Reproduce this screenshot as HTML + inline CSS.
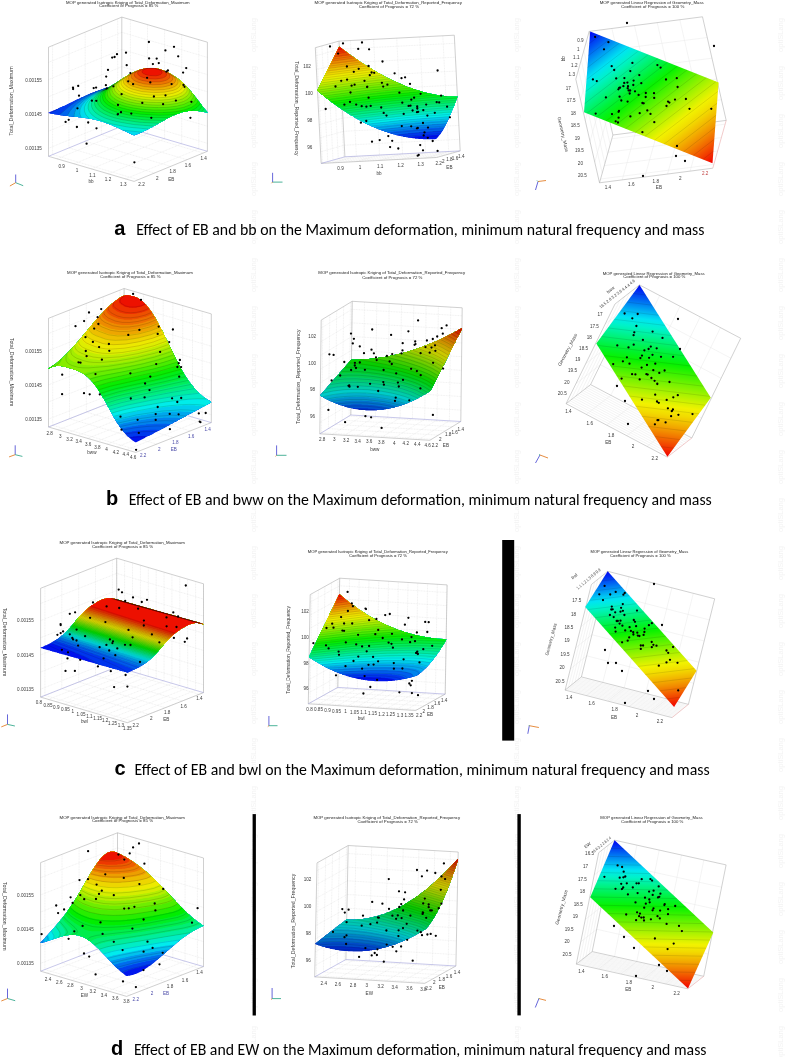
<!DOCTYPE html>
<html><head><meta charset="utf-8"><title>Effect of EB on maximum deformation, natural frequency and mass</title>
<style>html,body{margin:0;padding:0;background:#fff;}svg{display:block;}</style></head>
<body><svg width="785" height="1057" viewBox="0 0 785 1057" font-family='"Liberation Sans",Arial,sans-serif'>
<g fill="#f3f3f3" font-family='"Liberation Sans",sans-serif'><text x="256" y="35" transform="rotate(-90 256 35)" text-anchor="middle" font-size="8" textLength="34" lengthAdjust="spacingAndGlyphs">optiSLang</text><text x="256" y="83" transform="rotate(-90 256 83)" text-anchor="middle" font-size="8" textLength="34" lengthAdjust="spacingAndGlyphs">optiSLang</text><text x="256" y="131" transform="rotate(-90 256 131)" text-anchor="middle" font-size="8" textLength="34" lengthAdjust="spacingAndGlyphs">optiSLang</text><text x="256" y="179" transform="rotate(-90 256 179)" text-anchor="middle" font-size="8" textLength="34" lengthAdjust="spacingAndGlyphs">optiSLang</text><text x="256" y="227" transform="rotate(-90 256 227)" text-anchor="middle" font-size="8" textLength="34" lengthAdjust="spacingAndGlyphs">optiSLang</text><text x="256" y="275" transform="rotate(-90 256 275)" text-anchor="middle" font-size="8" textLength="34" lengthAdjust="spacingAndGlyphs">optiSLang</text><text x="256" y="323" transform="rotate(-90 256 323)" text-anchor="middle" font-size="8" textLength="34" lengthAdjust="spacingAndGlyphs">optiSLang</text><text x="256" y="371" transform="rotate(-90 256 371)" text-anchor="middle" font-size="8" textLength="34" lengthAdjust="spacingAndGlyphs">optiSLang</text><text x="256" y="419" transform="rotate(-90 256 419)" text-anchor="middle" font-size="8" textLength="34" lengthAdjust="spacingAndGlyphs">optiSLang</text><text x="256" y="467" transform="rotate(-90 256 467)" text-anchor="middle" font-size="8" textLength="34" lengthAdjust="spacingAndGlyphs">optiSLang</text><text x="256" y="515" transform="rotate(-90 256 515)" text-anchor="middle" font-size="8" textLength="34" lengthAdjust="spacingAndGlyphs">optiSLang</text><text x="256" y="563" transform="rotate(-90 256 563)" text-anchor="middle" font-size="8" textLength="34" lengthAdjust="spacingAndGlyphs">optiSLang</text><text x="256" y="611" transform="rotate(-90 256 611)" text-anchor="middle" font-size="8" textLength="34" lengthAdjust="spacingAndGlyphs">optiSLang</text><text x="256" y="659" transform="rotate(-90 256 659)" text-anchor="middle" font-size="8" textLength="34" lengthAdjust="spacingAndGlyphs">optiSLang</text><text x="256" y="707" transform="rotate(-90 256 707)" text-anchor="middle" font-size="8" textLength="34" lengthAdjust="spacingAndGlyphs">optiSLang</text><text x="256" y="755" transform="rotate(-90 256 755)" text-anchor="middle" font-size="8" textLength="34" lengthAdjust="spacingAndGlyphs">optiSLang</text><text x="256" y="803" transform="rotate(-90 256 803)" text-anchor="middle" font-size="8" textLength="34" lengthAdjust="spacingAndGlyphs">optiSLang</text><text x="256" y="851" transform="rotate(-90 256 851)" text-anchor="middle" font-size="8" textLength="34" lengthAdjust="spacingAndGlyphs">optiSLang</text><text x="256" y="899" transform="rotate(-90 256 899)" text-anchor="middle" font-size="8" textLength="34" lengthAdjust="spacingAndGlyphs">optiSLang</text><text x="256" y="947" transform="rotate(-90 256 947)" text-anchor="middle" font-size="8" textLength="34" lengthAdjust="spacingAndGlyphs">optiSLang</text><text x="256" y="995" transform="rotate(-90 256 995)" text-anchor="middle" font-size="8" textLength="34" lengthAdjust="spacingAndGlyphs">optiSLang</text><text x="256" y="1043" transform="rotate(-90 256 1043)" text-anchor="middle" font-size="8" textLength="34" lengthAdjust="spacingAndGlyphs">optiSLang</text><text x="519" y="35" transform="rotate(-90 519 35)" text-anchor="middle" font-size="8" textLength="34" lengthAdjust="spacingAndGlyphs">optiSLang</text><text x="519" y="83" transform="rotate(-90 519 83)" text-anchor="middle" font-size="8" textLength="34" lengthAdjust="spacingAndGlyphs">optiSLang</text><text x="519" y="131" transform="rotate(-90 519 131)" text-anchor="middle" font-size="8" textLength="34" lengthAdjust="spacingAndGlyphs">optiSLang</text><text x="519" y="179" transform="rotate(-90 519 179)" text-anchor="middle" font-size="8" textLength="34" lengthAdjust="spacingAndGlyphs">optiSLang</text><text x="519" y="227" transform="rotate(-90 519 227)" text-anchor="middle" font-size="8" textLength="34" lengthAdjust="spacingAndGlyphs">optiSLang</text><text x="519" y="275" transform="rotate(-90 519 275)" text-anchor="middle" font-size="8" textLength="34" lengthAdjust="spacingAndGlyphs">optiSLang</text><text x="519" y="323" transform="rotate(-90 519 323)" text-anchor="middle" font-size="8" textLength="34" lengthAdjust="spacingAndGlyphs">optiSLang</text><text x="519" y="371" transform="rotate(-90 519 371)" text-anchor="middle" font-size="8" textLength="34" lengthAdjust="spacingAndGlyphs">optiSLang</text><text x="519" y="419" transform="rotate(-90 519 419)" text-anchor="middle" font-size="8" textLength="34" lengthAdjust="spacingAndGlyphs">optiSLang</text><text x="519" y="467" transform="rotate(-90 519 467)" text-anchor="middle" font-size="8" textLength="34" lengthAdjust="spacingAndGlyphs">optiSLang</text><text x="519" y="515" transform="rotate(-90 519 515)" text-anchor="middle" font-size="8" textLength="34" lengthAdjust="spacingAndGlyphs">optiSLang</text><text x="519" y="563" transform="rotate(-90 519 563)" text-anchor="middle" font-size="8" textLength="34" lengthAdjust="spacingAndGlyphs">optiSLang</text><text x="519" y="611" transform="rotate(-90 519 611)" text-anchor="middle" font-size="8" textLength="34" lengthAdjust="spacingAndGlyphs">optiSLang</text><text x="519" y="659" transform="rotate(-90 519 659)" text-anchor="middle" font-size="8" textLength="34" lengthAdjust="spacingAndGlyphs">optiSLang</text><text x="519" y="707" transform="rotate(-90 519 707)" text-anchor="middle" font-size="8" textLength="34" lengthAdjust="spacingAndGlyphs">optiSLang</text><text x="519" y="755" transform="rotate(-90 519 755)" text-anchor="middle" font-size="8" textLength="34" lengthAdjust="spacingAndGlyphs">optiSLang</text><text x="519" y="803" transform="rotate(-90 519 803)" text-anchor="middle" font-size="8" textLength="34" lengthAdjust="spacingAndGlyphs">optiSLang</text><text x="519" y="851" transform="rotate(-90 519 851)" text-anchor="middle" font-size="8" textLength="34" lengthAdjust="spacingAndGlyphs">optiSLang</text><text x="519" y="899" transform="rotate(-90 519 899)" text-anchor="middle" font-size="8" textLength="34" lengthAdjust="spacingAndGlyphs">optiSLang</text><text x="519" y="947" transform="rotate(-90 519 947)" text-anchor="middle" font-size="8" textLength="34" lengthAdjust="spacingAndGlyphs">optiSLang</text><text x="519" y="995" transform="rotate(-90 519 995)" text-anchor="middle" font-size="8" textLength="34" lengthAdjust="spacingAndGlyphs">optiSLang</text><text x="519" y="1043" transform="rotate(-90 519 1043)" text-anchor="middle" font-size="8" textLength="34" lengthAdjust="spacingAndGlyphs">optiSLang</text><text x="783" y="35" transform="rotate(-90 783 35)" text-anchor="middle" font-size="8" textLength="34" lengthAdjust="spacingAndGlyphs">optiSLang</text><text x="783" y="83" transform="rotate(-90 783 83)" text-anchor="middle" font-size="8" textLength="34" lengthAdjust="spacingAndGlyphs">optiSLang</text><text x="783" y="131" transform="rotate(-90 783 131)" text-anchor="middle" font-size="8" textLength="34" lengthAdjust="spacingAndGlyphs">optiSLang</text><text x="783" y="179" transform="rotate(-90 783 179)" text-anchor="middle" font-size="8" textLength="34" lengthAdjust="spacingAndGlyphs">optiSLang</text><text x="783" y="227" transform="rotate(-90 783 227)" text-anchor="middle" font-size="8" textLength="34" lengthAdjust="spacingAndGlyphs">optiSLang</text><text x="783" y="275" transform="rotate(-90 783 275)" text-anchor="middle" font-size="8" textLength="34" lengthAdjust="spacingAndGlyphs">optiSLang</text><text x="783" y="323" transform="rotate(-90 783 323)" text-anchor="middle" font-size="8" textLength="34" lengthAdjust="spacingAndGlyphs">optiSLang</text><text x="783" y="371" transform="rotate(-90 783 371)" text-anchor="middle" font-size="8" textLength="34" lengthAdjust="spacingAndGlyphs">optiSLang</text><text x="783" y="419" transform="rotate(-90 783 419)" text-anchor="middle" font-size="8" textLength="34" lengthAdjust="spacingAndGlyphs">optiSLang</text><text x="783" y="467" transform="rotate(-90 783 467)" text-anchor="middle" font-size="8" textLength="34" lengthAdjust="spacingAndGlyphs">optiSLang</text><text x="783" y="515" transform="rotate(-90 783 515)" text-anchor="middle" font-size="8" textLength="34" lengthAdjust="spacingAndGlyphs">optiSLang</text><text x="783" y="563" transform="rotate(-90 783 563)" text-anchor="middle" font-size="8" textLength="34" lengthAdjust="spacingAndGlyphs">optiSLang</text><text x="783" y="611" transform="rotate(-90 783 611)" text-anchor="middle" font-size="8" textLength="34" lengthAdjust="spacingAndGlyphs">optiSLang</text><text x="783" y="659" transform="rotate(-90 783 659)" text-anchor="middle" font-size="8" textLength="34" lengthAdjust="spacingAndGlyphs">optiSLang</text><text x="783" y="707" transform="rotate(-90 783 707)" text-anchor="middle" font-size="8" textLength="34" lengthAdjust="spacingAndGlyphs">optiSLang</text><text x="783" y="755" transform="rotate(-90 783 755)" text-anchor="middle" font-size="8" textLength="34" lengthAdjust="spacingAndGlyphs">optiSLang</text><text x="783" y="803" transform="rotate(-90 783 803)" text-anchor="middle" font-size="8" textLength="34" lengthAdjust="spacingAndGlyphs">optiSLang</text><text x="783" y="851" transform="rotate(-90 783 851)" text-anchor="middle" font-size="8" textLength="34" lengthAdjust="spacingAndGlyphs">optiSLang</text><text x="783" y="899" transform="rotate(-90 783 899)" text-anchor="middle" font-size="8" textLength="34" lengthAdjust="spacingAndGlyphs">optiSLang</text><text x="783" y="947" transform="rotate(-90 783 947)" text-anchor="middle" font-size="8" textLength="34" lengthAdjust="spacingAndGlyphs">optiSLang</text><text x="783" y="995" transform="rotate(-90 783 995)" text-anchor="middle" font-size="8" textLength="34" lengthAdjust="spacingAndGlyphs">optiSLang</text><text x="783" y="1043" transform="rotate(-90 783 1043)" text-anchor="middle" font-size="8" textLength="34" lengthAdjust="spacingAndGlyphs">optiSLang</text></g>
<g><path d="M48.5 148.3L121.8 118.2L207.4 143.3M48.5 131.2L121.8 101.1L207.4 126.2M48.5 114L121.8 83.9L207.4 109M48.5 96.8L121.8 66.7L207.4 91.8M48.5 79.6L121.8 49.5L207.4 74.6M48.5 62.4L121.8 32.3L207.4 57.4M57.1 158.8L130.4 128.7L130.4 19.6M74.2 163.8L147.5 133.7L147.5 24.6M91.3 168.9L164.6 138.8L164.6 29.7M108.4 173.9L181.7 143.8L181.7 34.7M125.5 178.9L198.8 148.8L198.8 39.7M138.2 179.7L52.6 154.6L52.6 45.5M154.5 173L68.9 147.9L68.9 38.8M170.8 166.4L85.2 141.2L85.2 32.2M187 159.7L101.4 134.6L101.4 25.5M203.3 153L117.7 127.9L117.7 18.8" stroke="#dcdcdc" stroke-width="0.4" fill="none" stroke-dasharray="1 .6"/>
<path d="M48.5 156.3L48.5 47.2M121.8 126.2L121.8 17.1M207.4 151.3L207.4 42.2M48.5 47.2L121.8 17.1M121.8 17.1L207.4 42.2M48.5 156.3L134.1 181.4M134.1 181.4L207.4 151.3" stroke="#a8a8a8" stroke-width=".55" fill="none"/>
<path d="M48.5 156.3L121.8 126.2M121.8 126.2L207.4 151.3" stroke="#9a9ad8" stroke-width=".55" fill="none"/>
<g fill-rule="evenodd"><path fill="#0014ed" d="M134.5 135.3l-1.7-.3-9.3-4.7-.7 0-4.3-2.3-.7 0-1.6-1-.7 0-4-2-.7 0-2.6-1.3-1.7-.4-1-.6-.7 0-1.3-.7-1 0-2.3-1-1 0-1.4-.7-1 0-.3-.3-1 0-.3-.3-1.4 0-.3-.4-1 0-.3-.3-3.4-.3-.3-.4-4.3-.3-.4-.3-2.6 0-.4-.4-2.3 0-.3-.3-3 0-.4-.3-3 0-.3-.4-2.7 0-.3-.3-2.7 0-.3-.3-5-.4-.3-.3-1.7 0-.3-.3-4-.4-.4-.3-1.3 0-.3-.3-1.4 0-.3-.4-1.7 0-.5-.5 3.2-1.5 .7 0 1.6-1 .7 0 2.3-1.3 .7 0 6-3 .7 0 13.3-6.7 .7 0 3.6-2 .7 0 3-1.6 .7 0 4.6-2.4 .7 0 1-.6 .7 0 1-.7 .6 0 1-.7 1.7-.3 2-1 .7 0 .3-.3 .7 0 .3-.4 .7 0 2.3-1 .7 0 .3-.3 1 0 1.3-.7 1 0 1.4-.6 .6-.7 1-.3 1.7-1.4 1-.3 5.7-4 1-.3 2.6-2 1-.4 .7-.6 2.7-1.4 .6-.6 7.4-3.7 .6 0 1-.7 .7 0 2.3-1 2.4-.3 .3-.3 1 0 .3-.4 2 0 .4-.3 7.3 0 .3 .3 3.4 .4 .3 .3 1 0 1.3 .7 1.7 .3 1 .7 .7 0 1.6 1 .7 0 2 1 .7 .6 3.3 1.7 .7 .7 2 1 1 1 2.3 1.3 1.3 1.3 .4 0 1.3 1.4 .3 0 7.9 8.1 0 .4 2 2 0 .3 2.6 3 0 .3 2.4 2.7 1 1.7 1.3 1.3 1 1.7 1.3 1.3 1 1.7 5.4 6.3-1.2 .2-.3-.4-3-.3-.4-.3-1.6 0-.4-.4-2 0-.3-.3-4.3 0-.4-.3-1.3 0-.3 .3-4 0-.4 .3-2 0-.3 .4-1.3 0-.4 .3-2.3 .3-1.3 .7-2.7 .7-1 .6-.7 0-1.6 1-.7 0-7.3 3.7-.7 .7-2.3 1-.7 .6-4 2-.7 .7-1.6 .7-.7 .6-2.3 1-.7 .7-3 1.3-.7 .7-1.3 .3-.7 .7-1.3 .3-.7 .7-.6 0-3.7 2-.7 0-1 .7-.6 0-1 .6-.7 0-2 1z"/><path fill="#003ced" d="M134.5 135.3l-1.7-.3-9.3-4.7-.7 0-4.3-2.3-.7 0-1.6-1-.7 0-4-2-.7 0-2.6-1.3-1.7-.4-1-.6-.7 0-1.3-.7-1 0-2.3-1-1 0-1.4-.7-1 0-.3-.3-1 0-.3-.3-1.4 0-.3-.4-1 0-.3-.3-3.4-.3-.3-.4-4.3-.3-.4-.3-2.6 0-.4-.4-2.3 0-.3-.3-3 0-.4-.3-6-.4-.3-.3-2.7 0-.3-.3-2.3 0-.4-.4-2.3 0-.3-.3-1.7 0-.3-.3-4-.4-.4-.3-1.3 0-.3-.3-1.4 0-1.1-.5 1.5-.9 .6 0 .7-.6 3-1.4 .7-.6 1.6-.7 .7-.7 2-1 .7 0 2.3-1.3 .7 0 6.3-3.3 .7 0 6.3-3.4 .7 0 3.6-2 .7 0 6-3 .7 0 1.6-1 .7 0 1-.6 2.3-.7 1-.7 1.7-.3 1-.7 .7 0 .3-.3 .7 0 .3-.3 .7 0 .3-.4 .7 0 2.3-1 .7 0 .3-.3 1 0 1.3-.7 1 0 1.4-.6 .6-.7 1-.3 1.7-1.4 1-.3 5.7-4 1-.3 2.6-2 1-.4 .7-.6 2.7-1.4 .6-.6 7.4-3.7 .6 0 1-.7 .7 0 2.3-1 2.4-.3 .3-.3 1 0 .3-.4 2 0 .4-.3 7.3 0 .3 .3 3.4 .4 .3 .3 1 0 1.3 .7 1.7 .3 1 .7 .7 0 1.6 1 .7 0 2 1 .7 .6 3.3 1.7 .7 .7 2 1 1 1 2.3 1.3 1.3 1.3 .4 0 1.3 1.4 .3 0 7.9 8.1 0 .4 2 2 0 .3 2.6 3 0 .3 2.4 2.7 1 1.7 1.3 1.3 1 1.7 1.3 1.3 1 1.7 5.4 6.3-1.2 .2-.3-.4-3-.3-.4-.3-1.6 0-.4-.4-2 0-.3-.3-4.3 0-.4-.3-1.3 0-.3 .3-4 0-.4 .3-2 0-.3 .4-1.3 0-.4 .3-2.3 .3-1.3 .7-2.7 .7-1 .6-.7 0-1.6 1-.7 0-7.3 3.7-.7 .7-2.3 1-.7 .6-4 2-.7 .7-1.6 .7-.7 .6-2.3 1-.7 .7-3 1.3-.7 .7-1.3 .3-.7 .7-1.3 .3-.7 .7-.6 0-3.7 2-.7 0-1 .7-.6 0-1 .6-.7 0-2 1z"/><path fill="#0064ed" d="M134.5 135.3l-1.7-.3-9.3-4.7-.7 0-4.3-2.3-.7 0-1.6-1-.7 0-4-2-.7 0-2.6-1.3-1.7-.4-1-.6-.7 0-1.3-.7-1 0-2.3-1-1 0-1.4-.7-1 0-.3-.3-1 0-.3-.3-1.4 0-.3-.4-1 0-.3-.3-3.4-.3-.3-.4-4.3-.3-.4-.3-2.6 0-.4-.4-2.3 0-.3-.3-3 0-.4-.3-6-.4-.3-.3-2.7 0-.3-.3-5-.4-1.2-.5 1.9-1.5 1.3-1.6 .3 0 1.7-1.7 .3 0 .7-1 .3 0 4.4-3.7 .3 0 1.3-1.3 .4 0 2-1.7 1-.3 1-1 1.6-.7 .7-.6 2.7-1.4 .6-.6 5.4-2.7 .6 0 2.4-1.3 .6 0 1.7-1 1.7-.4 2.6-1.3 1.7-.3 .3-.4 2.7-.6 .3-.4 1 0 2.4-1 1 0 .3-.3 2-.3 .7-.7 1-.3 3.3-2.4 1-.3 5.7-4 1-.3 2.6-2 1-.4 .7-.6 2.7-1.4 .6-.6 9-4.4 .7 0 2.3-1 2.4-.3 .3-.3 1 0 .3-.4 2 0 .4-.3 7.3 0 .3 .3 3.4 .4 .3 .3 1 0 1.3 .7 1.7 .3 1 .7 .7 0 1.6 1 .7 0 2 1 .7 .6 3.3 1.7 .7 .7 2 1 1 1 2.3 1.3 1.3 1.3 .4 0 1.3 1.4 .3 0 7.9 8.1 0 .4 2 2 0 .3 2.6 3 0 .3 2.4 2.7 1 1.7 1.3 1.3 1 1.7 1.3 1.3 1 1.7 5.4 6.3-1.2 .2-.3-.4-3-.3-.4-.3-1.6 0-.4-.4-2 0-.3-.3-4.3 0-.4-.3-1.3 0-.3 .3-4 0-.4 .3-2 0-.3 .4-1.3 0-.4 .3-2.3 .3-1.3 .7-2.7 .7-1 .6-.7 0-1.6 1-.7 0-7.3 3.7-.7 .7-2.3 1-.7 .6-4 2-.7 .7-1.6 .7-.7 .6-2.3 1-.7 .7-3 1.3-.7 .7-1.3 .3-.7 .7-1.3 .3-.7 .7-.6 0-3.7 2-.7 0-1 .7-.6 0-1 .6-.7 0-2 1z"/><path fill="#008ced" d="M134.5 135.3l-1.7-.3-9.3-4.7-.7 0-4.3-2.3-.7 0-1.6-1-.7 0-4-2-.7 0-2.6-1.3-1.7-.4-1-.6-.7 0-1.3-.7-2-.3-1.3-.7-1 0-1.4-.7-1 0-.3-.3-1 0-.3-.3-1.4 0-.3-.4-1 0-.3-.3-3.4-.3-.3-.4-4.3-.3-.4-.3-2.6 0-.4-.4-2.3 0-.3-.3-3 0-.4-.3-6-.4-.3-.3-1.3 0-.2-.5 2.3-3.3 0-.7 .7-.3 0-.7 1.3-1 .4-1 5.5-5.5 .3 0 1.3-1.3 .4 0 2-1.7 .3 0 1.7-1.3 1-.4 1.6-1.3 3.7-1.7 .7-.6 .6 0 6-3 1.7-.4 1-.6 .7 0 .3-.4 .7 0 .3-.3 .7 0 .3-.3 .7 0 .3-.4 .7 0 .3-.3 .7 0 .3-.3 .7 0 2.3-1 .7-.7 2.6-1.3 1.7-1.4 1-.3 5.7-4 1-.3 2.6-2 1-.4 .7-.6 2.7-1.4 .6-.6 7.4-3.7 .6 0 1-.7 .7 0 2.3-1 2.4-.3 .3-.3 1 0 .3-.4 2 0 .4-.3 7.3 0 .3 .3 3.4 .4 .3 .3 1 0 1.3 .7 1.7 .3 1 .7 .7 0 1.6 1 .7 0 2 1 .7 .6 3.3 1.7 .7 .7 2 1 1 1 2.3 1.3 1.3 1.3 .4 0 1.3 1.4 .3 0 7.9 8.1 0 .4 2 2 0 .3 2.6 3 0 .3 2.4 2.7 1 1.7 1.3 1.3 1 1.7 1.3 1.3 1 1.7 5.4 6.3-1.2 .2-.3-.4-3-.3-.4-.3-1.6 0-.4-.4-2 0-.3-.3-4.3 0-.4-.3-1.3 0-.3 .3-4 0-.4 .3-2 0-.3 .4-1.3 0-.4 .3-2.3 .3-1.3 .7-2.7 .7-1 .6-.7 0-1.6 1-.7 0-7.3 3.7-.7 .7-2.3 1-.7 .6-4 2-.7 .7-1.6 .7-.7 .6-2.3 1-.7 .7-3 1.3-.7 .7-1.3 .3-.7 .7-1.3 .3-.7 .7-.6 0-3.7 2-.7 0-1 .7-.6 0-1 .6-.7 0-2 1z"/><path fill="#00b4ed" d="M134.5 135.3l-1.7-.3-3-1.7-.6 0-10.7-5.3-.7 0-1.6-1-.7 0-4-2-.7 0-1-.7-.6 0-1-.6-1.7-.4-1-.6-.7 0-1.3-.7-1 0-2.3-1-1 0-1.4-.7-1 0-.3-.3-1 0-.3-.3-1.4 0-.3-.4-1 0-.3-.3-1.7 0-.3-.3-1.4 0-.3-.4-2 0-.3-.3-2 0-.4-.3-2.6 0-.4-.4-2.3 0-.3-.3-3 0-.4-.3-.6 0-.2-1.2 .3-.3-.3-.4 .3-.3-.3-.3 .7-1-.4-.4 1-2 0-.6 1-2 .7-.7 .3-1 .7-.3 0-.4 1.8-2.1 4-3.7 .4 0 1-1 .3 0 3.7-2.7 9.6-5 .7 0 2-1 .7 0 1-.6 2.6-.7 2.7-1.3 .7-.7 1-.3 3.3-2.4 1-.3 5.7-4 1-.3 2.6-2 1-.4 .7-.6 2.7-1.4 .6-.6 7.4-3.7 .6 0 1-.7 .7 0 2.3-1 2.4-.3 .3-.3 1 0 .3-.4 2 0 .4-.3 7.3 0 .3 .3 1.7 0 .3 .4 2.7 .3 .3 .3 2.7 .7 1 .7 .7 0 1.6 1 1.4 .3 1.3 .7 .7 .6 1.6 .7 .7 .7 1 .3 1.7 1.3 1 .4 1 1 2.3 1.3 1.3 1.3 .4 0 1.3 1.4 .3 0 5.2 5.1 0 .4 4.7 5 0 .3 2.6 3 0 .3 2.4 2.7 1 1.7 1.3 1.3 1 1.7 1.3 1.3 1 1.7 5.4 6.3-1.2 .2-.3-.4-3-.3-.4-.3-1.6 0-.4-.4-2 0-.3-.3-4.3 0-.4-.3-1.3 0-.3 .3-4 0-.4 .3-2 0-.3 .4-1.3 0-.4 .3-2.3 .3-1.3 .7-2.7 .7-1 .6-.7 0-1.6 1-.7 0-7.3 3.7-.7 .7-2.3 1-.7 .6-4 2-.7 .7-1.6 .7-.7 .6-2.3 1-.7 .7-3 1.3-.7 .7-1.3 .3-.7 .7-1.3 .3-.7 .7-.6 0-3.7 2-.7 0-1 .7-.6 0-1 .6-.7 0-2 1z"/><path fill="#00dbed" d="M134.5 135.3l-1.7-.3-3-1.7-.6 0-10.7-5.3-.7 0-1.6-1-.7 0-4-2-.7 0-1-.7-.6 0-1-.6-1.7-.4-1-.6-.7 0-1.3-.7-1 0-2.3-1-1 0-1.4-.7-1 0-.3-.3-1 0-.3-.3-1.4 0-.3-.4-1 0-.3-.3-1.7 0-.3-.3-1.4 0-.3-.4-2 0-.3-.3-2 0-.4-.3-2.6 0-.2-.9-.7-.6 0-.7-.3-.3 0-1.7-.3-.3 0-3 .3-.4 .3-2 2.4-4 3.5-3.8 .3 0 3.3-3 .4 0 1.6-1.3 1-.4 1.7-1.3 6.7-3.3 2.3-.7 1-.7 .7 0 3.3-1.6 .7-.7 1-.3 3.3-2.4 1-.3 5.7-4 1-.3 2.6-2 1-.4 .7-.6 2.7-1.4 .6-.6 7.4-3.7 .6 0 1-.7 .7 0 2.3-1 2.4-.3 .3-.3 1 0 .3-.4 2 0 .4-.3 7.3 0 .3 .3 3.4 .4 .3 .3 1 0 1.3 .7 1.7 .3 3.3 1.7 .7 0 2 1 .7 .6 1.6 .7 .7 .7 1 .3 1.7 1.3 1 .4 1 1 2.3 1.3 1.3 1.3 .4 0 1.3 1.4 .3 0 5.2 5.1 0 .4 4.7 5 0 .3 2.6 3 0 .3 2.4 2.7 1 1.7 1.3 1.3 1 1.7 1.3 1.3 1 1.7 5.4 6.3-1.2 .2-.3-.4-3-.3-.4-.3-1.6 0-.4-.4-2 0-.3-.3-4.3 0-.4-.3-1.3 0-.3 .3-4 0-.4 .3-2 0-.3 .4-1.3 0-.4 .3-2.3 .3-1.3 .7-2.7 .7-1 .6-.7 0-1.6 1-.7 0-7.3 3.7-.7 .7-2.3 1-.7 .6-4 2-.7 .7-1.6 .7-.7 .6-2.3 1-.7 .7-3 1.3-.7 .7-1.3 .3-.7 .7-1.3 .3-.7 .7-.6 0-3.7 2-.7 0-1 .7-.6 0-1 .6-.7 0-2 1z"/><path fill="#00edd8" d="M141.8 132.3l-.3-.3-2.7 0-.3-.3-3.3 0-.4-.4-2.6 0-.4-.3-2.6 0-.4-.3-2 0-.3-.4-2 0-.3-.3-1 0-.4 .3-4.3-2.3-.7 0-1.6-1-.7 0-1.7-1-.6 0-1.7-1-.7 0-2.6-1.3-1.7-.4-1-.6-.7 0-1.3-.7-1 0-2.3-1-1 0-1.4-.7-2.3-.3-.3-.3-1.4 0-.3-.4-1 0-.3-.3-1.7 0-.3-.3-1 0-.2-.2 .3-.3-1.1-.5-.2-.5-2-2-1-1.7 0-.7-.7-1.3 0-1-.3-.3 .3-.4-.3-.3 0-1 .3-.3 0-1.7 .7-1 0-.7 3-4.6 .5-.2 .2-.5 .5-.2 .1-.5 .5-.1 2-2 1.4-.7 1-1 .3 0 1.7-1.3 1-.4 .6-.6 10.7-5 .7-.7 1-.3 3.3-2.4 1-.3 5.7-4 1-.3 2.6-2 1-.4 .7-.6 2.7-1.4 .6-.6 7.4-3.7 .6 0 1-.7 .7 0 2.3-1 2.4-.3 .3-.3 1 0 .3-.4 2 0 .4-.3 7.3 0 .3 .3 1.7 0 .3 .4 2.7 .3 .3 .3 2.7 .7 1 .7 .7 0 1.6 1 1.4 .3 1.3 .7 .7 .6 1.6 .7 .7 .7 1 .3 1.7 1.3 1 .4 1 1 2.3 1.3 1.3 1.3 .4 0 1.3 1.4 .3 0 5.2 5.1 0 .4 4.7 5 0 .3 2.6 3 0 .3 2.4 2.7 1 1.7 1.3 1.3 1 1.7 1.3 1.3 1 1.7 5.4 6.3-1.2 .2-.3-.4-3-.3-.4-.3-1.6 0-.4-.4-2 0-.3-.3-4.3 0-.4-.3-1.3 0-.3 .3-4 0-.4 .3-2 0-.3 .4-1.3 0-.4 .3-2.3 .3-1.3 .7-2.7 .7-1 .6-.7 0-1.6 1-.7 0-7.3 3.7-.7 .7-2.3 1-.7 .6-4 2-.7 .7-1.6 .7-.7 .6-2.3 1-.7 .7-10.7 5.3z"/><path fill="#00edb2" d="M148.2 129.3l-.7-.6-.3 .3-.4-.3-4.3 0-.3-.4-7.4-.3-.3-.3-5-.4-.3-.3-2 0-.4-.3-2 0-.3-.4-1.3 0-.4-.3-1.6 0-.4-.3-1.3 0-.3-.4-3-.3-.4-.3-1 0-.3-.4-2.3-.3-.4-.3-1 0-.3-.4-1 0-.3-.3-.7 0-2.3-1-1 0-1-.7-1.7-.3-1.7-1-.6 0-2-1-.7-.7-1.3-.3-1-1-2-1-3.2-3.2-.7-1.3-.6-.7 0-.6-.7-1.4 0-4 .3-.3 .4-1.7 2.3-3.6 5.2-4.9 .3 0 2.7-2 1-.3 .6-.7 7.7-3.6 .7-.7 2.6-1.3 8.4-5.7 1-.3 2.6-2 1-.4 .7-.6 2.7-1.4 .6-.6 7.4-3.7 .6 0 1-.7 .7 0 2.3-1 2.4-.3 .3-.3 1 0 .3-.4 2 0 .4-.3 7.3 0 .3 .3 1.7 0 .3 .4 2.7 .3 .3 .3 2.7 .7 1 .7 .7 0 1.6 1 1.4 .3 1.3 .7 .7 .6 1.6 .7 .7 .7 1 .3 1.7 1.3 1 .4 1 1 2.3 1.3 1.3 1.3 .4 0 1.3 1.4 .3 0 5.2 5.1 0 .4 4.7 5 0 .3 2.6 3 0 .3 2.4 2.7 1 1.7 1.3 1.3 1 1.7 1.3 1.3 1 1.7 5.4 6.3-1.2 .2-.3-.4-3-.3-.4-.3-1.6 0-.4-.4-2 0-.3-.3-4.3 0-.4-.3-1.3 0-.3 .3-4 0-.4 .3-2 0-.3 .4-1.3 0-.4 .3-2.3 .3-1.3 .7-2.7 .7-1 .6-.7 0-1.6 1-.7 0-7.3 3.7-.7 .7-2.3 1-.7 .6-1.7 .7-.6 .7-1.7 .6-.7 .7-4.6 2.3-.7 .7-3 1.3-1.3 1z"/><path fill="#00ed8c" d="M154.2 126l-3.4 0-.3-.3-.3 .3-.4-.3-.3 .3-.3-.3-4.4 0-.3-.4-.3 .4-.4-.4-7-.3-.3-.3-2 0-.3-.4-2.7 0-.3-.3-1.7 0-.3-.3-4.4-.4-.3-.3-1.3 0-.4-.3-3-.4-.3-.3-1 0-.3-.3-3-.4-1-.6-1.4 0-1.3-.7-1 0-2.3-1-2.7-.7-.7-.6-.6 0-1.7-1-.7 0-1.3-.7-.7-.7-1.6-.6-1-1-1.4-.7-1.8-1.8 0-.4-.7-.3 0-.3-1.3-1.7-.3-2-.4-.3 0-3.4 .4-.3 0-1 2.3-4 4.8-4.5 .4 0 2.6-2 1.7-.7 .7-.6 4.3-2 .7-.7 2.6-1.3 8.4-5.7 1-.3 2.6-2 1-.4 .7-.6 2.7-1.4 .6-.6 7.4-3.7 .6 0 1-.7 .7 0 2.3-1 2.4-.3 .3-.3 1 0 .3-.4 2 0 .4-.3 7.3 0 .3 .3 3.4 .4 .3 .3 1 0 1.3 .7 1.7 .3 1 .7 .7 0 1.6 1 1.4 .3 1.3 .7 .7 .6 1.6 .7 .7 .7 1 .3 .7 .7 2 1 1 1 2.3 1.3 1.3 1.3 .4 0 1.3 1.4 .3 0 5.2 5.1 0 .4 4.7 5 0 .3 2.6 3 0 .3 2.4 2.7 1 1.7 1.3 1.3 1 1.7 1.3 1.3 1 1.7 5.4 6.3-1.2 .2-.3-.4-3-.3-.4-.3-1.6 0-.4-.4-2 0-.3-.3-4.3 0-.4-.3-1.3 0-.3 .3-4 0-.4 .3-2 0-.3 .4-1.3 0-.4 .3-2.3 .3-1.3 .7-2.7 .7-1 .6-.7 0-1.6 1-.7 0-7.3 3.7-.7 .7-2.3 1-.7 .6-1.7 .7-.6 .7-1.7 .6-.7 .7-1.6 .7-.7 .6-1.3 .7z"/><path fill="#00ed67" d="M158.8 123.3l-1 0-.3-.3-2.3 0-.4 .3-.3-.3-11-.3-.3-.4-3.4 0-.3-.3-2.7 0-.3-.3-5-.4-.3-.3-1.7 0-.3-.3-3.7-.4-.3-.3-1 0-.4-.3-3.3-.4-.3-.3-1 0-.4-.3-1 0-.3-.4-2.3-.3-1.4-.7-1 0-.3-.3-2.7-.7-1-.6-1 0-1.6-1-.7 0-1.3-1-.7 0-.7-.7-.6 0-.7-.7-2.3-1.3-1.5-1.5 0-.3-.7-.4 0-.3-.7-.3-1.6-3 0-1-.4-.4 0-3 .7-1 0-.6 1-2 1-1 0-.4 4.5-4.1 2.3-1.4 .7-.6 1-.4 .7-.6 2.3-1 .7-.7 2.6-1.3 8.4-5.7 1-.3 2.6-2 1-.4 .7-.6 2.7-1.4 .6-.6 7.4-3.7 .6 0 1-.7 .7 0 2.3-1 2.4-.3 .3-.3 1 0 .3-.4 2 0 .4-.3 7.3 0 .3 .3 3.4 .4 .3 .3 1 0 1.3 .7 1.7 .3 1 .7 .7 0 1.6 1 1.4 .3 1.3 .7 .7 .6 1.6 .7 .7 .7 1 .3 .7 .7 2 1 1 1 2.3 1.3 1.3 1.3 .4 0 1.3 1.4 .3 0 5.2 5.1 0 .4 4.7 5 0 .3 2.6 3 1 1.7 1.4 1.3 1 1.7 1.3 1.3 1 1.7 1.3 1.3 1 1.7 1.4 1.3 0 .3 1.3 1.4 0 .3 1.7 2-.9 .8-1 0-.3-.3-3.3-.3-.4-.4-2 0-.3-.3-4.3 0-.4-.3-1.3 0-.3 .3-4 0-.4 .3-3.6 .4-.4 .3-2.3 .3-1.3 .7-2.7 .7-3.3 1.6-.7 0-7.3 3.7-.7 .7-2.3 1-.7 .6-1.7 .7-.6 .7-1.4 .6z"/><path fill="#00ed42" d="M163.5 120.7l-.3-.4-12.4 0-.3-.3-.3 .3-.4-.3-8.6-.3-.4-.4-2.6 0-.4-.3-2 0-.3-.3-2.3 0-.4-.4-2 0-.3-.3-1.3 0-.4-.3-2 0-.3-.4-3-.3-.3-.3-1 0-.4-.4-1 0-.3-.3-1.3 0-.4-.3-2-.4-2.3-1-1 0-1-.6-1.7-.4-.3-.3-1 0-.7-.7-1.3-.3-1.3-.7-.7-.6-.7 0-1.6-1-4.2-3.9 0-.3-1.3-1.7 0-1-.4-.3 0-1-.3-.3 .3-.4-.3-.3 .3-.3 0-1.4 .4-.3 .3-1.7 1-1.6 1-1 0-.4 3.8-3.5 .4 0 1.6-1.3 1-.3 .7-.7 1-.3 .7-.7 1-.3 .6-.7 1-.3 1.7-1.4 1-.3 5.7-4 1-.3 2.6-2 1-.4 .7-.6 2.7-1.4 .6-.6 7.4-3.7 .6 0 1-.7 .7 0 2.3-1 2.4-.3 .3-.3 1 0 .3-.4 2 0 .4-.3 7.3 0 .3 .3 3.4 .4 .3 .3 1 0 1.3 .7 1.7 .3 1 .7 .7 0 1.6 1 1.4 .3 1.3 .7 .7 .6 1.6 .7 .7 .7 1 .3 .7 .7 2 1 1 1 2.3 1.3 1.3 1.3 .4 0 1.3 1.4 .3 0 5.2 5.1 0 .4 4.7 5 0 .3 2.6 3 1 1.7 1.4 1.3 1 1.7 1.3 1.3 1 1.7 1.3 1.3 1 1.7 2 2.3-.6 1.3-1.4 1.4-.1 .5-1 0-.4-.4-2 0-.3-.3-4.3 0-.4-.3-1.3 0-.3 .3-4 0-.4 .3-2 0-.3 .4-1.3 0-.4 .3-2.3 .3-1.3 .7-2.7 .7-1 .6-.7 0-1.6 1-.7 0-7.3 3.7-.7 .7-2 1z"/><path fill="#00ed1e" d="M169.2 117.7l-.7 0-.3-.4-.4 .4-16.6 0-.4-.4-.3 .4-.3-.4-4.7 0-.3-.3-2.7 0-.3-.3-3.4 0-.3-.4-2.3 0-.4-.3-2.3 0-.3-.3-1.4 0-.3-.4-3.7-.3-.3-.3-1.3 0-.4-.4-1 0-.3-.3-1.3 0-.4-.3-3.6-.7-1.4-.7-1 0-.3-.3-1.7-.3-1-.7-1.6-.3-1-.7-.7 0-6.3-3.7-3.5-3.8 0-.7-.7-1 0-1.6-.3-.4 .3-.3 0-1.7 1-2.3 .7-.7 .6-1.3 3.9-3.5 .3 0 2.7-2 1-.3 .6-.7 1-.3 1.7-1.4 1-.3 9.3-6.3 1-.4 .7-.6 2.7-1.4 .6-.6 7.4-3.7 .6 0 1-.7 .7 0 2.3-1 2.4-.3 .3-.3 1 0 .3-.4 2 0 .4-.3 7.3 0 .3 .3 1.7 0 .3 .4 2.7 .3 1.3 .7 1.7 .3 1 .7 .7 0 1.6 1 .7 0 2 1 .7 .6 1.6 .7 3.4 2.3 1 .4 1 1 2.3 1.3 1.3 1.3 .4 0 1.3 1.4 .3 0 5.2 5.1 0 .4 4.7 5 0 .3 1.3 1.3 0 .4 1.3 1.3 1 1.7 1.4 1.3 1 1.7 4.6 5.6-1.6 2.7-3.2 2.5-3.3 0-.4-.3-1.3 0-.3 .3-4 0-.4 .3-3.6 .4-.4 .3-2.3 .3-1.3 .7-2.7 .7-3.3 1.6-.7 0-4.3 2.4z"/><path fill="#05ed00" d="M160.2 115.3l-.7-.3-9.7 0-.3-.3-.3 .3-.4-.3-3.3 0-.3-.4-6.7-.3-.3-.3-2 0-.4-.4-2 0-.3-.3-1.3 0-.4-.3-.3 .3-.3-.3-1.4 0-.3-.4-1.3 0-.4-.3-1.3 0-.3-.3-2.4-.4-.3-.3-1 0-.3-.3-1 0-1.4-.7-1 0-.3-.3-2.7-.7-3.3-1.7-.7 0-.6-.6-1.4-.4-1.6-1.3-1.4-.7-3.1-3.1 0-.4-.7-.6-.3-2-.4-.4 0-2 .7-1.3 0-.7 1.7-2.6 4.1-3.9 .4 0 1.6-1.3 1-.3 1.7-1.4 1-.3 5.7-4 1-.3 2.6-2 1-.4 .7-.6 2.7-1.4 .6-.6 7.4-3.7 .6 0 1-.7 .7 0 2.3-1 2.4-.3 .3-.3 1 0 .3-.4 2 0 .4-.3 7.3 0 .3 .3 3.4 .4 .3 .3 1 0 1.3 .7 1.7 .3 1 .7 .7 0 1.6 1 1.4 .3 1.3 .7 .7 .6 1.6 .7 .7 .7 1 .3 .7 .7 2 1 1 1 2.3 1.3 1.3 1.3 .4 0 1.3 1.4 .3 0 5.2 5.1 0 .4 4.7 5 0 .3 1.3 1.3 0 .4 1.3 1.3 1 1.7 4.7 5.6 0 1-1 1.7-2.2 2.2-1.3 .6-1 1-.7 0-2.6 1.7-3 0-.4 .3-3.6 .4-.4 .3-2.3 .3-1.3 .7-2.7 .7-1 .6-2.3 0-.4 .4-.6-.4-.4 .4-3.3 0-.3 .3-.4-.3-.3 .3-8 0-.3 .3z"/><path fill="#28ed00" d="M162.8 112.7l-6.3 0-.3-.4-.7 .4-.7-.4-.6 .4-.4-.4-5 0-.3-.3-.7 .3-.3-.3-3 0-.3-.3-3.4 0-.3-.4-2.3 0-.4-.3-2 0-.3-.3-1.7 0-.3-.4-1.7 0-.3-.3-1.3 0-.4-.3-3-.4-.3-.3-3.7-.7-.3-.3-2.7-.7-.3-.3-1 0-1.3-.7-.7 0-.7-.6-.6 0-2.7-1.4-.7-.6-.6 0-.7-.7-1.3-.7-2.9-2.8-1.3-2.7 0-1.3-.3-.3 .3-.4 0-1.6 2-3.7 .5-.2 .7-1 2.3-2 .3 0 2.7-2 1-.3 9.3-6.3 4.4-2.4 .6-.6 7.4-3.7 .6 0 1-.7 .7 0 2.3-1 2.4-.3 .3-.3 1 0 .3-.4 2 0 .4-.3 7.3 0 .3 .3 3.4 .4 .3 .3 1 0 1.3 .7 1.7 .3 1 .7 .7 0 1.6 1 1.4 .3 1.3 .7 .7 .6 1.6 .7 .7 .7 1 .3 .7 .7 2 1 1 1 2.3 1.3 1.3 1.3 .4 0 1.3 1.4 .3 0 7.9 8.1 0 .4 2 2 0 .3 2.6 3 0 .3 2.4 2.7 0 .3 1.3 1.7 0 .7-1.3 2.3-2.2 2.2-2 1-.7 .6-2.3 1-.7 0-1 .7-.6 0-1.4 .7-1.3 0-1 .6-1 0-.3 .4-.4-.4-.3 .4-2.7 .3-.3 .3-.3-.3-.4 .3-1 0-.3 .4-.3-.4-.4 .4-2 0-.3 .3-.3-.3-.4 .3-2 0-.3 .3-.3-.3-.7 0-.3 .3-6 0-.4 .4z"/><path fill="#4aed00" d="M166.5 110l-.3-.3-.7 0-.3 .3-12.7 0-.3-.3-.4 .3-.3-.3-.3 .3-.4-.3-4.6 0-.4-.4-3.3 0-.3-.3-2.4 0-.3-.3-2 0-.3-.4-1.7 0-.3-.3-2 0-.4-.3-1.3 0-.3-.4-1 0-.4-.3-2.6-.3-1.4-.7-.3 .3-1-.6-1.3 0-.4-.4-1.6-.3-1-.7-1.7-.3-1-.7-.7 0-5.3-3-3.2-3.1-.6-1.4 0-.6-.4-.4 0-3.3 1.4-2.7 4.8-4.5 1-.3 5.7-4 1-.3 2.6-2 1-.4 .7-.6 2.7-1.4 .6-.6 7.4-3.7 .6 0 1-.7 .7 0 2.3-1 2.4-.3 .3-.3 1 0 .3-.4 2 0 .4-.3 7.3 0 .3 .3 1.7 0 .3 .4 2.7 .3 1.3 .7 1.7 .3 1 .7 .7 0 1.6 1 .7 0 2 1 .7 .6 3.3 1.7 .7 .7 2 1 1 1 2.3 1.3 1.3 1.3 .4 0 1.3 1.4 .3 0 5.2 5.1 0 .4 4.7 5 0 .3 1.3 1.3 0 .4 1.3 1.3 0 .3 1.7 2-.7 2.4-2.8 3.1-2 1-.7 .7-1.3 .3-1.7 1-2 .4-2 1-1.3 0-1.3 .6-.7-.3-1.3 .7-.4-.4-.3 .4-1.3 0-.4 .3-4.6 .3-.4 .4-.3-.4-.7 .4-3 0-.3 .3z"/><path fill="#6bed00" d="M160.2 107.7l-2 0-.4-.4-2.6 0-.4 .4-.3-.4-5.3 0-.4-.3-.3 .3-.3-.3-3.7 0-.3-.3-5.4-.4-.3-.3-1.3 0-.4-.3-2 0-.3-.4-1.3 0-.4-.3-3-.3-.3-.4-3.7-.6-.3-.4-1 0-2-1-1 0-5.7-2.6-.6-.7-1-.3-2.2-1.9 0-.3-1.7-1.7-.3-1.3-.3-.3 0-3.4 .3-.3 0-.7 1-1.6 3.2-3.2 .3 0 5.7-4 1-.3 2.6-2 1-.4 .7-.6 2.7-1.4 .6-.6 9-4.4 .7 0 2.3-1 2.4-.3 .3-.3 1 0 .3-.4 2 0 .4-.3 7.3 0 .3 .3 3.4 .4 .3 .3 1 0 1.3 .7 1.7 .3 1 .7 .7 0 1.6 1 1.4 .3 1.3 .7 .7 .6 1.6 .7 .7 .7 1 .3 .7 .7 2 1 1 1 2.3 1.3 1.3 1.3 .4 0 1.3 1.4 .3 0 5.2 5.1 0 .4 2.7 2.6 0 .4 3.3 3.6 0 .4 .7 .6 0 2-1 2-2.9 2.9-3.3 1.6-.7 0-.6 .7-1 0-2 1-3 .3-1.4 .7-1.3 0-.3 .3-.4-.3-.3 .3-1.7 0-.3 .4-2 0-.3 .3-.4-.3-.3 .3-2.3 0-.4 .3-.6-.3-.4 .3-6.3 0-.3 .4z"/><path fill="#8bed00" d="M164.2 105l-12.4 0-.3-.3-.3 .3-.4-.3-.3 .3-.3-.3-3 0-.4-.4-4 0-.3-.3-1.7 0-.3-.3-4.3-.4-.4-.3-1.3 0-.3-.3-1.4 0-.3-.4-1 0-.3-.3-2.7-.3-1.3-.7-1.4 0-2.6-1.3-1 0-.7-.7-1 0-.7-.7-2.3-1-.7-.6-1.3-.7-2.8-2.8-.4-.7 0-.7-.6-1.3 .3-.3-.3-.4 .3-.3 0-1.3 .7-1 0-.7 1-1 0-.3 3.5-3.2 .3 0 2.7-2 1-.3 2.6-2 4.4-2.4 .6-.6 7.4-3.7 .6 0 1-.7 .7 0 2.3-1 2.4-.3 .3-.3 1 0 .3-.4 2 0 .4-.3 7.3 0 .3 .3 1.7 0 .3 .4 2.7 .3 1.3 .7 1.7 .3 1 .7 .7 0 1.6 1 .7 0 2 1 .7 .6 3.3 1.7 .7 .7 2 1 1 1 2.3 1.3 5 4.3 3.5 3.5 0 .4 4.7 5 0 2.3-.4 .3 0 .7-1.6 2 0 .3-2.9 2.2-3.3 1.7-1.3 0-2 1-1.4 0-.3 .3-1 0-1.3 .7-.4-.4-.3 .4-3 .3-.3 .3-.4-.3-.3 .3-1.7 0-.3 .4-.3-.4-.4 .4-4.3 0-.3 .3z"/><path fill="#abed00" d="M161.5 102.7l-1 0-.3-.4-2.7 0-.3 .4-3.4-.4-.3 .4-.3-.4-5 0-.4-.3-3 0-.3-.3-2.3 0-.4-.4-2 0-.3-.3-3.7-.3-.3-.4-3-.3-.3-.3-1 0-1.4-.7-3.6-.7-1-.6-1.7-.4-.7-.6-.6 0-2-1-.7-.7-1-.3-3.2-2.9 0-.3-.6-.7-.4-2-.3-.3 .3-2.3 1-2 3.9-3.5 2-1 .6-.7 .4 0 1.6-1.3 1-.4 .7-.6 1-.4 .7-.6 1-.4 .6-.6 9-4.4 .7 0 2.3-1 2.4-.3 .3-.3 1 0 .3-.4 2 0 .4-.3 7.3 0 .3 .3 3.4 .4 .3 .3 1 0 1.3 .7 1.7 .3 1 .7 .7 0 1.6 1 1.4 .3 1.3 .7 .7 .6 1.6 .7 .7 .7 1 .3 .7 .7 2 1 1 1 2.3 1.3 1.3 1.3 .4 0 1.3 1.4 .3 0 7.5 7.8 0 3.7-.6 .6-.4 1-1.5 1.5-.3 0-2 1.7-1.3 .3-.7 .7-1 0-2 1-1 0-.3 .3-1 0-.4 .4-1 0-.3 .3-1.3 0-.4 .3-1 0-.3 .4-.3-.4-.4 .4-1.3 0-.3 .3-.4-.3-.3 .3-2 0-.3 .3-.7-.3-.3 .3-4.4 0-.3 .4z"/><path fill="#caed00" d="M164.8 100l-.3-.3-.7 0-.3 .3-12.7 0-.3-.3-.3 .3-.4-.3-4 0-.3-.4-4.7-.3-.3-.3-3.3-.4-.4-.3-1.6 0-.4-.3-1 0-.3-.4-3.7-.6-2.3-1-1.7-.4-1.6-1-.7 0-1.3-1-1.7-.6-1.3-1.4-.4 0-.1-.5-1-.6-.4-1-.6-.7 0-.7-.4-.3 0-2.3 .4-.4 .3-1.3 2.8-3.2 1.4-.6 2.6-2 4.4-2.4 .6-.6 9-4.4 .7 0 2.3-1 2.4-.3 .3-.3 1 0 .3-.4 2 0 .4-.3 7.3 0 .3 .3 1.7 0 .3 .4 2.7 .3 1.3 .7 1.7 .3 1 .7 .7 0 1.6 1 .7 0 2 1 .7 .6 1.6 .7 .7 .7 1 .3 1.7 1.3 1 .4 1 1 2.3 1.3 1.3 1.3 .4 0 1.3 1.4 .3 0 4.9 4.8 .3 1.3 .3 .4 0 2.3-1.3 2.7-3.8 2.8-1.4 .3-2.6 1.4-1.4 0-.3 .3-1 0-.3 .3-1 0-.4 .4-1.3 0-.3 .3-1.7 0-.3 .3-1.7 0-.3 .4-.4-.4-.3 .4-2.3 0-.4 .3z"/><path fill="#e9ed00" d="M161.2 97.7l-.7 0-.3-.4-.7 0-.3 .4-4.7 0-.3-.4-.7 .4-.3-.4-.4 .4-.3-.4-4.7 0-.3-.3-2.3 0-.4-.3-3 0-.3-.4-1.3 0-.4-.3-.3 .3-.3-.3-1 0-.4-.3-3-.4-1.3-.6-3.7-.7-2.6-1.3-.7 0-1.3-.7-.7-.7-.7 0-1.6-1.3-.4 0-1.8-1.8-1.3-2.4 0-2.3 .6-1 0-.7 1-1 0-.3 .5-.2 .2-.5 1.8-1.5 2-1 .7-.6 1-.4 .7-.6 1-.4 .6-.6 9-4.4 .7 0 2.3-1 2.4-.3 .3-.3 1 0 .3-.4 2 0 .4-.3 7.3 0 .3 .3 1.7 0 .3 .4 2.7 .3 1.3 .7 1.7 .3 1 .7 .7 0 1.6 1 .7 0 2 1 .7 .6 1.6 .7 .7 .7 1 .3 1.7 1.3 1 .4 1 1 2.3 1.3 1.3 1.3 .4 0 1.3 1.4 .3 0 1.9 1.8 1.3 2.3 0 3-.3 .4 0 .6-2.2 2.5-.3 0-1.7 1.4-.7 0-1.6 1-.7 0-.3 .3-.7 0-2.3 1-1.7 0-.3 .3-1.4 0-.3 .4-1.3 0-.4 .3-.3-.3-.3 .3-1.7 0-.3 .3-.7-.3-.3 .3-3.7 0-.3 .4z"/><path fill="#ede000" d="M163.5 95l-.3-.3-.7 0-.3 .3-12 0-.4-.3-.6 .3-.4-.3-2.6 0-.4-.4-4.6-.3-.4-.3-1.3 0-.3-.4-1.4 0-.3-.3-1 0-.3-.3-1.4 0-1.3-.7-1 0-.3-.3-1.7-.4-1-.6-1.7-.4-.6-.6-1.4-.4-2-1.6-.3 0-1.2-1.2-.6-1.3-.7-.7 0-2.7 .3-.3 .4-1.3 2.8-2.9 2-1 .7-.6 1-.4 .6-.6 9-4.4 .7 0 2.3-1 2.4-.3 .3-.3 1 0 .3-.4 2 0 .4-.3 7.3 0 .3 .3 1.7 0 .3 .4 2.7 .3 1.3 .7 1.7 .3 1 .7 .7 0 1.6 1 .7 0 2 1 .7 .6 1.6 .7 .7 .7 1 .3 1.7 1.3 1 .4 1 1 2.3 1.3 3.5 3.5 .7 1.3 0 1 .3 .4 0 .6-.3 .4 .3 .3-.3 .3-.4 1.4-3.1 2.8-2.7 1.3-1 0-1 .7-.7 0-1.3 .7-.7-.4-1.3 .7-1 0-.3 .3-.4-.3-.3 .3-1.3 0-.4 .4-.3-.4-.3 .4-2.4 0-.3 .3z"/><path fill="#edca00" d="M159.5 92.7l-4.7 0-.3-.4-.3 .4-.7-.4-.7 .4-.3-.4-4.7 0-.3-.3-2.7 0-.3-.3-2 0-.3-.4-1 0-.4-.3-.3 .3-.3-.3-1 0-.4-.3-1 0-.3-.4-1.3 0-2.4-1-2-.3-5.3-2.7-2.5-2.5-.7-1.3 0-2.3 1-2 .5-.2 .2-.5 2.2-1.8 10.6-5.4 .7 0 2.3-1 2.4-.3 .3-.3 1 0 .3-.4 2 0 .4-.3 7.3 0 .3 .3 1.7 0 .3 .4 2.7 .3 1.3 .7 1.7 .3 1 .7 .7 0 1.6 1 .7 0 2 1 .7 .6 1.6 .7 .7 .7 1 .3 .7 .7 3.3 2 2.2 1.8 0 .3 1.6 2 0 1 .4 .4 0 1.3-.4 .3 0 .7-.6 .7 0 .3-2.9 2.5-1.3 .3-.7 .7-1 0-1 .7-1.3 0-1.3 .6-3.4 .4-.3 .3-1.7 0-.3 .3-.7-.3-.3 .3-3.7 0-.3 .4z"/><path fill="#edb000" d="M161.5 90l-.7-.3-.3 .3-9 0-.3-.3-.4 .3-.3-.3-3.7 0-.3-.4-2.3 0-.4-.3-1.3 0-.3-.3-1.7 0-.3-.4-3.7-.6-1.3-.7-1 0-1.7-1-.7 0-1.3-.7-.7-.6-.6 0-1-1-.4 0-.8-.9-1.3-2.3 0-1.7 .6-1 0-.6 1.9-1.9 .3 0 1.7-1.3 6-3 .6 0 1-.7 .7 0 2.3-1 2.4-.3 .3-.3 1 0 .3-.4 2 0 .4-.3 7.3 0 .3 .3 1.7 0 .3 .4 2.7 .3 1.3 .7 1.7 .3 1 .7 .7 0 1.6 1 .7 0 2 1 .7 .6 1.6 .7 .7 .7 1 .3 3.8 2.8 0 .4 1.7 2 0 1 .3 .3 0 1-.3 .3-.3 1.4-1.5 1.5-.4 0-1.6 1.3-.7 0-1.7 1-1.3 0-.7 .7-1.6 0-.4 .3-1 0-.3 .3-.3-.3-.4 .3-1.3 0-.3 .4-2.4 0-.3 .3z"/><path fill="#ed9300" d="M161.8 87.3l-.3-.3-.7 .3-11 0-.3-.3-.7 .3-.3-.3-2.3 0-.4-.3-1.6 0-.4-.4-1.3 0-.3-.3-1.4 0-.3-.3-2.3-.4-2-1-2-.3-.7-.7-.7 0-1.6-1-2.5-2.5-.4-.6 0-2.4 1-1.6 2.2-1.9 4.7-2.3 .6 0 1-.7 .7 0 2.3-1 2.4-.3 .3-.3 1 0 .3-.4 2 0 .4-.3 7.3 0 .3 .3 1.7 0 .3 .4 2.7 .3 1.3 .7 1.7 .3 1 .7 .7 0 1.6 1 .7 0 2 1 .7 .6 1.6 .7 .7 .7 1.3 .6 1.9 1.9 1 2 0 1.6-.4 .4 0 .6-2.1 2.2-4.7 2-1 0-1.3 .7-.4-.4-.3 .4-3.3 .3-.4 .3z"/><path fill="#ed7500" d="M160.5 84.7l-.7-.4-.3 .4-10 0-.3-.4-4.7-.3-.3-.3-1.4 0-.3-.4-3.7-.6-4.6-2-1.4-1.4-.3 0-1.2-1.5-.3-2 .3-.3 .4-1.3 1.1-1.2 3.4-2 .6 0 1-.7 .7 0 2.3-1 2.4-.3 .3-.3 1 0 .3-.4 2 0 .4-.3 7.3 0 .3 .3 1.7 0 .3 .4 2.7 .3 1.3 .7 1.7 .3 1 .7 .7 0 1.6 1 .7 0 2 1 .7 .6 1.3 .7 1.8 1.8 .7 1.4 0 2-.3 .6-1.9 1.9-.3 0-.7 .6-.6 0-.7 .7-1 0-.3 .3-.7 0-.3 .4-1.4 0-.3 .3-3.7 .3-.3 .4z"/><path fill="#ed5500" d="M158.8 82l-.3-.3-.7 0-.3 .3-6.7 0-.3-.3-3.3 0-.4-.4-2.6-.3-.4-.3-1.3 0-2.3-1-1 0-1.4-.7-.6-.7-.7 0-2.2-2.1-.3-.7 0-1.3 .7-1.4 1.1-1.1 2.4-1.4 .6 0 2-1 2.4-.3 .3-.3 1 0 .3-.4 2 0 .4-.3 7.3 0 .3 .3 1.7 0 .3 .4 2.7 .3 1.3 .7 1.7 .3 1 .7 .7 0 3.6 2 1.9 1.8 .3 .7 0 2.3-1.8 1.8-1.4 .4-1.3 1-1 0-1.3 .6-1.7 0-.3 .4-2 0-.4 .3z"/><path fill="#ed3400" d="M158.2 79l-8 0-.4-.3-2.3 0-.3-.4-3-.3-.4-.3-1.6-.4-2-1-.7-.6-1-.4-1.2-1.8 .4-.3-.4-.4 .7-1.3 2.5-1.8 .7 0 2.3-1 3.3-.4 .4-.3 7.3 0 .3 .3 1.7 0 .3 .4 2.7 .3 4.7 2 2.1 1.8 .4 .7 0 1.7-1.2 1.5-.3 0-.7 .6-.7 0-2 1-3.3 .4-.3 .3z"/><path fill="#ed1200" d="M157.5 75.7l-.3-.4-.4 .4-7 0-.3-.4-1.7 0-.3-.3-2-.3-1-.7-.7 0-.6-.7-.4 0-1.1-1.5 .3-.3 0-.7 1.2-1.1 2-1 1 0 .3-.4 2 0 .3-.3 4.7 0 .3 .3 2 0 .4 .4 1 0 .3 .3 .7 0 2.3 1 1.5 1.2 .3 .6 0 1-.8 1.2-.3 0-.7 .7-.7 0-2.3 1z"/></g>
<path d="M49.9 113.2l9.1-4.8M59.5 114.8l11.2-9.6 10.9-7 13-6 14.4-4.6M67.2 115.8l2.4-4.2 3.3-4.1 4.1-3.9 4.9-3.7 5.6-3.4 6.3-3.2 6.8-2.7 7.5-2.4M74.1 116.6l.5-3.9 1.7-4 2.8-3.8 3.8-3.8 5-3.6 5.8-3.4 6.6-3 7-2.5M81.1 117.3l-1.2-3.6 .1-3.7 1.5-3.9 2.9-3.9 4.2-3.9 5.2-3.5 6.1-3.2 7-2.8M89.2 118.4l-3.2-3.4-1.6-3.8 0-3.9 1.6-3.8 3.1-4 4.7-3.9 5.8-3.5 7.1-3.2M107.3 88.6l.3-.1M141.5 132.2l-18.3-2M148 129l-19.4-1.8-16.4-3.1-6.9-2.1-5.7-2.3-4.4-2.4-3.5-2.7-2.5-3.1-1.1-3.2 .1-3.3 1.4-3.4 2.6-3.4 3.8-3.4 5.1-3.2 5.7-2.8M108 88.3l.3-.1M153.4 126.1l-19.4-1.5-16.9-2.9-7-1.9-6-2.1-4.7-2.4-3.8-2.6-2.6-2.9-1.4-3.1-.1-3.3 1.1-3.2 2.4-3.3 3.6-3.3 4.6-3 5.7-2.8M158.4 123.3l-18.9-1-17.1-2.6-7.5-1.8-6-1.9-5.1-2.3-4-2.4-3-2.7-1.8-2.9-.6-3 .7-3.2 1.9-3.2 3-3.1 4-2.9 5.2-2.7M206.5 111.5l-.5 .8M163.3 120.5l-17.7-.5-17.4-2.1-7.7-1.6-6.5-1.8-5.6-2.2-4.4-2.2-3.4-2.6-2.3-2.8-.9-2.8 .1-3.1 1.4-3.1 2.6-3 3.7-2.9 4.6-2.6M110.3 86.9l.6-.3M204.2 108.7l-2.1 2.8M168.6 117.6l-17.4 0-17.7-1.6-14.8-3.1-6.1-2.1-4.7-2.1-3.6-2.4-2.6-2.6-1.5-2.9-.2-2.9 1-2.9 2.2-3 3.4-2.9 4.3-2.6M111.4 86.2l.8-.4M202.1 106l-1.7 2.5-2.7 2.4M175.7 114.3l-8.2 .7-8.7 .2-18-1-16-2.6-6.8-1.9-5.6-2.1-4.3-2.4-3-2.5-1.9-2.7-.7-3 .7-3 1.9-2.9 3-2.9 4.3-2.7M113 85.2l.5-.2M200 103.3l-1.1 2.2-1.9 1.9-2.4 1.7-3.3 1.6M197.9 100.6l-.7 1.9-1.4 1.8-4.5 3.1-6.7 2.5-8.8 1.7-10.8 .9-12.2 0-11.9-.9-11.6-1.8-8.4-2.1-7.1-2.7-5.1-3.1-2.9-3.4-.7-1.9-.1-1.9 .4-1.9 1-1.9 3.5-3.7 5.4-3.4M195.8 97.9l-.5 1.8-1 1.8-4 3.2-6.2 2.5-8.3 1.7-10.1 1-11.4 .1-11.6-.7-10.8-1.6-8.3-2-7-2.5-5-2.9-3.2-3.3-.8-1.8-.3-1.8 .3-1.8 .9-2 3.3-3.6 5-3.2M193.7 95.2l-.3 1.7-.8 1.9-3.4 3-5.4 2.5-7.6 1.9-9.4 1.1-10.6 .3-11.2-.6-10.6-1.4-8.4-2-6.9-2.3-5.1-2.9-3.1-3.1-1.2-3.4 .2-1.7 .7-1.8 2.8-3.4 4.9-3.2M191.4 92.4l0 1.8-.5 1.7-2.8 3.1-4.8 2.6-7 1.9-8.8 1.2-9.8 .4-10.6-.4-10.1-1.3-8.3-1.7-7.1-2.3-5.1-2.7-3.2-3.1-1.3-3.2 .1-1.7 .7-1.8 2.8-3.3 4.6-3M189 89.6l.3 1.7-.2 1.8-2.1 3-4.3 2.7-6.1 1.9-8 1.4-9.5 .5-10.2-.3-9.9-1.1-8.5-1.7-6.7-2.2-5.2-2.7-3.1-2.8-.9-1.6-.4-1.7 .8-3.2 2.9-3.3 4.6-2.8M186.4 86.6l.6 1.7 .2 1.7-.5 1.6-1 1.6-3.4 2.6-5.5 2.1-7.2 1.5-8.6 .7-9.3-.1-9.5-.8-8.5-1.5-6.7-2-5.3-2.4-3.7-3-1-1.5-.5-1.6 .6-3.2 2.5-3.1 4.4-2.7M125.3 77.6l0-.1M183.1 83.3l1.8 3.3 .1 1.6-.5 1.6-2.4 2.7-4.6 2.3-6.4 1.7-7.5 .9-8.9 .2-9.1-.5-8-1.2-7.3-1.9-5.7-2.3-3.8-2.6-1.9-3.1-.1-1.5 .3-1.5 2.2-3.1 4.2-2.7M126 76.9l.2-.1M178.3 79.2l3.4 3.4 1.1 3.1-.3 1.5-.8 1.5-3.1 2.5-5.2 2-6.8 1.4-8 .5-8.6-.1-8.9-1-7.3-1.6-6.1-2.2-4.2-2.6-2.2-3-.3-1.5 .3-1.6 2.2-3 4.2-2.7M128.3 75.6l.5-.3M173.2 90.4l-9.1 1.8-11 .4-11.6-1.1-9.6-2.5-3.4-1.5-2.6-1.8-1.7-1.8-.8-2 .3-1.9 1.2-2.1 2.3-1.8 2.9-1.6M130.6 74.2l.3-.1M173.6 76.2l3.1 1.9 2.1 2 1.3 2 .4 1.9-.6 1.9-1.3 1.7-2.4 1.6-3 1.2M172.3 87.7l-3.8 1.1-4.6 .8-10.4 .5-11-1.1-9.1-2.4-3.3-1.5-2.3-1.6-1.5-1.9-.5-1.9 .6-1.9 1.5-1.9 2.3-1.6 3.2-1.5M134 72.6l.3-.1M170.9 74.5l5.1 3.4 1.5 2 .6 1.7-.2 1.7-1.1 1.7-1.9 1.5-2.6 1.2M170.6 85.2l-7.7 1.9-9.5 .4-10.3-1-8.1-2.3-3-1.4-2.1-1.6-1.2-1.8-.3-1.7 .7-1.8 1.6-1.6 2.5-1.5 3.1-1.3M136.9 71.3l.3-.1M168.7 73.3l4.8 3 1.4 1.6 .7 1.7-.2 1.6-.9 1.6-1.6 1.3-2.3 1.1M168.1 82.9l-6.8 1.6-8.5 .3-9.1-1-7-2-2.6-1.3-1.8-1.5-1-1.5-.1-1.6 .7-1.6 1.5-1.4 5.3-2.4M139.4 70.3l.3-.1M163.4 71l.1 0M164.3 71.2l5.7 2.8 1.8 1.7 1 1.6 0 1.7-.7 1.5-1.6 1.3-2.4 1.1M166.6 80.1l-3.5 1.1-4 .7-9.6 0-8.6-1.7-3.3-1.3-2.3-1.7-1.2-2.3 .3-1.1 .9-1.3 3.2-2 5-1.4M144.3 69l.4-.1M146.7 68.7l.5-.1M158.1 69.2l.3 .1M159.4 69.5l.3 .1M160.4 69.8l5.6 2.1 2.1 1.3 1.4 1.6 .5 1.4-.3 1.5-1.2 1.3-1.9 1.1M162.6 78l-7 1.1-8.1-.4-6.7-2-1.9-1.2-1.2-1.5 0-1.3 .7-1.2 3.4-2 5.3-1.1 6.6-.1M154.4 68.4l6.9 1.6 2.8 1.3 1.7 1.5 .7 1.4-.2 1.4-1.5 1.4-2.2 1M160.7 74.6l-2.3 .8-3 .4-6.5-.3-5.1-1.6-1.5-1.1-.3-1.3 1.4-1.7 3.2-1.2 4.2-.4 4.4 .3 3.8 1.1 2.6 1.7 .6 1.7-1.5 1.6" fill="none" stroke="#000" stroke-opacity="0.45" stroke-width="0.3"/>
<path d="M158.8 63.1h0M126.7 65.2h0M113.4 86.3h0M65.6 121.9h0M151.3 117.8h0M117.7 114.3h0M131.3 113.6h0M147.1 77.8h0M114.6 57h0M174 46.8h0M96.1 87.6h0M78.2 85.9h0M108 69.9h0M106.2 76.6h0M79 95.7h0M93.7 88.1h0M152.9 64.1h0M126 52.7h0M130.4 73.1h0M153.9 96.5h0M150.3 82.4h0M191.4 101.8h0M142.3 102.9h0M183.5 84.9h0M76.9 127h0M106.7 88.4h0M117 54.2h0M184.5 86.8h0M165.5 95.3h0M133.1 84.2h0M148.9 42h0M73 87.6h0M96.5 128.3h0M77.5 108.3h0M149.1 58.4h0M165.4 50.4h0M175.9 100.6h0M86.6 143.7h0M96.3 100.8h0M118 114.1h0M166.4 71.6h0M190.4 117.8h0M121.6 94.2h0M134.4 162.3h0M167.9 70.5h0M163.1 104.2h0M112.2 57.6h0M105.9 85.2h0M91.9 100.7h0M73.1 89h0M156.7 58.6h0M128.2 81.3h0M88.2 122.5h0M68.7 119.8h0M186.2 68.1h0M171.6 84.1h0M178.2 56.3h0M183.1 72.6h0M118 104.9h0M121 112.2h0" stroke="#000" stroke-width="2.3" stroke-linecap="round"/></g>
<g><path d="M48.5 419.1L124.1 389.3L211.3 414.7M48.5 401.9L124.1 372.1L211.3 397.5M48.5 384.8L124.1 355L211.3 380.4M48.5 367.7L124.1 337.9L211.3 363.3M48.5 350.6L124.1 320.8L211.3 346.2M48.5 333.5L124.1 303.7L211.3 329.1M48.5 427L124.1 397.2L124.1 288.5M58.3 429.8L133.9 400L133.9 291.3M68 432.7L143.6 402.9L143.6 294.2M77.8 435.5L153.4 405.7L153.4 297M87.6 438.4L163.2 408.6L163.2 299.9M97.3 441.2L172.9 411.4L172.9 302.7M107.1 444.1L182.7 414.3L182.7 305.6M116.9 446.9L192.5 417.1L192.5 308.4M126.6 449.8L202.2 420L202.2 311.3M139.9 450.7L52.7 425.3L52.7 316.6M156.7 444.1L69.5 418.7L69.5 310M173.5 437.5L86.3 412.1L86.3 303.4M190.3 430.9L103.1 405.5L103.1 296.8M207.1 424.3L119.9 398.9L119.9 290.2" stroke="#dcdcdc" stroke-width="0.4" fill="none" stroke-dasharray="1 .6"/>
<path d="M48.5 427L48.5 318.3M124.1 397.2L124.1 288.5M211.3 422.6L211.3 313.9M48.5 318.3L124.1 288.5M124.1 288.5L211.3 313.9M48.5 427L135.7 452.4M135.7 452.4L211.3 422.6" stroke="#a8a8a8" stroke-width=".55" fill="none"/>
<path d="M48.5 427L124.1 397.2M124.1 397.2L211.3 422.6" stroke="#9a9ad8" stroke-width=".55" fill="none"/>
<g fill-rule="evenodd"><path fill="#0013ed" d="M136.2 442.3l-1 0-.7-.6-2.3-1.4-4-3.6-.4 0-.1-.5-1-.7 0-.3-4-4.4 0-.3-3-3.7-.4-1-2.6-3.6-.4-1-.6-.7-.4-1-1.6-2.3-1.4-3-1.6-2.4-1.7-3.6-.7-.7-3.3-6.7-.7-.6-.3-1-1.7-2.4-1.6-3.3-1.4-1.7-1.3-2.6-1-1-.7-1.4-3-3.6 0-.4-5.8-6.1-.3 0-1.7-1.7-.3 0-2.7-2-4.7-2.3-1.6-.4-.4-.3-.6 0-.4-.3-.6 0-1.4-.7-1.6-.3-.4-.4-1 0-1.3-.6-1 0-1.3-.7-1.4 0-.3-.3-1 0-.3-.4-1.7 0-.3-.3-5.4 0-.3 .3-2.7 .4-4 2-.5-.2 7.5-4.8 5.4-4.7 .3 0 9.2-9.2 0-.3 4-4 0-.3 8-9 0-.4 1.3-1.3 0-.3 2-2 0-.4 1.3-1.3 0-.3 2-2 0-.4 1.7-1.6 0-.4 1.7-1.6 0-.4 6.3-7 0-.3 4.3-4.3 0-.4 4-3.6 0-.4 .9-.8 .3 0 3.3-3.3 .4 0 2.6-2.4 .4 0 1.3-1.3 .3 0 3.7-2.7 3.3-1.6 1 0 .4-.4 4 0 .3 .4 1.3 0 .4 .3 2.3 .3 2 1 .7 0 4.6 2.7 6.2 5.8 0 .4 1.3 1.3 0 .3 3.7 4.7 .3 1 3 4.3 1.4 3 1.6 2.4 .4 1.3 .6 .7 2.4 5 .6 .6 0 .7 1 1.3 0 .7 4.4 8.3 0 .7 .6 .7 0 .6 1 1.4 0 .6 4.4 8.4 0 .6 1 1.4 0 .6 1.3 2 0 .7 .7 .7 4.3 8.6 .7 .7 .3 1 .7 .7 2.3 4.3 1.3 1.7 1.4 2.3 1 1 .3 1 5 6 0 .3 3 3 .5 .9 .5 .1 .5 .9 .3 0 4.7 4.3 .3 0 2 1.7 .4 0 1.6 1.3 1 .3 2.5 1.9-1.5 1.1-9.3 4.7-.7 .7-8 4-.6 .6-4.4 2-.6 .7-3.7 1.7-.7 .6-3.6 1.7-.7 .7-3.7 1.6-.6 .7-3 1.3-.7 .7-3.7 1.7-.6 .6-5 2.4-.7 .6-5.7 2.7-.6 .7-7.7 3.6-.7 .7-8.6 4.3z"/><path fill="#0038ed" d="M130.2 437l-1.7 0-.7-.3-.1-.5-1-.7 0-.3-4-4.4 0-.3-3-3.7-.4-1-2.6-3.6-.4-1-.6-.7-.4-1-1.6-2.3-1.4-3-1.6-2.4-1.7-3.6-.7-.7-3.3-6.7-.7-.6-.3-1-1.7-2.4-1.6-3.3-1.4-1.7-1.3-2.6-1-1-.7-1.4-3-3.6 0-.4-5.8-6.1-.3 0-1.7-1.7-.3 0-2.7-2-4.7-2.3-1.6-.4-.4-.3-.6 0-.4-.3-.6 0-1.4-.7-1.6-.3-.4-.4-1 0-1.3-.6-1 0-1.3-.7-1.4 0-.3-.3-1 0-.3-.4-1.7 0-.3-.3-5.4 0-.3 .3-2.7 .4-4 2-.5-.2 7.5-4.8 5.4-4.7 .3 0 9.2-9.2 0-.3 4-4 0-.3 8-9 0-.4 1.3-1.3 0-.3 2-2 0-.4 1.3-1.3 0-.3 2-2 0-.4 1.7-1.6 0-.4 1.7-1.6 0-.4 6.3-7 0-.3 4.3-4.3 0-.4 4-3.6 0-.4 .9-.8 .3 0 3.3-3.3 .4 0 2.6-2.4 .4 0 1.3-1.3 .3 0 3.7-2.7 3.3-1.6 1 0 .4-.4 4 0 .3 .4 1.3 0 .4 .3 2.3 .3 2 1 .7 0 4.6 2.7 6.2 5.8 0 .4 1.3 1.3 0 .3 3.7 4.7 .3 1 3 4.3 1.4 3 1.6 2.4 .4 1.3 .6 .7 2.4 5 .6 .6 0 .7 1 1.3 0 .7 4.4 8.3 0 .7 .6 .7 0 .6 1 1.4 0 .6 4.4 8.4 0 .6 1 1.4 0 .6 1.3 2 0 .7 .7 .7 4.3 8.6 .7 .7 .3 1 .7 .7 2.3 4.3 1.3 1.7 1.4 2.3 1 1 .3 1 5 6 0 .3 3 3 .5 .9 .5 .1 .5 .9 .3 0 4.7 4.3 .3 0 2 1.7 .4 0 1.6 1.3 1 .3 2.5 1.9-1.5 1.1-9.3 4.7-.7 .7-3.6 1.6-.7 .7-3.7 1.7-.6 .6-4.4 2-.6 .7-3.7 1.7-.7 .6-3.6 1.7-.7 .7-7.3 3.6-.7 .7-3.7 1.7-.6 .6-5 2.4-.7 .6-5.7 2.7-.6 .7-4.7 2.3-11.7 0-.3 .3-3.3 0-.4 .4-2.3 0-.3 .3z"/><path fill="#005eed" d="M124.5 433l-4.8-6.2-.4-1-2.6-3.6-.4-1-.6-.7-.4-1-1.6-2.3-1.4-3-1.6-2.4-1.7-3.6-.7-.7-3.3-6.7-.7-.6-.3-1-1.7-2.4-1.6-3.3-1.4-1.7-1.3-2.6-1-1-.7-1.4-3-3.6 0-.4-5.8-6.1-.3 0-1.7-1.7-.3 0-2.7-2-4.7-2.3-1.6-.4-.4-.3-.6 0-.4-.3-.6 0-1.4-.7-1.6-.3-.4-.4-1 0-1.3-.6-1 0-1.3-.7-1.4 0-.3-.3-1 0-.3-.4-1.7 0-.3-.3-5.4 0-.3 .3-2.7 .4-4 2-.5-.2 7.5-4.8 5.4-4.7 .3 0 9.2-9.2 0-.3 4-4 0-.3 8-9 0-.4 1.3-1.3 0-.3 2-2 0-.4 1.3-1.3 0-.3 2-2 0-.4 1.7-1.6 0-.4 1.7-1.6 0-.4 6.3-7 0-.3 4.3-4.3 0-.4 8.5-8.1 .4 0 2.6-2.4 .4 0 1.3-1.3 .3 0 3.7-2.7 3.3-1.6 1 0 .4-.4 4 0 .3 .4 1.3 0 .4 .3 1 0 .3 .3 2 .4 1 .6 .7 0 2.6 1.4 .7 .6 1.3 .7 1.4 1.3 .3 0 5.8 6.2 0 .3 3.7 4.7 .3 1 3 4.3 1.4 3 1.6 2.4 .4 1.3 .6 .7 2.4 5 .6 .6 0 .7 1 1.3 0 .7 4.4 8.3 0 .7 .6 .7 0 .6 1 1.4 0 .6 4.4 8.4 0 .6 1 1.4 0 .6 1.3 2 0 .7 .7 .7 2.3 5 .7 .6 1.3 3 .7 .7 .3 1 .7 .7 2.3 4.3 1.3 1.7 1.4 2.3 1 1 .3 1 2 2.3 0 .4 1.7 1.6 0 .4 1.3 1.3 0 .3 3 3 0 .4 .8 .5 .7 1 .3 0 4.7 4.3 .3 0 2 1.7 .4 0 1.6 1.3 1 .3 2.5 1.9-1.5 1.1-9.3 4.7-.7 .7-3.6 1.6-.7 .7-3.7 1.7-.6 .6-4.4 2-.6 .7-3.7 1.7-.7 .6-3.6 1.7-.7 .7-3.7 1.6-.6 .7-3 1.3-.7 .7-3.7 1.7-.6 .6-5 2.4-.7 .6-.3-.3-1.7 0-.3-.3-.7 .3-.3-.3-6 0-.4 .3-.3-.3-.7 0-.3 .3-5.3 0-.4 .3-6.6 .4-.4 .3-1.3 0-.3 .3-.4-.3-.3 .3-1.3 0-.4 .4-4.3 .3-.3 .3-1.4 0-1.3 .7z"/><path fill="#0083ed" d="M121.5 428.7l-.3 0-1.5-1.9-.4-1-2.6-3.6-.4-1-.6-.7-.4-1-1.6-2.3-1.4-3-1.6-2.4-1.7-3.6-.7-.7-3.3-6.7-.7-.6-.3-1-1.7-2.4-1.6-3.3-1.4-1.7-1.3-2.6-1-1-.7-1.4-3-3.6 0-.4-2-2 0-.3-5.8-5.5-.3 0-2.7-2-4.7-2.3-1.6-.4-.4-.3-.6 0-.4-.3-.6 0-1.4-.7-1.6-.3-.4-.4-1 0-1.3-.6-1 0-1.3-.7-1.4 0-.3-.3-1 0-.3-.4-1.7 0-.3-.3-5.4 0-.3 .3-2.7 .4-4 2-.5-.2 7.5-4.8 5.4-4.7 .3 0 9.2-9.2 0-.3 4-4 0-.3 8-9 0-.4 1.3-1.3 0-.3 2-2 0-.4 1.3-1.3 0-.3 2-2 0-.4 1.7-1.6 0-.4 1.7-1.6 0-.4 6.3-7 0-.3 4.3-4.3 0-.4 8.5-8.1 .4 0 2.6-2.4 .4 0 1.3-1.3 .3 0 3.7-2.7 3.3-1.6 1 0 .4-.4 4 0 .3 .4 1.3 0 .4 .3 1 0 .3 .3 2 .4 1 .6 .7 0 2.6 1.4 .7 .6 1.3 .7 1.4 1.3 .3 0 5.8 6.2 0 .3 3.7 4.7 .3 1 3 4.3 1.4 3 1.6 2.4 .4 1.3 .6 .7 2.4 5 .6 .6 0 .7 1 1.3 0 .7 4.4 8.3 0 .7 .6 .7 0 .6 1 1.4 0 .6 4.4 8.4 0 .6 1 1.4 0 .6 1.3 2 0 .7 .7 .7 2.3 5 .7 .6 1.3 3 .7 .7 .3 1 .7 .7 2.3 4.3 1.3 1.7 1.4 2.3 1 1 .3 1 2 2.3 0 .4 1.7 1.6 0 .4 1.3 1.3 0 .3 3 3 0 .4 .8 .5 .7 1 .3 0 4.7 4.3 .3 0 2 1.7 .4 0 1.6 1.3 1 .3 2.5 1.9-1.5 1.1-9.3 4.7-.7 .7-3.6 1.6-.7 .7-3.7 1.7-.6 .6-4.4 2-.6 .7-3.7 1.7-.7 .6-3.6 1.7-.7 .7-3.7 1.6-.6 .7-2.7 1.3-.3-.3-2.7 0-.3-.3-11.4 0-.3 .3-.3-.3-1 0-.4 .3-7.6 .3-.4 .4-5.3 .3-.3 .3-2 0-.4 .4-1.6 0-.4 .3-4 .3-.3 .4-1.3 0-.4 .3-1.3 0-.3 .3-1.7 0-.3 .4-1 0-.4 .3-3 .3-.3 .4z"/><path fill="#00a8ed" d="M119.2 424.7l-.7 0-.5-.5 0-.4-1.3-1.6-.4-1-.6-.7-.4-1-.6-.7-.4-1-.6-.6-1.4-3-1.6-2.4-1.7-3.6-.7-.7-3.3-6.7-.7-.6-.3-1-1.7-2.4-1.6-3.3-1.4-1.7-1.3-2.6-1-1-.7-1.4-3-3.6 0-.4-2-2 0-.3-5.8-5.5-.3 0-2.7-2-4.7-2.3-1.6-.4-.4-.3-.6 0-.4-.3-.6 0-1.4-.7-1.6-.3-.4-.4-1 0-1.3-.6-1 0-1.3-.7-1.4 0-.3-.3-1 0-.3-.4-1.7 0-.3-.3-5.4 0-.3 .3-2.7 .4-4 2-.5-.2 7.5-4.8 5.4-4.7 .3 0 9.2-9.2 0-.3 4-4 0-.3 8-9 0-.4 1.3-1.3 0-.3 2-2 0-.4 1.3-1.3 0-.3 2-2 0-.4 1.7-1.6 0-.4 1.7-1.6 0-.4 6.3-7 0-.3 4.3-4.3 0-.4 8.5-8.1 .4 0 2.6-2.4 .4 0 1.3-1.3 .3 0 3.7-2.7 3.3-1.6 1 0 .4-.4 4 0 .3 .4 1.3 0 .4 .3 1 0 .3 .3 2 .4 1 .6 .7 0 2.6 1.4 .7 .6 1.3 .7 1.4 1.3 .3 0 5.8 6.2 0 .3 3.7 4.7 .3 1 3 4.3 1.4 3 1.6 2.4 .4 1.3 .6 .7 2.4 5 .6 .6 0 .7 1 1.3 0 .7 4.4 8.3 0 .7 .6 .7 0 .6 1 1.4 0 .6 4.4 8.4 0 .6 1 1.4 0 .6 1.3 2 0 .7 .7 .7 2.3 5 .7 .6 1.3 3 .7 .7 .3 1 .7 .7 2.3 4.3 1.3 1.7 1.4 2.3 1 1 .3 1 2 2.3 0 .4 1.7 1.6 0 .4 1.3 1.3 0 .3 3 3 0 .4 .8 .5 .7 1 .3 0 4.7 4.3 .3 0 2 1.7 .4 0 1.6 1.3 1 .3 2.5 1.9-1.5 1.1-9.3 4.7-.7 .7-3.6 1.6-.7 .7-3.7 1.7-.6 .6-4.4 2-.6 .7-3.7 1.7-.7 .6-.6-.3-3.4 0-.3-.3-14.3 0-.4 .3-9 .3-.3 .4-2.7 0-.3 .3-1.7 0-.3 .3-.7-.3-.3 .3-1.7 0-.3 .4-2 0-.3 .3-2 0-.4 .3-3.6 .4-.4 .3-1.3 0-.3 .3-3.7 .4-.3 .3-1.4 0-1.3 .7-.3-.4-.4 .4-2.3 .3-.3 .3-.4-.3-.3 .3-1 0-1.3 .7-.4-.3-1 .6-1.3 0-.3 .4z"/><path fill="#00cded" d="M116.5 421l-.8-.5-.4-1-1.6-2.3-1.4-3-1.6-2.4-1.7-3.6-.7-.7-3.3-6.7-.7-.6-.3-1-1.7-2.4-1.6-3.3-1.4-1.7-1.3-2.6-1-1-.7-1.4-3-3.6 0-.4-2-2 0-.3-5.8-5.5-.3 0-2.7-2-4.7-2.3-1.6-.4-.4-.3-.6 0-.4-.3-.6 0-1.4-.7-1.6-.3-.4-.4-1 0-1.3-.6-1 0-1.3-.7-1.4 0-.3-.3-1 0-.3-.4-1.7 0-.3-.3-5.4 0-.3 .3-2.7 .4-4 2-.5-.2 7.5-4.8 5.4-4.7 .3 0 9.2-9.2 0-.3 4-4 0-.3 8-9 0-.4 1.3-1.3 0-.3 2-2 0-.4 1.3-1.3 0-.3 2-2 0-.4 1.7-1.6 0-.4 1.7-1.6 0-.4 6.3-7 0-.3 4.3-4.3 0-.4 8.5-8.1 .4 0 2.6-2.4 .4 0 1.3-1.3 .3 0 3.7-2.7 3.3-1.6 1 0 .4-.4 4 0 .3 .4 1.3 0 .4 .3 1 0 .3 .3 2 .4 1 .6 .7 0 2.6 1.4 .7 .6 1.3 .7 1.4 1.3 .3 0 5.8 6.2 0 .3 3.7 4.7 .3 1 3 4.3 1.4 3 1.6 2.4 .4 1.3 .6 .7 2.4 5 .6 .6 0 .7 1 1.3 0 .7 4.4 8.3 0 .7 .6 .7 0 .6 1 1.4 0 .6 4.4 8.4 0 .6 1 1.4 0 .6 1.3 2 0 .7 .7 .7 2.3 5 .7 .6 1.3 3 .7 .7 .3 1 .7 .7 2.3 4.3 1.3 1.7 1.4 2.3 1 1 .3 1 2 2.3 0 .4 1.7 1.6 0 .4 1.3 1.3 0 .3 3 3 0 .4 .8 .5 .7 1 .3 0 4.7 4.3 .3 0 2 1.7 .4 0 1.6 1.3 1 .3 2.5 1.9-1.5 1.1-3.6 1.7-.7 .7-5 2.3-.7 .7-3.6 1.6-.7 .7-2.7 1.3-1.3 0-.3-.3-2.7 0-.3-.3-5.7 0-.3-.4-.7 .4-.7-.4-.3 .4-.3-.4-1.7 0-.3 .4-8.7 0-.3 .3-7 .3-.4 .4-2.6 0-.4 .3-2 0-.3 .3-.3-.3-.4 .3-1.6 0-.4 .4-2.3 0-.3 .3-2 0-.4 .3-1.6 0-.4 .4-2 0-.3 .3-3.7 .3-.3 .4-1.3 0-.4 .3-.3-.3-1.3 .6-.4-.3-.3 .3-1.3 0-.4 .4-1.3 0-.3 .3-1.4 0-.3 .3-1 0-.3 .4-.4-.4-1.3 .7-1 0-.3 .3-1.7 0-1.3 .7-.4-.3-1 .6-3 .4-.3 .3-1.7 .3-1.3 .7z"/><path fill="#00ede9" d="M113.8 417.3l-1.5-3.1-1.6-2.4-1.7-3.6-.7-.7-1.3-3-.7-.7-1.3-3-.7-.6-.3-1-1.7-2.4-1.6-3.3-1.4-1.7-1.3-2.6-1-1-.7-1.4-3-3.6 0-.4-2-2 0-.3-5.8-5.5-.3 0-2.7-2-4.7-2.3-1.6-.4-.4-.3-.6 0-.4-.3-.6 0-1.4-.7-1.6-.3-.4-.4-1 0-1.3-.6-1 0-1.3-.7-1.4 0-.3-.3-1 0-.3-.4-1.7 0-.3-.3-5.4 0-.3 .3-2.7 .4-4 2-.5-.2 7.5-4.8 5.4-4.7 .3 0 9.2-9.2 0-.3 4-4 0-.3 8-9 0-.4 1.3-1.3 0-.3 2-2 0-.4 1.3-1.3 0-.3 2-2 0-.4 1.7-1.6 0-.4 1.7-1.6 0-.4 6.3-7 0-.3 4.3-4.3 0-.4 8.5-8.1 .4 0 2.6-2.4 .4 0 1.3-1.3 .3 0 3.7-2.7 3.3-1.6 1 0 .4-.4 4 0 .3 .4 1.3 0 .4 .3 1 0 .3 .3 2 .4 1 .6 .7 0 2.6 1.4 .7 .6 1.3 .7 1.4 1.3 .3 0 5.8 6.2 0 .3 3.7 4.7 .3 1 3 4.3 1.4 3 1.6 2.4 .4 1.3 .6 .7 2.4 5 .6 .6 0 .7 1 1.3 0 .7 4.4 8.3 0 .7 .6 .7 0 .6 1 1.4 0 .6 4.4 8.4 0 .6 1 1.4 0 .6 1.3 2 0 .7 .7 .7 2.3 5 .7 .6 1.3 3 .7 .7 .3 1 .7 .7 2.3 4.3 1.3 1.7 1.4 2.3 1 1 .3 1 2 2.3 0 .4 1.7 1.6 0 .4 1.3 1.3 0 .3 3 3 0 .4 .8 .5 .7 1 .3 0 4.7 4.3 .3 0 2 1.7 .4 0 1.6 1.3 1 .3 2.5 1.9-1.5 1.1-3.6 1.7-.7 .7-2 1-.3-.4-1.4 0-.3-.3-2 0-.3-.3-3.4 0-.3-.4-.3 .4-.4-.4-12.3 0-.3 .4-4 0-.4 .3-.6 0-.4-.3-.3 .3-2.7 0-.3 .3-.7-.3-.3 .3-2 0-.3 .4-3 0-.4 .3-2.3 0-.3 .3-2.4 0-.3 .4-4.3 .3-.4 .3-1 0-.3 .4-.7-.4-.3 .4-1.7 0-.3 .3-1.7 0-.3 .3-.3-.3-.4 .3-1 0-.3 .4-1.7 0-.3 .3-.3-.3-.4 .3-1 0-.3 .3-1.3 0-.4 .4-.3-.4-1.3 .7-.4-.3-.3 .3-3 .3-1.3 .7-.4-.3-.3 .3-1.3 0-.4 .3-1 0-.3 .4-.3-.4-1.4 .7-1 0-.3 .3-.3-.3-.4 .3-1 0-.3 .4-2.3 .3-.4 .3-2.6 .4-1.4 .6-1.3 0-2.3 1-1.7 0-.7 .7-.6 0-.4 .3z"/><path fill="#00edc5" d="M113.2 413l-1.7 0-.8-1.2-1.7-3.6-.7-.7-3.3-6.7-.7-.6-.3-1-1.7-2.4-.6-1.6-.7-.7-.3-1-1.4-1.7-.3-1-.7-.6-.3-1-1-1-.7-1.4-3-3.6 0-.4-2-2 0-.3-5.8-5.5-.3 0-2.7-2-4.7-2.3-1.6-.4-.4-.3-.6 0-.4-.3-.6 0-1.4-.7-1.6-.3-.4-.4-1 0-1.3-.6-1 0-1.3-.7-1.4 0-.3-.3-1 0-.3-.4-1.7 0-.3-.3-5.4 0-.3 .3-2.7 .4-4 2-.5-.2 7.5-4.8 5.4-4.7 .3 0 9.2-9.2 0-.3 4-4 0-.3 8-9 0-.4 1.3-1.3 0-.3 2-2 0-.4 1.3-1.3 0-.3 2-2 0-.4 1.7-1.6 0-.4 1.7-1.6 0-.4 6.3-7 0-.3 4.3-4.3 0-.4 8.5-8.1 .4 0 2.6-2.4 .4 0 1.3-1.3 .3 0 3.7-2.7 3.3-1.6 1 0 .4-.4 4 0 .3 .4 1.3 0 .4 .3 2.3 .3 2 1 .7 0 4.6 2.7 6.2 5.8 0 .4 1.3 1.3 0 .3 3 3.7 1 2 3 4.3 1.4 3 1.6 2.4 .4 1.3 .6 .7 2.4 5 .6 .6 0 .7 1 1.3 0 .7 4.4 8.3 0 .7 .6 .7 0 .6 1 1.4 0 .6 4.4 8.4 0 .6 1 1.4 0 .6 1.3 2 0 .7 .7 .7 2.3 5 .7 .6 1.3 3 .7 .7 .3 1 .7 .7 2.3 4.3 1.3 1.7 1.4 2.3 1 1 .3 1 2 2.3 0 .4 1.7 1.6 0 .4 1.3 1.3 0 .3 3 3 0 .4 .8 .5 .7 1 .3 0 4.7 4.3 1.3 .7 1.9 1.5-1.5 .1-.4-.3-12.6 0-.4 .3-4.3 0-.3 .4-.4-.4-.3 .4-2.3 0-.4 .3-.3-.3-.3 .3-2.4 0-.3 .3-.3-.3-.4 .3-2 0-.3 .4-.3-.4-.4 .4-2.3 0-.3 .3-2 0-.4 .3-2 0-.3 .4-2 0-.3 .3-2 0-.4 .3-1.6 0-.4 .4-.3-.4-.3 .4-1 0-.4 .3-.3-.3-.3 .3-1 0-.4 .3-.3-.3-.3 .3-1 0-.4 .4-.3-.4-.3 .4-1 0-.4 .3-.3-.3-.3 .3-1.7 0-1.3 .7-.4-.4-.3 .4-1.7 0-.3 .3-1.3 0-.4 .3-1.3 0-.3 .4-.4-.4-1.3 .7-.3-.3-1.4 .6-.3-.3-1.3 .7-.4-.4-1.3 .7-.3-.3-.4 .3-1.3 0-.3 .3-1 0-1.4 .7-.3-.3-.3 .3-2.7 .3-.3 .4-2.4 .3-.3 .3-1.7 0-.3 .4-1 0-1.3 .6-.4-.3-1 .7-1.3 0-1.3 .6-1.4 0-.3 .4-.7 0-1.3 .6-1 0-1.3 .7z"/><path fill="#00eda1" d="M109.8 409.7l-1.5-2.2-3.3-6.7-.7-.6-.3-1-1.7-2.4-1.6-3.3-1.4-1.7-1.3-2.6-1-1-.7-1.4-3-3.6 0-.4-2-2 0-.3-5.8-5.5-.3 0-2.7-2-4.7-2.3-1.6-.4-.4-.3-.6 0-.4-.3-.6 0-1.4-.7-1.6-.3-.4-.4-1 0-1.3-.6-1 0-1.3-.7-1.4 0-.3-.3-1 0-.3-.4-1.7 0-.3-.3-5.4 0-.3 .3-2.7 .4-4 2-.5-.2 7.5-4.8 5.4-4.7 .3 0 9.2-9.2 0-.3 4-4 0-.3 8-9 0-.4 1.3-1.3 0-.3 2-2 0-.4 1.3-1.3 0-.3 2-2 0-.4 1.7-1.6 0-.4 1.7-1.6 0-.4 6.3-7 0-.3 4.3-4.3 0-.4 8.5-8.1 .4 0 2.6-2.4 .4 0 1.3-1.3 .3 0 3.7-2.7 3.3-1.6 1 0 .4-.4 4 0 .3 .4 1.3 0 .4 .3 2.3 .3 2 1 .7 0 4.6 2.7 6.2 5.8 0 .4 1.3 1.3 0 .3 3 3.7 1 2 3 4.3 1.4 3 1.6 2.4 .4 1.3 .6 .7 2.4 5 .6 .6 0 .7 1 1.3 0 .7 4.4 8.3 0 .7 .6 .7 .4 1.3 .6 .7 0 .6 4.4 8.4 0 .6 1 1.4 0 .6 1 1.4 .3 1.3 .7 .7 4.3 8.6 .7 .7 .3 1 .7 .7 2.3 4.3 1.3 1.7 1.4 2.3 1 1 .3 1 5 6 0 .3 3 3 .5 .9 .5 .1 0 .4 .7 .6-3.2 .2-.3 .3-.4-.3-.6 .3-2.7 0-.3 .4-5 .3-.4 .3-2 0-.3 .4-.3-.4-.4 .4-4 .3-.3 .3-1.7 0-.3 .4-3.7 .3-.3 .3-.3-.3-.4 .3-1 0-.3 .4-.3-.4-.4 .4-1.3 0-.3 .3-3.7 .3-.3 .4-1.4 0-.3 .3-.3-.3-1.4 .6-.3-.3-.3 .3-1 0-.4 .4-1.3 0-.3 .3-.4-.3-1.3 .6-.3-.3-.4 .3-3 .4-.3 .3-3.3 .3-.4 .4-1.6 0-.4 .3-1.3 0-1.3 .7-.4-.4-.3 .4-.7 0-.3 .3-.3-.3-1.4 .6-.3-.3-.3 .3-1.4 0-.3 .4-1 0-.3 .3-.4-.3-1.3 .6-1 0-.3 .4-.4-.4-.3 .4-1 0-1.3 .6-1 0-.4 .4-.3-.4-.3 .4-3.7 .6-.3 .4-1.4 0-.3 .3-1 0-1 .7-1.3 0-1.4 .6-.3-.3-.3 .3-.7 0-2.3 1-1 0-1.4 .7-1 0-1 .7z"/><path fill="#00ed7e" d="M108.5 405.7l-1.2-.2-2.3-4.7-.7-.6-.3-1-1.7-2.4-1.6-3.3-1.4-1.7-1.3-2.6-1-1-.7-1.4-3-3.6 0-.4-5.8-6.1-.3 0-1.7-1.7-.3 0-2.7-2-4.7-2.3-1.6-.4-.4-.3-.6 0-.4-.3-.6 0-1.4-.7-1.6-.3-.4-.4-1 0-1.3-.6-1 0-1.3-.7-1.4 0-.3-.3-1 0-.3-.4-1.7 0-.3-.3-5.4 0-.3 .3-2.7 .4-4 2-.5-.2 7.5-4.8 5.4-4.7 .3 0 9.2-9.2 0-.3 4-4 0-.3 8-9 0-.4 1.3-1.3 0-.3 2-2 0-.4 1.3-1.3 0-.3 2-2 0-.4 1.7-1.6 0-.4 1.7-1.6 0-.4 6.3-7 0-.3 4.3-4.3 0-.4 8.5-8.1 .4 0 2.6-2.4 .4 0 1.3-1.3 .3 0 3.7-2.7 3.3-1.6 1 0 .4-.4 4 0 .3 .4 1.3 0 .4 .3 2.3 .3 2 1 .7 0 4.6 2.7 6.2 5.8 0 .4 1.3 1.3 0 .3 3 3.7 1 2 3 4.3 1.4 3 1.6 2.4 .4 1.3 .6 .7 2.4 5 .6 .6 0 .7 1 1.3 0 .7 4.4 8.3 0 .7 .6 .7 .4 1.3 .6 .7 0 .6 4.4 8.4 0 .6 1 1.4 0 .6 1 1.4 .3 1.3 .7 .7 4.3 8.6 .7 .7 .3 1 .7 .7 2.3 4.3 1.3 1.7 1.4 2.3 1 1 .3 1 5 6-1.2 .5-.3-.3-.3 .3-3.4 .3-.3 .4-.3-.4-1.4 .7-.3-.3-.3 .3-1.7 0-.3 .3-1.4 0-.3 .4-1.3 0-.4 .3-.3-.3-.3 .3-.7 0-.3 .3-.4-.3-1.3 .7-.3-.4-.4 .4-1.3 0-.3 .3-.4-.3-.3 .3-.7 0-.3 .3-.3-.3-1.4 .7-.3-.4-.3 .4-1.4 0-.3 .3-1.3 0-.4 .3-1.6 0-.4 .4-3 .3-1.3 .7-.3-.4-1.4 .7-.3-.3-.3 .3-3 .3-.4 .4-1.6 0-1.4 .6-.3-.3-1.3 .7-.4-.4-1.3 .7-.3-.3-.4 .3-1.3 0-.3 .3-1 0-.4 .4-3 .3-.3 .3-1.7 0-1.3 .7-.3-.3-.4 .3-1 0-.3 .3-1.3 0-1.4 .7-.3-.3-.3 .3-1 0-.4 .3-1.3 0-1 .7-.3-.3-.4 .3-1 0-.3 .3-1 0-.3 .4-.4-.4-1.3 .7-1.3 0-.4 .3-1 0-.3 .4-1 0-.3 .3-1.4 0-1 .7-1.3 0-1 .6-1.7 0-1 .7-1 0-1.3 .7-1 0-.7 .6-1 0-.3 .4z"/><path fill="#00ed5c" d="M106.2 402l-.9-.2-.3-1-.7-.6-.3-1-1.7-2.4-1.6-3.3-1.4-1.7-1.3-2.6-1-1-.7-1.4-3-3.6 0-.4-5.8-6.1-.3 0-1.7-1.7-.3 0-2.7-2-4.7-2.3-1.6-.4-.4-.3-.6 0-.4-.3-.6 0-1.4-.7-1.6-.3-.4-.4-1 0-1.3-.6-1 0-1.3-.7-1.4 0-.3-.3-1 0-.3-.4-1.7 0-.3-.3-5.4 0-.3 .3-2.7 .4-4 2-.5-.2 7.5-4.8 5.4-4.7 .3 0 9.2-9.2 0-.3 4-4 0-.3 8-9 0-.4 1.3-1.3 0-.3 2-2 0-.4 1.3-1.3 0-.3 2-2 0-.4 1.7-1.6 0-.4 1.7-1.6 0-.4 6.3-7 0-.3 4.3-4.3 0-.4 8.5-8.1 .4 0 2.6-2.4 .4 0 1.3-1.3 .3 0 3.7-2.7 3.3-1.6 1 0 .4-.4 4 0 .3 .4 1.3 0 .4 .3 2.3 .3 2 1 .7 0 4.6 2.7 6.2 5.8 0 .4 1.3 1.3 0 .3 3 3.7 1 2 3 4.3 1.4 3 1.6 2.4 .4 1.3 .6 .7 2.4 5 .6 .6 0 .7 1 1.3 0 .7 4.4 8.3 0 .7 .6 .7 0 .6 1 1.4 0 .6 4.4 8.4 0 .6 1 1.4 0 .6 1 1.4 .3 1.3 .7 .7 2.3 5 .7 .6 1.3 3 .7 .7 .3 1 .7 .7 2.3 4.3 1.3 1.7 1.4 2.3 1 1 .3 1 1 1 0 .3-.8 .5-1.4 0-.3 .4-1 0-.3 .3-.4-.3-.3 .3-2.3 .3-.4 .4-.3-.4-.3 .4-2.4 .3-.3 .3-2.7 .4-.3 .3-.3-.3-.4 .3-2.6 .3-.4 .4-1 0-.3 .3-.3-.3-1 .6-.4-.3-.3 .3-1.3 0-.4 .4-1 0-.3 .3-1.7 0-1.3 .7-.3-.4-.4 .4-1 0-.3 .3-2.7 .3-.3 .4-1.7 0-1.3 .6-.3-.3-1.4 .7-.3-.4-.3 .4-2 .3-.4 .3-.3-.3-.3 .3-1 0-.4 .4-.3-.4-1.3 .7-1.7 0-1.3 .7-.4-.4-1.3 .7-.3-.3-.4 .3-2 .3-.3 .4-.3-.4-.4 .4-1 0-1.3 .6-.3-.3-.4 .3-1 0-.3 .4-1.3 0-1.4 .6-.3-.3-.3 .3-2.4 .4-1.3 .6-.3-.3-.4 .3-1 0-.3 .4-1 0-.3 .3-1 0-.4 .3-.3-.3-1 .7-.3-.4-1 .7-2.7 .3-1 .7-.3-.3-2.4 1-1.3 0-1.3 .6-1 0-.4 .4-.6 0-.7 .6-1 0-1.3 .7z"/><path fill="#00ed3a" d="M103.8 398.3l-.8-.5-2.3-4.3-2.4-3.3-.3-1-1-1-.7-1.4-3-3.6 0-.4-5.8-6.1-.3 0-1.7-1.7-.3 0-2.7-2-4.7-2.3-1.6-.4-.4-.3-.6 0-.4-.3-.6 0-1.4-.7-1.6-.3-.4-.4-1 0-1.3-.6-1 0-1.3-.7-1.4 0-.3-.3-1 0-.3-.4-1.7 0-.3-.3-5.4 0-.3 .3-2.7 .4-4 2-.5-.2 7.5-4.8 5.4-4.7 .3 0 9.2-9.2 0-.3 4-4 0-.3 8-9 0-.4 1.3-1.3 0-.3 2-2 0-.4 1.3-1.3 0-.3 2-2 0-.4 1.7-1.6 0-.4 1.7-1.6 0-.4 6.3-7 0-.3 4.3-4.3 0-.4 8.5-8.1 .4 0 2.6-2.4 .4 0 1.3-1.3 .3 0 3.7-2.7 3.3-1.6 1 0 .4-.4 4 0 .3 .4 1.3 0 .4 .3 2.3 .3 5.3 2.4 .7 .6 1.3 .7 1.4 1.3 .3 0 4.5 4.5 0 .4 1.3 1.3 0 .3 3.7 4.7 .3 1 3 4.3 1.4 3 1.6 2.4 .4 1.3 .6 .7 2.4 5 .6 .6 0 .7 1 1.3 0 .7 4.4 8.3 0 .7 .6 .7 0 .6 1 1.4 0 .6 4.4 8.4 0 .6 1 1.4 0 .6 1 1.4 .3 1.3 .7 .7 2.3 5 .7 .6 1.3 3 .7 .7 .3 1 .7 .7 2.3 4.3 2 2.7-1.2 .8-1.3 0-.3 .3-1 0-.4 .4-1.3 0-1 .6-.3-.3-.4 .3-1.3 0-1 .7-.3-.3-1 .6-.4-.3-.3 .3-1 0-.3 .4-1.4 0-.3 .3-1 0-.3 .3-2.4 .4-.3 .3-1 0-.3 .3-.4-.3-1 .7-.3-.4-.3 .4-1 0-.4 .3-1 0-.3 .3-.3-.3-1 .7-1.4 0-.3 .3-1 0-.3 .3-1 0-.4 .4-.3-.4-.3 .4-1 0-.4 .3-1.3 0-.3 .3-1 0-.4 .4-2.6 .3-.4 .3-.3-.3-1 .7-.3-.4-1.4 .7-.3-.3-.3 .3-1 0-1.4 .7-.3-.4-.3 .4-1 0-1.4 .6-.3-.3-.3 .3-1 0-.4 .4-1.3 0-1.3 .6-.4-.3-.3 .3-1 0-.3 .4-.4-.4-.6 .7-.4-.3-.3 .3-1 0-1.3 .7-.4-.4-.3 .4-1 0-1.3 .6-.4-.3-.3 .3-1 0-.3 .4-1 0-.4 .3-.3-.3-2 1-.3-.4-1 .7-.4-.3-.3 .3-1 0-1.3 .7-.4-.4-1 .7-1.3 0-1 .7-1.3 0-2.4 1-2.3 .3-.7 .7-1 0-1 .6z"/><path fill="#00ed18" d="M101.2 394.7l-.5-1.2-1.4-1.7-.3-1-.7-.6-.3-1-1-1-.7-1.4-3-3.6 0-.4-2-2 0-.3-5.8-5.5-.3 0-2.7-2-4.7-2.3-1.6-.4-.4-.3-.6 0-.4-.3-.6 0-1.4-.7-1.6-.3-.4-.4-1 0-1.3-.6-1 0-1.3-.7-1.4 0-.3-.3-1 0-.3-.4-1.7 0-.3-.3-5.4 0-.3 .3-2.7 .4-4 2-.5-.2 7.5-4.8 5.4-4.7 .3 0 9.2-9.2 0-.3 4-4 0-.3 8-9 0-.4 1.3-1.3 0-.3 2-2 0-.4 1.3-1.3 0-.3 2-2 0-.4 1.7-1.6 0-.4 1.7-1.6 0-.4 6.3-7 0-.3 4.3-4.3 0-.4 8.5-8.1 .4 0 2.6-2.4 .4 0 1.3-1.3 .3 0 3.7-2.7 3.3-1.6 1 0 .4-.4 4 0 .3 .4 1.3 0 .4 .3 1 0 .3 .3 2 .4 1 .6 .7 0 2.6 1.4 .7 .6 1.3 .7 1.4 1.3 .3 0 4.5 4.5 0 .4 1.3 1.3 0 .3 3.7 4.7 .3 1 3 4.3 1.4 3 1.6 2.4 .4 1.3 .6 .7 2.4 5 .6 .6 0 .7 1 1.3 0 .7 4.4 8.3 0 .7 .6 .7 0 .6 1 1.4 0 .6 4.4 8.4 0 .6 1 1.4 0 .6 1.3 2 0 .7 .7 .7 4.3 8.6 .7 .7 .3 1 .7 .7 .3 1 .7 .6 .6 1.4-1.8 .5-.3 .3-.7 0-.3 .3-1.4 0-1.3 .7-1.3 0-1.4 .7-.3-.4-1 .7-1.3 0-1 .7-.4-.4-1.3 .7-.3-.3-1 .6-1.4 0-.3 .4-2.3 .3-.4 .3-1 0-.3 .4-1.3 0-.4 .3-2.3 .3-.3 .4-.4-.4-1 .7-.3-.3-.3 .3-2.4 .3-.3 .4-2 .3-.3 .3-.4-.3-.3 .3-2.3 .4-1.4 .6-.3-.3-.3 .3-1 0-.4 .4-.3-.4-1.3 .7-1 0-.4 .3-.3-.3-.3 .3-2 .4-.4 .3-3 .3-.3 .4-1 0-.3 .3-.4-.3-1.3 .6-1.3 0-.4 .4-1 0-.3 .3-.3-.3-1.4 .6-1.3 0-.3 .4-1 0-1.4 .6-.3-.3-.3 .3-1 0-.4 .4-1.3 0-.3 .3-2.4 .3-1.3 .7-.3-.3-1 .6-.4-.3-1 .7-.3-.4-1.3 .7-2.4 .3-2.3 1-.3-.3-.4 .3-2.6 .7-1 .7-1 0-.7 .6-1 0-.3 .4z"/><path fill="#09ed00" d="M99.2 390.7l-.9-.5-.3-1-1-1-.7-1.4-3-3.6 0-.4-5.8-6.1-.3 0-1.7-1.7-.3 0-2.7-2-4.7-2.3-1.6-.4-.4-.3-.6 0-.4-.3-.6 0-1.4-.7-1.6-.3-.4-.4-1 0-1.3-.6-1 0-1.3-.7-1.4 0-.3-.3-1 0-.3-.4-1.7 0-.3-.3-5.4 0-.3 .3-2.7 .4-4 2-.5-.2 7.5-4.8 5.4-4.7 .3 0 9.2-9.2 0-.3 4-4 0-.3 8-9 0-.4 1.3-1.3 0-.3 2-2 0-.4 1.3-1.3 0-.3 2-2 0-.4 1.7-1.6 0-.4 1.7-1.6 0-.4 6.3-7 0-.3 4.3-4.3 0-.4 8.5-8.1 .4 0 2.6-2.4 .4 0 1.3-1.3 .3 0 3.7-2.7 3.3-1.6 1 0 .4-.4 4 0 .3 .4 1.3 0 .4 .3 1 0 .3 .3 2 .4 1 .6 .7 0 2.6 1.4 .7 .6 1.3 .7 1.4 1.3 .3 0 4.5 4.5 0 .4 1.3 1.3 0 .3 3.7 4.7 .3 1 3 4.3 1.4 3 1.6 2.4 .4 1.3 .6 .7 2.4 5 .6 .6 0 .7 1 1.3 0 .7 4.4 8.3 0 .7 .6 .7 .4 1.3 .6 .7 0 .6 4.4 8.4 0 .6 1 1.4 0 .6 1 1.4 .3 1.3 .7 .7 2.3 5 .7 .6 1.3 3 .7 .7 0 .7-1.9 .5-.3 .3-.7 0-.3 .3-.7-.3-.3 .3-2.7 .7-.3 .3-1.3 0-2 1-.7-.3-1 .7-1.3 0-1 .6-1.4 0-1 .7-.3-.3-1.3 .6-.4-.3-1 .7-1.3 0-.3 .3-1 0-.4 .3-2.3 .4-.3 .3-1 0-.4 .3-.3-.3-1 .7-.3-.4-1 .7-.4-.3-.3 .3-1 0-.3 .3-2 .4-.4 .3-.3-.3-.3 .3-2.4 .3-1.3 .7-.3-.3-.4 .3-1 0-.3 .3-.3-.3-.7 .7-.3-.4-1.4 .7-.3-.3-.3 .3-2 .3-.4 .4-.3-.4-1.3 .7-.4-.3-.3 .3-1 0-.3 .3-1.4 0-1.3 .7-.3-.3-.4 .3-.6 0-.4 .3-.3-.3-1.3 .7-.4-.4-.6 .7-.4-.3-.3 .3-2.7 .3-.3 .4-1.3 0-1.4 .6-.3-.3-.3 .3-1 0-1.4 .7-.3-.3-.3 .3-1 0-1.4 .7-3.6 .6-1.4 .7-.3-.3-1 .6-.7 0-1.3 .7-.3-.3-.4 .3-.6 0-.7 .7-1 0-2.3 1z"/><path fill="#29ed00" d="M96.8 386.7l-.6 0-.9-.9 0-.3-2-2.3 0-.4-5.8-6.1-.3 0-1.7-1.7-.3 0-2.7-2-4.7-2.3-1.6-.4-.4-.3-.6 0-.4-.3-.6 0-1.4-.7-1.6-.3-.4-.4-1 0-1.3-.6-1 0-1.3-.7-1.4 0-.3-.3-1 0-.3-.4-1.7 0-.3-.3-5.4 0-.3 .3-2.7 .4-4 2-.5-.2 7.5-4.8 5.4-4.7 .3 0 9.2-9.2 0-.3 4-4 0-.3 8-9 0-.4 1.3-1.3 0-.3 2-2 0-.4 1.3-1.3 0-.3 2-2 0-.4 1.7-1.6 0-.4 1.7-1.6 0-.4 6.3-7 0-.3 4.3-4.3 0-.4 8.5-8.1 .4 0 2.6-2.4 .4 0 1.3-1.3 .3 0 3.7-2.7 3.3-1.6 1 0 .4-.4 4 0 .3 .4 1.3 0 .4 .3 2.3 .3 2 1 .7 0 4.6 2.7 6.2 5.8 0 .4 1.3 1.3 0 .3 3 3.7 1 2 2 2.7 2.4 4.6 1.6 2.4 .4 1.3 .6 .7 2.4 5 .6 .6 0 .7 1 1.3 0 .7 4.4 8.3 0 .7 .6 .7 .4 1.3 .6 .7 0 .6 4.4 8.4 0 .6 1 1.4 0 .6 1 1.4 .3 1.3 .7 .7 2.3 5 .7 .6-1.5 .9-1 0-1.4 .6-1 0-.3 .4-.7 0-2.3 1-1.3 0-2.4 1-1.3 0-.3 .3-2 .3-1.4 .7-.3-.3-1 .6-1.3 0-1 .7-.4-.3-1.3 .6-.3-.3-1 .7-1 0-.4 .3-1 0-.3 .3-1 0-.3 .4-1 0-.4 .3-.3-.3-1 .6-.3-.3-.4 .3-2.3 .4-1.3 .6-.4-.3-.3 .3-1 0-.3 .4-2.7 .3-1.3 .7-.4-.4-1.3 .7-.3-.3-.4 .3-2 .3-.3 .4-.3-.4-1.4 .7-.3-.3-1.3 .6-.4-.3-1.3 .7-.3-.4-1.4 .7-3 .3-.3 .4-1 0-1.3 .6-.4-.3-1.3 .7-.3-.4-.4 .4-1.3 0-.3 .3-1 0-.4 .3-1.3 0-.3 .4-1 0-.4 .3-1.3 0-1.3 .7-.4-.4-1.3 .7-1 0-.3 .3-1 0-.4 .4-3.6 .6-.4 .4-.6 0-2.4 1-1 0-2 1z"/><path fill="#49ed00" d="M93.5 382.7l-.3 0-1.9-1.9 0-.3-3.8-3.8-.3 0-1.7-1.7-.3 0-2.7-2-4.7-2.3-1.6-.4-.4-.3-.6 0-.4-.3-.6 0-1.4-.7-1.6-.3-.4-.4-1 0-1.3-.6-1 0-1.3-.7-1.4 0-.3-.3-1 0-.3-.4-1.7 0-.3-.3-5.4 0-.3 .3-2.7 .4-4 2-.5-.2 7.5-4.8 5.4-4.7 .3 0 9.2-9.2 0-.3 4-4 0-.3 8-9 0-.4 1.3-1.3 0-.3 2-2 0-.4 1.3-1.3 0-.3 2-2 0-.4 1.7-1.6 0-.4 1.7-1.6 0-.4 6.3-7 0-.3 4.3-4.3 0-.4 4-3.6 0-.4 .9-.8 .3 0 3.3-3.3 .4 0 2.6-2.4 .4 0 1.3-1.3 .3 0 3.7-2.7 3.3-1.6 1 0 .4-.4 4 0 .3 .4 1.3 0 .4 .3 1 0 .3 .3 2 .4 1 .6 .7 0 2.6 1.4 .7 .6 1.3 .7 1.4 1.3 .3 0 4.5 4.5 0 .4 1.3 1.3 0 .3 3 3.7 1 2 2 2.7 2.4 4.6 1.6 2.4 .4 1.3 .6 .7 2.4 5 .6 .6 0 .7 1 1.3 0 .7 4.4 8.3 0 .7 .6 .7 0 .6 1 1.4 0 .6 8 16-.8 .2-.7 .7-1 0-.3 .3-2 .3-.3 .4-1 0-.4 .6-.6-.3-.4 .3-.6 0-.4 .4-.6 0-.4 .3-.6 0-2.4 1-1.3 0-2 1-.3-.3-.4 .3-2 .3-1.3 .7-.3-.3-1 .6-1 0-.4 .4-1.3 0-.3 .3-3.7 .7-.3 .3-1 0-.4 .3-2 .4-.3 .3-.3-.3-.4 .3-1 0-.3 .3-2.7 .4-1.3 .6-.3-.3-1.4 .7-.3-.4-1.3 .7-1.4 0-.3 .3-3 .4-1.3 .6-.4-.3-1.3 .7-.3-.4-.4 .4-1 0-1.3 .6-.3-.3-.4 .3-1.6 0-1.4 .7-.3-.3-.3 .3-1 0-.4 .3-1.6 0-.4 .4-1 0-.3 .3-2.7 .3-.3 .4-1.7 0-1.3 .6-.3-.3-.4 .3-1 0-.3 .4-1.3 0-1.4 .6-.3-.3-1.3 .7-1.4 0-.3 .3-2.3 .3-1 .7-1.4 0-.3 .3-.7 0-.3 .4-.7 0-2.3 1z"/><path fill="#68ed00" d="M89.5 378.7l-4-3.7-.3 0-2.7-2-4.7-2.3-1.6-.4-.4-.3-.6 0-.4-.3-.6 0-1.4-.7-1.6-.3-.4-.4-1 0-1.3-.6-1 0-1.3-.7-1.4 0-.3-.3-1 0-.3-.4-1.7 0-.3-.3-5.4 0-.3 .3-2.7 .4-1.3 .6-.5-.1 3.8-2.5 2.4-2.4 .3 0 1.7-1.6 .3 0 1.7-1.7 .3 0 9.2-9.2 0-.3 4-4 0-.3 8-9 0-.4 1.3-1.3 0-.3 2-2 0-.4 1.3-1.3 0-.3 2-2 0-.4 1.7-1.6 0-.4 1.7-1.6 0-.4 6.3-7 0-.3 4.3-4.3 0-.4 4-3.6 0-.4 .9-.8 .3 0 5-4.7 .3 0 2.7-2.3 .3 0 3.7-2.7 3.3-1.6 1 0 .4-.4 4 0 .3 .4 1.3 0 .4 .3 1 0 .3 .3 2 .4 1 .6 .7 0 2.6 1.4 .7 .6 1.3 .7 1.4 1.3 .3 0 4.5 4.5 0 .4 1.3 1.3 0 .3 3 3.7 1 2 2 2.7 2.4 4.6 1.6 2.4 .4 1.3 .6 .7 2.4 5 .6 .6 0 .7 1 1.3 0 .7 4.4 8.3 0 .7 .6 .7 .4 1.3 .6 .7 0 .6 6 12-.5 .5-1 0-1 .7-1 0-2 1-.6 0-1.4 .7-1 0-.3 .3-.7 0-2.3 1-1.3 0-2 1-1.4 0-1.3 .7-1.3 0-.4 .3-1 0-1 .7-.3-.4-1.3 .7-1 0-.4 .3-1 0-.3 .4-1 0-.3 .3-.4-.3-2 1-.3-.4-.3 .4-2.4 .3-1.3 .7-.3-.4-.4 .4-3 .3-1.3 .7-3 .3-1.3 .7-.4-.4-.3 .4-1 0-.3 .3-.4-.3-1.3 .6-1.7 0-.3 .4-1 0-.3 .3-.4-.3-.3 .3-1 0-.3 .3-1 0-.4 .4-.3-.4-.3 .4-1 0-.4 .3-2 0-.3 .3-2.7 .4-.3 .3-.3-.3-.4 .3-3 .3-.3 .4-1 0-.3 .3-.4-.3-.3 .3-3 .3-.3 .4-1 0-.4 .3-.3-.3-.3 .3-1.4 0-.3 .3-1 0-.3 .4-1.4 0-.3 .3-1 0-.3 .3-1.4 0-.3 .4-2.3 .3-1.4 .7-.6 0-1.7 1z"/><path fill="#86ed00" d="M83.5 373.7l-5.7-3-1.6-.4-.4-.3-.6 0-.4-.3-.6 0-1.4-.7-1.6-.3-.4-.4-1 0-1.3-.6-1 0-1.3-.7-1.4 0-.3-.3-1 0-.3-.4-6.2-.5 3.3-3 2.4-5 12-12.3 0-.3 8-9 0-.4 1.3-1.3 0-.3 2-2 0-.4 1.3-1.3 0-.3 2-2 0-.4 1.7-1.6 0-.4 1.7-1.6 0-.4 6.3-7 0-.3 4.3-4.3 0-.4 4-3.6 0-.4 .9-.8 .3 0 5-4.7 .3 0 2.7-2.3 .3 0 3.7-2.7 3.3-1.6 1 0 .4-.4 4 0 .3 .4 1.3 0 .4 .3 2.3 .3 2 1 .7 0 4.6 2.7 6.2 5.8 0 .4 1.3 1.3 0 .3 3 3.7 1 2 2 2.7 2.4 4.6 1.6 2.4 .4 1.3 .6 .7 2.4 5 .6 .6 0 .7 1 1.3 0 .7 4.4 8.3 0 .7 .6 .7 .4 1.3 .6 .7 0 .6 4 8-.5 .5-1.6 .4-1 .6-2.4 .4-.3 .6-1 0-1.3 .7-1 0-.4 .3-.6 0-2.4 1-1.3 0-2 1-1.3 0-1.4 .7-.3-.3-1.7 1-.3-.4-1.3 .7-.4-.3-1 .6-.3-.3-1 .7-.3-.4-1 .7-.4-.3-2 1-.3-.4-.3 .4-1 0-.4 .3-.3-.3-1.3 .6-2.7 .4-.3 .3-1.4 0-.3 .3-2 .4-.3 .3-.4-.3-.3 .3-1.7 0-1.3 .7-.3-.4-.4 .4-1 0-.3 .3-1 0-.3 .3-.4-.3-.3 .3-1.3 0-.4 .4-1 0-.3 .3-.3-.3-.4 .3-1.3 0-.3 .3-1.4 0-.3 .4-1.7 0-.3 .3-.3-.3-1.4 .6-.3-.3-.3 .3-1.7 0-.3 .4-2 0-.4 .3-2 0-.3 .3-2 0-.3 .4-1.4 0-.3 .3-5 .3-.3 .4-1.7 0-.3 .3-2 0-.4 .3-1.6 0-.4 .4-4 .3-.3 .3-1.3 0-1.4 .7-1 0-1.3 .7z"/><path fill="#a4ed00" d="M95.2 365.7l-.4-.4-.6 0-.4 .4-2.6-.4-.7 .4-.3-.4-3.7 0-.3-.3-3.7-.3-.3-.4-1 0-1.4-.6-1 0-.3-.4-3.7-1-1-.6-.6 0-1.4-1-.6 0-2.9-3.2 0-.7-.3-.3 0-3.3 .3-.4 0-.6 6.4-6.7 0-.3 8-9 0-.4 1.3-1.3 0-.3 2-2 0-.4 1.3-1.3 0-.3 2-2 0-.4 1.7-1.6 0-.4 1.7-1.6 0-.4 6.3-7 0-.3 4.3-4.3 0-.4 4-3.6 0-.4 .9-.8 .3 0 3.3-3.3 .4 0 2.6-2.4 .4 0 1.3-1.3 .3 0 3.7-2.7 3.3-1.6 1 0 .4-.4 4 0 .3 .4 1.3 0 .4 .3 2.3 .3 2 1 .7 0 4.6 2.7 6.2 5.8 0 .4 1.3 1.3 0 .3 3 3.7 1 2 2 2.7 2.4 4.6 1.6 2.4 .4 1.3 .6 .7 2.4 5 .6 .6 0 .7 1 1.3 0 .7 4.4 8.3 0 .7 .6 .7 .4 1.3 .6 .7 0 .6 2 4-.5 .5-.6 0-.7 .7-1.3 0-.7 .7-1 0-.7 .6-1 0-1.3 .7-1 0-.3 .3-.7 0-.3 .4-.7 0-.3 .3-.7 0-2.3 1-1.4 0-1.6 1-.7-.3-1 .6-2.7 .4-1 .6-.3-.3-.3 .3-2.4 .4-.3 .3-2 .3-.3 .4-.4-.4-1.3 .7-1 0-.3 .3-.4-.3-1.3 .7-.3-.4-.7 .7-.3-.3-.4 .3-1.3 0-1 .7-.3-.4-.4 .4-1 0-.3 .3-.3-.3-.4 .3-1 0-.3 .3-.3-.3-1 .7-.4-.4-.3 .4-1.3 0-.4 .3-.3-.3-.3 .3-1.4 0-.3 .3-1.3 0-.4 .4-1.6 0-.4 .3-.3-.3-.3 .3-1 0-.4 .3-4.6 .4-.4 .3-1.6 0-.4 .3-.6-.3-.4 .3-2 0-.3 .4-2.7 0-.3 .3-.7-.3-.3 .3-2.7 0-.3 .3-6 0-.3 .4z"/><path fill="#c1ed00" d="M107.2 360l-.4-.3-.6 0-.4 .3-.3-.3-.3 .3-7.7 0-.3-.3-5.7-.4-.3-.3-1 0-.4-.3-1.3 0-1-.7-1.3 0-2-1-1 0-1-.7-1.7-.3-1-.7-.7 0-1.3-.6-.7-.7-1.3-.7-1.5-1.5-1-2 0-2.6 9.7-11 0-.4 1.3-1.3 0-.3 2-2 0-.4 1.3-1.3 0-.3 2-2 0-.4 1.7-1.6 0-.4 1.7-1.6 0-.4 6.3-7 0-.3 4.3-4.3 0-.4 4-3.6 0-.4 .9-.8 .3 0 5-4.7 .3 0 2.7-2.3 .3 0 3.7-2.7 3.3-1.6 1 0 .4-.4 4 0 .3 .4 1.3 0 .4 .3 2.3 .3 2 1 .7 0 2.6 1.4 .7 .6 1.3 .7 1.4 1.3 .3 0 4.5 4.5 0 .4 1.3 1.3 0 .3 3 3.7 1 2 3 4.3 1.4 3 1.6 2.4 .4 1.3 .6 .7 2.4 5 .6 .6 0 .7 1 1.3 0 .7 4.4 8.3 0 .7 .6 .7 0 .6 1 1.4 0 1-1.8 .8-.7 0-.6 .7-1.4 0-.6 .6-2.4 .4-1.3 1-1 0-1.3 .6-1.4 0-1.3 .7-.7 0-1 .7-.6-.4-1.7 1-.3-.3-1.4 .7-1 0-.3 .3-3.7 .7-1.3 .6-.3-.3-.4 .3-1 0-1.3 .7-.3-.3-1.4 .6-.3-.3-1.3 .7-1.7 0-.3 .3-1 0-.4 .3-.3-.3-.3 .3-1 0-.4 .4-1 0-.3 .3-.3-.3-.4 .3-1.3 0-.3 .3-1.4 0-.3 .4-1.3 0-.4 .3-.6-.3-.4 .3-1 0-.3 .3-.3-.3-.4 .3-1.3 0-.3 .4-3 0-.4 .3-1.3 0-.3 .3-3.7 0-.3 .4-.7-.4-.3 .4-2.7 0-.3 .3z"/><path fill="#deed00" d="M107.2 355l-.7-.3-5.7 0-.3-.4-2.7 0-.3-.3-1.3 0-.4-.3-1.3 0-.3-.4-1 0-1.4-.6-2-.4-1-.6-1 0-1-.7-.6 0-2.7-1.3-.7 0-.6-.7-2-1-2.2-2.2 0-.6-.7-1 0-2 5.4-6 0-.4 1.3-1.3 0-.3 2-2 0-.4 3.3-3.6 0-.4 1.7-1.6 0-.4 1.7-1.6 0-.4 2.3-2.3 0-.3 4-4.4 0-.3 4.3-4.3 0-.4 8.5-8.1 .4 0 2.6-2.4 .4 0 1.3-1.3 .3 0 3.7-2.7 3.3-1.6 1 0 .4-.4 4 0 .3 .4 1.3 0 .4 .3 1 0 .3 .3 2 .4 1 .6 .7 0 2.6 1.4 .7 .6 1.3 .7 1.4 1.3 .3 0 4.5 4.5 0 .4 1.3 1.3 0 .3 3.7 4.7 .3 1 3 4.3 1.4 3 1.6 2.4 .4 1.3 .6 .7 2.4 5 .6 .6 0 .7 1 1.3 0 .7 4.4 8.7-1.9 .5-.6 .6-2 .4-.4 .6-1.3 0-1.7 1-1 0-.3 .4-.7 0-.3 .3-.7 0-2.3 1-1.3 0-2 1-.4-.3-1 .6-2.6 .4-.4 .3-1 0-.3 .3-2 .4-.3 .3-.4-.3-.6 .6-.4-.3-.3 .3-1.3 0-1.4 .7-.3-.3-1.3 .6-.4-.3-.3 .3-2.3 .4-.4 .3-.3-.3-.3 .3-2.7 .3-.3 .4-.4-.4-1.3 .7-.3-.3-.7 .3-1.7 0-1.3 .7-.7-.4-.3 .4-1.7 0-.3 .3-3 0-.3 .3-2.4 0-.3 .4-.7-.4-.3 .4-7 0-.3 .3z"/><path fill="#ede800" d="M113.8 350l-.3-.3-.3 .3-.4-.3-.3 .3-.7-.3-1.3 .3-.3-.3-5.7 0-.3-.4-2 0-.4-.3-3.3-.3-1.3-.7-1 0-1.4-.7-1.6-.3-1-.7-1 0-.7-.6-1 0-5-2.7-2.5-2.5-.7-1.3 0-1.7 2.7-3 0-.3 2-2 0-.4 1.3-1.3 0-.3 3.7-4 0-.4 1.7-1.6 0-.4 2.3-2.3 0-.3 4-4.4 0-.3 4.3-4.3 0-.4 8.5-8.1 .4 0 2.6-2.4 .4 0 1.3-1.3 .3 0 3.7-2.7 3.3-1.6 1 0 .4-.4 4 0 .3 .4 1.3 0 .4 .3 2.3 .3 2 1 .7 0 2.6 1.4 .7 .6 1.3 .7 1.4 1.3 .3 0 4.5 4.5 0 .4 1.3 1.3 0 .3 3 3.7 1 2 3 4.3 1.4 3 1.6 2.4 .4 1.3 .6 .7 2.4 5 .6 .6 0 .7 1 1.3 0 .7 2.4 4.7-2.2 1.1-1.7 .4-1 .6-1 0-1.6 1-1 0-1.4 .7-2.6 .7-1 .6-.7-.3-1.7 1-2.6 .3-.4 .4-1 0-1.3 .6-1 0-.3 .4-.4-.4-1.3 .7-1 0-.3 .3-1.7 0-1.3 .7-.4-.3-.3 .3-2.3 .3-.4 .4-.6-.4-.4 .4-1 0-.3 .3-1.7 0-.3 .3-1.7 0-.3 .4-5.7 .3-.3 .3-1.7 0-.3 .4-5.3 0-.4 .3z"/><path fill="#edd600" d="M118.8 345l-.6-.3-.4 .3-.3-.3-.3 .3-5 0-.4-.3-1 0-.3 .3-.3-.3-2.7 0-.3-.4-2 0-.4-.3-3-.3-1.3-.7-1 0-.3-.3-2.7-.7-4.7-2.3-.6 0-1.4-.7-.6-.7-1-.3-2.2-2.5-.7-1.3 0-1.4 2-2.3 0-.3 5.4-6 0-.4 2.3-2.3 0-.3 4-4.4 0-.3 4.3-4.3 0-.4 8.5-8.1 .4 0 2.6-2.4 .4 0 1.3-1.3 .3 0 3.7-2.7 3.3-1.6 1 0 .4-.4 4 0 .3 .4 1.3 0 .4 .3 2.3 .3 2 1 .7 0 4.6 2.7 3 2.7 4.5 4.8 0 .3 3 3.7 1 2 3 4.3 1.4 3 1.6 2.4 .4 1.3 .6 .7 2.4 5 .6 .6 0 .7 1 1.3 .4 1.4-.5 .5-1.7 .3-1.3 1-1.4 0-.6 .7-.7 0-1 .6-1.7 .4-.3 .3-2.7 .7-.3 .3-1.3 0-1 .7-2.7 .3-.3 .3-2 .4-.4 .3-1 0-1.3 .7-.3-.4-1.4 .7-.3-.3-.3 .3-1 0-1.4 .7-.3-.4-1 .7-.7-.3-.3 .3-1 0-.3 .3-1.7 0-.3 .4-.4-.4-.3 .4-1 0-.3 .3-.7-.3-.3 .3-1.4 0-.3 .3-7.3 .4-.4 .3z"/><path fill="#edbf00" d="M123.8 340l-.3-.3-.7 0-.3 .3-9 0-.7-.3-.3 .3-.3-.3-2.4 0-.3-.4-1.3 0-.4-.3-1.3 0-.3-.3-1.4 0-1.3-.7-1 0-3.3-1.7-1 0-1.7-1-.7 0-.6-.6-.7 0-.7-.7-1.6-.7-.2-.5-.5-.1-1.8-2.2 0-.7-.7-1.3 2-2.3 0-.4 1.7-1.6 0-.4 6.3-7 0-.3 4.3-4.3 0-.4 8.5-8.1 .4 0 2.6-2.4 .4 0 1.3-1.3 .3 0 3.7-2.7 3.3-1.6 1 0 .4-.4 4 0 .3 .4 1.3 0 .4 .3 1 0 .3 .3 2 .4 1 .6 .7 0 2.6 1.4 .7 .6 1.3 .7 1.4 1.3 .3 0 4.5 4.5 0 .4 1.3 1.3 0 .3 3 3.7 1 2 2 2.7 2.4 4.6 1.6 2.4 .4 1.3 .6 .7 2.4 5-1.2 .8-1.7 .3-.6 .7-1.7 .3-1.7 1-1 0-1.3 .7-2.7 .7-.3 .3-1 0-1 .7-1.3 0-.4 .3-1 0-1.3 .7-2.7 .3-.3 .3-1.7 0-.3 .4-2.3 .3-.4 .3-.3-.3-.3 .3-3 .4-.4 .3-2.3 0-.3 .3-1.7 0-.3 .4-3 0-.4 .3z"/><path fill="#eda600" d="M125.8 335l-10.3 0-.3-.3-4.7-.4-.3-.3-1 0-.4-.3-1 0-.3-.4-2-.3-3.3-1.7-.7 0-1.7-1-.6 0-1.4-1-1.6-.6-2.2-2.2-.7-1.3-.3-1.7 2-2 0-.3 4-4.4 0-.3 4.3-4.3 0-.4 2.9-2.8 .3 0 1.7-2 .3 0 5-4.7 .3 0 2.7-2.3 .3 0 3.7-2.7 3.3-1.6 1 0 .4-.4 4 0 .3 .4 1.3 0 .4 .3 1 0 .3 .3 2 .4 1 .6 .7 0 2.6 1.4 .7 .6 1.3 .7 1.4 1.3 .3 0 4.5 4.5 0 .4 1.3 1.3 0 .3 3 3.7 1 2 2 2.7 2.4 4.6 1.6 2.4 .4 1.3 .6 .7 .4 1-3.5 1.8-1 0-.7 .7-1 0-1.7 1-.6 0-1.4 .6-1.3 0-1 .7-1.3 0-.7 .7-.3-.4-1 .7-.4-.3-.3 .3-1 0-1.3 .7-.4-.4-.3 .4-2 .3-.3 .3-.4-.3-.3 .3-1.3 0-.4 .4-1.3 0-.3 .3-4.4 .3-.3 .4-3.3 0-.4 .3z"/><path fill="#ed8b00" d="M128.2 330l-10.4 0-.3-.3-2 0-.3-.4-1.4 0-.3-.3-1.7 0-.3-.3-3.7-1-.6-.7-1 0-2.4-1.3-.6 0-.7-.7-1.7-.7-1-1-.3 0-1.8-2.1 0-.7-.7-1.3 2-2.4 0-.3 4.3-4.3 0-.4 8.5-8.1 .4 0 2.6-2.4 .4 0 1.3-1.3 .3 0 3.7-2.7 3.3-1.6 1 0 .4-.4 4 0 .3 .4 1.3 0 .4 .3 1 0 .3 .3 2 .4 1 .6 .7 0 2.6 1.4 .7 .6 1.3 .7 1.4 1.3 .3 0 4.5 4.5 0 .4 1.3 1.3 0 .3 3 3.7 1 2 3 4.3 1.4 3 1 1.4-2.9 1.5-1.6 .3-1.7 1-1 0-1.3 .7-.7 0-1 .6-1.3 0-1 .7-.4-.3-1 .6-.3-.3-1.3 .7-1 0-.4 .3-1 0-.3 .3-1.7 0-1 .7-.6-.3-.4 .3-1.3 0-.3 .3-5.7 .4-.3 .3z"/><path fill="#ed6e00" d="M130.2 325l-.7 0-.3-.3-.4 .3-6.6 0-.4-.3-.6 .3-.4-.3-4-.4-1.3-.6-1.3 0-.4-.4-2.6-.6-1.7-1-.7 0-2.6-1.4-1.7-1.3-.3 0-.2-.5-1.3-1-1-1.7 0-2 1.6-1.6 0-.4 8.5-8.1 .4 0 2.6-2.4 .4 0 1.3-1.3 .3 0 3.7-2.7 3.3-1.6 1 0 .4-.4 4 0 .3 .4 1.3 0 .4 .3 1 0 .3 .3 2 .4 1 .6 .7 0 2.6 1.4 .7 .6 1.3 .7 6.2 5.8 0 .4 1.3 1.3 0 .3 3 3.7 1 2 3 4.3-1.5 1.2-1.6 .3-1.7 1-3.7 1-1 .7-.3-.3-1 .6-1 0-.3 .4-2.4 .3-.3 .3-1.3 0-.4 .4-1.3 0-.3 .3-1.4 0-.3 .3-.7-.3-.3 .3-1 0-.3 .4-2.7 0-.3 .3z"/><path fill="#ed5000" d="M132.2 319.7l-8.4 0-.3-.4-2 0-.3-.3-1.4 0-.3-.3-1.3 0-.4-.4-1.6-.3-1-.7-.7 0-4-2-.7-.6-1-.4-.1-.5-.9-.5-1.5-2.5 0-1.6 1-1 0-.4 4.5-4.1 .4 0 2.6-2.4 .4 0 1.3-1.3 .3 0 3.7-2.7 3.3-1.6 1 0 .4-.4 4 0 .3 .4 1.3 0 .4 .3 2.3 .3 2 1 .7 0 4.6 2.7 3 2.7 4.5 4.8 0 .3 3 3.7 1.4 2.3-2.2 1.2-.7 0-1 .7-.6 0-2.7 1.3-1.3 0-.4 .3-2 .4-1.3 .6-.3-.3-.4 .3-1 0-.3 .4-1.3 0-.4 .3-1.3 0-.3 .3-2.7 0-.3 .4z"/><path fill="#ed3100" d="M134.5 314l-8.3 0-.4-.3-.3 .3-.3-.3-2.7-.4-1.3-.6-1 0-1.7-1-.7 0-4.8-3.2-1-1.7 0-1-.3-.3 .3-.3 .3-1.7 4.2-3.5 .3 0 3.7-2.7 3.3-1.6 1 0 .4-.4 4 0 .3 .4 1.3 0 .4 .3 2.3 .3 2 1 .7 0 4.6 2.7 6.2 5.8 0 .4 1.3 1.3 0 .3 1.4 1.7-5.9 2.5-1 0-1.3 .7-2.3 .3-.4 .3-.3-.3-.3 .3-1.4 0-.3 .4-1.7 0-.3 .3z"/><path fill="#ed1100" d="M132.8 308l-.3-.3-.3 .3-.4-.3-3 0-.3-.4-1.7 0-.3-.3-1.7-.3-1.3-.7-.7-.7-.6 0-.7-.6-.3 0-2.2-2.2 0-2.3 1-1.7 2.5-2.2 1.3-.6 1 0 .4-.4 4 0 .3 .4 1.3 0 .4 .3 1 0 .3 .3 2 .4 1 .6 .7 0 2.6 1.4 .7 .6 1.3 .7 1.4 1.3 .3 0 3.2 3.2-.2 .5-.7 0-1 .7-.6 0-2 1-1 0-.4 .3-1 0-.3 .3-1.3 0-.4 .4-3.6 0-.4 .3z"/></g>
<path d="M146.4 436.8l-8.4 .1-8.6 .8M156.5 431.5l-14.4 .2-16.6 2.1M166.4 426.3l-9.7-.4-10.3 .6-11.5 1.3-12.4 2.3M176.1 421.1l-11.1-.5-13.9 .8-15.7 2-15.5 3.2M185.7 415.9l-13.4-.7-17 1.2-19.7 2.8-17.9 3.9M195.4 410.7l-7.3-.7-7.6-.2-18.7 1.3-25.2 3.8-21 4.9M205.1 405.5l-7.7-.9-8.5-.2-9.8 .4-10.9 1.1-15.3 2.1-14.9 2.7-13.2 2.8-11.2 2.9M206.1 399l-8.3-.2-8.8 .4-22.8 2.6-32.1 5.7-12.4 2.8-10 2.8M199 393.3l-18.8 2.1-26.9 4.4-26.3 5.4-17.1 4.6M194.6 388.6l-24 4-30 5.8-19.3 4.3-13.2 3.8M191.1 384.4l-60.4 12.3-14 3.3-10.4 3.2M188.2 380.4l-64 14-11.4 2.8-8.3 2.7M185.6 376.6l-21.2 5.1-45.3 10-16.5 4.8M183.3 372.8l-23.5 6.1-44.7 10-14.5 4.3M181.2 369.2l-24.6 6.6-45.6 10.2-12.6 3.8M179.2 365.6l-21.9 6.1-48.5 10.8-12.7 3.8M177.3 362l-11.3 3.5-13.4 3.6-47.6 10.3-11.6 3.3M50.5 367.5l4.7-3.2M175.5 358.5l-12.4 4-15.3 4-17.7 3.9-29.7 5.8-10.3 2.8M55.2 366.1l3.3-2.5 3.2-4.7M173.7 355l-14.5 4.7-18.1 4.6-20 4-28.5 4.7-7.2 1.9M172 351.5l-17.8 5.7-22.3 5.3-23.4 3.8-19.8 1.6-5.9-.1-4.6-.5-5.9-1.7-3.3-1.5-1.9-1.7-1-2.1-.1-2.8 .6-3.3M170.3 348l-15.7 5.3-19.1 4.6-19.4 3.3-16.3 1.4-6.7-.2-5-.6-4.8-1.2-6.8-2.5-2.9-1.7-1.8-1.8-.9-2.3 0-2.6M168.6 344.5l-13.9 4.9-17.3 4.3-17.6 3.1-15.2 1.1-5.9-.2-5.6-.7-4.8-1.3-6.5-2.3-3.2-1.6-2.2-1.8-1.2-2.1-.4-2.5M166.9 341l-12.9 4.7-16.1 4.1-15.8 2.7-14 1-5.8-.3-5.5-.8-4.7-1.3-6.2-2.3-3.3-1.6-2.2-1.7-1.4-2.1-.5-2.2M165.3 337.5l-12 4.5-14.6 3.8-14.4 2.4-12.9 .9-5.8-.3-5-.7-4.8-1.3-5.9-2.2-3.4-1.6-2.3-1.8-1.6-2-.5-2.2M163.5 334.1l-10.9 4.1-13.2 3.5-14 2.4-11.7 .6-5.6-.3-4.9-.8-9.9-3.4-3.3-1.6-2.4-1.7-1.4-1.9-.7-2.2M161.8 330.5l-10.6 4.1-12.6 3.3-12 2-11.2 .5-4.9-.4-4.8-.8-9.4-3.4-3.3-1.6-2.1-1.6-1.4-1.9-.5-2M160 327l-9.3 3.7-11.5 3.1-11.3 1.8-10.2 .4-9.1-1.2-9.4-3.4-2.9-1.5-2.1-1.7-1.2-1.7-.5-2M158.1 323.5l-8.7 3.5-10.1 2.7-10.9 1.7-9 .2-8.8-1.3-8.5-3.3-2.8-1.6-1.7-1.5-1.1-1.8-.4-1.7M156.1 319.8l-8.1 3.4-9.6 2.5-9.2 1.3-8.5 .1-8-1.4-7.8-3.3-3.9-2.9-.9-1.6-.3-1.8M154 316.2l-7.3 3-8.5 2.2-8.7 1.1-7.3-.1-7.1-1.4-7-3.1-3.4-2.9-.7-1.6-.1-1.7M151.5 312.4l-6.3 2.7-7.6 1.9-7.2 .8-6.8-.2-6.3-1.6-6.2-3.1-2.4-2.7-.4-1.6 .2-1.5M148.7 308.4l-5.5 2.4-6.3 1.5-6.3 .5-5.5-.5-5.3-1.6-4.8-2.9-1.1-1.3-.4-1.5 .1-1.5 .7-1.4M145.1 304.1l-4.5 1.9-5.4 1-5.3 0-4.5-1.1-4-2.5-.9-1.1-.5-1.2 .3-1.4 .9-1.4 3.6-2.6" fill="none" stroke="#000" stroke-opacity="0.45" stroke-width="0.3"/>
<path d="M62.2 374.7h0M181.1 367.1h0M141 299.8h0M95.5 374.1h0M157.7 407h0M172.1 398.3h0M97.6 317.2h0M177.3 402h0M84.1 321.1h0M78.5 362.3h0M199.7 421.6h0M137.6 419.8h0M157.7 333.9h0M130.8 398.5h0M94.2 328.6h0M89 312.5h0M85.5 337.2h0M85.8 351h0M121.5 429.7h0M179.2 376.7h0M92.9 341.9h0M86.6 356.2h0M155.7 419.9h0M150.3 376.6h0M181.2 398h0M120.5 416.7h0M109.3 350.8h0M84 393.2h0M136.1 449.8h0M138.8 432.9h0M108.9 344h0M158.7 326.6h0M101.9 359.7h0M75.5 326.2h0M149.5 390.1h0M145.1 383.5h0M101.2 309.1h0M133.1 293.9h0M130.4 373.3h0M139.4 329.9h0M89.7 394.3h0M169.9 429.2h0M160.1 351.9h0M172.9 329.5h0M99.1 347.1h0M144.6 397.4h0M98.4 324h0M178.6 414.3h0M62.1 394.2h0M179.9 360h0M177.4 367h0M169.7 413.9h0M99.8 394.4h0M178.7 363.2h0M198.8 413.4h0M169.2 342.1h0M80.5 362.7h0M200.4 422.2h0M128.3 334.9h0M205.7 413h0M155.7 414.1h0M156.2 364.1h0" stroke="#000" stroke-width="2.3" stroke-linecap="round"/></g>
<g><path d="M40.6 689.2L116.7 659.1L203.5 684.7M40.6 672L116.7 641.9L203.5 667.5M40.6 654.9L116.7 624.8L203.5 650.4M40.6 637.7L116.7 607.6L203.5 633.2M40.6 620.6L116.7 590.5L203.5 616.1M40.6 603.5L116.7 573.4L203.5 599M40.6 697.1L116.7 667L116.7 558.2M48.5 699.4L124.6 669.3L124.6 560.5M56.4 701.8L132.5 671.7L132.5 562.9M64.3 704.1L140.4 674L140.4 565.2M72.2 706.4L148.3 676.3L148.3 567.5M80.1 708.7L156.2 678.6L156.2 569.8M87.9 711.1L164 681L164 572.2M95.8 713.4L171.9 683.3L171.9 574.5M103.7 715.7L179.8 685.6L179.8 576.8M111.6 718L187.7 687.9L187.7 579.1M119.5 720.4L195.6 690.3L195.6 581.5M127.4 722.7L203.5 692.6L203.5 583.8M131.7 721L44.9 695.4L44.9 586.6M148.6 714.3L61.8 688.7L61.8 579.9M165.4 707.7L78.7 682L78.7 573.2M182.3 701L95.5 675.4L95.5 566.6M199.2 694.3L112.4 668.7L112.4 559.9" stroke="#dcdcdc" stroke-width="0.4" fill="none" stroke-dasharray="1 .6"/>
<path d="M40.6 697.1L40.6 588.3M116.7 667L116.7 558.2M203.5 692.6L203.5 583.8M40.6 588.3L116.7 558.2M116.7 558.2L203.5 583.8M40.6 697.1L127.4 722.7M127.4 722.7L203.5 692.6" stroke="#a8a8a8" stroke-width=".55" fill="none"/>
<path d="M40.6 697.1L116.7 667M116.7 667L203.5 692.6" stroke="#9a9ad8" stroke-width=".55" fill="none"/>
<g fill-rule="evenodd"><path fill="#0012ed" d="M127.5 672.7l-1.3-.4-.4-.3-1 0-1.3-.7-1 0-1.3-.6-1 0-1.4-.7-1 0-1.3-.7-1 0-1.3-.6-1 0-1.4-.7-2.3-.3-1.3-.7-1 0-1.4-.7-1 0-1.3-.6-2.3-.4-.4-.3-2-.3-1.3-.7-1 0-1.3-.7-1 0-1.4-.6-1 0-.3-.4-1 0-.3-.3-2-.3-1.4-.7-1 0-1.3-.7-1 0-1.3-.6-1 0-1.4-.7-1 0-1.3-.7-1 0-1.3-.6-1 0-1.4-.7-2.3-.3-.3-.4-2-.3-1.4-.7-1 0-1.3-.6-2.3-.4-1.4-.6-1 0-1.3-.7-1 0-1.3-.7-1 0-1.4-.6-1 0-1.3-.7-1 0-1.3-.7-1 0-1.4-.6-1 0-.3-.4-2-.3-1.3-.7-1 0-.9-.5 1.5-.8 .7 0 3-1.7 .7 0 6-3 .6-.6 1-.4 .7-.6 1-.4 .7-.6 2-1 4-3.4 .3 0 7.8-7.8 0-.3 4.4-4.7 1-1.7 4.6-5 0-.3 5.5-5.5 .4 0 1.6-1.7 .4 0 3.6-3 1-.3 .7-.7 1-.3 2.3-1.7 6-3 1.7-.3 .3-.3 1.4 0 .3-.4 6.3 0 .4 .4 1.3 0 1.3 .6 1 0 .4 .4 2 .3 1.3 .7 2.3 .3 1.4 .7 1 0 1.3 .6 1 0 1.3 .7 1 0 1.4 .7 1 0 .3 .3 2 .3 1.3 .7 2.4 .3 1.3 .7 1 0 1.3 .7 1 0 .4 .3 2 .3 1.3 .7 1 0 1.3 .7 2.4 .3 1.3 .7 1 0 1.3 .6 2 .4 .4 .3 1 0 1.3 .7 2 .3 .3 .3 1 0 1.4 .7 2.3 .3 1.3 .7 1 0 1.4 .7 1 0 1.3 .6 1 0 .3 .4 2 .3 1.4 .7 2.3 .3 1.3 .7 1 0 .4 .3 2 .3 1.3 .7 1 0 1.3 .7 1 0 1.4 .6 1 0 1.3 .7 1 0 .3 .3 1 0 .4 .4 2 .3 1.3 .7 1 0 1.3 .6 1 0 1.9 .9-1.2 .1-1.3-.6-2.7-.4-.3-.3-3.7 0-.3 .3-1.7 0-.3 .4-2.7 .6-9.3 5-1 1-2.4 1.4-3 2.6-.3 0-7.2 7.2 0 .3-2.3 2.4 0 .3-1.3 1.3 0 .4-4 4.3 0 .3-1.7 1.7 0 .3-6.5 6.5-.3 0-1.7 1.7-.3 0-1.4 1.3-2.3 1.4-1.7 1.3-2.6 1.3-.7 .7-12 5.7z"/><path fill="#0035ed" d="M127.5 672.7l-1.3-.4-.4-.3-1 0-1.3-.7-1 0-1.3-.6-1 0-1.4-.7-1 0-1.3-.7-1 0-1.3-.6-1 0-1.4-.7-2.3-.3-1.3-.7-1 0-1.4-.7-1 0-1.3-.6-1 0-.3-.4-1 0-1.4-.6-1 0-1.3-.7-2-.3-.7-1-1-.4-.3-.6-4.3-2-.7-.7-5.3-2.7-.7 0-2.3-1.3-.7 0-.7-.7-2.3-.6-3-1.7-.7 0-1-.7-.6 0-1-.6-.7 0-2.7-1.4-.6 0-1.7-1-1.7-.3-2.6-1.3-1.7-.4-1-.6-1.7-.4-1-.6-.6 0-1-.7-1.7-.3-.8-.5 2.1-1.5 1-.4 .7-.6 1-.4 .7-.6 1-.4 3.3-2.6 .3 0 1.4-1.4 .3 0 7.8-7.8 0-.3 4.4-4.7 1-1.7 4.6-5 0-.3 7.5-7.2 .4 0 3.6-3 1-.3 .7-.7 1-.3 2.3-1.7 6-3 1.7-.3 .3-.3 1.4 0 .3-.4 6.3 0 .4 .4 1.3 0 1.3 .6 1 0 .4 .4 2 .3 1.3 .7 2.3 .3 1.4 .7 1 0 1.3 .6 1 0 1.3 .7 1 0 1.4 .7 1 0 .3 .3 2 .3 1.3 .7 2.4 .3 1.3 .7 1 0 1.3 .7 1 0 .4 .3 2 .3 1.3 .7 1 0 1.3 .7 2.4 .3 1.3 .7 1 0 1.3 .6 2 .4 .4 .3 1 0 1.3 .7 2 .3 .3 .3 1 0 1.4 .7 2.3 .3 1.3 .7 1 0 1.4 .7 1 0 1.3 .6 1 0 .3 .4 2 .3 1.4 .7 2.3 .3 1.3 .7 1 0 .4 .3 2 .3 1.3 .7 1 0 1.3 .7 1 0 1.4 .6 1 0 1.3 .7 1 0 .3 .3 1 0 .4 .4 2 .3 1.3 .7 1 0 1.3 .6 1 0 1.9 .9-1.2 .1-1.3-.6-2.7-.4-.3-.3-3.7 0-.3 .3-1.7 0-.3 .4-2.7 .6-9.3 5-1 1-2.4 1.4-3 2.6-.3 0-7.2 7.2 0 .3-2.3 2.4 0 .3-1.3 1.3 0 .4-4 4.3 0 .3-1.7 1.7 0 .3-6.5 6.5-.3 0-1.7 1.7-.3 0-1.4 1.3-2.3 1.4-1.7 1.3-2.6 1.3-.7 .7-12 5.7z"/><path fill="#0058ed" d="M133.5 670l-4-2-.7 0-1-.7-2.3-.6-1.7-1-1.6-.4-.7-.6-.7 0-2-1-1.6-.4-3.4-1.6-.6 0-2-1-1.7-.4-1.7-1-1.6-.3-1-.7-2.7-.6-.3-.4-.7 0-1-.6-1.7-.4-1-.6-3.6-1-2.7-1.4-2-.3-2.7-1.3-1 0-2-1-2.6-.7-1-.7-3.7-1-1-.6-1 0-1-.7-2.7-.7-1-.6-1 0-2-1-1 0-1-.7-4.6-1.3-1-.7-1 0-1-.7-1 0-1.2-.8 3.2-1.8 4-3.4 .3 0 7.8-7.8 0-.3 4.4-4.7 1-1.7 4.6-5 0-.3 7.5-7.2 .4 0 3.6-3 1-.3 .7-.7 1-.3 2.3-1.7 6-3 1.7-.3 .3-.3 1.4 0 .3-.4 6.3 0 .4 .4 1.3 0 1.3 .6 1 0 .4 .4 2 .3 1.3 .7 2.3 .3 1.4 .7 1 0 1.3 .6 1 0 1.3 .7 1 0 1.4 .7 1 0 .3 .3 2 .3 1.3 .7 2.4 .3 1.3 .7 1 0 1.3 .7 1 0 .4 .3 2 .3 1.3 .7 1 0 1.3 .7 2.4 .3 1.3 .7 1 0 1.3 .6 2 .4 .4 .3 1 0 1.3 .7 2 .3 .3 .3 1 0 1.4 .7 2.3 .3 1.3 .7 1 0 1.4 .7 1 0 1.3 .6 1 0 .3 .4 2 .3 1.4 .7 2.3 .3 1.3 .7 1 0 .4 .3 2 .3 1.3 .7 1 0 1.3 .7 1 0 1.4 .6 1 0 1.3 .7 1 0 .3 .3 1 0 .4 .4 2 .3 1.3 .7 1 0 1.3 .6 1 0 1.9 .9-1.2 .1-1.3-.6-2.7-.4-.3-.3-3.7 0-.3 .3-1.7 0-.3 .4-2.7 .6-9.3 5-1 1-2.4 1.4-3 2.6-.3 0-7.2 7.2 0 .3-2.3 2.4 0 .3-1.3 1.3 0 .4-4 4.3 0 .3-1.7 1.7 0 .3-6.5 6.5-.3 0-3.4 3-2.3 1.4-1.7 1.3-1 .3-2.3 1.7-6 3z"/><path fill="#007bed" d="M139.8 666.7l-2.3-.7-1-.7-.7 0-1.3-.6-3.7-1-1-.7-2.6-.7-1-.6-1 0-1-.7-2-.3-1-.7-4.7-1.3-1-.7-1 0-1-.7-2-.3-1-.7-1 0-1-.6-.7 0-2.3-1-3.7-1-1-.7-1 0-1-.7-1 0-1-.6-1 0-1-.7-1 0-1-.7-1 0-.3-.3-2.7-.7-1-.6-1 0-1-.7-1 0-1-.7-1 0-1-.6-1 0-1-.7-1 0-1-.7-1 0-1-.6-1 0-.3-.4-.7 0-.3-.3-1.7-.3-1.3-.7-.7 0-.3-.3-.7 0-.3-.4-.7 0-.3-.3-.7 0-.3-.3-.7 0-.3-.4-.7 0-.3-.3-3.7-1-.3-.3-.7 0-.3-.4-1 0-.8-.5 1.8-1.1 1-1 .3 0 1.4-1.4 .3 0 7.8-7.8 0-.3 4.4-4.7 1-1.7 4.6-5 0-.3 7.5-7.2 .4 0 3.6-3 1-.3 .7-.7 1-.3 2.3-1.7 6-3 1.7-.3 .3-.3 1.4 0 .3-.4 6.3 0 .4 .4 1.3 0 1.3 .6 1 0 .4 .4 2 .3 1.3 .7 2.3 .3 1.4 .7 1 0 1.3 .6 1 0 1.3 .7 1 0 1.4 .7 1 0 .3 .3 2 .3 1.3 .7 2.4 .3 1.3 .7 1 0 1.3 .7 1 0 .4 .3 2 .3 1.3 .7 1 0 1.3 .7 2.4 .3 1.3 .7 1 0 1.3 .6 2 .4 .4 .3 1 0 1.3 .7 2 .3 .3 .3 1 0 1.4 .7 2.3 .3 1.3 .7 1 0 1.4 .7 1 0 1.3 .6 1 0 .3 .4 2 .3 1.4 .7 2.3 .3 1.3 .7 1 0 .4 .3 2 .3 1.3 .7 1 0 1.3 .7 1 0 1.4 .6 1 0 1.3 .7 1 0 .3 .3 1 0 .4 .4 2 .3 1.3 .7 1 0 1.3 .6 1 0 1.9 .9-1.2 .1-1.3-.6-2.7-.4-.3-.3-3.7 0-.3 .3-1.7 0-.3 .4-2.7 .6-9.3 5-1 1-2.4 1.4-3 2.6-.3 0-7.2 7.2 0 .3-2.3 2.4 0 .3-1.3 1.3 0 .4-4 4.3 0 .3-1.7 1.7 0 .3-6.5 6.5-.3 0-3.4 3-7 4.4z"/><path fill="#009eed" d="M143.2 664.7l-1-.7-1 0-1-.7-1 0-1-.6-1 0-1-.7-1 0-1-.7-1 0-1-.6-1 0-1-.7-1 0-1-.7-1 0-1-.6-1 0-1-.7-1 0-1-.7-1 0-1-.6-1 0-.4-.4-1.6-.3-.4-.3-.6 0-.4-.4-3.6-1-2.4-1-1 0-1-.6-1 0-1-.7-1 0-1-.7-1 0-.3-.3-4.7-1.3-2.3-1-1 0-1-.7-.7 0-2.3-1-1 0-1-.7-1 0-1-.6-2.3-.4-1-.6-1 0-2-1-1 0-1-.7-1 0-.4-.3-2.6-.7-.4-.3-1 0-1-.7-1 0-1-.7-1 0-.3-.3-2.7-.7-.3-.3-1 0-1-.7-.7 0-2.8-1.1 2.2-1.9 .3 0 7.8-7.8 0-.3 4.4-4.7 1-1.7 4.6-5 0-.3 5.5-5.5 .4 0 1.6-1.7 .4 0 3.6-3 1-.3 .7-.7 1-.3 2.3-1.7 6-3 1.7-.3 .3-.3 1.4 0 .3-.4 6.3 0 .4 .4 1.3 0 1.3 .6 1 0 .4 .4 2 .3 1.3 .7 2.3 .3 1.4 .7 1 0 1.3 .6 1 0 1.3 .7 1 0 1.4 .7 1 0 .3 .3 2 .3 1.3 .7 2.4 .3 1.3 .7 1 0 1.3 .7 1 0 .4 .3 2 .3 1.3 .7 1 0 1.3 .7 2.4 .3 1.3 .7 1 0 1.3 .6 2 .4 .4 .3 1 0 1.3 .7 2 .3 .3 .3 1 0 1.4 .7 2.3 .3 1.3 .7 1 0 1.4 .7 1 0 1.3 .6 1 0 .3 .4 2 .3 1.4 .7 2.3 .3 1.3 .7 1 0 .4 .3 2 .3 1.3 .7 1 0 1.3 .7 1 0 1.4 .6 1 0 1.3 .7 1 0 .3 .3 1 0 .4 .4 2 .3 1.3 .7 1 0 1.3 .6 1 0 1.9 .9-1.2 .1-1.3-.6-2.7-.4-.3-.3-3.7 0-.3 .3-1.7 0-.3 .4-2.7 .6-9.3 5-1 1-2.4 1.4-3 2.6-.3 0-7.2 7.2 0 .3-2.3 2.4 0 .3-1.3 1.3 0 .4-4 4.3 0 .3-1.7 1.7 0 .3-6.5 6.5-.3 0-3.4 3-3.6 2.4z"/><path fill="#00c0ed" d="M145.8 663l-2-1-1 0-1.3-.7-1.7-.3-.3-.3-.7 0-2.3-1-.7 0-.3-.4-.7 0-.3-.3-1 0-1-.7-1 0-1-.6-2.3-.4-1-.6-1 0-2-1-1 0-1-.7-1 0-.4-.3-1.6-.4-1.4-.6-1 0-1-.7-1 0-.3-.3-2.7-.7-.3-.3-4.7-1.4-.3-.3-1 0-1-.7-1 0-.3-.3-2.7-.7-.3-.3-1 0-1-.7-2-.3-1-.7-1 0-.4-.3-.6 0-2.4-1-1 0-1-.7-2-.3-1-.7-2.3-.3-1-.7-1 0-.3-.3-.7 0-2.3-1-1 0-2-1-1 0-.4-.3-.6 0-2.4-1-1 0-1-.7-1 0-2-1-1 0-.3-.3-2-.4-.8-.5 .8-.5 7.8-7.8 0-.3 4.4-4.7 1-1.7 4.6-5 0-.3 5.5-5.5 .4 0 1.6-1.7 .4 0 3.6-3 1-.3 .7-.7 1-.3 2.3-1.7 6-3 1.7-.3 .3-.3 1.4 0 .3-.4 6.3 0 .4 .4 1.3 0 1.3 .6 1 0 .4 .4 2 .3 1.3 .7 2.3 .3 1.4 .7 1 0 1.3 .6 1 0 1.3 .7 1 0 1.4 .7 1 0 .3 .3 2 .3 1.3 .7 2.4 .3 1.3 .7 1 0 1.3 .7 1 0 .4 .3 2 .3 1.3 .7 1 0 1.3 .7 2.4 .3 1.3 .7 1 0 1.3 .6 2 .4 .4 .3 1 0 1.3 .7 2 .3 .3 .3 1 0 1.4 .7 2.3 .3 1.3 .7 1 0 1.4 .7 1 0 1.3 .6 1 0 .3 .4 2 .3 1.4 .7 2.3 .3 1.3 .7 1 0 .4 .3 2 .3 1.3 .7 1 0 1.3 .7 1 0 1.4 .6 1 0 1.3 .7 1 0 .3 .3 1 0 .4 .4 2 .3 1.3 .7 1 0 1.3 .6 1 0 1.9 .9-1.2 .1-1.3-.6-2.7-.4-.3-.3-3.7 0-.3 .3-1.7 0-.3 .4-2.7 .6-9.3 5-1 1-2.4 1.4-3 2.6-.3 0-7.2 7.2 0 .3-2.3 2.4 0 .3-1.3 1.3 0 .4-4 4.3 0 .3-1.7 1.7 0 .3-6.5 6.5-.3 0-1.7 1.7-.3 0-2.4 2z"/><path fill="#00e3ed" d="M147.8 661.3l-.6 0-1-.6-1 0-2-1-1 0-.4-.4-.6 0-2.4-1-1 0-1-.6-1 0-2-1-1 0-.3-.4-1.7-.3-1.3-.7-1 0-2.3-1-1 0-2-1-1 0-.4-.3-.6 0-2.4-1-1 0-1-.7-1 0-2-1-1 0-1.3-.6-1 0-1-.7-1 0-.3-.3-.7 0-2.3-1-1 0-1-.7-1 0-1.4-.7-1 0-1-.6-2-.4-1-.6-2.3-.4-2-1-1 0-.3-.3-2.7-.7-.3-.3-1 0-.4-.3-2.6-.7-.4-.3-2-.4-1-.6-1 0-1.3-.7-1.7-.3-.3-.4-1 0-2-1-1 0-1.3-.6-1 0-1-.7-2.4-.3-2.5-1.2 7-7 0-.3 4.4-4.7 1-1.7 4.6-5 0-.3 5.5-5.5 .4 0 1.6-1.7 .4 0 3.6-3 1-.3 .7-.7 1-.3 2.3-1.7 6-3 1.7-.3 .3-.3 1.4 0 .3-.4 6.3 0 .4 .4 1.3 0 1.3 .6 1 0 .4 .4 2 .3 1.3 .7 2.3 .3 1.4 .7 1 0 1.3 .6 1 0 1.3 .7 1 0 1.4 .7 1 0 .3 .3 2 .3 1.3 .7 2.4 .3 1.3 .7 1 0 1.3 .7 1 0 .4 .3 2 .3 1.3 .7 1 0 1.3 .7 2.4 .3 1.3 .7 1 0 1.3 .6 2 .4 .4 .3 1 0 1.3 .7 2 .3 .3 .3 1 0 1.4 .7 2.3 .3 1.3 .7 1 0 1.4 .7 1 0 1.3 .6 1 0 .3 .4 2 .3 1.4 .7 2.3 .3 1.3 .7 1 0 .4 .3 2 .3 1.3 .7 1 0 1.3 .7 1 0 1.4 .6 1 0 1.3 .7 1 0 .3 .3 1 0 .4 .4 2 .3 1.3 .7 1 0 1.3 .6 1 0 1.9 .9-1.2 .1-1.3-.6-2.7-.4-.3-.3-3.7 0-.3 .3-1.7 0-.3 .4-2.7 .6-9.3 5-1 1-2.4 1.4-3 2.6-.3 0-7.2 7.2 0 .3-2.3 2.4 0 .3-1.3 1.3 0 .4-4 4.3 0 .3-1.7 1.7 0 .3-6.5 6.5-.3 0-2.4 2z"/><path fill="#00edd6" d="M149.5 660l-.7-.3-1 0-2-1-1 0-.3-.4-.7 0-2.3-1-1 0-2-1-2.3-.3-1-.7-1 0-1.4-.6-1 0-1-.7-2-.3-1-.7-1 0-1.3-.7-1 0-2-1-1 0-1.3-.6-1.7-.4-.3-.3-1 0-.4-.3-.6 0-2.4-1-1 0-2-1-2.3-.4-1-.6-2-.4-.3-.3-.7 0-2.3-1-1 0-2-1-1 0-1.4-.7-1 0-1-.6-1 0-1.3-.7-1 0-1-.7-2-.3-.3-.3-2.7-.7-.3-.3-1 0-2-1-2.4-.4-2-1-1 0-1.3-.6-1 0-1-.7-1 0-1.3-.7-1 0-2-1-1 0-1.4-.6-1 0-.1-.5 5.6-5.7 0-.3 4.4-4.7 1-1.7 4.6-5 0-.3 7.5-7.2 .4 0 3.6-3 1-.3 .7-.7 1-.3 2.3-1.7 6-3 1.7-.3 .3-.3 1.4 0 .3-.4 6.3 0 .4 .4 1.3 0 1.3 .6 1 0 .4 .4 2 .3 1.3 .7 2.3 .3 1.4 .7 1 0 1.3 .6 1 0 1.3 .7 1 0 1.4 .7 1 0 .3 .3 2 .3 1.3 .7 2.4 .3 1.3 .7 1 0 1.3 .7 1 0 .4 .3 2 .3 1.3 .7 1 0 1.3 .7 2.4 .3 1.3 .7 1 0 1.3 .6 2 .4 .4 .3 1 0 1.3 .7 2 .3 .3 .3 1 0 1.4 .7 2.3 .3 1.3 .7 1 0 1.4 .7 1 0 1.3 .6 1 0 .3 .4 2 .3 1.4 .7 2.3 .3 1.3 .7 1 0 .4 .3 2 .3 1.3 .7 1 0 1.3 .7 1 0 1.4 .6 1 0 1.3 .7 1 0 .3 .3 1 0 .4 .4 2 .3 1.3 .7 1 0 1.3 .6 1 0 1.9 .9-1.2 .1-1.3-.6-2.7-.4-.3-.3-3.7 0-.3 .3-1.7 0-.3 .4-2.7 .6-9.3 5-1 1-2.4 1.4-3 2.6-.3 0-7.2 7.2 0 .3-2.3 2.4 0 .3-1.3 1.3 0 .4-4 4.3 0 .3-1.7 1.7 0 .3-6.5 6.5-.3 0-.7 .7z"/><path fill="#00edb4" d="M150.8 659l-1.6-1-1 0-.4-.3-.6 0-2.4-1-1 0-.3-.4-3.7-1-.3-.3-1 0-.3-.3-1.7-.4-1.3-.6-2-.4-1-.6-1 0-1.4-.7-1 0-1-.7-1 0-1.3-.6-1 0-1-.7-1 0-1.3-.7-1 0-2-1-1 0-.4-.3-.6 0-2.4-1-1 0-.3-.3-1.7-.4-2.3-1-2-.3-1-.7-1 0-1.3-.6-1 0-1-.7-2.4-.3-2-1-1 0-1.3-.7-1 0-2-1-1 0-1.3-.7-1 0-1-.6-1 0-1.4-.7-1 0-2-1-1 0-1.3-.7-1 0-2-1-2.3-.3-2-1-1 0-1.4-.7-1 0-1-.6-1 0-1.1-.5 4.6-4.7 0-.3 4.4-4.7 1-1.7 4.6-5 0-.3 7.5-7.2 .4 0 3.6-3 1-.3 .7-.7 1-.3 2.3-1.7 6-3 1.7-.3 .3-.3 1.4 0 .3-.4 6.3 0 .4 .4 1.3 0 1.3 .6 1 0 .4 .4 2 .3 1.3 .7 2.3 .3 1.4 .7 1 0 1.3 .6 1 0 1.3 .7 1 0 1.4 .7 1 0 .3 .3 2 .3 1.3 .7 2.4 .3 1.3 .7 1 0 1.3 .7 1 0 .4 .3 2 .3 1.3 .7 1 0 1.3 .7 2.4 .3 1.3 .7 1 0 1.3 .6 2 .4 .4 .3 1 0 1.3 .7 2 .3 .3 .3 1 0 1.4 .7 2.3 .3 1.3 .7 1 0 1.4 .7 1 0 1.3 .6 1 0 .3 .4 2 .3 1.4 .7 2.3 .3 1.3 .7 1 0 .4 .3 2 .3 1.3 .7 1 0 1.3 .7 1 0 1.4 .6 1 0 1.3 .7 1 0 .3 .3 1 0 .4 .4 2 .3 1.3 .7 1 0 1.3 .6 1 0 1.9 .9-1.2 .1-1.3-.6-2.7-.4-.3-.3-3.7 0-.3 .3-1.7 0-.3 .4-2.7 .6-9.3 5-1 1-2.4 1.4-3 2.6-.3 0-7.2 7.2 0 .3-2.3 2.4 0 .3-1.3 1.3 0 .4-4 4.3 0 .3-1.7 1.7 0 .3-6.2 6.2z"/><path fill="#00ed93" d="M152.2 657.7l-1-.7-1 0-1.4-.7-1 0-2-1-2.3-.3-2-1-1 0-1.3-.7-1 0-1-.6-1 0-1.4-.7-2-.3-1-.7-1 0-1.3-.7-1 0-2-1-1 0-1.3-.6-1 0-1-.7-1 0-1.4-.7-1 0-1-.6-1 0-1.3-.7-1 0-2-1-1 0-1.3-.7-1 0-2-1-1 0-1.4-.6-1 0-1-.7-1 0-1.3-.7-1 0-2-1-1 0-1.3-.6-1 0-.4-.4-.6 0-2.4-1-1 0-.3-.3-3.7-1-.3-.3-1 0-2-1-1 0-.3-.4-2-.3-.4-.3-.6 0-2.4-1-1 0-1.3-.7-1 0-2-1-2.3-.3-.4-.4-.6 0-.2-.5 5.7-6 0-.3 2-2 1-1.7 2.3-2.3 0-.3 2.3-2.4 0-.3 7.5-7.2 .4 0 3.6-3 1-.3 .7-.7 1-.3 2.3-1.7 6-3 1.7-.3 .3-.3 1.4 0 .3-.4 6.3 0 .4 .4 1.3 0 1.3 .6 1 0 .4 .4 2 .3 1.3 .7 2.3 .3 1.4 .7 1 0 1.3 .6 1 0 1.3 .7 1 0 1.4 .7 1 0 .3 .3 2 .3 1.3 .7 2.4 .3 1.3 .7 1 0 1.3 .7 1 0 .4 .3 2 .3 1.3 .7 1 0 1.3 .7 2.4 .3 1.3 .7 1 0 1.3 .6 2 .4 .4 .3 1 0 1.3 .7 2 .3 .3 .3 1 0 1.4 .7 2.3 .3 1.3 .7 1 0 1.4 .7 1 0 1.3 .6 1 0 .3 .4 2 .3 1.4 .7 2.3 .3 1.3 .7 1 0 .4 .3 2 .3 1.3 .7 1 0 1.3 .7 1 0 1.4 .6 1 0 1.3 .7 1 0 .3 .3 1 0 .4 .4 2 .3 1.3 .7 1 0 1.3 .6 1 0 1.9 .9-1.2 .1-1.3-.6-2.7-.4-.3-.3-3.7 0-.3 .3-1.7 0-.3 .4-2.7 .6-9.3 5-1 1-2.4 1.4-3 2.6-.3 0-7.2 7.2 0 .3-2.3 2.4 0 .3-1.3 1.3 0 .4-4 4.3 0 .3-1.7 1.7 0 .3-4.8 4.9z"/><path fill="#00ed72" d="M153.5 656.3l-.7 0-1-.6-1 0-1.3-.7-1 0-1-.7-1 0-1.3-.6-1 0-2-1-2.4-.4-1.3-.6-1 0-2-1-1 0-1.3-.7-1 0-1-.7-2-.3-.4-.3-2.6-.7-1.4-.7-1 0-.3-.3-2.7-.7-.3-.3-1 0-1.3-.7-1 0-2-1-1 0-.4-.3-2-.3-.3-.4-.7 0-2.3-1-1 0-2-1-1 0-1.3-.6-1 0-.4-.4-2.6-.6-1.4-.7-2.3-.3-1-.7-.7 0-1.3-.7-1 0-.3-.3-1 0-2-1-1 0-1.4-.7-1 0-2-1-1 0-.3-.3-2-.3-.3-.4-2.7-.6-.3-.4-1 0-1.4-.6-1 0-1-.7-2-.3-1.8-.9 4.7-5 0-.3 2-2 1-1.7 2.3-2.3 0-.3 2.3-2.4 0-.3 7.5-7.2 .4 0 3.6-3 1-.3 .7-.7 1-.3 2.3-1.7 6-3 1.7-.3 .3-.3 1.4 0 .3-.4 6.3 0 .4 .4 1.3 0 1.3 .6 1 0 .4 .4 2 .3 1.3 .7 2.3 .3 1.4 .7 1 0 1.3 .6 1 0 1.3 .7 1 0 1.4 .7 1 0 .3 .3 2 .3 1.3 .7 2.4 .3 1.3 .7 1 0 1.3 .7 1 0 .4 .3 2 .3 1.3 .7 1 0 1.3 .7 2.4 .3 1.3 .7 1 0 1.3 .6 2 .4 .4 .3 1 0 1.3 .7 2 .3 .3 .3 1 0 1.4 .7 2.3 .3 1.3 .7 1 0 1.4 .7 1 0 1.3 .6 1 0 .3 .4 2 .3 1.4 .7 2.3 .3 1.3 .7 1 0 .4 .3 2 .3 1.3 .7 1 0 1.3 .7 1 0 1.4 .6 1 0 1.3 .7 1 0 .3 .3 1 0 .4 .4 2 .3 1.3 .7 1 0 1.3 .6 1 0 1.9 .9-1.2 .1-1.3-.6-2.7-.4-.3-.3-3.7 0-.3 .3-1.7 0-.3 .4-2.7 .6-9.3 5-1 1-2.4 1.4-3 2.6-.3 0-7.2 7.2 0 .3-2.3 2.4 0 .3-1.3 1.3 0 .4-4 4.3 0 .3-1.7 1.7 0 .3-3.5 3.5z"/><path fill="#00ed52" d="M154.5 655.3l-1.3-.6-1 0-1.4-.7-1 0-2-1-1 0-1.3-.7-1 0-2-1-1 0-1.3-.6-1 0-2-1-2.4-.4-.3-.3-.7 0-.3-.3-2.7-.7-.3-.3-1 0-1.3-.7-1 0-1-.7-2-.3-1.4-.7-1 0-2-1-1 0-1.3-.6-1 0-1-.7-1 0-1.3-.7-1 0-.4-.3-.6 0-.4-.3-2.6-.7-.4-.3-1 0-1.3-.7-1 0-2-1-1 0-1.3-.7-1 0-1-.6-1 0-1.4-.7-1 0-.3-.3-1.7-.4-2.3-1-1 0-1.3-.6-1 0-2-1-1 0-1.4-.7-1 0-1-.7-1 0-.3-.3-2-.3-1.3-.7-1 0-1-.7-2-.3-1.4-.7-1 0-.8-.5 5.7-6.3 1-1.7 2.3-2.3 0-.3 2.3-2.4 0-.3 7.5-7.2 .4 0 3.6-3 1-.3 .7-.7 1-.3 2.3-1.7 6-3 1.7-.3 .3-.3 1.4 0 .3-.4 6.3 0 .4 .4 1.3 0 1.3 .6 1 0 .4 .4 2 .3 1.3 .7 2.3 .3 1.4 .7 1 0 1.3 .6 1 0 1.3 .7 1 0 1.4 .7 1 0 .3 .3 2 .3 1.3 .7 2.4 .3 1.3 .7 1 0 1.3 .7 1 0 .4 .3 2 .3 1.3 .7 1 0 1.3 .7 2.4 .3 1.3 .7 1 0 1.3 .6 2 .4 .4 .3 1 0 1.3 .7 2 .3 .3 .3 1 0 1.4 .7 2.3 .3 1.3 .7 1 0 1.4 .7 1 0 1.3 .6 1 0 .3 .4 2 .3 1.4 .7 2.3 .3 1.3 .7 1 0 .4 .3 2 .3 1.3 .7 1 0 1.3 .7 1 0 1.4 .6 1 0 1.3 .7 1 0 .3 .3 1 0 .4 .4 2 .3 1.3 .7 1 0 1.3 .6 1 0 1.9 .9-1.2 .1-1.3-.6-2.7-.4-.3-.3-3.7 0-.3 .3-1.7 0-.3 .4-2.7 .6-9.3 5-1 1-2.4 1.4-3 2.6-.3 0-7.2 7.2 0 .3-2.3 2.4 0 .3-1.3 1.3 0 .4-4 4.3 0 .3-1.7 1.7 0 .3-2.5 2.5z"/><path fill="#00ed32" d="M155.5 654.3l-1.3-.6-.7 0-1-.7-1 0-1.3-.7-2-.3-1-.7-1 0-1.4-.6-1 0-.3-.4-2.7-.6-1.3-.7-2.3-.3-2-1-1 0-1.4-.7-2-.3-1-.7-1 0-1.3-.7-1 0-1.3-.6-1 0-1-.7-2-.3-1.4-.7-1 0-2-1-2.3-.3-1.3-.7-1 0-.7-.7-1 0-.3-.3-1 0-1.4-.7-1 0-2-1-1 0-1.3-.6-2-.4-1-.6-1 0-1.3-.7-1 0-1.4-.7-1 0-2-1-2.3-.3-2-1-1 0-1.3-.7-1 0-1.4-.6-1 0-2-1-1 0-1.3-.7-1 0-2-1-1 0-.3-.3-2-.4-1.2-.5 .3-.6 4.4-4.7 1-1.7 4.6-5 0-.3 7.5-7.2 .4 0 3.6-3 1-.3 .7-.7 1-.3 2.3-1.7 6-3 1.7-.3 .3-.3 1.4 0 .3-.4 6.3 0 .4 .4 1.3 0 1.3 .6 1 0 .4 .4 2 .3 1.3 .7 2.3 .3 1.4 .7 1 0 1.3 .6 1 0 1.3 .7 1 0 1.4 .7 1 0 .3 .3 2 .3 1.3 .7 2.4 .3 1.3 .7 1 0 1.3 .7 1 0 .4 .3 2 .3 1.3 .7 1 0 1.3 .7 2.4 .3 1.3 .7 1 0 1.3 .6 2 .4 .4 .3 1 0 1.3 .7 2 .3 .3 .3 1 0 1.4 .7 2.3 .3 1.3 .7 1 0 1.4 .7 1 0 1.3 .6 1 0 .3 .4 2 .3 1.4 .7 2.3 .3 1.3 .7 1 0 .4 .3 2 .3 1.3 .7 1 0 1.3 .7 1 0 1.4 .6 1 0 1.3 .7 1 0 .3 .3 1 0 .4 .4 2 .3 1.3 .7 1 0 1.3 .6 1 0 1.9 .9-1.2 .1-1.3-.6-2.7-.4-.3-.3-3.7 0-.3 .3-1.7 0-.3 .4-2.7 .6-9.3 5-1 1-2.4 1.4-3 2.6-.3 0-7.2 7.2 0 .3-2.3 2.4 0 .3-1.3 1.3 0 .4-2 2 0 .3-5.2 5.8z"/><path fill="#00ed13" d="M156.5 653.3l-1-.6-.7 0-2.3-1-1 0-1.3-.7-1 0-1-.7-2-.3-1.4-.7-1 0-2-1-1 0-1.3-.6-1 0-.3-.4-2.7-.6-.3-.4-1 0-1.4-.6-1 0-2-1-1 0-1.3-.7-1 0-1.3-.7-1 0-2-1-1 0-1.4-.6-1 0-2-1-1 0-1.3-.7-1 0-.3-.3-.7 0-.3-.4-2.7-.6-.3-.4-1 0-1.4-.6-1 0-1-.7-2-.3-1.3-.7-1 0-2-1-1 0-1.3-.7-1 0-.4-.3-2-.3-1-.7-1 0-1.3-.7-1 0-1.3-.6-1 0-1-.7-2-.3-1.4-.7-1 0-2-1-1 0-1.3-.7-2.3-.3-2-1-1 0-.2-.5 3.7-4 1-1.7 4.6-5 0-.3 7.5-7.2 .4 0 3.6-3 1-.3 .7-.7 1-.3 2.3-1.7 6-3 1.7-.3 .3-.3 1.4 0 .3-.4 6.3 0 .4 .4 1.3 0 1.3 .6 1 0 .4 .4 2 .3 1.3 .7 2.3 .3 1.4 .7 1 0 1.3 .6 1 0 1.3 .7 1 0 1.4 .7 1 0 .3 .3 2 .3 1.3 .7 2.4 .3 1.3 .7 1 0 1.3 .7 1 0 .4 .3 2 .3 1.3 .7 1 0 1.3 .7 2.4 .3 1.3 .7 1 0 1.3 .6 2 .4 .4 .3 1 0 1.3 .7 2 .3 .3 .3 1 0 1.4 .7 2.3 .3 1.3 .7 1 0 1.4 .7 1 0 1.3 .6 1 0 .3 .4 2 .3 1.4 .7 2.3 .3 1.3 .7 1 0 .4 .3 2 .3 1.3 .7 1 0 1.3 .7 1 0 1.4 .6 1 0 1.3 .7 1 0 .3 .3 1 0 .4 .4 2 .3 1.3 .7 1 0 1.3 .6 1 0 1.9 .9-1.2 .1-1.3-.6-2.7-.4-.3-.3-3.7 0-.3 .3-1.7 0-.3 .4-2.7 .6-9.3 5-1 1-2.4 1.4-3 2.6-.3 0-7.2 7.2 0 .3-2.3 2.4 0 .3-1.3 1.3 0 .4-2 2 0 .3-2 2 0 .3-2.2 2.5z"/><path fill="#0ced00" d="M157.5 652l-2.7-.7-.3-.3-2.7-.7-.3-.3-1 0-1.3-.7-1 0-2-1-1 0-1.4-.6-1 0-2-1-1 0-.3-.4-2-.3-1.3-.7-1 0-2-1-1 0-1.4-.6-1 0-2-1-1 0-.3-.4-2-.3-1.3-.7-1 0-2-1-1 0-.4-.3-2-.3-.3-.4-1 0-.7-.6-2.3-.4-1.3-.6-1 0-2-1-1 0-1.4-.7-1 0-1.3-.7-1 0-1-.6-2-.4-1.3-.6-2.4-.4-.6-.6-1 0-.4-.4-1 0-1.3-.6-1 0-3-1.4-1 0-1.3-.6-2-.4-1-.6-1 0-.4-.4-2-.3-1.3-.7-1 0-2-1-2.3-.3-.2-.5 2.7-3 1-1.7 4.6-5 0-.3 7.5-7.2 .4 0 3.6-3 1-.3 .7-.7 1-.3 2.3-1.7 6-3 1.7-.3 .3-.3 1.4 0 .3-.4 6.3 0 .4 .4 1.3 0 1.3 .6 1 0 .4 .4 2 .3 1.3 .7 2.3 .3 1.4 .7 1 0 1.3 .6 1 0 1.3 .7 1 0 1.4 .7 1 0 .3 .3 2 .3 1.3 .7 2.4 .3 1.3 .7 1 0 1.3 .7 1 0 .4 .3 2 .3 1.3 .7 1 0 1.3 .7 2.4 .3 1.3 .7 1 0 1.3 .6 2 .4 .4 .3 1 0 1.3 .7 2 .3 .3 .3 1 0 1.4 .7 2.3 .3 1.3 .7 1 0 1.4 .7 1 0 1.3 .6 1 0 .3 .4 2 .3 1.4 .7 2.3 .3 1.3 .7 1 0 .4 .3 2 .3 1.3 .7 1 0 1.3 .7 1 0 1.4 .6 1 0 1.3 .7 1 0 .3 .3 1 0 .4 .4 2 .3 1.3 .7 1 0 1.3 .6 1 0 1.9 .9-1.2 .1-1.3-.6-2.7-.4-.3-.3-3.7 0-.3 .3-1.7 0-.3 .4-2.7 .6-9.3 5-1 1-2.4 1.4-3 2.6-.3 0-7.2 7.2 0 .3-2.3 2.4 0 .3-1.3 1.3 0 .4-5.2 5.8z"/><path fill="#2aed00" d="M158.5 651l-2.3-.7-.4-.3-.6 0-.4-.3-1 0-1.3-.7-1 0-2-1-1 0-1.3-.7-1 0-.4-.3-3.6-1-.4-.3-2.3-.4-.3-.3-2.7-.7-1.3-.6-1 0-1.4-.7-1 0-2-1-1 0-1.3-.7-1 0-1.3-.6-1 0-1-.7-2-.3-1.4-.7-1 0-2-1-1 0-1.3-.7-1 0-1.3-.6-1 0-2-1-1 0-1.4-.7-2-.3-1-.7-1 0-.3-.3-2-.4-1.3-.6-1 0-2-1-2.4-.4-1.3-.6-1 0-2-1-1 0-1.3-.7-1 0-.4-.3-3.6-1-.4-.4-1 0-1.3-.6-1 0-2-1-1 0-1.3-.7-1 0-.5-.5 2-2 1-1.7 2.3-2.3 0-.3 2.3-2.4 0-.3 7.5-7.2 .4 0 3.6-3 1-.3 .7-.7 1-.3 2.3-1.7 6-3 1.7-.3 .3-.3 1.4 0 .3-.4 6.3 0 .4 .4 1.3 0 1.3 .6 1 0 .4 .4 2 .3 1.3 .7 2.3 .3 1.4 .7 1 0 1.3 .6 1 0 1.3 .7 1 0 1.4 .7 1 0 .3 .3 2 .3 1.3 .7 2.4 .3 1.3 .7 1 0 1.3 .7 1 0 .4 .3 2 .3 1.3 .7 1 0 1.3 .7 2.4 .3 1.3 .7 1 0 1.3 .6 2 .4 .4 .3 1 0 1.3 .7 2 .3 .3 .3 1 0 1.4 .7 2.3 .3 1.3 .7 1 0 1.4 .7 1 0 1.3 .6 1 0 .3 .4 2 .3 1.4 .7 2.3 .3 1.3 .7 1 0 .4 .3 2 .3 1.3 .7 1 0 1.3 .7 1 0 1.4 .6 1 0 1.3 .7 1 0 .3 .3 1 0 .4 .4 2 .3 1.3 .7 1 0 1.3 .6 1 0 1.9 .9-1.2 .1-1.3-.6-2.7-.4-.3-.3-3.7 0-.3 .3-1.7 0-.3 .4-2.7 .6-4.7 2.4-.6 .6-2.4 1-.6 .7-1 .3-1 1-2.4 1.4-3 2.6-.3 0-7.2 7.2 0 .3-2.3 2.4 0 .3-1.3 1.3 0 .4-2 2 0 .3-2 2-.2 .5z"/><path fill="#48ed00" d="M159.5 649.7l-1.3 0-1.4-.7-1 0-1.3-.7-2-.3-1-.7-1 0-1.3-.6-2-.4-.4-.3-1 0-2-1-1 0-1.3-.7-2-.3-1-.7-1 0-1.3-.6-2-.4-.4-.3-1 0-2-1-1 0-1.3-.7-1 0-2-1-1 0-1.3-.6-2.4-.4-.3-.3-.7 0-.3-.3-.7 0-2.3-1-1 0-1.3-.7-1 0-3-1.3-1 0-1.4-.7-2-.3-1-.7-1 0-.3-.3-2-.4-.3-.3-1 0-3-1.3-2.4-.4-1.3-.6-1 0-2-1-1 0-.3-.4-2-.3-1.4-.7-1 0-2-1-1 0-1.3-.6-2-.4-1-.6-1 0-1.3-.7-1 0-.5-.5 1-1 1-1.7 2.3-2.3 0-.3 2.8-3.2 5-5 .4 0 1.6-1.7 .4 0 3.6-3 1-.3 .7-.7 1-.3 2.3-1.7 6-3 1.7-.3 .3-.3 1.4 0 .3-.4 6.3 0 .4 .4 1.3 0 1.3 .6 1 0 1.4 .7 1 0 1.3 .7 2.3 .3 1.4 .7 1 0 1.3 .6 1 0 1.3 .7 1 0 1.4 .7 1 0 1.3 .6 1 0 1.3 .7 1 0 .4 .3 2 .4 .3 .3 1 0 1.3 .7 1 0 1.4 .6 1 0 1.3 .7 1 0 1.3 .7 2.4 .3 1.3 .7 1 0 1.3 .6 2 .4 .4 .3 1 0 1.3 .7 2 .3 .3 .3 1 0 1.4 .7 2.3 .3 1.3 .7 1 0 1.4 .7 1 0 1.3 .6 1 0 .3 .4 2 .3 1.4 .7 2.3 .3 1.3 .7 1 0 .4 .3 2 .3 1.3 .7 1 0 1.3 .7 1 0 1.4 .6 1 0 1.3 .7 2.3 .3 .4 .4 2 .3 1.3 .7 1 0 1.3 .6 1 0 1.9 .9-1.2 .1-1.3-.6-2.7-.4-.3-.3-3.7 0-.3 .3-1.7 0-.3 .4-2.7 .6-4.7 2.4-.6 .6-2.4 1-.6 .7-1 .3-1 1-2.4 1.4-3 2.6-.3 0-7.2 7.2 0 .3-2.3 2.4 0 .3-1.3 1.3 0 .4-3.2 3.5z"/><path fill="#65ed00" d="M160.2 649l-2.4-1-1 0-1.3-.7-2-.3-1-.7-1 0-.3-.3-2-.3-1.4-.7-1 0-2-1-1 0-1.3-.7-1 0-2-1-1 0-1.3-.6-1 0-1.4-.7-1 0-2-1-1 0-.3-.3-2-.4-1.3-.6-1 0-2-1-1 0-.4-.4-1 0-1.3-.6-1 0-.7-.7-1 0-1.3-.7-1 0-1.3-.6-1 0-2-1-1 0-.4-.4-2-.3-.3-.3-3.7-1-.3-.4-2.3-.3-1.4-.7-1 0-2-1-1 0-1.3-.6-1 0-2-1-1 0-1.3-.7-1 0-1.4-.7-1 0-2-1-1 0-1.3-.6-1 0-1.3-.7-1 0-.7-.7-2.3-.3-.5-.8 5.6-6.4 0-.3 5.5-5.5 .4 0 1.6-1.7 .4 0 3.6-3 1-.3 .7-.7 1-.3 2.3-1.7 6-3 1.7-.3 .3-.3 1.4 0 .3-.4 6.3 0 .4 .4 1.3 0 1.3 .6 1 0 1.4 .7 1 0 1.3 .7 2.3 .3 1.4 .7 1 0 1.3 .6 1 0 1.3 .7 1 0 1.4 .7 1 0 1.3 .6 1 0 1.3 .7 1 0 .4 .3 2 .4 .3 .3 1 0 1.3 .7 1 0 1.4 .6 1 0 1.3 .7 1 0 1.3 .7 2.4 .3 1.3 .7 1 0 1.3 .6 2 .4 .4 .3 1 0 1.3 .7 2 .3 .3 .3 1 0 1.4 .7 2.3 .3 1.3 .7 1 0 1.4 .7 1 0 1.3 .6 1 0 .3 .4 2 .3 1.4 .7 2.3 .3 1.3 .7 1 0 .4 .3 2 .3 1.3 .7 1 0 1.3 .7 1 0 1.4 .6 1 0 1.3 .7 2.3 .3 .4 .4 2 .3 1.3 .7 1 0 1.3 .6 1 0 1.9 .9-1.2 .1-1.3-.6-2.7-.4-.3-.3-3.7 0-.3 .3-1.7 0-.3 .4-2.7 .6-4.7 2.4-.6 .6-2.4 1-.6 .7-1 .3-1 1-2.4 1.4-3 2.6-.3 0-7.2 7.2 0 .3-2.3 2.4 0 .3-3.8 4.5z"/><path fill="#81ed00" d="M161.2 647.7l-1 0-1.4-.7-1 0-1.3-.7-2-.3-1-.7-1 0-.3-.3-2-.3-1.4-.7-1 0-3-1.3-1 0-.3-.4-2-.3-.3-.3-1 0-2-1-1 0-1.4-.7-2-.3-1-.7-1 0-1.3-.7-1 0-1.3-.6-1 0-2-1-1 0-.4-.4-2-.3-1.3-.7-1 0-2-1-1 0-1.3-.6-2-.4-1-.6-1 0-1.4-.7-2-.3-.3-.4-1 0-2-1-1 0-.3-.3-2-.3-.4-.4-1 0-2-1-1 0-1.3-.6-1 0-1.3-.7-1 0-.7-.7-1 0-1.3-.6-1 0-1.4-.7-1 0-1-.7-2-.3-.3-.3-1 0-1.3-.7-1 0-2-1-1 0-.9-.5 .4-.7 2.3-2.3 0-.3 2.3-2.4 0-.3 5.5-5.5 .4 0 1.6-1.7 .4 0 3.6-3 1-.3 .7-.7 1-.3 2.3-1.7 6-3 1.7-.3 .3-.3 1.4 0 .3-.4 6.3 0 .4 .4 1.3 0 1.3 .6 1 0 1.4 .7 1 0 1.3 .7 2.3 .3 1.4 .7 1 0 1.3 .6 1 0 1.3 .7 1 0 1.4 .7 1 0 1.3 .6 1 0 1.3 .7 1 0 .4 .3 2 .4 .3 .3 1 0 1.3 .7 1 0 1.4 .6 1 0 1.3 .7 1 0 1.3 .7 2.4 .3 1.3 .7 1 0 1.3 .6 2 .4 .4 .3 1 0 1.3 .7 2 .3 .3 .3 1 0 1.4 .7 2.3 .3 1.3 .7 1 0 1.4 .7 1 0 1.3 .6 1 0 .3 .4 2 .3 1.4 .7 2.3 .3 1.3 .7 1 0 .4 .3 2 .3 1.3 .7 1 0 1.3 .7 1 0 1.4 .6 1 0 1.3 .7 2.3 .3 .4 .4 2 .3 1.3 .7 1 0 1.3 .6 1 0 1.9 .9-1.2 .1-1.3-.6-2.7-.4-.3-.3-3.7 0-.3 .3-1.7 0-.3 .4-2.7 .6-4.7 2.4-.6 .6-4 2-1 1-2.4 1.4-3 2.6-.3 0-7.2 7.2 0 .3-2.3 2.4 0 .3-1.3 1.3 0 .4-1.5 1.5z"/><path fill="#9ded00" d="M161.8 647l-2-1-1 0-1.3-.7-1 0-1.3-.6-1 0-.7-.7-1 0-.3-.3-2-.4-.4-.3-1 0-.3-.3-1.7-.4-1-.6-2.3-.4-1.3-.6-1 0-2-1-1 0-1.4-.7-1 0-1.3-.7-1 0-2-1-1 0-.3-.3-2-.3-1.4-.7-2.6-.7-.4-.3-1 0-1.3-.7-2-.3-1-.7-1 0-1.3-.6-2-.4-.4-.3-1 0-2-1-1 0-.3-.3-2-.4-.3-.3-1 0-.7-.7-1 0-.3-.3-2-.3-.4-.4-1 0-.3-.3-1.7-.3-1-.7-1 0-.3-.3-2-.4-1.3-.6-1 0-2-1-1 0-1.4-.7-2.3-.3-.7-.7-2.3-.3-.3-.4-2-.3-.4-.3-.6 0-.4-.4-.6 0-.4-.3-1.8-.5 4.3-4.7 0-.3 5.5-5.5 .4 0 1.6-1.7 .4 0 3.6-3 1-.3 .7-.7 1-.3 2.3-1.7 6-3 1.7-.3 .3-.3 1.4 0 .3-.4 6.3 0 .4 .4 1.3 0 1.3 .6 1 0 1.4 .7 1 0 1.3 .7 2.3 .3 1.4 .7 1 0 1.3 .6 1 0 1.3 .7 1 0 1.4 .7 1 0 1.3 .6 1 0 1.3 .7 1 0 .4 .3 2 .4 .3 .3 1 0 1.3 .7 1 0 1.4 .6 1 0 1.3 .7 1 0 1.3 .7 2.4 .3 1.3 .7 1 0 1.3 .6 2 .4 .4 .3 1 0 1.3 .7 2 .3 .3 .3 1 0 1.4 .7 2.3 .3 1.3 .7 1 0 1.4 .7 1 0 1.3 .6 1 0 .3 .4 2 .3 1.4 .7 2.3 .3 1.3 .7 1 0 .4 .3 2 .3 1.3 .7 1 0 1.3 .7 1 0 1.4 .6 1 0 1.3 .7 2.3 .3 .4 .4 2 .3 1.3 .7 1 0 1.3 .6 1 0 1.9 .9-1.2 .1-1.3-.6-2.7-.4-.3-.3-3.7 0-.3 .3-1.7 0-.3 .4-2.7 .6-4.7 2.4-.6 .6-4 2-1 1-2.4 1.4-3 2.6-.3 0-7.2 7.2 0 .3-2.3 2.4 0 .3-2.2 2.5z"/><path fill="#b9ed00" d="M162.8 645.7l-2.3-.4-.7-.6-1 0-1.3-.7-1 0-1.3-.7-1 0-2-1-2.4-.3-1.3-.7-1 0-1-.6-2-.4-1.3-.6-1 0-.4-.4-.6 0-.4-.3-2.6-.7-.4-.3-1 0-1.3-.7-1 0-2-1-1 0-1.3-.6-2-.4-.4-.3-1 0-.6-.7-1 0-.4-.3-1 0-1.3-.7-1 0-2-1-1 0-.3-.3-2-.3-1.4-.7-1 0-2-1-1 0-1.3-.7-2.3-.3-3-1.3-1 0-1.4-.7-1 0-2-1-1 0-1.3-.7-1 0-1.3-.6-1 0-2-1-1 0-1.4-.7-1 0-.3-.3-1 0-2-1-1 0-1.3-.7-1 0-1.4-.7-1 0-1-.6-.8-.2 3.3-3.7 0-.3 5.5-5.5 .4 0 1.6-1.7 .4 0 3.6-3 1-.3 .7-.7 1-.3 2.3-1.7 6-3 1.7-.3 .3-.3 1.4 0 .3-.4 6.3 0 .4 .4 1.3 0 1.3 .6 1 0 1.4 .7 1 0 1.3 .7 2.3 .3 1.4 .7 1 0 1.3 .6 1 0 1.3 .7 1 0 1.4 .7 1 0 1.3 .6 1 0 1.3 .7 1 0 .4 .3 2 .4 .3 .3 1 0 1.3 .7 1 0 1.4 .6 1 0 1.3 .7 1 0 1.3 .7 2.4 .3 1.3 .7 1 0 1.3 .6 2 .4 .4 .3 1 0 1.3 .7 2 .3 .3 .3 1 0 1.4 .7 2.3 .3 1.3 .7 1 0 1.4 .7 1 0 1.3 .6 1 0 .3 .4 2 .3 1.4 .7 2.3 .3 1.3 .7 1 0 .4 .3 2 .3 1.3 .7 1 0 1.3 .7 1 0 1.4 .6 1 0 1.3 .7 2.3 .3 .4 .4 2 .3 1.3 .7 1 0 1.3 .6 1 0 1.9 .9-1.2 .1-1.3-.6-2.7-.4-.3-.3-3.7 0-.3 .3-1.7 0-.3 .4-2.7 .6-4.7 2.4-.6 .6-4 2-1 1-2.4 1.4-3 2.6-.3 0-7.2 7.2 0 .3-3.5 3.9z"/><path fill="#d4ed00" d="M163.5 645l-2.7-1.3-1 0-1.3-.7-1 0-1.3-.7-1 0-2-1-2.4-.3-1.3-.7-2-.3-1-.7-1 0-1.3-.6-1 0-1.4-.7-1 0-2-1-1 0-1.3-.7-2-.3-1-.7-1 0-1.3-.6-1 0-1.4-.7-1 0-1-.7-2-.3-1.3-.7-1 0-.3-.3-.7 0-.3-.3-.7 0-2.3-1-1 0-1.4-.7-1 0-2-1-2.3-.3-1.3-.7-2-.3-1-.7-1 0-1.4-.7-1 0-1.3-.6-1 0-.7-.7-1 0-1.3-.7-2-.3-.3-.3-1 0-1-.7-2-.3-1.4-.7-2.3-.3-.7-.7-2.3-.3-1.3-.7-1 0-2-1-2-.3-.2-.5 7.8-8.2 .4 0 1.6-1.7 .4 0 3.6-3 1-.3 .7-.7 1-.3 2.3-1.7 6-3 1.7-.3 .3-.3 1.4 0 .3-.4 6.3 0 .4 .4 1.3 0 1.3 .6 1 0 1.4 .7 1 0 1.3 .7 2.3 .3 1.4 .7 1 0 1.3 .6 1 0 1.3 .7 1 0 1.4 .7 1 0 1.3 .6 1 0 1.3 .7 1 0 .4 .3 2 .4 .3 .3 1 0 1.3 .7 1 0 1.4 .6 1 0 1.3 .7 1 0 1.3 .7 2.4 .3 1.3 .7 1 0 1.3 .6 2 .4 .4 .3 1 0 1.3 .7 2 .3 .3 .3 1 0 1.4 .7 2.3 .3 1.3 .7 1 0 1.4 .7 1 0 1.3 .6 1 0 .3 .4 2 .3 1.4 .7 2.3 .3 1.3 .7 1 0 .4 .3 2 .3 1.3 .7 1 0 1.3 .7 1 0 1.4 .6 1 0 1.3 .7 2.3 .3 .4 .4 2 .3 1.3 .7 1 0 1.3 .6 1 0 1.9 .9-1.2 .1-1.3-.6-2.7-.4-.3-.3-3.7 0-.3 .3-1.7 0-.3 .4-2.7 .6-4.7 2.4-.6 .6-4 2-1 1-2.4 1.4-3 2.6-.3 0-7.2 7.2 0 .3-2.8 3.2z"/><path fill="#eded00" d="M164.5 643.7l-.7 0-2-1-1 0-1.3-.7-1 0-1.3-.7-1 0-2-1-2.4-.3-1.3-.7-1 0-1-.6-2-.4-1.3-.6-1 0-.4-.4-3.6-1-.4-.3-1 0-1.3-.7-1 0-2-1-1 0-1.3-.6-2-.4-.4-.3-1 0-1-.7-2-.3-1.3-.7-1 0-2-1-1 0-1.3-.6-2-.4-.4-.3-1 0-2-1-1 0-.3-.3-2-.4-.3-.3-1 0-1-.7-2-.3-1.4-.7-1 0-2-1-1 0-1.3-.6-1 0-.3-.4-2.7-.6-1.3-.7-2.4-.3-.3-.4-1.7-.3-1-.7-1 0-.3-.3-2-.3-.3-.4-.7 0-.3-.3-2.7-.7-.3-.3-2-.3-.2-.5 1.8-2.2 7-6.7 .4 0 3.6-3 1-.3 .7-.7 1-.3 2.3-1.7 6-3 1.7-.3 .3-.3 1.4 0 .3-.4 6.3 0 .4 .4 1.3 0 1.3 .6 1 0 1.4 .7 1 0 1.3 .7 2.3 .3 1.4 .7 1 0 1.3 .6 1 0 1.3 .7 1 0 1.4 .7 1 0 1.3 .6 1 0 1.3 .7 1 0 .4 .3 2 .4 .3 .3 1 0 1.3 .7 1 0 1.4 .6 1 0 1.3 .7 1 0 1.3 .7 2.4 .3 1.3 .7 1 0 1.3 .6 2 .4 .4 .3 1 0 1.3 .7 2 .3 .3 .3 1 0 1.4 .7 2.3 .3 1.3 .7 1 0 1.4 .7 1 0 1.3 .6 1 0 .3 .4 2 .3 1.4 .7 2.3 .3 1.3 .7 1 0 .4 .3 2 .3 1.3 .7 1 0 1.3 .7 1 0 1.4 .6 1 0 1.3 .7 2.3 .3 .4 .4 2 .3 1.3 .7 1 0 1.3 .6 1 0 1.9 .9-1.2 .1-1.3-.6-2.7-.4-.3-.3-3.7 0-.3 .3-1.7 0-.3 .4-2.7 .6-4.7 2.4-.6 .6-2.4 1-.6 .7-1 .3-1 1-2.4 1.4-1 1-.3 0-1.7 1.6-.3 0-7.2 7.2 0 .3-1.8 1.9z"/><path fill="#eddf00" d="M165.5 642.7l-.7 0-1-.7-1 0-1.3-.7-1 0-1.3-.6-1 0-2-1-1 0-1.4-.7-1 0-2-1-1 0-1.3-.7-1 0-1.3-.6-1 0-2-1-1 0-1.4-.7-1 0-2-1-1 0-1.3-.7-1 0-.3-.3-2-.3-1-.7-1 0-1.4-.7-2-.3-.3-.3-1 0-1-.7-2-.3-1.3-.7-1 0-2-1-1 0-1.4-.7-2.3-.3-.7-.7-2.3-.3-1.3-.7-2-.3-1-.7-1 0-1.4-.6-1 0-1.3-.7-1 0-1-.7-2-.3-1.3-.7-1 0-2-1-1 0-1.4-.6-1 0-.3-.4-.7 0-.3-.3-2.7-.7-.3-.3-1 0-1.3-.7-1 0-1-.6-.7 0-.5-.5 .8-1.2 7-6.7 .4 0 3.6-3 1-.3 .7-.7 1-.3 2.3-1.7 6-3 1.7-.3 .3-.3 1.4 0 .3-.4 6.3 0 .4 .4 1.3 0 1.3 .6 1 0 1.4 .7 1 0 1.3 .7 2.3 .3 1.4 .7 1 0 1.3 .6 1 0 1.3 .7 1 0 1.4 .7 1 0 1.3 .6 1 0 1.3 .7 1 0 .4 .3 2 .4 .3 .3 1 0 1.3 .7 1 0 1.4 .6 1 0 1.3 .7 1 0 1.3 .7 2.4 .3 1.3 .7 1 0 1.3 .6 2 .4 .4 .3 1 0 1.3 .7 2 .3 .3 .3 1 0 1.4 .7 2.3 .3 1.3 .7 1 0 1.4 .7 1 0 1.3 .6 1 0 .3 .4 2 .3 1.4 .7 2.3 .3 1.3 .7 1 0 .4 .3 2 .3 1.3 .7 1 0 1.3 .7 1 0 1.4 .6 1 0 1.3 .7 2.3 .3 .4 .4 2 .3 1.3 .7 1 0 1.3 .6 1 0 1.9 .9-1.2 .1-1.3-.6-2.7-.4-.3-.3-3.7 0-.3 .3-1.7 0-.3 .4-2.7 .6-4.7 2.4-.6 .6-2.4 1-.6 .7-1 .3-1 1-2.4 1.4-1 1-.3 0-1.7 1.6-.3 0-7.2 7.2 0 .3-.8 .9z"/><path fill="#edcb00" d="M166.2 641.7l-1.4-.7-1 0-1.3-.7-1 0-2-1-2.3-.3-.4-.3-.6 0-.4-.4-1.6-.3-1.4-.7-1 0-1.3-.6-1 0-2-1-1 0-1.3-.7-1 0-2-1-1 0-1.4-.7-2.3-.3-2-1-1 0-1.3-.7-1 0-2-1-1 0-1.4-.6-1 0-1.3-.7-1 0-1-.7-2-.3-1.3-.7-1 0-2-1-1 0-.4-.3-1 0-1.3-.7-1 0-.7-.6-1 0-.3-.4-2-.3-.3-.3-1 0-2-1-1 0-1.4-.7-2-.3-1-.7-1 0-1.3-.7-2.3-.3-3-1.3-2.4-.4-2.3-1-1.7-.3-.3-.3-1 0-1.3-.7-1 0-1.5-.8 7.1-6.9 .4 0 3.6-3 1-.3 .7-.7 1-.3 2.3-1.7 6-3 1.7-.3 .3-.3 1.4 0 .3-.4 6.3 0 .4 .4 1.3 0 1.3 .6 1 0 1.4 .7 1 0 1.3 .7 2.3 .3 1.4 .7 1 0 1.3 .6 1 0 1.3 .7 1 0 1.4 .7 1 0 1.3 .6 1 0 1.3 .7 1 0 .4 .3 2 .4 .3 .3 1 0 1.3 .7 1 0 1.4 .6 1 0 1.3 .7 1 0 1.3 .7 2.4 .3 1.3 .7 1 0 1.3 .6 2 .4 .4 .3 1 0 1.3 .7 2 .3 .3 .3 1 0 1.4 .7 2.3 .3 1.3 .7 1 0 1.4 .7 1 0 1.3 .6 1 0 .3 .4 2 .3 1.4 .7 2.3 .3 1.3 .7 1 0 .4 .3 2 .3 1.3 .7 1 0 1.3 .7 1 0 1.4 .6 1 0 1.3 .7 2.3 .3 .4 .4 2 .3 1.3 .7 1 0 1.3 .6 1 0 1.9 .9-1.2 .1-1.3-.6-2.7-.4-.3-.3-3.7 0-.3 .3-1.7 0-.3 .4-2.7 .6-4.7 2.4-.6 .6-2.4 1-.6 .7-1 .3-1 1-2.4 1.4-3 2.6-.3 0-7.3 7.4z"/><path fill="#edb500" d="M167.2 640.7l-2.4-1-1 0-1.3-.7-1 0-2-1-1 0-1.3-.7-1 0-2-1-1 0-1.4-.6-1 0-1.3-.7-2.7-.7-.3-.3-1 0-1.3-.7-1 0-1-.6-1 0-1.4-.7-1 0-2-1-1 0-1.3-.7-2-.3-.3-.3-1 0-2-1-1 0-1.4-.7-1 0-2-1-1 0-1.3-.7-1 0-2.3-1-.7 0-.3-.3-1 0-1.4-.7-1 0-2-1-1 0-1.3-.6-1 0-1-.7-1 0-1.3-.7-1 0-.4-.3-2.6-.7-1.4-.6-1 0-1.3-.7-1 0-2-1-1 0-1.3-.7-1 0-1-.6-1 0-1.4-.7-1 0-2-1-1 0-.3-.3-1.8-.5 6.1-5.9 .4 0 3.6-3 1-.3 .7-.7 1-.3 2.3-1.7 6-3 1.7-.3 .3-.3 1.4 0 .3-.4 6.3 0 .4 .4 1.3 0 1.3 .6 1 0 1.4 .7 1 0 1.3 .7 2.3 .3 1.4 .7 1 0 1.3 .6 1 0 1.3 .7 1 0 1.4 .7 1 0 1.3 .6 1 0 1.3 .7 1 0 .4 .3 2 .4 .3 .3 1 0 1.3 .7 1 0 1.4 .6 1 0 1.3 .7 1 0 1.3 .7 2.4 .3 1.3 .7 1 0 1.3 .6 2 .4 .4 .3 1 0 1.3 .7 2 .3 .3 .3 1 0 1.4 .7 2.3 .3 1.3 .7 1 0 1.4 .7 1 0 1.3 .6 1 0 .3 .4 2 .3 1.4 .7 2.3 .3 1.3 .7 1 0 .4 .3 2 .3 1.3 .7 1 0 1.3 .7 1 0 1.4 .6 1 0 1.3 .7 2.3 .3 .4 .4 2 .3 1.3 .7 1 0 1.3 .6 1 0 1.9 .9-1.2 .1-1.3-.6-2.7-.4-.3-.3-3.7 0-.3 .3-1.7 0-.3 .4-2.7 .6-4.7 2.4-.6 .6-2.4 1-.6 .7-1 .3-1 1-2.4 1.4-3 2.6-.3 0-6.3 6.4z"/><path fill="#ed9d00" d="M168.5 639.3l-1 0-1.3-.6-1 0-1.4-.7-1 0-2-1-2.3-.3-3-1.4-1 0-.3-.3-2-.3-1-.7-1 0-.4-.3-2-.4-1.3-.6-1 0-1-.7-2-.3-1.3-.7-1 0-1-.7-1 0-1.4-.6-1 0-2-1-1 0-1.3-.7-1 0-2.3-1-.7 0-.3-.3-1 0-1.4-.7-1 0-2-1-1 0-1.3-.7-1 0-1-.6-2-.4-1.3-.6-1 0-2-1-2.4-.4-2-1-1 0-1.3-.6-2-.4-1-.6-1 0-1.3-.7-1 0-.4-.3-.6 0-2.4-1-1 0-1.3-.7-1 0-2-1-2.3-.3-2-1-2-.4-.2-.5 2.8-2.8 .4 0 1.6-1.7 .4 0 3.6-3 1-.3 .7-.7 1-.3 2.3-1.7 6-3 1.7-.3 .3-.3 1.4 0 .3-.4 6.3 0 .4 .4 1.3 0 1.3 .6 1 0 1.4 .7 1 0 1.3 .7 2.3 .3 1.4 .7 1 0 1.3 .6 1 0 1.3 .7 1 0 1.4 .7 1 0 1.3 .6 1 0 1.3 .7 1 0 .4 .3 2 .4 .3 .3 1 0 1.3 .7 1 0 1.4 .6 1 0 1.3 .7 1 0 1.3 .7 2.4 .3 1.3 .7 1 0 1.3 .6 2 .4 .4 .3 1 0 1.3 .7 2 .3 .3 .3 1 0 1.4 .7 2.3 .3 1.3 .7 1 0 1.4 .7 1 0 1.3 .6 1 0 .3 .4 2 .3 1.4 .7 2.3 .3 1.3 .7 1 0 .4 .3 2 .3 1.3 .7 1 0 1.3 .7 1 0 1.4 .6 1 0 1.3 .7 2.3 .3 .4 .4 2 .3 1.3 .7 1 0 1.3 .6 1 0 1.9 .9-1.2 .1-1.3-.6-2.7-.4-.3-.3-3.7 0-.3 .3-1.7 0-.3 .4-2.7 .6-4.7 2.4-.6 .6-2.4 1-.6 .7-1 .3-1 1-2.4 1.4-3 2.6-.3 0-5 5z"/><path fill="#ed8300" d="M169.2 638.7l-2.7-1.4-1 0-1.3-.6-1 0-2-1-1 0-1.4-.7-2.3-.3-.7-.7-1 0-.3-.3-1 0-1.3-.7-1 0-2-1-1 0-1.4-.7-1 0-1-.6-2-.4-1.3-.6-1 0-1-.7-1 0-1.3-.7-1 0-2-1-2.4-.3-2-1-1 0-1.3-.7-2-.3-1-.7-1 0-1.3-.6-2-.4-1-.6-1 0-1.4-.7-1 0-1.3-.7-1.7-.3-.3-.3-1 0-2-1-1 0-.3-.4-1 0-1.4-.6-1 0-2-1-1 0-.3-.4-3.7-1-.3-.3-1 0-.3-.3-2.7-.7-.3-.3-1 0-1.4-.7-1 0-2-1-2.3-.3-.7-.7-.8-.2 3.8-3.5 .4 0 3.6-3 1-.3 .7-.7 1-.3 2.3-1.7 6-3 1.7-.3 .3-.3 1.4 0 .3-.4 6.3 0 .4 .4 1.3 0 1.3 .6 1 0 1.4 .7 1 0 1.3 .7 2.3 .3 1.4 .7 1 0 1.3 .6 1 0 1.3 .7 1 0 1.4 .7 1 0 1.3 .6 1 0 1.3 .7 1 0 .4 .3 2 .4 .3 .3 1 0 1.3 .7 1 0 1.4 .6 1 0 1.3 .7 1 0 1.3 .7 2.4 .3 1.3 .7 1 0 1.3 .6 2 .4 .4 .3 1 0 1.3 .7 2 .3 .3 .3 1 0 1.4 .7 2.3 .3 1.3 .7 1 0 1.4 .7 1 0 1.3 .6 1 0 .3 .4 2 .3 1.4 .7 2.3 .3 1.3 .7 1 0 .4 .3 2 .3 1.3 .7 1 0 1.3 .7 1 0 1.4 .6 1 0 1.3 .7 2.3 .3 .4 .4 2 .3 1.3 .7 1 0 1.3 .6 1 0 1.9 .9-1.2 .1-1.3-.6-2.7-.4-.3-.3-3.7 0-.3 .3-1.7 0-.3 .4-2.7 .6-4.7 2.4-.6 .6-2.4 1-.6 .7-1 .3-1 1-2.4 1.4-3 2.6-.3 0-4.3 4.4z"/><path fill="#ed6700" d="M170.5 637.3l-1.3-.6-1 0-1.4-.7-2-.3-1-.7-1 0-1.3-.7-1 0-1-.6-1 0-1.3-.7-1 0-2-1-2.4-.3-.3-.4-.7 0-.3-.3-1.7-.3-1.3-.7-1 0-2-1-1 0-1.3-.7-1 0-.4-.3-2.6-.7-.4-.3-1 0-2-1-1 0-1.3-.7-1 0-2-1-2.3-.3-.4-.3-2.6-.7-.4-.3-2-.4-1-.6-1 0-1.3-.7-1 0-2-1-1 0-1.3-.7-1 0-1-.6-1 0-1.4-.7-1 0-2-1-2.3-.3-2-1-1 0-1.3-.7-1 0-1-.7-1 0-1.4-.6-1 0-1-.7-3-.7-1-.6-1 0-1.3-.7-1 0-.2-.5 6.5-5.2 1-.3 .7-.7 1-.3 2.3-1.7 6-3 1.7-.3 .3-.3 1.4 0 .3-.4 6.3 0 .4 .4 1.3 0 1.3 .6 1 0 1.4 .7 1 0 1.3 .7 2.3 .3 1.4 .7 1 0 1.3 .6 1 0 1.3 .7 1 0 1.4 .7 1 0 1.3 .6 1 0 1.3 .7 1 0 .4 .3 2 .4 .3 .3 1 0 1.3 .7 1 0 1.4 .6 1 0 1.3 .7 1 0 1.3 .7 2.4 .3 1.3 .7 1 0 1.3 .6 2 .4 .4 .3 1 0 1.3 .7 2 .3 .3 .3 1 0 1.4 .7 2.3 .3 1.3 .7 1 0 1.4 .7 1 0 1.3 .6 1 0 .3 .4 2 .3 1.4 .7 2.3 .3 1.3 .7 1 0 .4 .3 2 .3 1.3 .7 1 0 1.3 .7 1 0 1.4 .6 1 0 1.3 .7 2.3 .3 1.4 .7 1 0 1.3 .7 1 0 1.3 .6 2 .4 .5 .5-.5 .1-.3-.3-2-.3-.3-.4-1.7 0-.3-.3-3.7 0-.3 .3-1.7 0-.3 .4-2.7 .6-9.3 5-1 1-3.7 2.4-5 4.6z"/><path fill="#ed4b00" d="M171.5 636.3l-.7-.6-.6 0-.4-.4-2.3-.3-2-1-1 0-1.3-.7-1 0-1-.6-1 0-1.4-.7-1 0-2-1-2-.3-1-.7-1 0-.3-.3-2-.4-2.3-1-1 0-1.4-.6-1 0-.6-.7-2.4-.3-2-1-1 0-1.3-.7-1 0-1-.7-1 0-1.3-.6-1 0-2-1-1 0-.4-.4-2.6-.6-.4-.4-2.3-.3-.7-.7-1 0-.3-.3-1 0-.3-.3-2.7-.7-.3-.3-1 0-2-1-1 0-1.4-.7-1 0-1-.7-1 0-.3-.3-.7 0-.3-.3-2.7-.7-.3-.3-1 0-1-.7-1 0-1.3-.7-1 0-1-.6-2-.4-.4-.3-1 0-1-.7-2-.3-.3-.3-.7 0-.3-.4-.7 0-.3-.3-1.8-.5 5.1-4.2 1-.3 .7-.7 1-.3 2.3-1.7 6-3 1.7-.3 .3-.3 1.4 0 .3-.4 6.3 0 .4 .4 3.6 .6 1.4 .7 1 0 1.3 .7 1 0 1.3 .6 1 0 1.4 .7 1 0 .3 .3 2 .4 .3 .3 1 0 1.4 .7 1 0 1.3 .6 1 0 1.3 .7 1 0 .4 .3 2 .4 .3 .3 1 0 1.3 .7 1 0 1.4 .6 1 0 1.3 .7 1 0 1.3 .7 2.4 .3 1.3 .7 1 0 1.3 .6 2 .4 .4 .3 1 0 1.3 .7 2 .3 .3 .3 1 0 1.4 .7 2.3 .3 1.3 .7 1 0 1.4 .7 1 0 1.3 .6 1 0 .3 .4 2 .3 1.4 .7 2.3 .3 1.3 .7 1 0 .4 .3 2 .3 1.3 .7 1 0 1.3 .7 1 0 1.4 .6 1 0 1.3 .7 2.3 .3 .4 .4 2 .3 1.3 .7 1 0 1.3 .6 1 0 .5 .5-.5 .2-.3-.3-1 0-.3-.4-1.7 0-.3-.3-3.7 0-.3 .3-1.7 0-.3 .4-2.7 .6-9.3 5-1 1-3.7 2.4-4 3.6z"/><path fill="#ed2e00" d="M173.2 634.7l-2.4-.4-.3-.3-.7 0-2.3-1-2.3-.3-.7-.7-1 0-1.3-.7-1 0-1-.6-2.4-.4-2-1-1 0-.3-.3-.7 0-2.3-1-2-.3-1-.7-1 0-1.3-.7-1 0-1-.6-1 0-1.4-.7-1 0-1-.7-2-.3-1-.7-2.3-.3-2-1-1 0-1.3-.7-1.7-.3-.3-.3-2-.4-1-.6-1 0-1.4-.7-1 0-1-.7-1 0-.3-.3-.7 0-2.3-1-1 0-2-1-2-.3-1-.7-1 0-.3-.3-1 0-1-.7-1 0-1.4-.7-1 0-1-.6-2-.4-1-.6-1 0-1.3-.7-1.7-.3-.3-.4-1 0-2-1-1 0-.3-.3-.7 0-.3-.3-1.9-.5 3.5-2.9 1-.3 .7-.7 1-.3 2.3-1.7 6-3 1.7-.3 .3-.3 1.4 0 .3-.4 6.3 0 .4 .4 2 .3 .3 .3 1 0 1.3 .7 1 0 1.4 .7 1 0 1.3 .6 2.3 .4 .4 .3 2 .3 1.3 .7 1 0 1.3 .7 2.4 .3 1.3 .7 2.3 .3 1.4 .7 1 0 1.3 .6 2 .4 .3 .3 1 0 1.4 .7 1 0 1.3 .6 1 0 .3 .4 2 .3 .4 .3 1 0 1.3 .7 1 0 1.3 .7 1 0 1.4 .6 2.3 .4 1.3 .6 2 .4 .4 .3 1 0 .3 .3 2 .4 1.3 .6 1 0 1.4 .7 2.3 .3 1.3 .7 1 0 1.4 .7 1 0 1.3 .6 1 0 1.3 .7 2.4 .3 1.3 .7 1 0 1.3 .7 1 0 1.4 .6 1 0 1.3 .7 2 .3 .3 .4 2.4 .3 .3 .3 2 .4 1.8 .8-.8 .2-.3-.4-1.7 0-.3-.3-3.7 0-.3 .3-1.7 0-.3 .4-2.7 .6-9.3 5-1 1-2.4 1.4-3.6 3z"/><path fill="#ed1000" d="M174.5 633.7l-1.3-.4-1-.6-2.4-.4-1-.6-2-.4-.3-.3-2.7-.7-.3-.3-1 0-1-.7-2-.3-1-.7-1 0-1.3-.6-1 0-1-.7-2-.3-1-.7-2.4-.3-1-.7-2-.3-1-.7-1 0-1.3-.7-1 0-1-.6-1 0-.3-.4-2.7-.6-.3-.4-1 0-1-.6-2-.4-1-.6-1 0-.4-.4-.6 0-2.4-1-1 0-1-.6-1 0-.3-.4-2.7-.6-.3-.4-1 0-1-.6-2-.4-1-.6-2.3-.4-1-.6-2-.4-1-.6-1 0-.4-.4-.6 0-2.4-1-1 0-1-.6-1 0-1-.7-2-.3-1-.7-1 0-.3-.3-2.7-.7-.3-.3-1 0-1-.7-1 0-.2-.5 1.5-1.2 4.4-2.3 .6-.7 6-3 1.7-.3 .3-.3 1.4 0 .3-.4 5.7 0 .3 .4 2 .3 .3 .3 1 0 1.4 .7 2.3 .3 1.3 .7 1 0 1.4 .7 1 0 .3 .3 1 0 1.3 .7 1 0 .4 .3 2 .3 .3 .4 1 0 .3 .3 2 .3 1.4 .7 2.3 .3 .3 .4 2 .3 1.4 .7 1 0 1.3 .6 1 0 .3 .4 2 .3 .4 .3 2 .4 .3 .3 2.3 .3 1.4 .7 1 0 1.3 .7 1 0 .3 .3 2 .3 1.4 .7 2.3 .3 1.3 .7 1 0 .4 .3 2 .4 1.3 .6 2.3 .4 .4 .3 2 .3 1.3 .7 2.3 .3 1.4 .7 1 0 1.3 .7 1 0 1.3 .6 1 0 1.4 .7 2.3 .3 1.3 .7 1 0 1.4 .7 1 0 1.3 .6 1 0 1.3 .7 2.4 .3 .3 .4 1.8 .5-1.8 .1-.3-.3-3.7 0-.3 .3-1.7 0-.3 .4-2.7 .6-9.3 5-1 1-2.4 1.4-2.3 2z"/></g>
<path d="M69.9 656.1l-8.8-5-13.8-6.2M99.2 664.4l-7.8-4.5-10-4.7-30.5-12.1M127.8 672.2l-10.4-5.6-15.3-6.8-21.4-8.2-27.4-9.9M134.2 669.3l-33.3-12.8-45.6-15.9M137.8 667.5l-34-12.1-46.9-15.8M140.2 666.2l-82-27.5M142.1 665.1l-82.7-27.2M143.7 664.1l-83.3-27M145.1 663.2l-83.7-26.9M146.2 662.4l-83.9-26.8M147.3 661.6l-84.2-26.7M148.2 660.8l-84.3-26.5M149.1 660.1l-84.5-26.5M149.9 659.4l-84.6-26.4M150.7 658.8l-84.8-26.4M151.4 658.1l-84.9-26.4M152.1 657.5l-85-26.4M152.7 656.8l-85-26.3M153.3 656.2l-85-26.2M153.9 655.6l-85.1-26.2M154.5 655l-85.2-26.2M155.1 654.4l-85.3-26.2M155.6 653.9l-85.3-26.2M156.1 653.3l-85.3-26.2M156.7 652.7l-85.4-26.2M157.2 652.2l-85.4-26.2M157.6 651.6l-85.3-26.2M158.1 651l-85.4-26.1M158.6 650.5l-85.4-26.2M159.1 649.9l-85.4-26.1M159.5 649.4l-85.4-26.2M160 648.8l-85.4-26.1M160.5 648.3l-85.5-26.2M160.9 647.7l-85.4-26.1M161.4 647.2l-85.5-26.2M161.8 646.6l-85.4-26.1M162.3 646.1l-85.4-26.2M162.8 645.5l-85.5-26.1M163.2 645l-85.4-26.2M163.7 644.4l-85.4-26.1M164.2 643.9l-85.4-26.2M164.6 643.3l-85.3-26.1M165.1 642.8l-85.3-26.2M165.6 642.2l-85.3-26.2M166.1 641.6l-85.3-26.2M166.6 641.1l-85.3-26.2M167.1 640.5l-85.2-26.2M167.6 639.9l-85.1-26.2M168.2 639.4l-85.2-26.3M168.7 638.8l-85-26.3M117 599.8l5.2 1.5M122.9 601.5l.4 .1M124 601.8l3 .8M127.7 602.8l1.5 .5M129.9 603.5l.4 .1M131 603.8l5.2 1.4M136.9 605.5l3 .8M140.6 606.5l1.5 .4M142.8 607.1l.4 .1M143.9 607.4l.2 .1M169.3 638.2l-85-26.3M115.8 599.4l8.8 2.5M125.4 602.1l12.2 3.5M138.3 605.8l6.3 1.8M145.3 607.8l5.2 1.5M151.2 609.5l.4 .1M152.3 609.8l.8 .2M153.4 610.1l1.9 .5M156 610.8l1.5 .4M158.2 611.5l4.1 1.1M163 612.8l1.5 .4M165.2 613.4l3 .9M168.9 614.5l.4 .1M170 614.8l.4 .1M171.1 615.1l2.3 .7M169.9 637.6l-84.9-26.4M115.3 599.2l37.6 10.7M153.7 610.1l6.3 1.8M160.7 612.1l5.2 1.5M166.6 613.8l6.3 1.8M173.6 615.8l5.2 1.4M179.5 617.5l.4 .1M180.6 617.8l1.9 .5M182.8 618.4l.8 .2M184.3 618.8l1.5 .4M186.5 619.4l4.1 1.2M191.3 620.8l1.5 .4M193.5 621.4l.8 .2M195 621.9l1.5 .4M197.2 622.5l5.5 1.5M170.5 637l-84.8-26.4M114.7 599.1l66.6 18.8M182 618.1l6.3 1.8M189 620.1l5.2 1.5M194.9 621.8l8.1 2.3M171.1 636.3l-84.7-26.4M114.2 598.9l88.3 25M171.8 635.7l-84.6-26.5M113.6 598.8l88.4 24.9M172.5 635.1l-84.4-26.6M113 598.7l88.5 24.9M173.3 634.4l-84.2-26.6M112.3 598.6l88.7 24.8M174.1 633.7l-84-26.7M111.6 598.5l88.8 24.8M174.9 633l-83.7-26.8M110.9 598.4l88.9 24.8" fill="none" stroke="#000" stroke-opacity="0.45" stroke-width="0.25"/>
<path d="M67.5 658.4h0M132.6 637.3h0M173.9 637.9h0M166.6 626.3h0M133 597.4h0M114.1 687.1h0M60.7 625h0M57.4 634.8h0M130.5 645h0M78.1 645.6h0M76.5 640.5h0M80.2 659.8h0M93 602.5h0M125.6 675h0M119.2 608h0M178.1 616.5h0M60.6 624.2h0M69.8 613.8h0M106.4 644.9h0M103.6 658.4h0M97.9 666.4h0M166.5 617.4h0M73.1 639.4h0M109.9 639.4h0M118.7 589.6h0M173.3 612.4h0M90.1 617.8h0M138.1 608.7h0M68 652.3h0M110.8 671.2h0M76.6 629.6h0M112.4 643.1h0M109.2 650.5h0M69.8 634.3h0M72.3 638h0M106.6 606.4h0M125 644.8h0M143.9 620.6h0M74.9 670.9h0M128.5 629.9h0M75.1 612.3h0M151.9 634.4h0M85.1 636.2h0M63.1 631.4h0M113 641.3h0M115.3 655.2h0M187.1 638.5h0M185.8 585.5h0M147 599.8h0M127.4 686.6h0M141.8 602h0M184.8 641.8h0M61.9 649.8h0M99.6 647.2h0M176.5 627h0M105.4 622.1h0M65.5 670.9h0M117.3 648.4h0M125.2 600.9h0M140 662h0M143.8 625.5h0M122 592.3h0M60.7 633.1h0M159.4 642.3h0" stroke="#000" stroke-width="2.3" stroke-linecap="round"/></g>
<g><path d="M40.6 963.3L117.5 933.5L203.5 958.7M40.6 946.2L117.5 916.4L203.5 941.6M40.6 929.1L117.5 899.3L203.5 924.5M40.6 912L117.5 882.2L203.5 907.4M40.6 894.9L117.5 865.1L203.5 890.3M40.6 877.7L117.5 847.9L203.5 873.1M46.7 973L123.6 943.2L123.6 834.6M59 976.6L135.9 946.8L135.9 838.2M71.3 980.2L148.2 950.4L148.2 841.8M83.6 983.8L160.5 954L160.5 845.4M95.9 987.4L172.8 957.6L172.8 849M108.2 991L185.1 961.2L185.1 852.6M120.5 994.6L197.4 964.8L197.4 856.2M130.9 994.7L44.9 969.5L44.9 860.9M148 988.1L62 962.9L62 854.3M165.1 981.5L79.1 956.3L79.1 847.7M182.1 974.9L96.1 949.7L96.1 841.1M199.2 968.3L113.2 943.1L113.2 834.5" stroke="#dcdcdc" stroke-width="0.4" fill="none" stroke-dasharray="1 .6"/>
<path d="M40.6 971.2L40.6 862.6M117.5 941.4L117.5 832.8M203.5 966.6L203.5 858M40.6 862.6L117.5 832.8M117.5 832.8L203.5 858M40.6 971.2L126.6 996.4M126.6 996.4L203.5 966.6" stroke="#a8a8a8" stroke-width=".55" fill="none"/>
<path d="M40.6 971.2L117.5 941.4M117.5 941.4L203.5 966.6" stroke="#9a9ad8" stroke-width=".55" fill="none"/>
<g fill-rule="evenodd"><path fill="#0016ed" d="M127.8 976l-1.3 0-.7-.3-4.3-3.7-.3 0-3-3-.4 0-.5-.8-.8-.5-4.5-4.5 0-.4-5-5 0-.3-5.7-5.7 0-.3-.8-.5-.2-.5-1-.7 0-.3-6.1-5.8-.4 0-3-2.7-.3 0-2.7-2-4.3-2.3-.7 0-2.3-1-1 0-.3-.4-1.7 0-.3-.3-7.7 0-.3 .3-1.7 0-.3 .4-1.4 0-.3 .3-1.3 0-.4 .3-1 0-1.3 .7-1 0-.3 .3-.7 0-.3 .4-.7 0-.3 .3-1.7 .3-.3 .4-2.7 .6-.3 .4-.7 0-.3 .3-.7 0-1 .7-2 .3-.3 .3-1.7 .4-1.3 .6-1 0-1.4 .7-1.5-.2 4.7-4.6 0-.4 9.3-10 0-.3 5-5.7 0-.3 1.4-1.3 0-.4 1.3-1.3 0-.3 4.7-5.7 1.3-2.3 3.3-4.4 0-.3 4-5.7 .4-1 1.3-1.6 1.7-3.4 .6-.6 1.4-2.7 .6-.7 2-4 .7-.6 .7-1.7 .6-.7 .7-1.6 .7-.7 .6-1.7 1.7-2.3 1.3-3 1.4-1.7 1.3-2.6 .7-.7 2.6-4.3 1-1 0-.4 2-2.3 0-.3 4.9-5.2 .3 0 3-2.3 2.3-.7 .4-.3 4.3 0 8 3.6 .7 .7 3 1.3 .6 .7 1.7 .7 1.7 1.3 1 .3 3 2.4 1.3 .6 1 1 1.3 .7 2.4 2 .3 0 1.7 1.7 1.6 1 1.7 1.6 .3 0 2.7 2.7 .3 0 3.7 3.7 .3 0 12.9 12.8 0 .3 4.6 4.7 0 .3 .9 .5 .1 .5 4.7 4.7 0 .3 12.2 12.2 .3 0 5.3 5 1.4 .7 2.6 2.3 1.4 .7 .6 .6 1 .4 1 1 1.9 .8-.2 .5-1.3 .3-9.7 5-.7 .7-1 .3-.6 .7-1 .3-.7 .7-1.3 .7-4.4 3.3-.3 0-4.3 3.7-.4 0-4.3 4-.3 0-2.4 2.3-.3 0-2.3 2.3-.4 0-3.3 3.4-.3 0-2.4 2.3-.3 0-8.3 7.3-.4 0-2.6 2.4-1.4 .6-1 1-1.3 .7-1.7 1.3-1 .4-1.6 1.3-6.4 3-.6 0-2.4 1-1 0-.3 .3-1 0-.3 .4-2 0-.4 .3z"/><path fill="#0041ed" d="M122.8 973l-1.6-1-3-3-.4 0-1-1.3-.3 0-15.2-15.9 0-.3-.8-.5-.2-.5-1-.7 0-.3-2.6-2.3-.5-.9-.4 0-2.6-2.6-.4 0-3-2.7-.3 0-2.7-2-1-.3-.6-.7-2.7-1.3-.7 0-2.3-1-1 0-.3-.4-1.7 0-.3-.3-7.7 0-.3 .3-1.7 0-.3 .4-1.4 0-.3 .3-1.3 0-.4 .3-1 0-1.3 .7-1 0-.3 .3-.7 0-.3 .4-.7 0-.3 .3-1.7 .3-.3 .4-2.7 .6-.3 .4-.7 0-.3 .3-.7 0-1 .7-2 .3-.3 .3-1.7 .4-1.3 .6-1 0-1.4 .7-1.5-.2 4.7-4.6 0-.4 9.3-10 0-.3 5-5.7 0-.3 1.4-1.3 0-.4 1.3-1.3 0-.3 4.7-5.7 1.3-2.3 3.3-4.4 0-.3 4-5.7 .4-1 1.3-1.6 1.7-3.4 .6-.6 1.4-2.7 .6-.7 2-4 .7-.6 .7-1.7 .6-.7 .7-1.6 .7-.7 .6-1.7 1.7-2.3 1.3-3 1.4-1.7 1.3-2.6 .7-.7 2.6-4.3 1-1 0-.4 2-2.3 0-.3 4.9-5.2 .3 0 3-2.3 2.3-.7 .4-.3 4.3 0 8 3.6 .7 .7 3 1.3 .6 .7 1.7 .7 1.7 1.3 1 .3 3 2.4 1.3 .6 1 1 1.3 .7 2.4 2 .3 0 1.7 1.7 1.6 1 1.7 1.6 .3 0 2.7 2.7 .3 0 3.7 3.7 .3 0 12.9 12.8 0 .3 4.6 4.7 0 .3 .9 .5 .1 .5 4.7 4.7 0 .3 12.2 12.2 .3 0 5.3 5 1.4 .7 2.6 2.3 1.4 .7 .6 .6 1 .4 1 1 1.9 .8-.2 .5-1.3 .3-9.7 5-.7 .7-1 .3-.6 .7-1 .3-.7 .7-1.3 .7-4.4 3.3-.3 0-4.3 3.7-.4 0-4.3 4-.3 0-2.4 2.3-.3 0-2.3 2.3-.4 0-3.3 3.4-.3 0-2.4 2.3-.3 0-2 2-.3 0-2 2-.4 0-5 4.3-1.3 .4-.3 .3-.7-.3-1.3 .6-1.4 0-1.3 .7-1.3 0-.4 .3-2.6 .4-1 .6-.4-.3-1.3 .7-1 0-1.3 .6-1 0-2.4 1-.3-.3-.3 .3-1.7 .4-1 .6-1 0-1 .7-2.3 .7-2.4 1.3z"/><path fill="#006ced" d="M117.8 969l-.5-.8-.8-.5-4.5-4.5 0-.4-5-5 0-.3-5.7-5.7 0-.3-.8-.5-.2-.5-1-.7 0-.3-2.6-2.3-.5-.9-.4 0-2.6-2.6-.4 0-3-2.7-.3 0-2.7-2-1-.3-.6-.7-2.7-1.3-.7 0-2.3-1-1 0-.3-.4-1.7 0-.3-.3-7.7 0-.3 .3-1.7 0-.3 .4-1.4 0-.3 .3-1.3 0-.4 .3-1 0-1.3 .7-1 0-.3 .3-.7 0-.3 .4-.7 0-.3 .3-1.7 .3-.3 .4-2.7 .6-.3 .4-.7 0-.3 .3-.7 0-1 .7-2 .3-.3 .3-1.7 .4-1.3 .6-1 0-1.4 .7-1.5-.2 4.7-4.6 0-.4 9.3-10 0-.3 5-5.7 0-.3 1.4-1.3 0-.4 1.3-1.3 0-.3 4.7-5.7 1.3-2.3 3.3-4.4 0-.3 4-5.7 .4-1 1.3-1.6 1.7-3.4 .6-.6 1.4-2.7 .6-.7 2-4 .7-.6 .7-1.7 .6-.7 .7-1.6 .7-.7 .6-1.7 1.7-2.3 1.3-3 1.4-1.7 1.3-2.6 .7-.7 2.6-4.3 1-1 0-.4 2-2.3 0-.3 4.9-5.2 .3 0 3-2.3 2.3-.7 .4-.3 4.3 0 8 3.6 .7 .7 3 1.3 .6 .7 1.7 .7 1.7 1.3 1 .3 3 2.4 1.3 .6 1 1 1.3 .7 2.4 2 .3 0 1.7 1.7 1.6 1 1.7 1.6 .3 0 2.7 2.7 .3 0 3.7 3.7 .3 0 12.9 12.8 0 .3 4.6 4.7 0 .3 .9 .5 .1 .5 4.7 4.7 0 .3 12.2 12.2 .3 0 5.3 5 1.4 .7 2.6 2.3 1.4 .7 .6 .6 1 .4 1 1 1.9 .8-.2 .5-1.3 .3-9.7 5-.7 .7-1 .3-.6 .7-1 .3-.7 .7-1.3 .7-4.4 3.3-.3 0-4.3 3.7-.4 0-4.3 4-.3 0-2.4 2.3-.3 0-2.3 2.3-.4 0-3.3 3.4-.3 0-6.4 5.6-1.6 0-.4 .4-1 0-.3 .3-1.7 0-.3 .3-1.3 0-.4 .4-1 0-.3 .3-3.3 .3-1.4 .7-3.3 .3-.3 .4-1 0-.4 .3-1 0-.3 .3-1 0-.3 .4-1.4 0-.3 .3-2.3 .3-1.4 .7-1 0-.3 .3-3.7 .7-1.3 .7-1 0-2.3 1-2 .3-.4 .3-1 0-1 .7z"/><path fill="#0097ed" d="M114.2 965l-.4 0-1.8-1.8 0-.4-5-5 0-.3-5.7-5.7 0-.3-.8-.5-.2-.5-1-.7 0-.3-6.1-5.8-.4 0-3-2.7-.3 0-2.7-2-1-.3-.6-.7-2.7-1.3-.7 0-2.3-1-1 0-.3-.4-1.7 0-.3-.3-7.7 0-.3 .3-1.7 0-.3 .4-1.4 0-.3 .3-1.3 0-.4 .3-1 0-1.3 .7-1 0-.3 .3-.7 0-.3 .4-.7 0-.3 .3-1.7 .3-.3 .4-.7 0-.3 .3-3.7 1-1 .7-2 .3-.3 .3-1.7 .4-1.3 .6-1 0-1.4 .7-1.5-.2 4.7-4.6 0-.4 9.3-10 0-.3 5-5.7 0-.3 1.4-1.3 0-.4 1.3-1.3 0-.3 4.7-5.7 1.3-2.3 3.3-4.4 0-.3 4-5.7 .4-1 1.3-1.6 1.7-3.4 .6-.6 1.4-2.7 .6-.7 2-4 .7-.6 .7-1.7 .6-.7 .7-1.6 .7-.7 .6-1.7 1.7-2.3 1.3-3 1.4-1.7 1.3-2.6 .7-.7 2.6-4.3 1-1 0-.4 2-2.3 0-.3 4.9-5.2 .3 0 3-2.3 2.3-.7 .4-.3 4.3 0 8 3.6 .7 .7 3 1.3 .6 .7 1.7 .7 1.7 1.3 1 .3 3 2.4 1.3 .6 1 1 1.3 .7 2.4 2 .3 0 1.7 1.7 1.6 1 1.7 1.6 .3 0 2.7 2.7 .3 0 3.7 3.7 .3 0 12.9 12.8 0 .3 4.6 4.7 0 .3 .9 .5 .1 .5 4.7 4.7 0 .3 12.2 12.2 .3 0 5.3 5 1.4 .7 2.6 2.3 1.4 .7 .6 .6 1 .4 1 1 1.9 .8-.2 .5-1.3 .3-9.7 5-.7 .7-1 .3-.6 .7-1 .3-.7 .7-1.3 .7-4.4 3.3-.3 0-4.3 3.7-.4 0-4.3 4-.3 0-9.7 8.6-.7 0-.3 .4-2.3 0-.4 .3-2 0-.3 .3-2.7 .4-.3 .3-1.7 0-.3 .3-1.3 0-.4 .4-1.6 0-.4 .3-3.3 .3-.3 .4-1 0-.4 .3-1.6 0-.4 .3-1 0-.3 .4-1 0-.3 .3-1.7 0-1.3 .7-1.7 0-.3 .3-1 0-.4 .3-1.3 0-.3 .4-1 0-.4 .3-2.6 .3-1.4 .7-1.3 0-.3 .3-1.4 0-.3 .4-1 0-.3 .3-2.4 .3-.3 .4-2 .3-2.3 1z"/><path fill="#00c2ed" d="M110.8 961l-.6 0-8.9-9.2 0-.3-.8-.5-.2-.5-1-.7 0-.3-6.1-5.8-.4 0-3-2.7-.3 0-2.7-2-1-.3-.6-.7-2.7-1.3-.7 0-2.3-1-1 0-.3-.4-1.7 0-.3-.3-7.7 0-.3 .3-1.7 0-.3 .4-1.4 0-.3 .3-1.3 0-.4 .3-1 0-1.3 .7-1 0-.3 .3-.7 0-.3 .4-.7 0-.3 .3-1.7 .3-.3 .4-.7 0-.3 .3-3.7 1-1 .7-2 .3-2.3 1-.5-.2 0-1-.4-.3-.3-1.3 10.3-11.4 0-.3 5-5.7 0-.3 1.4-1.3 0-.4 1.3-1.3 0-.3 4.7-5.7 1.3-2.3 3.3-4.4 0-.3 4-5.7 .4-1 1.3-1.6 .3-1 .7-.7 .7-1.7 .6-.6 1.4-2.7 .6-.7 .7-1.6 .7-.7 .6-1.7 .7-.6 .7-1.7 .6-.7 .7-1.6 .7-.7 .6-1.7 1.7-2.3 1.3-3 1.4-1.7 1.3-2.6 .7-.7 2.6-4.3 1-1 0-.4 2-2.3 0-.3 1.4-1.4 0-.3 3.5-3.5 .3 0 1-1 2.7-1.7 .6 0 1.4-.6 4.3 0 4.7 2.3 .6 0 2.7 1.3 .7 .7 3 1.3 .6 .7 1.7 .7 1.7 1.3 1 .3 .6 .7 1.4 .7 3.3 2.6 1.3 .7 1 1 1.7 1 1.7 1.7 1.6 1 4.7 4.3 .3 0 3.7 3.7 .3 0 6.9 6.8 6 6 0 .3 4.6 4.7 0 .3 1 .7 0 .3 4.7 4.7 0 .3 12.2 12.2 .3 0 5.3 5 1.4 .7 1.3 1.3 .3 0 2 1.7 2 1 1 1 1.7 .6 .2 .5-.9 .5-.6 0-7.4 3.7-.6 .7-1.7 .6-.7 .7-1 .3-.6 .7-1 .3-.7 .7-1.3 .7-1 1-3.7 2.3-4.3 3.7-.4 0-2.3 2.3-.3 0-1.7 1.7-.3 0-4.4 4-.3-.4-.3 .4-2.7 0-.3 .3-1.4 0-.3 .3-2 0-.3 .4-1.7 0-.3 .3-3.7 .3-.3 .4-1 0-.4 .3-2 0-.3 .3-1 0-.3 .4-2.4 0-.3 .3-1.3 0-.4 .3-1.3 0-.3 .4-1.7 0-.3 .3-2.7 .3-.3 .4-1 0-.4 .3-.3-.3-.3 .3-2.7 .3-.3 .4-3.4 .3-.3 .3-2.3 .4-.4 .3-1.6 0-1.4 .7-1.6 0-1.4 .6-1.3 0-1.3 .7-1.4 0-.3 .3-1 0-.3 .4-1.4 0-.3 .3-1 0-.3 .3-2 .4-.4 .3z"/><path fill="#00eced" d="M107.2 957.3l-.4 0-5.5-5.5-.1-.5-.7-.3-.7-1-.5-.2 0-.3-6.1-5.8-.4 0-3-2.7-.3 0-2.7-2-4.3-2.3-.7 0-2.3-1-1 0-.3-.4-1.7 0-.3-.3-7.7 0-.3 .3-1.7 0-.3 .4-1.4 0-.3 .3-1.3 0-.4 .3-1 0-1.3 .7-1 0-.3 .3-.7 0-.3 .4-.7 0-.3 .3-1.7 .3-.3 .4-.7 0-.3 .3-.7 0-.3 .3-.7 0-.3 .4-1.7 .3-1.3 .7-.2-.5 .3-.4 0-2.3-1.3-2.7 11.3-13 0-.3 5.4-6.3 0-.4 2-2.3 1.3-2.3 1-1 1.3-2.4 1-1 0-.3 4-5.7 .4-1 1.3-1.6 1.7-3.4 .6-.6 1.4-2.7 .6-.7 .7-1.6 .7-.7 .6-1.7 .7-.6 2-4 .7-.7 .6-1.7 1.7-2.3 1.3-3 1.4-1.7 1.3-2.6 .7-.7 2.6-4.3 1-1 0-.4 2-2.3 0-.3 4.9-5.2 .3 0 3-2.3 2.3-.7 .4-.3 4.3 0 4.7 2.3 .6 0 2.7 1.3 .7 .7 3 1.3 .6 .7 1.7 .7 1.7 1.3 1 .3 .6 .7 1.4 .7 3.3 2.6 1.3 .7 1 1 1.7 1 1.7 1.7 1.6 1 4.7 4.3 .3 0 3.7 3.7 .3 0 6.9 6.8 6 6 0 .3 4.6 4.7 0 .3 1 .7 0 .3 4.7 4.7 0 .3 12.2 12.2 .3 0 5.3 5 1.4 .7 1.3 1.3 .3 0 2 1.7 2 1 1 1 1.7 .6 .2 .5-.9 .5-.6 0-7.4 3.7-.6 .7-1.7 .6-.7 .7-2.6 1.3-3 2.4-1.4 .6-1 1-1.3 .7-1 1-.3 0-6.7 5.7-2.3 0-.4 .3-2.3 0-.3 .3-4.4 .4-.3 .3-1.7 0-.3 .3-2 0-.3 .4-3 .3-.4 .3-2.3 0-.3 .4-3.7 .3-.3 .3-1.4 0-.3 .4-2 0-.3 .3-1 0-.4 .3-3.6 .4-.4 .3-3 .3-.3 .4-1.7 0-.3 .3-1.3 0-.4 .3-1.3 0-.3 .4-1.4 0-.3 .3-1.3 0-.4 .3-3.3 .4-.3 .3-2.7 .3-.3 .4-1.7 0-.3 .3-1 0-.4 .3-1 0-.3 .4-3 .3-.3 .3-1 0-1.4 .7-2 .3-.3 .4-1 0-1.3 .6z"/><path fill="#00edc5" d="M103.2 953.7l-1.9-1.9-.1-.5-.7-.3-.7-1-.5-.2 0-.3-2.6-2.3-.5-.9-.4 0-2.6-2.6-.4 0-3-2.7-.3 0-2.7-2-1-.3-.6-.7-2.7-1.3-.7 0-2.3-1-1 0-.3-.4-1.7 0-.3-.3-7.7 0-.3 .3-1.7 0-.3 .4-1.4 0-.3 .3-2.7 .3-1.3 .7-1 0-.3 .3-.7 0-.3 .4-4.7 1.3-.2-.2 1-1.3 0-2-.3-.3-.7-2.4-1.3-1.6 0-1 2.3-2.4 0-.3 1.7-1.7 0-.3 1.7-1.7 0-.3 1.6-1.7 0-.3 5.4-6.3 0-.4 2-2.3 1.3-2.3 1-1 1.3-2.4 1-1 0-.3 4-5.7 .4-1 1.3-1.6 1.7-3.4 .6-.6 1.4-2.7 .6-.7 2-4 .7-.6 .7-1.7 .6-.7 .7-1.6 .7-.7 .6-1.7 1.7-2.3 1.3-3 1.4-1.7 1.3-2.6 .7-.7 2.6-4.3 1-1 0-.4 2-2.3 0-.3 1.4-1.4 0-.3 3.5-3.5 .3 0 3-2.3 2.3-.7 .4-.3 4.3 0 8 3.6 .7 .7 3 1.3 .6 .7 1.7 .7 1.7 1.3 1 .3 3 2.4 1.3 .6 1 1 1.3 .7 2.4 2 .3 0 1.7 1.7 1.6 1 1.7 1.6 .3 0 2.7 2.7 .3 0 3.7 3.7 .3 0 12.9 12.8 0 .3 4.6 4.7 0 .3 .9 .5 .1 .5 4.7 4.7 0 .3 12.2 12.2 .3 0 5.3 5 1.4 .7 2.6 2.3 1.4 .7 .6 .6 1 .4 1 1 1.9 .8-.2 .5-1.3 .3-7.4 3.7-.6 .7-1.7 .6-.7 .7-2.6 1.3-8.4 6-4 .4-.3 .3-2.3 0-.4 .3-1.6 0-.4 .4-2.6 0-.4 .3-1.6 0-.4 .3-1.6 0-.4 .4-2 0-.3 .3-1.7 0-.3 .3-1.7 0-.3 .4-2 0-.3 .3-1.7 0-.3 .3-1.7 0-1.3 .7-4 .3-.4 .4-1.3 0-.3 .3-2 0-.4 .3-1.6 0-.4 .4-3.3 .3-.3 .3-1 0-.4 .4-4 .3-.3 .3-3.3 .4-.4 .3-1.3 0-.3 .3-3.7 .4-.3 .3-3 .3-.4 .4-1.3 0-.3 .3-1.4 0-1.3 .7-.3-.4-.4 .4-2.3 .3-1.3 .7-3.7 .6-1.3 .7-1 0-1 .7z"/><path fill="#00ed9c" d="M99.5 949.7l-2-2-.3 0-1-1.4-.4 0-2.6-2.6-.4 0-3-2.7-.3 0-2.7-2-1-.3-.6-.7-2.7-1.3-.7 0-2.3-1-1 0-.3-.4-1.7 0-.3-.3-7.7 0-.3 .3-1.7 0-.3 .4-3 .3-.4 .3-1 0-.3 .4-2 .3-.3 .3-1.4 .4-.1-.2 1.6-1.7 .4-2-.4-.3 0-1-1-2-3-4 9.4-11.3 0-.4 2-2.3 1.3-2.3 1-1 1.3-2.4 1-1 0-.3 4-5.7 .4-1 1.3-1.6 1.7-3.4 .6-.6 1.4-2.7 .6-.7 .7-1.6 .7-.7 .6-1.7 .7-.6 2-4 .7-.7 .6-1.7 1.7-2.3 1.3-3 1.4-1.7 1.3-2.6 .7-.7 2.6-4.3 1-1 0-.4 2-2.3 0-.3 1.4-1.4 0-.3 3.5-3.5 .3 0 3-2.3 2.3-.7 .4-.3 4.3 0 8 3.6 .7 .7 3 1.3 .6 .7 1.7 .7 1.7 1.3 1 .3 3 2.4 1.3 .6 1 1 1.3 .7 2.4 2 .3 0 1.7 1.7 1.6 1 1.7 1.6 .3 0 2.7 2.7 .3 0 3.7 3.7 .3 0 12.9 12.8 0 .3 4.6 4.7 0 .3 .9 .5 .1 .5 4.7 4.7 0 .3 12.2 12.2 .3 0 5.3 5 1.4 .7 2.6 2.3 1.4 .7 .6 .6 1 .4 1 1 1.9 .8-.2 .5-1.3 .3-7.4 3.7-.6 .7-1.7 .6-.7 .7-1 .3-1.3 1-1.7 0-.3 .4-1.7 0-.3 .3-1.7 0-.3 .3-2 0-.3 .4-1.4 0-.3 .3-4.7 .3-.3 .4-1.7 0-.3 .3-1.7 0-.3 .3-2 0-.3 .4-3.7 .3-.3 .3-1.4 0-.3 .4-2 0-.3 .3-1.7 0-.3 .3-3.7 .4-.3 .3-1 0-.4 .3-2 0-.3 .4-2 0-.3 .3-3.7 .3-1.3 .7-2 0-.4 .3-4.3 .4-.3 .3-1 0-.4 .3-2.3 0-.3 .4-1.4 0-.3 .3-4 .3-.3 .4-1.4 0-.3 .3-1.7 0-.3 .3-1.7 0-.3 .4-3.7 .3-.3 .3-1.3 0-.4 .4-1 0-.3 .3-1.7 0-.3 .3-2.7 .4-1.3 .6-3.7 .7-.3 .3-.7 0-2 1-1 0-.3 .4z"/><path fill="#00ed73" d="M95.8 945.7l-.6 0-3.7-3.4-.3 0-1.4-1.3-.3 0-2.7-2-4.3-2.3-.7 0-2.3-1-1 0-.3-.4-1.7 0-.3-.3-7.7 0-.3 .3-1.7 0-.3 .4-3 .3-.4 .3-.1-.5 1.1-.5 1.5-1.8 0-2.3-2.3-3.7-4-4.7 0-.6 7.7-9.7 1.3-2.3 1-1 1.3-2.4 1-1 0-.3 4-5.7 .4-1 1.3-1.6 1.7-3.4 .6-.6 1.4-2.7 .6-.7 .7-1.6 .7-.7 .6-1.7 .7-.6 2-4 .7-.7 .6-1.7 1.7-2.3 1.3-3 1.4-1.7 1.3-2.6 .7-.7 2.6-4.3 1-1 0-.4 2-2.3 0-.3 1.4-1.4 0-.3 3.5-3.5 .3 0 3-2.3 2.3-.7 .4-.3 4.3 0 8 3.6 .7 .7 3 1.3 .6 .7 1.7 .7 1.7 1.3 1 .3 3 2.4 1.3 .6 1 1 1.3 .7 2.4 2 .3 0 1.7 1.7 1.6 1 1.7 1.6 .3 0 2.7 2.7 .3 0 3.7 3.7 .3 0 12.9 12.8 0 .3 4.6 4.7 0 .3 .9 .5 .1 .5 4.7 4.7 0 .3 12.2 12.2 .3 0 5.3 5 1.4 .7 2.6 2.3 3.5 2.2-1.5 .8-2.6 .7-1 .6-2.4 .4-1.3 .6-2 .4-.3 .3-1.4 0-1.3 .7-1.7 0-.3 .3-1 0-.3 .3-1.4 0-.3 .4-2 0-.3 .3-1 0-.4 .3-4.3 .4-.3 .3-3.4 .3-.3 .4-1 0-.3 .3-2 0-.4 .3-1.6 0-.4 .4-4 .3-.3 .3-1 0-.3 .4-1.7 0-.3 .3-1.4 0-.3 .3-4 .4-.3 .3-3.4 .3-.3 .4-1.3 0-.4 .3-4 .3-.3 .4-1.3 0-.4 .3-2.3 0-.3 .3-1.4 0-.3 .4-2.3 0-.4 .3-1.3 0-.3 .3-2.4 0-.3 .4-3.7 .3-.3 .3-2.7 0-.3 .4-1.7 0-.3 .3-1.7 0-.3 .3-2.3 0-.4 .4-1.3 0-.3 .3-1.4 0-.3 .3-3.7 .4-.3 .3-1 0-.3 .3-1 0-.4 .4-2.3 .3-.3 .3-1 0-.4 .4-2.6 .6-1 .7-.7 0-.7 .7z"/><path fill="#00ed4c" d="M90.5 941.7l-5.3-3.7-2.7-1.3-.7 0-2.3-1-1 0-.3-.4-1.7 0-.3-.3-7.7 0 0-.3 .7 0 2-1 1.1-1.2 .4-.7 0-1.6-.7-.7-.3-1-1.4-1.3 0-.4-.5-.1-4-4-.5-.2 0-.3-2.3-2.4-1-1.6 4.7-5.7 1.3-2.3 1-1 1.3-2.4 1-1 0-.3 4-5.7 .4-1 1.3-1.6 1.7-3.4 .6-.6 1.4-2.7 .6-.7 .7-1.6 .7-.7 .6-1.7 .7-.6 2-4 .7-.7 .6-1.7 1.7-2.3 1.3-3 1.4-1.7 1.3-2.6 .7-.7 2.6-4.3 1-1 0-.4 2-2.3 0-.3 1.4-1.4 0-.3 3.5-3.5 .3 0 3-2.3 2.3-.7 .4-.3 4.3 0 8 3.6 .7 .7 3 1.3 .6 .7 1.7 .7 1.7 1.3 1 .3 .6 .7 1.4 .7 1 1 3.6 2.3 1 1 1.7 1 1.7 1.7 1.6 1 4.7 4.3 .3 0 3.7 3.7 .3 0 6.9 6.8 6 6 0 .3 4.6 4.7 0 .3 1 .7 0 .3 4.7 4.7 0 .3 12.2 12.2 .3 0 3 3 .3 0 2.9 2.5-1.2 1.2-2.7 1.3-.6 0-1.7 1-.3-.3-1 .6-1 0-1.4 .7-1.3 0-1.3 .7-1.4 0-.3 .3-1 0-.3 .3-3.7 .4-.3 .3-1.4 0-.3 .3-1 0-.3 .4-3.7 .3-.3 .3-3.4 .4-.3 .3-1.3 0-.4 .3-3.6 .4-.4 .3-1 0-.3 .3-2 0-.3 .4-1 0-.4 .3-2 0-.3 .3-1.3 0-.4 .4-1.6 0-.4 .3-1.6 0-.4 .3-3.6 .4-.4 .3-1.3 0-.3 .3-2.4 0-.3 .4-2 0-.3 .3-3.7 .3-.3 .4-5.4 .3-.3 .3-4.7 .4-.3 .3-3 0-.3 .3-2 0-.4 .4-2.6 0-.4 .3-2 0-.3 .3-2.3 0-.4 .4-4 .3-.3 .3-3 .4-.3 .3-2.4 .3-1 .7-1 0-3.3 1.7-1 1z"/><path fill="#00ed25" d="M101.8 931.3l-10.3 0-.3-.3-2 0-.4-.3-1 0-.3-.4-1.7-.3-2.6-1.3-1.7-1.4-1-.3-1-1-5.3-3.3-1-1-1-.4-3-2.6-.4 0-3.8-4.2 1.7-2 1.3-2.3 1-1 1.3-2.4 1-1 0-.3 4-5.7 .4-1 1.3-1.6 1.7-3.4 .6-.6 1.4-2.7 .6-.7 2-4 .7-.6 .7-1.7 .6-.7 .7-1.6 .7-.7 .6-1.7 1.7-2.3 1.3-3 1.4-1.7 1.3-2.6 .7-.7 2.6-4.3 1-1 0-.4 2-2.3 0-.3 1.4-1.4 0-.3 3.5-3.5 .3 0 3-2.3 2.3-.7 .4-.3 4.3 0 8 3.6 .7 .7 3 1.3 .6 .7 1.7 .7 1.7 1.3 1 .3 3 2.4 1.3 .6 1 1 1.3 .7 2.4 2 .3 0 1.7 1.7 1.6 1 1.7 1.6 .3 0 2.7 2.7 .3 0 3.7 3.7 .3 0 12.9 12.8 0 .3 4.6 4.7 0 .3 .9 .5 .1 .5 4.7 4.7 0 .3 12.2 12.2 .3 0 1.2 1.2 0 .3-.5 .2-.2 .5-1.2 .8-2 1-.6 0-.7 .7-1 0-2 1-1 0-.3 .3-1 0-.4 .3-1 0-.3 .4-1.3 0-.4 .3-1 0-.3 .3-3 .4-.3 .3-1.7 0-.3 .3-3 .4-.4 .3-2.6 .3-.4 .4-4 .3-.3 .3-1.3 0-.4 .4-1.3 0-.3 .3-1.7 0-.3 .3-1.4 0-.3 .4-1.7 0-.3 .3-1.3 0-.4 .3-1.3 0-.3 .4-4.4 .3-.3 .3-1.3 0-.4 .4-4.6 .3-.4 .3-2.3 0-.3 .4-2 0-.4 .3-5.6 .3-.4 .4-2.3 0-.3 .3-.4-.3-.3 .3-3 0-.3 .3-.4-.3-.3 .3-3.7 0-.3 .4-10.3 .3-.4 .3z"/><path fill="#01ed00" d="M114.8 925.3l-13.6 0-.4-.3-3.3 0-.3-.3-2 0-.4-.4-3.3-.3-.3-.3-2-.4-2.4-1-1 0-1.6-1-2.4-.6-.6-.7-3.7-1.7-.7-.6-.6 0-1-1-1-.4-1-1-1-.3-.2-.5-.5-.2-3.5-3.5 0-.6 3.3-4.4 0-.3 4-5.7 .4-1 1.3-1.6 1.7-3.4 .6-.6 1.4-2.7 .6-.7 2-4 .7-.6 .7-1.7 .6-.7 .7-1.6 .7-.7 .6-1.7 1.7-2.3 1.3-3 1.4-1.7 1.3-2.6 .7-.7 2.6-4.3 1-1 0-.4 2-2.3 0-.3 1.4-1.4 0-.3 3.5-3.5 .3 0 3-2.3 2.3-.7 .4-.3 4.3 0 8 3.6 .7 .7 3 1.3 .6 .7 1.7 .7 1.7 1.3 1 .3 3 2.4 1.3 .6 1 1 1.3 .7 2.4 2 .3 0 1.7 1.7 1.6 1 1.7 1.6 .3 0 2.7 2.7 .3 0 3.7 3.7 .3 0 12.9 12.8 0 .3 4.6 4.7 0 .3 .9 .5 .1 .5 4.7 4.7 0 .3 9.3 9.4-.5 .8-3.3 2-.7 0-1 .7-.6 0-2 1-.4-.4-2 1-3 .4-.3 .3-1 0-.3 .3-1.7 0-.3 .4-1 0-.4 .3-1.3 0-.3 .3-1.4 0-.3 .4-3 .3-.3 .3-2 0-.4 .4-1.3 0-.3 .3-1.7 0-.3 .3-1.4 0-.3 .4-1.3 0-.4 .3-1.6 0-.4 .3-3 .4-.3 .3-1.7 0-.3 .3-4 .4-.3 .3-4.7 .3-.3 .4-2 0-.4 .3-.3-.3-.3 .3-2.4 0-.3 .3-3.3 0-.4 .4-3.3 0-.3 .3-6 0-.4 .3z"/><path fill="#27ed00" d="M115.5 920.3l-.7 0-.3-.3-1 0-.3 .3-.7 0-.3-.3-1 .3-.7-.3-.3 .3-.4-.3-6.6 0-.4-.3-3.3 0-.3-.4-4-.3-.4-.3-2.6-.4-1.4-.6-1.3 0-1.3-.7-.7 0-1-.7-1 0-3.3-1.6-.7 0-.7-.7-2-.7-1.6-1.3-.7 0-1-1-1.3-.7-1.7-1.6-.3 0-.2-.5-.8-.5-.5-.9 0-.3 4.6-6.7 .4-1 1.3-1.6 1.7-3.4 .6-.6 1.4-2.7 .6-.7 2-4 .7-.6 .7-1.7 .6-.7 .7-1.6 .7-.7 .6-1.7 1.7-2.3 1.3-3 1.4-1.7 1.3-2.6 .7-.7 2.6-4.3 1-1 0-.4 2-2.3 0-.3 1.4-1.4 0-.3 3.5-3.5 .3 0 3-2.3 2.3-.7 .4-.3 4.3 0 8 3.6 .7 .7 3 1.3 .6 .7 1.7 .7 1.7 1.3 1 .3 3 2.4 1.3 .6 1 1 1.3 .7 2.4 2 .3 0 1.7 1.7 1.6 1 1.7 1.6 .3 0 2.7 2.7 .3 0 3.7 3.7 .3 0 12.9 12.8 0 .3 4.6 4.7 0 .3 1 .7 0 .3 4.7 4.7 0 .3 5.3 5.4-.5 .8-.3 0-1.7 1.3-1.3 .4-.7 .6-.6 0-1 .7-1 0-1.4 .7-3.6 .6-1.4 .7-1.6 0-.4 .3-1 0-.3 .4-1.3 0-.4 .3-3 .3-.3 .4-2 0-.3 .3-1.4 0-.3 .3-1.7 0-.3 .4-3 .3-.3 .3-3.7 .4-.3 .3-1 0-.4 .3-2 0-.3 .4-4.3 .3-.4 .3-1.6 0-.4 .4-2.6 0-.4 .3-5.6 .3-.4 .4-4 0-.3 .3-6.7 0-.3 .3z"/><path fill="#4bed00" d="M118.5 915.3l-1 0-.3-.3-.7 0-.3 .3-5.7 0-.3-.3-.4 .3-.3-.3-.3 .3-.4-.3-4.3 0-.3-.3-3 0-.4-.4-2 0-.3-.3-1.7 0-.3-.3-1.3 0-.4-.4-1.3 0-.3-.3-1.4 0-.3-.3-.7 0-1.3-.7-1 0-1-.7-1.7-.3-1-.7-1.6-.3-1.4-1-.6 0-1.4-.7-.6-.6-1-.4-.7-.6-1.3-.7-2-2-.4 0-.5-.8 0-.7 3.7-5.3 1.7-3.4 .6-.6 1.4-2.7 .6-.7 2-4 .7-.6 .7-1.7 .6-.7 .7-1.6 .7-.7 .6-1.7 1.7-2.3 1.3-3 1.4-1.7 1.3-2.6 .7-.7 2.6-4.3 1-1 0-.4 2-2.3 0-.3 1.4-1.4 0-.3 3.5-3.5 .3 0 3-2.3 2.3-.7 .4-.3 4.3 0 8 3.6 .7 .7 3 1.3 .6 .7 1.7 .7 1.7 1.3 1 .3 3 2.4 1.3 .6 1 1 1.3 .7 2.4 2 .3 0 1.7 1.7 1.6 1 1.7 1.6 .3 0 2.7 2.7 .3 0 3.7 3.7 .3 0 12.9 12.8 0 .3 4.6 4.7 0 .3 1 .7 0 .3 6.4 6.7-2.5 1.8-.7 0-3.3 1.7-1 0-2.4 1-1.3 0-1.3 .7-1.4 0-.3 .3-1 0-.3 .3-3.7 .4-.3 .3-1.4 0-.3 .3-1 0-.3 .4-3.7 .3-.3 .3-3.4 .4-.3 .3-1.7 0-.3 .3-1.7 0-.3 .4-1.7 0-.3 .3-2 0-.3 .3-1.7 0-.3 .4-5.4 .3-.3 .3-3 0-.3 .4-3 0-.4 .3-6 0-.3 .3z"/><path fill="#6fed00" d="M122.2 910.3l-14.7 0-.3-.3-6.7-.3-.3-.4-1.4 0-.3-.3-1.7 0-.3-.3-1.3 0-.4-.4-1 0-.3-.3-1.3 0-1.4-.7-1 0-1-.6-2-.4-1.6-1-.7 0-.7-.6-.6 0-2-1-3.7-2.7-.3 0-1.5-1.5 0-.7 1.3-1.6 1.7-3.4 .6-.6 1.4-2.7 .6-.7 .7-1.6 .7-.7 .6-1.7 .7-.6 2-4 .7-.7 .6-1.7 1.7-2.3 1.3-3 1.4-1.7 1.3-2.6 .7-.7 2.6-4.3 1-1 0-.4 2-2.3 0-.3 1.4-1.4 0-.3 3.5-3.5 .3 0 3-2.3 2.3-.7 .4-.3 4.3 0 4.7 2.3 .6 0 2.7 1.3 .7 .7 3 1.3 .6 .7 1.7 .7 1.7 1.3 1 .3 .6 .7 1.4 .7 3.3 2.6 1.3 .7 1 1 1.7 1 1.7 1.7 1.6 1 1.7 1.6 .3 0 6.7 6.4 .3 0 12.9 12.8 0 .3 8.3 8.7-1.2 1.2-3.3 1.6-.7 0-1 .7-1 0-.3 .3-2.3 .4-.4 .3-1 0-1.3 .7-1.3 0-.4 .3-1.3 0-.3 .3-1.4 0-.3 .4-1.3 0-.4 .3-1.3 0-.3 .3-2 0-.4 .4-1.3 0-.3 .3-1.7 0-.3 .3-2 0-.4 .4-1 0-.3 .3-2.3 0-.4 .3-2 0-.3 .4-1.7 0-.3 .3-.3-.3-.4 .3-4.6 .3-.4 .4-.3-.4-.3 .4-2.4 0-.3 .3-5 0-.3 .3z"/><path fill="#92ed00" d="M122.2 905.7l-.7 0-.3-.4-.7 .4-11.3 0-.4-.4-4 0-.3-.3-5-.3-.3-.4-1 0-.4-.3-3.3-.3-2.3-1-2.4-.4-1-.6-2.3-.7-1.7-1-.6 0-1.4-.7-1.6-1.3-1.7-.7-.3-.6-1.5-.9 1-2 .6-.6 .4-1 .6-.7 .4-1 .6-.7 .7-1.6 .7-.7 .6-1.7 .7-.6 .7-1.7 .6-.7 .7-1.6 .7-.7 .6-1.7 1.7-2.3 1.3-3 1.4-1.7 1.3-2.6 .7-.7 2.6-4.3 1-1 0-.4 2-2.3 0-.3 1.4-1.4 0-.3 3.5-3.5 .3 0 3-2.3 2.3-.7 .4-.3 4.3 0 4.7 2.3 .6 0 2.7 1.3 .7 .7 3 1.3 .6 .7 1.7 .7 1.7 1.3 1 .3 .6 .7 1.4 .7 3.3 2.6 1.3 .7 1 1 1.7 1 1.7 1.7 1.6 1 1.7 1.6 .3 0 6.7 6.4 .3 0 17.5 17.8-.1 .8-3.4 1.7-.6 0-.4 .3-1.6 .4-2.4 1-2.6 .3-1.4 .7-1.6 0-.4 .3-2.6 .3-.4 .4-2 0-.3 .3-1.7 0-.3 .3-1.7 0-.3 .4-3.7 .3-.3 .3-1.7 0-.3 .4-2 0-.3 .3-2.4 0-.3 .3-2 0-.3 .4-.4-.4-.3 .4-2 0-.3 .3-3.4 0-.3 .3-4 0-.3 .4z"/><path fill="#b4ed00" d="M121.2 901l-11.4 0-.3-.3-.3 .3-.4-.3-3.6 0-.4-.4-2.3 0-.3-.3-4-.3-.4-.4-3.6-.6-1.4-.7-1 0-1-.7-2-.3-1.6-1-.7 0-2-1-.7-.7-2.3-1-.7-.6-1.1-.5 1.6-2.4 .7-1.6 .7-.7 .6-1.7 .7-.6 2-4 .7-.7 .6-1.7 1.7-2.3 1.3-3 1.4-1.7 1.3-2.6 .7-.7 2.6-4.3 1-1 0-.4 2-2.3 0-.3 4.9-5.2 .3 0 3-2.3 2.3-.7 .4-.3 4.3 0 .3 .3 .7 0 10.7 5.3 .6 .7 1.7 .7 1.7 1.3 1 .3 .6 .7 1.4 .7 1 1 1.3 .6 1 1 .3 0 3.4 2.7 .3 0 1.7 1.7 1.6 1 1.7 1.6 .3 0 2.7 2.7 .3 0 10.9 10.5 6 6 0 .3 1.3 1.4-.8 .1-.7 .7-1.3 .7-.7 0-.7 .6-.3-.3-1.7 1-1.3 0-2.3 1-1.4 0-.3 .3-1.3 0-.4 .4-1.3 0-.3 .3-1.4 0-.3 .3-1 0-.3 .4-4.7 .3-.3 .3-1.4 0-.3 .4-1.3 0-.4 .3-.3-.3-.3 .3-4.4 .3-.3 .4-2 0-.3 .3-.4-.3-.3 .3-2.3 0-.4 .3-3.3 0-.3 .4-4.7 0-.3 .3z"/><path fill="#d5ed00" d="M121.5 896.3l-11.7 0-.3-.3-.3 .3-.4-.3-3.6 0-.4-.3-2 0-.3-.4-1.7 0-.3-.3-.3 .3-.4-.3-1 0-.3-.3-1.7 0-1.3-.7-2.3-.3-1.4-.7-.6 0-1.7-1-1 0-1.7-1-.6 0-1.4-.7-.6-.6-1.7-.7-.5-.5 1.3-2.7 .7-.6 .7-1.7 .6-.7 .7-1.6 .7-.7 .6-1.7 1.7-2.3 1.3-3 1.4-1.7 1.3-2.6 .7-.7 2.6-4.3 1-1 0-.4 2-2.3 0-.3 4.9-5.2 .3 0 3-2.3 2.3-.7 .4-.3 4.3 0 .3 .3 .7 0 10.7 5.3 .6 .7 1.7 .7 1.7 1.3 1 .3 .6 .7 1.4 .7 1 1 1.3 .6 1 1 .3 0 3.4 2.7 .3 0 1.7 1.7 1.6 1 1.7 1.6 .3 0 6.7 6.4 .3 0 10.5 10.5-.5 .5-2 1-.6 0-1.7 1-.3-.4-1 .7-1 0-1.4 .7-2.6 .3-.4 .3-1.3 0-.3 .4-2.7 .3-.3 .3-4.4 .4-.3 .3-1.7 0-.3 .3-1.7 0-.3 .4-2.3 0-.4 .3-2.6 0-.4 .3-2.6 0-.4 .4-3 0-.3 .3-4.7 0-.3 .3z"/><path fill="#edea00" d="M123.2 891.7l-14.7 0-.3-.4-6-.3-.4-.3-1.3 0-.3-.4-3-.3-1.4-.7-.3 .4-1.3-.7-1 0-1-.7-1.7-.3-1-.7-.7 0-2-1-.6 0-.7-.6-.7 0-.8-.5 .7-1.7 .6-.7 .7-1.6 .7-.7 .6-1.7 1.7-2.3 1.3-3 1.4-1.7 1.3-2.6 .7-.7 2.6-4.3 1-1 0-.4 2-2.3 0-.3 1.4-1.4 0-.3 3.5-3.5 .3 0 1-1 2.7-1.7 .6 0 1.4-.6 4.3 0 4.7 2.3 .6 0 2.7 1.3 .7 .7 3 1.3 .6 .7 1.7 .7 1.7 1.3 1 .3 .6 .7 1.4 .7 3.3 2.6 1.3 .7 1 1 1.7 1 1.7 1.7 1.6 1 4.7 4.3 .3 0 3.7 3.7 .3 0 6.9 6.8-1.5 .5-.7 .7-1.7 .3-1 .7-3.6 .6-1 .7-1.4 0-.3 .3-1.3 0-.4 .4-3 .3-.3 .3-2.3 0-.4 .4-2 0-.3 .3-1.7 0-.3 .3-2.7 0-.3 .4-2.3 0-.4 .3-7.3 .3-.3 .4z"/><path fill="#edd600" d="M117.5 887.3l-1 0-.3-.3-.7 .3-.7-.3-.6 .3-.7-.3-.3 .3-.4-.3-5.3 0-.3-.3-2.7 0-.3-.4-2 0-.4-.3-.3 .3-.3-.3-1 0-.4-.3-2.6-.4-.4-.3-.3 .3-1-.6-1 0-1.3-.7-1 0-.4-.3-3.6-1-2.2-1.2 1.3-2.7 1.7-2.3 1.3-3 2.4-3.3 .3-1 .7-.7 2.6-4.3 1-1 0-.4 2-2.3 0-.3 1.4-1.4 0-.3 4.8-4.5 .3 0 1.7-1.3 2.3-.7 .4-.3 4.3 0 .3 .3 .7 0 3.7 2 .6 0 2.7 1.3 .7 .7 3 1.3 .6 .7 1.7 .7 1.7 1.3 1 .3 3 2.4 1.3 .6 1 1 1.3 .7 2.4 2 .3 0 3 2.7 .3 0 11.9 10.8-1.2 .5-.7 .7-1.6 .3-1 .7-1 0-.4 .3-2 .3-1.3 .7-1.3 0-.4 .3-1.3 0-.3 .4-1.4 0-.3 .3-4 .3-.3 .4-2.4 0-.3 .3-2.3 0-.4 .3-.3-.3-.3 .3-2.7 0-.3 .4-3.4 0-.3 .3-6.7 0-.3 .3z"/><path fill="#edbb00" d="M121.2 882.7l-10.7 0-.3-.4-4 0-.4-.3-.6 .3-.4-.3-2.3 0-.3-.3-1 0-.4-.4-1.6 0-.4-.3-2.6-.3-1.4-.7-.3 .3-1.3-.6-1 0-.7-.7-1 0-.3-.3-1.7-.4-.5-.5 1-1.3 1.3-3 2.4-3.3 .3-1 .7-.7 2.6-4.3 1-1 0-.4 2-2.3 0-.3 1.4-1.4 0-.3 4.8-4.5 .3 0 1.7-1.3 2.3-.7 .4-.3 4.3 0 .3 .3 .7 0 3.7 2 .6 0 2.7 1.3 .7 .7 5.3 2.7 1.7 1.3 1 .3 .6 .7 1.4 .7 1 1 1.3 .6 1 1 .3 0 3.4 2.7 .3 0 1.7 1.7 1.6 1 1.7 1.6 .3 0 5.5 5.2-.5 .5-2 1-.6 0-1 .7-1 0-1.4 .6-1 0-.3 .4-1 0-.3 .3-1 0-.4 .3-1.3 0-.3 .4-1.4 0-.3 .3-2 0-.3 .3-5 .4-.4 .3-3.3 0-.3 .3-4.7 0-.3 .4z"/><path fill="#ed9e00" d="M116.2 878.3l-.7-.3-.7 .3-.6-.3-.7 .3-.3-.3-5.7 0-.3-.3-5.7-.4-.3-.3-1.4 0-.3-.3-.3 .3-1.4-.7-3-.3-1-.7-.6 .4-.4-.4-1.6-.3-1.2-.8 6.3-10 1-1 0-.4 2-2.3 0-.3 1.4-1.4 0-.3 4.8-4.5 .3 0 1.7-1.3 2.3-.7 .4-.3 4.3 0 .3 .3 .7 0 10.7 5.3 .6 .7 1.7 .7 1.7 1.3 1 .3 3 2.4 1.3 .6 1 1 1.3 .7 8.9 7.2 0 .3-.9 .8-2.6 1.4-1 0-.4 .3-.6 0-1.4 .7-1 0-.3 .3-1.7 0-.3 .3-3 .4-.3 .3-2 0-.4 .3-3 0-.3 .4-3 0-.3 .3-.4-.3-.6 .3-6.7 0-.3 .3z"/><path fill="#ed7e00" d="M120.5 873.7l-12 0-.3-.4-4 0-.4-.3-2 0-.3-.3-2.3 0-1.4-.7-1.3 0-.3-.3-.4 .3-.3-.3-1 0-.3-.4-2.2-.5 .7-.6 .3-1 .7-.7 2.6-4.3 1-1 0-.4 2-2.3 0-.3 1.4-1.4 0-.3 4.8-4.5 .3 0 1.7-1.3 2.3-.7 .4-.3 4.3 0 8 3.6 .7 .7 3 1.3 .6 .7 1.7 .7 1.7 1.3 1 .3 .6 .7 1.4 .7 1 1 1.3 .6 1 1 .3 0 3.4 2.7 .3 0 1.2 1.2-.4 .6-1.5 1.2-2.3 .7-1 .6-1 0-.3 .4-1 0-.4 .3-1 0-.3 .3-3.7 .4-.3 .3-.3-.3-.4 .3-2.3 0-.3 .3-4.4 0-.3 .4z"/><path fill="#ed5c00" d="M115.2 869.3l-4.4 0-.3-.3-.3 .3-.4-.3-5.3 0-.3-.3-4.7-.4-.3-.3-3.4-.3-.3-.4-1.2-.1 1.4-1.7 .6-1.3 3-3.7 0-.3 1.4-1.4 0-.3 3.5-3.5 .3 0 3-2.3 2.3-.7 .4-.3 4.3 0 4.7 2.3 .6 0 2.7 1.3 .7 .7 3 1.3 .6 .7 1.7 .7 1.7 1.3 1 .3 3 2.4 1.3 .6 .5 .9-1.5 1.8-1.3 .7-2.7 .6-.3 .4-1.4 0-.3 .3-1.3 0-.4 .3-1.3 0-.3 .4-3 0-.4 .3-6.3 0-.3 .3z"/><path fill="#ed3800" d="M117.2 864.7l-11.7 0-.3-.4-3 0-.4-.3-2.3 0-.3-.3-.7 .3-.3-.3-1.2-.2 2.3-3 0-.3 1.4-1.4 0-.3 3.5-3.5 .3 0 3-2.3 2.3-.7 .4-.3 4.3 0 .3 .3 .7 0 10.7 5.3 .6 .7 1 .3 1.5 1.5 0 1.4-2.8 1.8-1 0-.3 .3-2.4 .4-.3 .3-1.3 0-.4 .3-.3-.3-.3 .3-2.7 0-.3 .4z"/><path fill="#ed1300" d="M114.2 860l-11.4 0-.3-.3-2.5-.2 .7-.7 0-.3 3.5-3.5 .3 0 3-2.3 2.3-.7 .4-.3 4.3 0 .3 .3 .7 0 5.3 2.7 1.5 1.5 0 1.3-1.8 1.2-.7 0-1.3 .6-4 .4-.3 .3z"/></g>
<path d="M152.2 963.7l-18.7 4.5-6.9 2.1-4.7 1.9M159.6 957.6l-23.3 4.6-19.6 5.2M42.6 942.5l-.4-1.2M166.1 951.8l-29.1 5.2-24.9 5.8M48 940.8l0-2.1-1-2.6M172.7 946l-16 2.3-21.6 4-16.4 3.3-10.8 2.7M53.1 939l.8-1.5 0-1.8-2.4-4.6M179.9 939.9l-19.9 2.9-34.1 5.9-12.9 2.6-9.3 2.5M58.4 937.3l1.6-1.9 .1-2.2-1-2.2-3.3-4.8M190 932.7l-73.6 12.2-9.5 2-7.6 2.4M64.1 935.7l2.8-2 .4-1.2-.1-1.3-1.4-2.6-6-7.2M199.1 923l-5.6 2.5-10 2.5-40.3 7.1-34.8 5.3-8 1.8-6.1 2.4M71.8 934.7l4.8-1.6 .8-1.1-.2-1.6-2.2-2.8-8.3-7.2-3.2-3.7M192.2 917.7l-2 1.6-3.2 1.5-10.1 2.7-38.9 7-41.4 4.9-5.6 1.5-1.8 1-1.6 1.5M186.8 912.8l-3.5 2.5-6.1 2.2-28.5 5.6-23.1 3.3-11.7 .8-10.2 .3-10.5-.8-8.3-2.4-5.6-2.8-5.7-3.4-4-3.1-2.6-2.9M182 908.2l-3.3 2.3-5.3 1.9-21 4.4-22.2 3.4-9.8 .8-9.5 .2-12.6-.8-5.5-1-5.2-1.4-5.6-2.2-4.9-2.5-3.9-2.7-3-3M177.6 903.6l-3.3 2.1-4.6 1.7-16.4 3.6-22 3.4-9.3 .7-8.8 .3-12.5-.8-11.1-2.4-5.2-1.8-4.6-2.2-3.7-2.5-2.9-2.5M173.3 899.1l-2.9 1.8-4.3 1.6-13.1 2.9-21.7 3.3-16.9 1-12.1-.7-10.4-2.1-9-3.4-3.5-2.1-3.4-2.6M169.1 894.6l-3.2 1.7-4 1.5-12 2.6-19.5 2.8-15.6 .9-11.1-.6-9.8-1.9-8.3-2.9-7-4.1M164.9 890.1l-6.8 2.9-11.1 2.4-17.5 2.4-14 .8-10.2-.5-9.2-1.6-7.9-2.5-7.1-3.7M160.5 885.6l-6.6 2.7-9.8 2.1-15.5 2-12.5 .7-9.2-.3-8.6-1.3-7.7-2.2-7.1-3.1M155.9 881l-5.5 2.3-8.8 2-12.9 1.7-11.9 .7-8.4-.2-8.1-1.1-7.3-1.8-7.1-2.6M150.9 876.2l-4.6 2.2-7.3 1.8-10.1 1.4-10.6 .7-8.3-.1-7.7-.8-7.1-1.4-7-2.2M145.3 871.4l-3 1.9-5.6 1.7-7.7 1.2-9.4 .8-8 0-7-.5-7.1-1.1-6.8-1.8M139 866.2l-.4 1-1 .8-3.7 1.6-5.6 1.2-7.1 .7-7.4 .3-7.2-.3-6.7-.8-6.6-1.4M131.1 860.7l.5 .8 0 .9-1.6 1.5-3.4 1.2-5.1 .9-12.6 .4-12.8-1.4M117.5 853.4l5.2 2.7 .9 1.1-.3 1.2-3.1 1.5-5.8 1-7.6 .1-7.3-.6" fill="none" stroke="#000" stroke-opacity="0.45" stroke-width="0.3"/>
<path d="M144.4 863.7h0M155.4 910.4h0M123 981.4h0M74.3 931.3h0M122.6 950.1h0M82.6 925.9h0M41.6 934.2h0M124.3 859.6h0M192 922.7h0M96 899h0M163.2 888.9h0M70.6 897.3h0M154.7 903.5h0M68.6 938.8h0M88 879.2h0M84 953.5h0M143.6 951.7h0M79.5 880.1h0M56.2 905.5h0M135.9 987.1h0M129.7 853.4h0M113.8 941.8h0M113.8 895.2h0M133.1 847.4h0M159.5 964.3h0M139 843.5h0M143.6 919.5h0M152.6 947.9h0M105.3 874.3h0M58.1 913.1h0M96.6 884.6h0M162.7 952.8h0M118.4 854.6h0M72.6 902.9h0M100.5 922.4h0M95.6 974.4h0M128.8 908.3h0M139.4 884.1h0M84.2 899.2h0M89.2 956.6h0M134.4 906.8h0M102.6 933.9h0M99 893.9h0M88.1 851.2h0M101.8 890.7h0M64.1 909.5h0M147.5 941.7h0M132.4 928.6h0M80.3 895.1h0M123.8 877.9h0M124.2 908.6h0M197.6 908.2h0M143.5 970.1h0" stroke="#000" stroke-width="2.3" stroke-linecap="round"/></g>
<g><path d="M320.6 151.8L344.3 145.2L459.6 139.3M319.9 137.9L343.6 131.3L458.9 125.4M319.2 124.6L342.9 118L458.2 112.1M318.5 111.3L342.2 104.7L457.5 98.8M317.8 97.5L341.5 90.9L456.8 85M317.1 83.6L340.8 77L456.1 71.1M316.4 69.7L340.1 63.1L455.4 57.2M315.7 55.8L339.4 49.2L454.7 43.3M332.7 162.8L356.4 156.2L350.5 40.5M355.8 161.6L379.5 155L373.6 39.3M378.9 160.4L402.6 153.8L396.7 38.1M401.9 159.3L425.6 152.7L419.7 37M425 158.1L448.7 151.5L442.8 35.8M437.8 157.1L322.5 163L316.6 47.3M443.1 155.7L327.8 161.6L321.9 45.9M448.4 154.2L333 160.1L327.1 44.4M453.6 152.7L338.3 158.6L332.4 42.9M458.9 151.3L343.6 157.2L337.7 41.5" stroke="#dcdcdc" stroke-width="0.4" fill="none" stroke-dasharray="1 .6"/>
<path d="M321.2 163.4L315.3 47.7M344.9 156.8L339 41.1M460.2 150.9L454.3 35.2M315.3 47.7L339 41.1M339 41.1L454.3 35.2M321.2 163.4L436.5 157.5M436.5 157.5L460.2 150.9" stroke="#a8a8a8" stroke-width=".55" fill="none"/>
<path d="M321.2 163.4L344.9 156.8M344.9 156.8L460.2 150.9" stroke="#9a9ad8" stroke-width=".55" fill="none"/>
<g fill-rule="evenodd"><path fill="#0013ed" d="M435.2 139.3l-12 0-.4-.3-4.3 0-.3-.3-3 0-.4-.4-2.3 0-.3-.3-4-.3-.4-.4-1.3 0-.3-.3-1.7 0-.3-.3-1 0-.4-.4-3-.3-.3-.3-3.7-.7-1.3-.7-1 0-1.3-.6-1 0-.4-.4-.6 0-.4-.3-.6 0-2.4-1-2.6-.7-1-.6-1.7-.4-1-.6-1.7-.4-2.6-1.3-.7 0-2.3-1.3-.7 0-3.7-2-.6 0-6-3-.7-.7-3.7-1.7-.6-.6-1.7-.7-2.3-1.7-3.4-1.6-4.6-3.4-1-.3-.7-.7-2.3-1.3-2-1.7-1-.3-5-4-1-.3-1.4-1.4-1.6-1-1.4-1.3-.3 0-2.7-2.3-.3 0-1.7-1.7-1.6-1-2-2-.4 0-1.5-1.5 0-.3 21.7-43.4 .2-.1 1.6 1 4.4 3.6 1.3 .7 2.3 2 .4 0 2.3 2 1 .3 1 1 1.3 .7 1 1 .4 0 6.6 4.7 1 .3 4.7 3.3 1 .4 .7 .6 1 .4 .6 .6 1 .4 2.4 1.6 1 .4 .6 .6 3 1.4 .7 .6 2.3 1 .7 .7 10.7 5.3 .6 0 1.7 1 .7 0 2.3 1.4 .7 0 4 2 .6 0 2.7 1.3 1 0 1 .7 2.7 .6 1 .7 .6 0 .4 .3 1.6 .4 1.4 .6 1 0 2.3 1 1 0 1.3 .7 2.4 .3 .3 .4 1 0 .3 .3 1 0 .4 .3 1 0 .3 .4 1.7 0 .3 .3 1 0 .3 .3 1.7 0 .3 .4 1.4 0 .3 .3 1.7 0 .3 .3 2.3 0 .4 .4 2.3 0 .3 .3 3 0 .4 .3 10.3 0 .2 .5-.7 1-.3 1.7-.7 1-.3 1.7-1 1.6-.4 1.7-1.3 2.7 0 .6-1 1.7 0 .7-1 1.6 0 .7-1 1.7 0 .6-1.7 3 0 .7-4 8-.6 .7-1 2.3-1.4 1.7-.3 1-2.7 3.3 0 .3-2.1 2.2-.7 0-.3 .3z"/><path fill="#0038ed" d="M408.2 137.3l-1.7 0-.3-.3-1.7 0-.3-.3-1 0-.4-.4-1.3 0-.3-.3-1.4 0-.3-.3-3.7-.7-1.3-.7-1 0-1.3-.6-1 0-.4-.4-.6 0-.4-.3-.6 0-2.4-1-2.6-.7-1-.6-1.7-.4-1-.6-.7 0-2-1-.6 0-1-.7-.7 0-2.3-1.3-.7 0-3.7-2-.6 0-6-3-.7-.7-3.7-1.7-.6-.6-1.7-.7-2.3-1.7-3.4-1.6-4.6-3.4-1-.3-.7-.7-2.3-1.3-2-1.7-1-.3-1-1-1.7-1-2.3-2-1-.3-1.4-1.4-.3 0-2.7-2.3-1.6-1-3.4-3-1.6-1-3.9-3.5 21.9-43.8 1.6 1 1.4 1.3 .3 0 2.7 2.3 1.3 .7 2.3 2 .4 0 2.3 2 1 .3 3.3 2.7 .4 0 6.6 4.7 1 .3 4.7 3.3 1 .4 .7 .6 1 .4 .6 .6 1 .4 2.4 1.6 1 .4 .6 .6 6 3 .7 .7 10.7 5.3 .6 0 1.7 1 .7 0 2.3 1.4 .7 0 4 2 .6 0 2.7 1.3 1 0 1 .7 2.7 .6 1 .7 .6 0 .4 .3 1.6 .4 1.4 .6 1 0 2.3 1 1 0 1.3 .7 2.4 .3 .3 .4 1 0 .3 .3 1 0 .4 .3 1 0 .3 .4 1.7 0 .3 .3 1 0 .3 .3 1.7 0 .3 .4 1.4 0 .3 .3 1.7 0 .3 .3 5 .4 .3 .3 3 0 .4 .3 10.5 .2-.7 1.3-.3 1.7-.7 1-.3 1.7-1 1.6-.4 1.7-1.3 2.7 0 .6-1 1.7 0 .7-1 1.6 0 .7-1 1.7 0 .6-1.7 3 0 .7-5.6 11-2.9 4.2-2.6 0-.4 .3-5 0-.3 .3-4.3 0-.4 .4-4 0-.3 .3-4 0-.3 .3-3.4 0-.3 .4-6 .3-.3 .3z"/><path fill="#005eed" d="M396.5 135l-7.3-2-2.4-1-2.6-.7-1-.6-1.7-.4-1-.6-1.7-.4-2.6-1.3-.7 0-6.7-3.3-.6 0-6-3-.7-.7-3.7-1.7-.6-.6-1.7-.7-2.3-1.7-3.4-1.6-4.6-3.4-1-.3-.7-.7-2.3-1.3-2-1.7-1-.3-1-1-1.7-1-2.3-2-1-.3-1.4-1.4-.3 0-2.7-2.3-1.6-1-3.4-3-1.6-1-3.9-3.5 21.9-43.8 1.6 1 1.4 1.3 .3 0 2.7 2.3 1.3 .7 2.3 2 .4 0 2.3 2 1 .3 3.3 2.7 .4 0 6.6 4.7 1 .3 4.7 3.3 1 .4 .7 .6 1 .4 .6 .6 1 .4 2.4 1.6 1 .4 .6 .6 6 3 .7 .7 10.7 5.3 .6 0 1.7 1 .7 0 2.3 1.4 .7 0 4 2 .6 0 2.7 1.3 1 0 1 .7 2.7 .6 1 .7 .6 0 .4 .3 1.6 .4 1.4 .6 1 0 2.3 1 1 0 1.3 .7 2.4 .3 .3 .4 1 0 .3 .3 1 0 .4 .3 1 0 .3 .4 1.7 0 .3 .3 1 0 .3 .3 1.7 0 .3 .4 1.4 0 .3 .3 1.7 0 .3 .3 5 .4 .3 .3 3 0 .4 .3 10.5 .2-.7 1.3-.3 1.7-.7 1-.3 1.7-1 1.6-.4 1.7-1.3 2.7 0 .6-1 1.7 0 .7-1 1.6 0 .7-1 1.7 0 .6-1.7 3 0 .7-4 8-.6 .7-1 2.3-.5 .5-4.7 0-.3 .3-4.4 0-.3 .4-4.7 0-.3 .3-4 0-.3 .3-4 0-.4 .4-3.3 0-.3 .3-3.4 0-.3 .3-3.3 0-.4 .4-3 0-.3 .3-2.7 0-.3 .3-2.7 0-.3 .4-1.7 0-.3 .3z"/><path fill="#0083ed" d="M387.8 132.3l-3.6-1-1-.6-1.7-.4-1-.6-.7 0-2-1-.6 0-1-.7-.7 0-2.3-1.3-.7 0-3.7-2-.6 0-6-3-.7-.7-3.7-1.7-.6-.6-1.7-.7-2.3-1.7-1.7-.6-6.3-4.4-1-.3-.7-.7-2.3-1.3-2-1.7-1-.3-5-4-1-.3-1.4-1.4-.3 0-2.7-2.3-.3 0-2.7-2.3-.3 0-1.7-1.7-1.6-1-3.9-3.5 21.9-43.8 1.6 1 1.4 1.3 .3 0 2.7 2.3 1.3 .7 2.3 2 .4 0 2.3 2 1 .3 3.3 2.7 .4 0 6.6 4.7 1 .3 4.7 3.3 1 .4 .7 .6 1 .4 .6 .6 1 .4 2.4 1.6 1 .4 .6 .6 6 3 .7 .7 10.7 5.3 .6 0 1.7 1 .7 0 2.3 1.4 .7 0 4 2 .6 0 2.7 1.3 1 0 1 .7 2.7 .6 1 .7 .6 0 .4 .3 1.6 .4 1.4 .6 1 0 2.3 1 1 0 1.3 .7 2.4 .3 .3 .4 1 0 .3 .3 1 0 .4 .3 1 0 .3 .4 1.7 0 .3 .3 1 0 .3 .3 1.7 0 .3 .4 1.4 0 .3 .3 1.7 0 .3 .3 5 .4 .3 .3 3 0 .4 .3 10.5 .2-.7 1.3-.3 1.7-.7 1-.3 1.7-1 1.6-.4 1.7-1.3 2.7 0 .6-1 1.7 0 .7-1 1.6 0 .7-1 1.7 0 .6-1.7 3 0 .7-3.6 7.3-.5 .5-4.7 0-.3 .4-4.7 0-.3 .3-4.4 0-.3 .3-3.7 0-.3 .4-4 0-.3 .3-8 .3-.4 .4-3 0-.3 .3-3 0-.3 .3-3.4 0-.3 .4-2.7 0-.3 .3-3.3 0-.4 .3-2.3 0-.3 .4-2.7 0-.3 .3-2 0-.4 .3z"/><path fill="#00a8ed" d="M380.5 129.7l-.7 0-2-1-.6 0-1-.7-.7 0-6.7-3.3-.6 0-6-3-.7-.7-3.7-1.7-.6-.6-1.7-.7-2.3-1.7-3.4-1.6-4.6-3.4-1-.3-.7-.7-2.3-1.3-2-1.7-1-.3-5-4-1-.3-1.4-1.4-.3 0-2.7-2.3-.3 0-2.7-2.3-.3 0-1.7-1.7-1.6-1-3.9-3.5 21.9-43.8 1.6 1 1.4 1.3 .3 0 2.7 2.3 1.3 .7 2.3 2 .4 0 2.3 2 1 .3 3.3 2.7 .4 0 6.6 4.7 1 .3 4.7 3.3 1 .4 .7 .6 1 .4 .6 .6 1 .4 2.4 1.6 1 .4 .6 .6 6 3 .7 .7 10.7 5.3 .6 0 1.7 1 .7 0 2.3 1.4 .7 0 4 2 .6 0 2.7 1.3 1 0 1 .7 2.7 .6 1 .7 .6 0 .4 .3 1.6 .4 1.4 .6 1 0 2.3 1 1 0 1.3 .7 2.4 .3 .3 .4 1 0 .3 .3 1 0 .4 .3 1 0 .3 .4 1.7 0 .3 .3 1 0 .3 .3 1.7 0 .3 .4 1.4 0 .3 .3 1.7 0 .3 .3 5 .4 .3 .3 3 0 .4 .3 10.5 .2-.7 1.3-.3 1.7-.7 1-.3 1.7-1 1.6-.4 1.7-1.3 2.7 0 .6-1 1.7 0 .7-1 1.6 0 .7-1 1.7 0 .6-1.7 3 0 .7-2.1 4.2-3.7 0-.3 .3-5 0-.4 .3-4.6 0-.4 .4-3.6 0-.4 .3-4.3 0-.3 .3-3.7 0-.3 .4-3.7 0-.3 .3-7 .3-.4 .4-2.6 0-.4 .3-3.6 0-.4 .3-2.3 0-.3 .4-3.4 0-.3 .3-2.7 0-.3 .3-6 .4-.3 .3-2 0-.4 .3-.3-.3-.3 .3-1.4 0-.3 .4z"/><path fill="#00cded" d="M373.8 127l-1.3-.3-3.7-2-.6 0-6-3-.7-.7-3.7-1.7-.6-.6-1.7-.7-2.3-1.7-3.4-1.6-4.6-3.4-1-.3-.7-.7-2.3-1.3-2-1.7-1-.3-5-4-1-.3-1.4-1.4-.3 0-2.7-2.3-.3 0-2.7-2.3-.3 0-1.7-1.7-1.6-1-3.9-3.5 21.9-43.8 1.6 1 1.4 1.3 .3 0 2.7 2.3 1.3 .7 2.3 2 .4 0 2.3 2 1 .3 3.3 2.7 .4 0 6.6 4.7 1 .3 4.7 3.3 1 .4 .7 .6 1 .4 .6 .6 1 .4 2.4 1.6 1 .4 .6 .6 6 3 .7 .7 10.7 5.3 .6 0 1.7 1 .7 0 2.3 1.4 .7 0 4 2 .6 0 2.7 1.3 1 0 1 .7 2.7 .6 1 .7 .6 0 .4 .3 1.6 .4 1.4 .6 1 0 2.3 1 1 0 1.3 .7 2.4 .3 .3 .4 1 0 .3 .3 1 0 .4 .3 1 0 .3 .4 1.7 0 .3 .3 1 0 .3 .3 1.7 0 .3 .4 1.4 0 .3 .3 1.7 0 .3 .3 5 .4 .3 .3 3 0 .4 .3 10.5 .2-.7 1.3-.3 1.7-.7 1-.3 1.7-1 1.6-.4 1.7-1.3 2.7 0 .6-1 1.7 0 .7-1 1.6 0 .7-1 1.7 0 .6-1.7 3 0 .7-.5 .8-.3-.3-2.3 0-.4 .3-4.3 0-.3 .4-5 0-.4 .3-4.3 0-.3 .3-8.4 .4-.3 .3-3 0-.3 .3-.4-.3-.3 .3-2.7 0-.3 .4-4 0-.3 .3-2.7 0-.3 .3-.4-.3-.3 .3-2.7 0-.3 .4-.3-.4-.4 .4-2.3 0-.3 .3-.4-.3-.3 .3-2.3 0-.4 .3-.3-.3-.3 .3-2 0-.4 .4-.3-.4-.3 .4-2 0-.4 .3-.3-.3-.3 .3-3 0-.4 .3-2.3 0-.3 .4-3 0-.4 .3-5 .3-.3 .4-1.3 0-.4 .3z"/><path fill="#00ede9" d="M367.5 124.3l-5.3-2.6-.7-.7-3.7-1.7-.6-.6-1.7-.7-2.3-1.7-1.7-.6-6.3-4.4-1-.3-.7-.7-2.3-1.3-2-1.7-1-.3-1-1-1.7-1-2.3-2-1-.3-1.4-1.4-.3 0-2.7-2.3-1.6-1-3.4-3-1.6-1-3.9-3.5 21.9-43.8 1.6 1 1.4 1.3 .3 0 2.7 2.3 1.3 .7 2.3 2 .4 0 2.3 2 1 .3 3.3 2.7 .4 0 6.6 4.7 1 .3 4.7 3.3 1 .4 .7 .6 1 .4 .6 .6 1 .4 2.4 1.6 1 .4 .6 .6 6 3 .7 .7 10.7 5.3 .6 0 1.7 1 .7 0 2.3 1.4 .7 0 4 2 .6 0 2.7 1.3 1 0 1 .7 2.7 .6 1 .7 .6 0 .4 .3 1.6 .4 1.4 .6 1 0 2.3 1 1 0 1.3 .7 2.4 .3 .3 .4 1 0 .3 .3 1 0 .4 .3 1 0 .3 .4 1.7 0 .3 .3 1 0 .3 .3 1.7 0 .3 .4 1.4 0 .3 .3 1.7 0 .3 .3 5 .4 .3 .3 3 0 .4 .3 10.5 .2-.7 1.3-.3 1.7-.7 1-.3 1.7-1 1.6-.4 1.7-1.3 2.7 0 .6-1 1.7 0 .7-1 1.6 0 .7-1 1.7 0 .6-.5 .9-5.7 0-.3 .3-4.7 0-.3 .3-9.3 .4-.4 .3-4 0-.3 .3-2.7 0-.3 .4-.7-.4-.3 .4-3.3 0-.4 .3-3.3 0-.3 .3-3.7 0-.3 .4-6.7 .3-.3 .3-3.4 0-.3 .4-5.7 .3-.3 .3-3.3 0-.4 .4-2 0-.3 .3-.3-.3-.4 .3-1.6 0-.4 .3-.3-.3-.3 .3-3 0-.4 .4-2 0-.3 .3-2 0-.3 .3-.4-.3-.3 .3-2.3 0-.4 .4-.3-.4-.3 .4-2 0-.4 .3-1 0-.3 .3z"/><path fill="#00edc5" d="M362.2 121.7l-.7-.7-3.7-1.7-.6-.6-1.7-.7-2.3-1.7-3.4-1.6-4.6-3.4-1-.3-.7-.7-2.3-1.3-2-1.7-1-.3-1-1-1.7-1-2.3-2-1-.3-1.4-1.4-.3 0-2.7-2.3-1.6-1-3.4-3-1.6-1-3.9-3.5 21.9-43.8 1.6 1 1.4 1.3 .3 0 2.7 2.3 1.3 .7 2.3 2 .4 0 2.3 2 1 .3 3.3 2.7 .4 0 6.6 4.7 1 .3 4.7 3.3 1 .4 .7 .6 1 .4 .6 .6 1 .4 2.4 1.6 1 .4 .6 .6 6 3 .7 .7 10.7 5.3 .6 0 1.7 1 .7 0 2.3 1.4 .7 0 4 2 .6 0 2.7 1.3 1 0 1 .7 2.7 .6 1 .7 .6 0 .4 .3 1.6 .4 1.4 .6 1 0 2.3 1 1 0 1.3 .7 2.4 .3 .3 .4 1 0 .3 .3 1 0 .4 .3 1 0 .3 .4 1.7 0 .3 .3 1 0 .3 .3 1.7 0 .3 .4 1.4 0 .3 .3 1.7 0 .3 .3 5 .4 .3 .3 3 0 .4 .3 10.5 .2-.7 1.3-.3 1.7-.7 1-.3 1.7-1 1.6-.4 1.7-1.3 2.7 0 .6-1 1.7 0 .7-.7 1.3-.5 .5-2.6 0-.4 .3-.6-.3-.4 .3-4.3 0-.3 .4-4.4 0-.3 .3-5 0-.3 .3-8 .4-.4 .3-3.3 0-.3 .3-.4-.3-.3 .3-6.7 .4-.3 .3-4 0-.3 .3-2 0-.4 .4-.3-.4-.7 .4-3.3 0-.3 .3-2 0-.4 .3-.3-.3-.3 .3-3 0-.4 .4-.3-.4-.3 .4-1.4 0-.3 .3-.3-.3-.7 0-.3 .3-2 0-.4 .3-.3-.3-.3 .3-2.4 0-.3 .4-.3-.4-.4 .4-2 0-.3 .3-3.3 0-.4 .3-1.6 0-.4 .4-.3-.4-.3 .4-2.7 0-.3 .3-1.4 0-.3 .3-.3-.3-.4 .3-2.3 0-.3 .4-.4-.4-.3 .4-1.7 0-.3 .3-3 0-.3 .7z"/><path fill="#00eda1" d="M357.2 118.7l-1.7-.7-2.3-1.7-3.4-1.6-4.6-3.4-1-.3-.7-.7-2.3-1.3-2-1.7-1-.3-1-1-1.7-1-2.3-2-1-.3-1.4-1.4-.3 0-2.7-2.3-1.6-1-3.4-3-1.6-1-3.9-3.5 21.9-43.8 1.6 1 1.4 1.3 .3 0 2.7 2.3 1.3 .7 2.3 2 .4 0 2.3 2 1 .3 3.3 2.7 .4 0 6.6 4.7 1 .3 4.7 3.3 1 .4 .7 .6 1 .4 .6 .6 1 .4 2.4 1.6 1 .4 .6 .6 6 3 .7 .7 10.7 5.3 .6 0 1.7 1 .7 0 2.3 1.4 .7 0 4 2 .6 0 2.7 1.3 1 0 1 .7 2.7 .6 1 .7 .6 0 .4 .3 1.6 .4 1.4 .6 1 0 2.3 1 1 0 1.3 .7 2.4 .3 .3 .4 1 0 .3 .3 1 0 .4 .3 1 0 .3 .4 1.7 0 .3 .3 1 0 .3 .3 1.7 0 .3 .4 1.4 0 .3 .3 1.7 0 .3 .3 5 .4 .3 .3 3 0 .4 .3 10.5 .2-.7 1.3-.3 1.7-.7 1-.3 1.7-1 1.6-.4 1.7-.6 1 0 .7-1.2 2.5-.3-.4-.7 0-.3 .4-4.4 0-.3 .3-5 0-.3 .3-.4-.3-.3 .3-3.7 0-.3 .4-4.3 0-.4 .3-4 0-.3 .3-3.7 0-.3 .4-4 0-.3 .3-7.4 .3-.3 .4-2.7 0-.3 .3-.3-.3-.4 .3-3.3 0-.3 .3-2.7 0-.3 .4-.4-.4-.3 .4-2.3 0-.4 .3-3.6 0-.4 .3-5.6 .4-.4 .3-3 0-.3 .3-5.7 .4-.3 .3-2.3 0-.4 .3-2 0-.3 .4-.3-.4-.4 .4-2 0-.3 .3-.3-.3-.4 .3-2.6 0-.4 .3-1.6 0-.4 .4-.3-.4-.3 .4-1.7 0-.3 .3-.4-.3-.3 .3-2 0-.3 .3-1.7 0-.3 .4z"/><path fill="#00ed7e" d="M352.2 116l-3.4-2-3.6-2.7-1-.3-.7-.7-2.3-1.3-1-1-2-1-5-4-1-.3-1.4-1.4-.3 0-2.7-2.3-.3 0-2.7-2.3-.3 0-1.7-1.7-1.6-1-3.9-3.5 21.9-43.8 1.6 1 1.4 1.3 .3 0 2.7 2.3 1.3 .7 2.3 2 .4 0 2.3 2 1 .3 3.3 2.7 .4 0 6.6 4.7 1 .3 4.7 3.3 1 .4 .7 .6 1 .4 .6 .6 1 .4 2.4 1.6 1 .4 .6 .6 6 3 .7 .7 10.7 5.3 .6 0 1.7 1 .7 0 2.3 1.4 .7 0 4 2 .6 0 2.7 1.3 1 0 1 .7 2.7 .6 1 .7 .6 0 .4 .3 1.6 .4 1.4 .6 1 0 2.3 1 1 0 1.3 .7 2.4 .3 .3 .4 1 0 .3 .3 1 0 .4 .3 1 0 .3 .4 1.7 0 .3 .3 1 0 .3 .3 1.7 0 .3 .4 1.4 0 .3 .3 1.7 0 .3 .3 5 .4 .3 .3 3 0 .4 .3 10.5 .2-.7 1.3-.3 1.7-.7 1-.3 1.7-1 1.6-.4 1.7-.5 .5-3 0-.3 .3-4.3 0-.4 .4-.3-.4-.3 .4-4.7 0-.3 .3-4.7 0-.3 .3-4.4 0-.3 .4-3.7 0-.3 .3-7.3 .3-.4 .4-.3-.4-.3 .4-3.7 0-.3 .3-2.4 0-.3 .3-.3-.3-.4 .3-3.3 0-.3 .4-3 0-.4 .3-3 0-.3 .3-7 .4-.3 .3-2 0-.4 .3-6.6 .4-.4 .3-5.6 .3-.4 .4-2.3 0-.3 .3-5.7 .3-.3 .4-2 0-.4 .3-.3-.3-.3 .3-5 .3-.4 .4-1.3 0-.3 .3-.7-.3-.3 .3-2 0-.4 .3-2.3 0-1.3 .7z"/><path fill="#00ed5c" d="M347.5 113l-6.3-4-2-1.7-1-.3-5-4-1-.3-1.4-1.4-.3 0-2.7-2.3-.3 0-2.7-2.3-.3 0-1.7-1.7-1.6-1-3.9-3.5 21.9-43.8 1.6 1 1.4 1.3 .3 0 2.7 2.3 1.3 .7 2.3 2 .4 0 2.3 2 1 .3 3.3 2.7 .4 0 6.6 4.7 1 .3 4.7 3.3 1 .4 .7 .6 1 .4 .6 .6 1 .4 2.4 1.6 1 .4 .6 .6 6 3 .7 .7 10.7 5.3 .6 0 1.7 1 .7 0 2.3 1.4 .7 0 4 2 .6 0 2.7 1.3 1 0 1 .7 2.7 .6 1 .7 .6 0 .4 .3 1.6 .4 1.4 .6 1 0 2.3 1 1 0 1.3 .7 2.4 .3 .3 .4 1 0 .3 .3 1 0 .4 .3 1 0 .3 .4 1.7 0 .3 .3 1 0 .3 .3 1.7 0 .3 .4 1.4 0 .3 .3 1.7 0 .3 .3 5 .4 .3 .3 3 0 .4 .3 10.5 .2-.7 1.3-.3 1.7-.7 1-.3 1.7-1.2 .5-10 .3-.3 .3-3.7 0-.3 .4-.4-.4-.3 .4-5 0-.3 .3-3.7 0-.3 .3-7.7 .4-.3 .3-.4-.3-.3 .3-3.3 0-.4 .3-3 0-.3 .4-3.3 0-.4 .3-.3-.3-.3 .3-2.7 0-.3 .3-2.7 0-.3 .4-.7-.4-.3 .4-2.7 0-.3 .3-3.4 0-.3 .3-2 0-.3 .4-.4-.4-.6 0-.4 .4-6 .3-.3 .3-5 .4-.3 .3-.4-.3-.3 .3-1.7 0-.3 .3-.3-.3-.4 .3-3 0-.3 .4-2 0-.3 .3-.4-.3-.3 .3-2 0-.3 .3-2 0-.4 .4-.3-.4-.3 .4-3 0-.4 .3-2.3 0-.3 .3-1.4 0-.3 .4-.7-.4-.3 .4-2 0-.3 .3-2 0-.4 .3-5 .4-.3 .3z"/><path fill="#00ed3a" d="M343.2 110.3l-3-2.3-2-1-5-4-1-.3-1.4-1.4-.3 0-2.7-2.3-.3 0-2.7-2.3-.3 0-1.7-1.7-1.6-1-3.9-3.5 21.9-43.8 1.6 1 1.4 1.3 .3 0 2.7 2.3 1.3 .7 2.3 2 .4 0 2.3 2 1 .3 3.3 2.7 .4 0 6.6 4.7 1 .3 4.7 3.3 1 .4 .7 .6 1 .4 .6 .6 1 .4 2.4 1.6 1 .4 .6 .6 6 3 .7 .7 10.7 5.3 .6 0 1.7 1 .7 0 2.3 1.4 .7 0 4 2 .6 0 2.7 1.3 1 0 1 .7 2.7 .6 1 .7 .6 0 .4 .3 1.6 .4 1.4 .6 1 0 2.3 1 1 0 1.3 .7 2.4 .3 .3 .4 1 0 .3 .3 1 0 .4 .3 1 0 .3 .4 1.7 0 .3 .3 1 0 .3 .3 1.7 0 .3 .4 1.4 0 .3 .3 1.7 0 .3 .3 5 .4 .3 .3 3 0 .4 .3 10.5 .2-.7 1.3 0 .7-.5 .5-2.3 0-.4 .3-10 .4-.3 .3-4.3 0-.4 .3-4 0-.3 .4-8.7 .3-.3 .3-3.3 0-.4 .4-.3-.4-.3 .4-3.7 0-.3 .3-2.4 0-.3 .3-.3-.3-.4 .3-7.6 .4-.4 .3-2.3 0-.3 .3-2.7 0-.3 .4-.4-.4-.3 .4-6.7 .3-.3 .3-2.3 0-.4 .4-3.3 0-.3 .3-1.7 0-.3 .3-.4-.3-.6 .3-2.7 0-.3 .4-1.7 0-.3 .3-.4-.3-.3 .3-3 0-.3 .3-5.7 .4-.3 .3-2 0-.4 .3-.3-.3-.3 .3-2.4 0-.3 .4-2 0-.3 .3-2.4 0-.3 .3-2.3 0-.4 .4-2.3 0-.3 .3-2.7 0-.3 .3-4.4 .4-.3 .3-1 0-.3 .3z"/><path fill="#00ed18" d="M339.2 107.3l-1-.3-5-4-1-.3-1.4-1.4-.3 0-2.7-2.3-.3 0-2.7-2.3-.3 0-1.7-1.7-1.6-1-3.9-3.5 21.9-43.8 1.6 1 1.4 1.3 .3 0 2.7 2.3 1.3 .7 2.3 2 .4 0 2.3 2 1 .3 3.3 2.7 .4 0 6.6 4.7 1 .3 4.7 3.3 1 .4 .7 .6 1 .4 .6 .6 1 .4 2.4 1.6 1 .4 .6 .6 6 3 .7 .7 10.7 5.3 .6 0 1.7 1 .7 0 2.3 1.4 .7 0 1.6 1 .7 0 1.7 1 .6 0 2.7 1.3 1 0 1 .7 2.7 .6 1 .7 .6 0 .4 .3 1.6 .4 1.4 .6 1 0 2.3 1 1 0 1.3 .7 2.4 .3 .3 .4 1 0 .3 .3 1 0 .4 .3 1 0 .3 .4 1.7 0 .3 .3 1 0 .3 .3 3.4 .4 .3 .3 1.7 0 .3 .3 2.3 0 .4 .4 2.3 0 .3 .3 3.2 .2-4.2 .1-.3 .4-3.7 0-.3 .3-9 .3-.3 .4-3.7 0-.3 .3-4 0-.4 .3-3.6 0-.4 .4-7.3 .3-.3 .3-2.7 0-.3 .4-3.4 0-.3 .3-3.3 0-.4 .3-3 0-.3 .4-2.7 0-.3 .3-6.3 .3-.4 .4-2.3 0-.3 .3-2.4 0-.3 .3-.3-.3-.4 .3-1.6 0-.4 .4-.3-.4-.3 .4-3 0-.4 .3-2 0-.3 .3-.3-.3-.4 .3-2 0-.3 .4-.3-.4-.4 .4-2 0-.3 .3-3 0-.3 .3-4.7 .4-.3 .3-2.4 0-.3 .3-.3-.3-.4 .3-1.6 0-.4 .4-.3-.4-.3 .4-4.7 .3-.3 .3-1 0-.4 .4-.6-.4-.4 .4-2 0-.3 .3-2 0-.3 .3z"/><path fill="#09ed00" d="M335.2 104.7l-2-1.7-1-.3-1.4-1.4-.3 0-2.7-2.3-.3 0-2.7-2.3-.3 0-1.7-1.7-1.6-1-2-2-.4 0-1.5-1.5 0-.3 21.9-43.5 1.6 1 1.4 1.3 .3 0 2.7 2.3 1.3 .7 2.3 2 .4 0 2.3 2 1 .3 3.3 2.7 .4 0 6.6 4.7 1 .3 4.7 3.3 1 .4 .7 .6 1 .4 .6 .6 1 .4 2.4 1.6 1 .4 .6 .6 3 1.4 .7 .6 2.3 1 .7 .7 10.7 5.3 .6 0 1.7 1 .7 0 2.3 1.4 .7 0 1.6 1 .7 0 1.7 1 .6 0 2.7 1.3 1 0 1 .7 2.7 .6 1 .7 .6 0 .4 .3 1.6 .4 1.4 .6 1 0 2.3 1 1 0 1.3 .7 2.4 .3 .3 .4 1 0 .3 .3 1 0 .4 .3 1 0 .3 .4 1.8 .1-1.8 .2-.3 .3-3.7 0-.3 .4-.4-.4-.3 .4-3.3 0-.4 .3-4 0-.3 .3-3.3 0-.4 .4-7 .3-.3 .3-2.7 0-.3 .4-2.3 0-.4 .3-.6-.3-.4 .3-3 0-.3 .3-2.7 0-.3 .4-3.3 0-.4 .3-2 0-.3 .3-.3-.3-.4 .3-5.6 .4-.4 .3-3.3 0-.3 .3-2 0-.4 .4-3 0-.3 .3-2 0-.3 .3-.4-.3-.3 .3-4.7 .4-.3 .3-3 0-.3 .3-2 0-.4 .4-2.3 0-.3 .3-2.4 0-.3 .3-2.7 0-.3 .4-1.7 0-.3 .3-2.7 0-.3 .3-2 0-.3 .4-5.4 .3-.6 .7z"/><path fill="#29ed00" d="M331.2 101.7l-1.7-1.4-.3 0-2.7-2.3-.3 0-1.4-1.3-.3 0-1.7-1.7-1.6-1-2-2-.4 0-1.5-1.5 0-.3 21.9-43.5 1.6 1 1.4 1.3 .3 0 2.7 2.3 1.3 .7 2.3 2 .4 0 2.3 2 1 .3 3.3 2.7 .4 0 6.6 4.7 1 .3 4.7 3.3 1 .4 .7 .6 1 .4 .6 .6 1 .4 2.4 1.6 1 .4 .6 .6 3 1.4 .7 .6 2.3 1 .7 .7 10.7 5.3 .6 0 1.7 1 .7 0 2.3 1.4 .7 0 4 2 .6 0 2.7 1.3 1 0 1 .7 2.7 .6 1 .7 .6 0 .4 .3 1.6 .4 1.4 .6 1 0 2.8 1.2-4.2 .2-.3 .3-3.3 0-.4 .3-3.6 0-.4 .4-6.3 .3-.3 .3-6.4 .4-.3 .3-3.3 0-.4 .3-3 0-.3 .4-2.7 0-.3 .3-2.3 0-.4 .3-.3-.3-.3 .3-1.7 0-.3 .4-.4-.4-.3 .4-2.3 0-.4 .3-3.3 0-.3 .3-1.7 0-.3 .4-.4-.4-.3 .4-2 0-.3 .3-.4-.3-.3 .3-2 0-.3 .3-3 0-.4 .4-2 0-.3 .3-.3-.3-.4 .3-5 .3-.3 .4-1.7 0-.3 .3-.3-.3-.4 .3-1.6 0-.4 .3-.3-.3-.3 .3-2 0-.4 .4-1.6 0-.4 .3-.3-.3-.3 .3-2 0-.4 .3-2 0-.3 .4-.3-.4-.4 .4-2 0-.3 .3-2.3 0-.4 .3-1.3 0-.3 .4z"/><path fill="#49ed00" d="M327.5 99l-4.7-4-1.6-1-2-2-.4 0-1.5-1.5 0-.3 21.9-43.5 1.6 1 1.4 1.3 .3 0 2.7 2.3 1.3 .7 2.3 2 .4 0 2.3 2 1 .3 1 1 1.3 .7 1 1 .4 0 6.6 4.7 1 .3 4.7 3.3 1 .4 .7 .6 1 .4 .6 .6 1 .4 2.4 1.6 1 .4 .6 .6 3 1.4 .7 .6 2.3 1 .7 .7 10.7 5.3 .6 0 1.7 1 .7 0 2.3 1.4 .7 0 1.6 1 .7 0 1.7 1 .6 0 2.7 1.3 1 0 1 .7 .7 0 .3 .3 1.8 .5-.1 .5-2.7 0-.3 .3-3 0-.4 .4-.3-.4-.3 .4-2.7 0-.3 .3-.4-.3-.3 .3-2.3 0-.4 .3-.3-.3-.3 .3-2.4 0-.3 .4-.3-.4-.4 .4-2.6 0-.4 .3-6.3 .3-.3 .4-2 0-.4 .3-.3-.3-.3 .3-2.7 0-.3 .3-2 0-.4 .4-.3-.4-.3 .4-2.7 0-.3 .3-1.7 0-.3 .3-.4-.3-.3 .3-.3-.3-.4 .3-2.6 0-.4 .4-2 0-.3 .3-1.3 0-.4 .3-.3-.3-.3 .3-.4-.3-.3 .3-2 0-.3 .4-2.7 0-.3 .3-1.4 0-.3 .3-.7-.3-.3 .3-5 .4-.3 .3-1.7 0-.3 .3-.4-.3-.3 .3-2 0-.3 .4-2.4 0-.3 .3-1.3 0-.4 .3-.6-.3-.4 .3-2 0-.3 .4-2 0-.3 .3-2 0-.4 .3-2.3 0-1 .7z"/><path fill="#68ed00" d="M323.8 96l-1-1-1.6-1-2-2-.4 0-1.5-1.5 0-.3 21.9-43.5 1.6 1 1.4 1.3 .3 0 2.7 2.3 1.3 .7 2.3 2 .4 0 2.3 2 1 .3 1 1 1.3 .7 1 1 .4 0 6.6 4.7 1 .3 4.7 3.3 1 .4 .7 .6 1 .4 .6 .6 1 .4 2.4 1.6 1 .4 .6 .6 3 1.4 .7 .6 2.3 1 .7 .7 10.7 5.3 .6 0 4.7 2.4 .7 0 1.6 1 .7 0 1.7 1 .8 .1-.2 .5-3 0-.3 .4-2.3 0-.4 .3-.6-.3-.4 .3-2 0-.3 .3-.7-.3-.3 .3-2.3 0-.4 .4-3 0-.3 .3-3.3 0-.4 .3-1.6 0-.4 .4-.3-.4-.3 .4-3 0-.4 .3-1.6 0-.4 .3-.3-.3-.3 .3-2.4 0-.3 .4-.3-.4-.4 .4-2 0-.3 .3-.3-.3-.4 .3-2 0-.3 .3-6 .4-.3 .3-2 0-.4 .3-2.6 0-.4 .4-1 0-.3 .3-.7-.3-.3 .3-2.3 0-.4 .3-4.3 .4-.3 .3-.4-.3-.6 .3-1.7 0-.3 .3-.4-.3-.3 .3-2 0-.3 .4-5 .3-.4 .3-1 0-.3 .4-.7-.4-.3 .4-4.7 .3-.3 .3-1 0-.3 .4-.7-.4-.3 .4-1 0-.4 .3z"/><path fill="#86ed00" d="M320.2 93l-1-1-.4 0-1.5-1.5 0-.3 21.9-43.5 1.6 1 1.4 1.3 .3 0 2.7 2.3 1.3 .7 2.3 2 .4 0 2.3 2 1 .3 3.3 2.7 .4 0 6.6 4.7 1 .3 4.7 3.3 1 .4 .7 .6 1 .4 .6 .6 1 .4 2.4 1.6 1 .4 .6 .6 6 3 .7 .7 10.7 5.3 .6 0 3.9 1.9-.9 .5-3 0-.3 .3-2.3 0-.4 .3-.3-.3-.3 .3-2.7 0-.3 .4-3 0-.4 .3-5 .3-.3 .4-.3-.4-.4 .4-1.6 0-.4 .3-.3-.3-.3 .3-3 0-.4 .3-1.3 0-.3 .4-.4-.4-.3 .4-.3-.4-.4 .4-2 0-.3 .3-.3-.3-.4 .3-2 0-.3 .3-2 0-.3 .4-.4-.4-.3 .4-2.3 0-.4 .3-.3-.3-.3 .3-2 0-.4 .3-5.3 .4-.3 .3-1.7 0-.3 .3-1.7 0-.3 .4-.7-.4-.3 .4-1.7 0-.3 .3-.4-.3-.3 .3-2 0-.3 .3-2 0-.4 .4-.3-.4-.3 .4-1.7 0-.3 .3-2.4 0-.3 .3-2 0-.3 .4-2.4 0-.3 .3-1 0-.3 .3-.7-.3-.3 .3-4.7 .4-.3 .3z"/><path fill="#a4ed00" d="M318.2 90l-.4 0-.1-.5 21.5-42.8 1.6 1 1.4 1.3 .3 0 2.7 2.3 1.3 .7 2.3 2 .4 0 2.3 2 1 .3 3.3 2.7 .4 0 6.6 4.7 1 .3 4.7 3.3 1 .4 .7 .6 1 .4 .6 .6 1 .4 2.4 1.6 1 .4 .6 .6 6 3 .7 .7 9.2 4.5-.9 .5-.3-.3-.3 .3-3 0-.4 .3-1.6 0-.4 .4-.3-.4-.7 .4-3 0-.3 .3-1.7 0-.3 .3-.3-.3-.4 .3-5.6 .4-.4 .3-2 0-.3 .3-.3-.3-.4 .3-2 0-.3 .4-.3-.4-.4 .4-1.3 0-.3 .3-.4-.3-.3 .3-3 0-.3 .3-1.4 0-.3 .4-.3-.4-.4 .4-.3-.4-.3 .4-5 .3-.4 .3-1.6 0-.4 .4-.3-.4-.3 .4-1.7 0-.3 .3-.4-.3-.3 .3-4 .3-.3 .4-.4-.4-.3 .4-2 0-.3 .3-2 0-.4 .3-.3-.3-.3 .3-1.4 0-.3 .4-.3-.4-.7 .4-2 0-.3 .3-1 0-.4 .3-.6-.3-.4 .3-1 0-.3 .4-.3-.4-.7 .4-2.3 0-.4 .3-1 0-.3 .3-.3-.3-.7 .3-1.3 0-.4 .4-.6-.4-.4 .4-1.3 0-.3 .3z"/><path fill="#c1ed00" d="M319.8 86.3l-.5-.1 19.9-39.5 1.6 1 1.4 1.3 .3 0 2.7 2.3 1.3 .7 2.3 2 .4 0 2.3 2 1 .3 3.3 2.7 .4 0 6.6 4.7 1 .3 4.7 3.3 1 .4 .7 .6 1 .4 .6 .6 1 .4 2.4 1.6 1 .4 .6 .6 3 1.4 .7 .6 6.8 3.5-2.5 .2-.3 .3-2.3 0-.4 .4-6 .3-.3 .3-2.7 0-.3 .4-2.7 0-.3 .3-2.7 0-.3 .3-2.3 0-.4 .4-2.3 0-.3 .3-1.4 0-.3 .3-.3-.3-.4 .3-.6-.3-.4 .3-1.3 0-.3 .4-.4-.4-.3 .4-1.7 0-.3 .3-.3-.3-.4 .3-1.6 0-.4 .3-.6-.3-1.4 .7-.3-.4-.7 0-.3 .4-2 0-.3 .3-5.4 .3-.3 .4-1.3 0-.4 .3-.3-.3-.3 .3-1.4 0-.3 .3-.7-.3-.3 .3-1 0-.3 .4-.7-.4-.3 .4-1 0-.4 .3-.6-.3-.4 .3-2 0-.3 .3-1.3 0-.4 .4-.6-.4-.4 .4-2.3 0-.3 .3-2 0-.4 .3z"/><path fill="#deed00" d="M322.8 82.7l-1.3 0-.2-.5 17.9-35.5 1.6 1 1.4 1.3 .3 0 2.7 2.3 1.3 .7 2.3 2 .4 0 2.3 2 1 .3 3.3 2.7 .4 0 6.6 4.7 1 .3 4.7 3.3 1 .4 .7 .6 1 .4 .6 .6 4.4 2.4 .6 .6 3 1.4 2.2 1.5-2.5 .1-.3 .4-.4-.4-.3 .4-5.7 .3-.3 .3-2 0-.3 .4-.4-.4-.3 .4-5.7 .3-.3 .3-1.3 0-.4 .4-.3-.4-.3 .4-2.7 0-.3 .3-2.4 0-.3 .3-5 .4-.3 .3-4.7 .3-.3 .4-2 0-.4 .3-.3-.3-.3 .3-2 0-.4 .3-2 0-.3 .4-.3-.4-.4 .4-4.3 .3-.3 .3-1.4 0-.3 .4-.7-.4-.3 .4-1 0-.3 .3-.4-.3-.6 .3-1.4 0-.3 .3-.3-.3-.4 .3-1.6 0-.4 .4z"/><path fill="#ede800" d="M325.2 79l-.4-.3-.3 .3-1.5-.2 16.2-32.1 1.6 1 1.4 1.3 .3 0 2.7 2.3 1.3 .7 2.3 2 .4 0 2.3 2 1 .3 1 1 1.3 .7 1 1 .4 0 6.6 4.7 1 .3 4.7 3.3 1 .4 .7 .6 1 .4 .6 .6 1 .4 .7 .6 1 .4 2.2 1.5-1.2 .5-3 0-.3 .3-1.7 0-.3 .3-.4-.3-.3 .3-2 0-.3 .4-.4-.4-.3 .4-1.3 0-.4 .3-.3-.3-.3 .3-3 0-.4 .3-2 0-.3 .4-.3-.4-.4 .4-5 .3-.3 .3-1.7 0-.3 .4-.3-.4-.4 .4-1.6 0-.4 .3-2.6 0-.4 .3-1.6 0-.4 .4-.6-.4-.4 .4-4 .3-.3 .3-.3-.3-.4 .3-1.3 0-.3 .4-.4-.4-.3 .4-1.3 0-.4 .3-.3-.3-.3 .3-1.7 0-.3 .3-.4-.3-.3 .3-1.3 0-.4 .4-.3-.4-.3 .4-1.7 0-.3 .3z"/><path fill="#edd600" d="M325.2 75.7l-.2-.9 14.2-28.1 1.6 1 1.4 1.3 .3 0 2.7 2.3 1.3 .7 2.3 2 .4 0 2.3 2 1 .3 1 1 1.3 .7 1 1 .4 0 6.6 4.7 1 .3 4.7 3.3 1 .4 .7 .6 2.1 1.2-2.5 .2-.3 .3-2.3 0-.4 .3-.3-.3-.3 .3-2.7 0-.3 .4-4.7 .3-.3 .3-2 0-.4 .4-.3-.4-.3 .4-1.7 0-.3 .3-.4-.3-.3 .3-4.7 .3-.3 .4-1.7 0-.3 .3-.7-.3-.3 .3-2 0-.3 .3-1.4 0-.3 .4-.7-.4-.3 .4-4.3 .3-.4 .3-.3-.3-.3 .3-1.4 0-.3 .4-2 0-.3 .3-.7-.3-.3 .3-3.7 .3-.3 .4z"/><path fill="#edbf00" d="M327.2 72l-.4 0-.1-.5 12.5-24.8 1.6 1 1.4 1.3 .3 0 2.7 2.3 1.3 .7 2.3 2 .4 0 2.3 2 1 .3 3.3 2.7 11.5 7.5-1.1 .5-4.4 .3-.3 .4-.3-.4-.4 .4-2.3 0-.3 .3-.4-.3-.3 .3-2 0-.3 .3-5.4 .4-.3 .3-1.7 0-.3 .3-1.7 0-.3 .4-.7-.4-.3 .4-1.7 0-.3 .3-2 0-.3 .3-.4-.3-.3 .3-2 0-.3 .4-2 0-.4 .3-.3-.3-.3 .3-4 .3-.4 .4-2.3 0-.3 .3z"/><path fill="#eda600" d="M329.5 68.3l-1.2-.1 10.9-21.5 1.6 1 1.4 1.3 .3 0 2.7 2.3 1.3 .7 2.3 2 .4 0 2.3 2 1 .3 3.3 2.7 7.5 4.8-2.5 .2-.3 .3-2.3 0-.4 .4-2 0-.3 .3-.3-.3-.4 .3-1.6 0-.4 .3-.3-.3-.3 .3-1.7 0-.3 .4-.4-.4-.3 .4-1 0-.3 .3-.7-.3-.3 .3-1.7 0-.3 .3-.4-.3-.3 .3-2 0-.3 .4-2.4 0-.3 .3-1.3 0-.4 .3-.6-.3-.4 .3-1 0-.3 .4-.7-.4-.3 .4-4.7 .3-.3 .3z"/><path fill="#ed8b00" d="M330.5 65l-.2-.8 8.9-17.5 1.6 1 1.4 1.3 .3 0 2.7 2.3 1.3 .7 2.3 2 .4 0 2.3 2 1 .3 1 1 1.3 .7 1 1 2.9 1.8-1.2 .5-1 0-.3 .4-.7-.4-.3 .4-5 .3-.4 .3-2.3 0-.3 .4-5.4 .3-.3 .3-1.3 0-.4 .4-.3-.4-.3 .4-2.4 0-.3 .3-1.7 0-.3 .3-2.3 0-.4 .4-1 0-.3 .3z"/><path fill="#ed6e00" d="M335.2 61l-.4-.3-.6 .3-2.2-.2 7.2-14.1 1.6 1 4.4 3.6 1.3 .7 1 1 1.7 1 2.3 2 1 .3 2.2 1.9-2.5 .1-.4 .4-1.6 0-.4 .3-.3-.3-.3 .3-1.7 0-.3 .3-2.4 0-.3 .4-2.3 0-.4 .3-1.6 0-.4 .3-.6-.3-.4 .3-1 0-.3 .4-.7-.4-.3 .4-1 0-.3 .3z"/><path fill="#ed5000" d="M334.8 57.7l-.6-.4-.2-.5 5.2-10.1 1.6 1 4.4 3.6 1.3 .7 1 1 .3 0 1 1 1.9 1.2-.9 .5-.3-.4-.3 .4-2 0-.4 .3-1.6 0-.4 .3-.6-.3-.4 .3-1.6 0-.4 .4-2 0-.3 .3-2.7 0-.3 .3-1.3 0-.4 .4zM333.8 57.7l0-.4 0 .4z"/><path fill="#ed3100" d="M337.2 54l-.4-.3-1 .3-.1-.5 3.5-6.8 1.6 1 1.4 1.3 .3 0 2.7 2.3 1.8 1.2-2.8 .2-.4 .3-2 0-.3 .3-1.7 0-.3 .4-.3-.4-.4 .4-1.3 0-.3 .3z"/><path fill="#ed1100" d="M339.5 50.3l-.3-.3-.7 .3-1.2-.1 1.9-3.5 1.6 1 2.2 1.8-1.2 .2-.3 .3-1.7 0-.3 .3z"/></g>
<path d="M438.5 136.1l-25.3 2M440.4 133.5l-36.6 3M441.9 131l-23.8 1.7-21.5 2.2M443.3 128.6l-27.6 2-25.1 2.5M444.7 126.2l-30.5 2.2-29 3M445.9 123.7l-33.3 2.5-32.2 3.4M447.1 121.4l-36.1 2.7-35.1 3.7M448.2 119l-38.3 2.9-38.2 4.1M449.3 116.6l-40.6 3.1-40.9 4.4M450.3 114.3l-42.8 3.2-43.4 4.8M451.3 111.9l-45 3.5-45.8 5M452.3 109.6l-46.7 3.6-48.5 5.4M453.3 107.3l-48.4 3.7-51 5.7M454.2 105l-23.8 1.5-26.8 2.4-52.9 5.9M455.1 102.6l-24.8 1.7-27.5 2.4-55.1 6.2M456 100.3l-25.3 1.7-28.7 2.5-29.1 3.1-28.1 3.5M456.9 98l-26.4 1.8-29.2 2.5-29.9 3.2-29.5 3.7M447.3 96.3l-53 4.5-55.2 6.5M435.7 94.9l-49.1 4.4-50.1 6.1M427.7 93.3l-46.4 4.4-47.5 5.8M421.2 91.6l-44.1 4.3-45.8 5.7M415.5 89.8l-42.6 4.3-44.1 5.6M410.3 88.1l-41 4.2-43 5.4M405.6 86.3l-39.3 4.1-42.4 5.4M401.1 84.5l-38.5 4.1-41.1 5.3M396.9 82.6l-37.3 4.1-40.4 5.3M393 80.8l-35.8 4-39.4 5.2M389.2 79l-33.7 3.8-36.5 4.8M385.5 77.1l-31 3.6-34.4 4.5M382 75.2l-60.7 7.6M378.7 73.4l-56.2 7M375.4 71.5l-51.7 6.5M372.2 69.6l-47.3 6M369.1 67.8l-43 5.4M366.1 65.9l-38.8 4.9M363.2 64l-34.7 4.4M360.3 62.1l-30.6 3.9M357.5 60.2l-26.6 3.4M354.7 58.3l-22.6 2.9M352.1 56.4l-18.8 2.5M349.4 54.5l-14.9 2M346.8 52.6l-11.1 1.5M344.3 50.7l-7.4 1M341.8 48.8l-3.7 .5" fill="none" stroke="#000" stroke-opacity="0.45" stroke-width="0.25"/>
<path d="M325.7 109h0M368.4 65.9h0M402.3 102.7h0M330 46.5h0M351.6 85.7h0M338.1 53.6h0M369.1 49.3h0M398.3 148.5h0M354.6 84.7h0M423.7 135.4h0M347.1 79.7h0M341.2 80.8h0M441.1 95.6h0M426.2 104.6h0M447.1 106.7h0M417.2 106.5h0M382.5 61.5h0M381.9 82.8h0M401.8 126.1h0M364.5 80.8h0M432.7 141h0M437.6 150.9h0M417 112.2h0M388.3 136.1h0M344.4 104.7h0M369.8 75.2h0M367.3 86.8h0M360.9 122.7h0M399.4 92.7h0M358.2 48.9h0M418.7 154.9h0M411.2 126.3h0M423.3 110.2h0M368.7 66.1h0M411.3 99.7h0M408.6 105.9h0M366.4 106.7h0M368.6 97.7h0M423 150.3h0M392.2 140.8h0M434.8 112.8h0M381.2 107.5h0M417.8 128h0M423 123h0M417.3 108.5h0M436.7 102.2h0M405.1 77.3h0M383.7 112.9h0M361.7 106.2h0M417.7 155.7h0M335.5 86.5h0M370.7 105.9h0M350 101.9h0M390.1 147.1h0M437.6 70.5h0M367.1 87h0M418.2 111.8h0M403.7 113.9h0M350.5 92.5h0M420.6 93.8h0M387.4 84.7h0M410.5 105.7h0M379.7 140.1h0M439.2 102.4h0M412.6 110.5h0M353.8 71.8h0M358.7 68.8h0M424.5 132.4h0M371.6 72.5h0M366.3 121h0M343 43.4h0M410 83.9h0M427.4 115.6h0M428 127.6h0M420.2 145.1h0M346.9 66.5h0M383.2 86.6h0M372 141.7h0M401.5 78.2h0M394.6 73.3h0M386.5 115.6h0M449.9 117.3h0M356.2 104.6h0M362 42.5h0M416.9 128.3h0M374.2 72.8h0M414.1 97.7h0M427.8 137.8h0" stroke="#000" stroke-width="2.3" stroke-linecap="round"/></g>
<g><path d="M319.9 422.4L350.9 403.6L460.9 410.1M320.1 408.8L351.1 390L461.1 396.5M320.3 395.7L351.3 376.9L461.3 383.4M320.4 382.6L351.4 363.8L461.4 370.3M320.6 369L351.6 350.2L461.6 356.7M320.8 355.3L351.8 336.5L461.8 343M320.9 341.7L351.9 322.9L461.9 329.4M321.1 328.1L352.1 309.3L462.1 315.8M319.8 433.8L350.8 415L352.2 301.3M332.1 434.5L363.1 415.7L364.5 302M344.4 435.3L375.4 416.5L376.8 302.8M356.8 436L387.8 417.2L389.2 303.5M369.1 436.7L400.1 417.9L401.5 304.2M381.4 437.4L412.4 418.6L413.8 304.9M393.7 438.2L424.7 419.4L426.1 305.7M406 438.9L437 420.1L438.4 306.4M418.4 439.6L449.4 420.8L450.8 307.1M431.5 439.2L321.5 432.7L322.9 319M438.4 435.1L328.4 428.6L329.8 314.9M445.3 430.9L335.3 424.4L336.7 310.7M452.2 426.7L342.2 420.2L343.6 306.5M459.1 422.6L349.1 416.1L350.5 302.4" stroke="#dcdcdc" stroke-width="0.4" fill="none" stroke-dasharray="1 .6"/>
<path d="M319.8 433.8L321.2 320.1M350.8 415L352.2 301.3M460.8 421.5L462.2 307.8M321.2 320.1L352.2 301.3M352.2 301.3L462.2 307.8M319.8 433.8L429.8 440.3M429.8 440.3L460.8 421.5" stroke="#a8a8a8" stroke-width=".55" fill="none"/>
<path d="M319.8 433.8L350.8 415M350.8 415L460.8 421.5" stroke="#9a9ad8" stroke-width=".55" fill="none"/>
<g fill-rule="evenodd"><path fill="#0010cc" d="M376.8 410.3l-11.3 0-.3-.3-3.4 0-.3-.3-2.7 0-.3-.4-3.7-.3-.3-.3-1.3 0-.4-.4-1.3 0-.3-.3-1 0-.4-.3-3.6-.7-2.4-1-1 0-1-.7-1 0-1-.6-1.6-.4-1-.6-.7 0-2.7-1.4-.6 0-1.7-1-.7 0-6-3-.6-.6-3-1.4-1.2-.8 7.7-8.7 0-.3 2.3-2.3 0-.4 2.3-2.3 0-.3 2.4-2.4 0-.3 2.3-2.3 0-.4 2.3-2.3 0-.3 2-2 0-.4 2.4-2.3 0-.3 5-5.4 0-.3 2.5-2.8 14-.4 .3-.3 4 0 .3-.3 6-.4 .4-.3 2 0 .3-.3 4.3-.4 .4-.3 1.6 0 .4-.3 1.3 0 .3-.4 1.7 0 .3-.3 1.4 0 .3-.3 3-.4 .3-.3 2.7-.3 .3-.4 1 0 .4-.3 1 0 .3-.3 1 0 .3-.4 1 0 .4-.3 1 0 1.3-.7 2.3-.3 .4-.3 2.6-.7 .4-.3 1 0 .3-.4 .7 0 .3-.3 1.7-.3 .3-.4 2.7-.6 .3-.4 1.7-.3 1.3-.7 .7 0 1-.6 1.6-.4 1-.6 .7 0 1-.7 1.7-.3 1.6-1 .7 0 2.7-1.4 .6 0 2.4-1.3 .6 0 2.4-1.3 .6 0 6.4-3.4 1.3-.3 .7-.7 5.6-2.6 .7-.7 3-1.3 .7-.7 2.3-1 .7-.7 .6-.3 .2 .2 0 .6-3.7 7.4-.6 .6 0 .7-.7 .7 0 .6-.7 .7-1 2 0 .7-.6 .6-11 22.4-.7 .6 0 .7-.7 .7 0 .6-.6 .7-10.7 21.7-1.2 1.1-1 .4-1 1-1 .3-1.6 1.3-6 3-.7 .7-6.7 3.3-2.3 .7-1.7 1-2.3 .7-1 .6-.7 0-.3 .4-.7 0-2.3 1-1.7 .3-.3 .3-1 0-1.3 .7-1 0-1.4 .7-1.3 0-.3 .3-1 0-.4 .3-1.3 0-.3 .4-1 0-.4 .3-2 0-.3 .3-1.7 0-.3 .4-2.3 0-.4 .3-3.6 0-.4 .3z"/><path fill="#0030cc" d="M376.8 410.3l-11.3 0-.3-.3-3.4 0-.3-.3-2.7 0-.3-.4-3.7-.3-.3-.3-1.3 0-.4-.4-1.3 0-.3-.3-1 0-.4-.3-3.6-.7-2.4-1-1 0-1-.7-1 0-1-.6-1.6-.4-1-.6-.7 0-2.7-1.4-.6 0-1.7-1-.7 0-6-3-.6-.6-3-1.4-1.2-.8 7.7-8.7 0-.3 2.3-2.3 0-.4 2.3-2.3 0-.3 2.4-2.4 0-.3 2.3-2.3 0-.4 2.3-2.3 0-.3 2-2 0-.4 2.4-2.3 0-.3 5-5.4 0-.3 2.5-2.8 14-.4 .3-.3 4 0 .3-.3 6-.4 .4-.3 2 0 .3-.3 4.3-.4 .4-.3 1.6 0 .4-.3 1.3 0 .3-.4 1.7 0 .3-.3 1.4 0 .3-.3 3-.4 .3-.3 2.7-.3 .3-.4 1 0 .4-.3 1 0 .3-.3 1 0 .3-.4 1 0 .4-.3 1 0 1.3-.7 2.3-.3 .4-.3 2.6-.7 .4-.3 1 0 .3-.4 .7 0 .3-.3 1.7-.3 .3-.4 2.7-.6 .3-.4 1.7-.3 1.3-.7 .7 0 1-.6 1.6-.4 1-.6 .7 0 1-.7 1.7-.3 1.6-1 .7 0 2.7-1.4 .6 0 2.4-1.3 .6 0 2.4-1.3 .6 0 6.4-3.4 1.3-.3 .7-.7 5.6-2.6 .7-.7 3-1.3 .7-.7 2.3-1 .7-.7 .6-.3 .2 .2 0 .6-3.7 7.4-.6 .6 0 .7-.7 .7 0 .6-.7 .7-1 2 0 .7-.6 .6-11 22.4-.7 .6 0 .7-.7 .7 0 .6-.6 .7-10.7 21.7-1.2 1.1-1 .4-1 1-1 .3-1.6 1.3-6 3-.7 .7-6.7 3.3-2.3 .7-1.7 1-2.3 .7-1 .6-.7 0-.3 .4-.7 0-2.3 1-1.7 .3-.3 .3-1 0-1.3 .7-1 0-1.4 .7-1.3 0-.3 .3-1 0-.4 .3-1.3 0-.3 .4-1 0-.4 .3-2 0-.3 .3-1.7 0-.3 .4-2.3 0-.4 .3-3.6 0-.4 .3z"/><path fill="#0051cc" d="M380.8 410l-1.6 0-.4-.3-3.6-.4-.4-.3-6.6-.3-.4-.4-7 0-.3-.3-.3 .3-.4-.3-6.6 0-.4 .3-1.3 0-.3-.3-1 0-.4-.3-3.6-.7-2.4-1-1 0-1-.7-1 0-1-.6-1.6-.4-2-1-.7 0-1.7-1-.6 0-1.7-1-.7 0-6-3-.6-.6-3-1.4-1.2-.8 7.7-8.7 0-.3 2.3-2.3 0-.4 2.3-2.3 0-.3 2.4-2.4 0-.3 2.3-2.3 0-.4 2.3-2.3 0-.3 2-2 0-.4 2.4-2.3 0-.3 5-5.4 0-.3 2.5-2.8 14-.4 .3-.3 4 0 .3-.3 6-.4 .4-.3 2 0 .3-.3 4.3-.4 .4-.3 1.6 0 .4-.3 1.3 0 .3-.4 1.7 0 .3-.3 1.4 0 .3-.3 3-.4 .3-.3 2.7-.3 .3-.4 1 0 .4-.3 1 0 .3-.3 1 0 .3-.4 1 0 .4-.3 1 0 1.3-.7 2.3-.3 .4-.3 2.6-.7 .4-.3 1 0 .3-.4 .7 0 .3-.3 1.7-.3 .3-.4 2.7-.6 .3-.4 1.7-.3 1.3-.7 .7 0 1-.6 1.6-.4 1-.6 .7 0 1-.7 1.7-.3 1.6-1 .7 0 2.7-1.4 .6 0 2.4-1.3 .6 0 2.4-1.3 .6 0 6.4-3.4 1.3-.3 .7-.7 5.6-2.6 .7-.7 3-1.3 .7-.7 2.3-1 1.3-1 .2 .8-3.7 7.4-.6 .6 0 .7-.7 .7 0 .6-.7 .7-1 2 0 .7-.6 .6-11 22.4-.7 .6 0 .7-.7 .7 0 .6-.6 .7-10.7 21.7-1.2 1.1-1 .4-1 1-1 .3-1.6 1.3-2.4 1-.6 .7-3 1.3-.7 .7-6.7 3.3-2.3 .7-1.7 1-2.3 .7-1 .6-.7 0-.3 .4-.7 0-2.3 1-1.7 .3-.3 .3-1 0-1.3 .7-1 0-1.4 .7-1.3 0-.3 .3-1 0-.4 .3-1.3 0-.3 .4-1 0-.4 .3-2 0-.3 .3-1.7 0-.3 .4-2.3 0-.4 .3z"/><path fill="#0071cc" d="M390.8 408.3l-1.3-.3-.3-.3-1.4 0-.3-.4-1.3 0-.4-.3-1.6 0-.4-.3-1.3 0-.3-.4-4.4-.3-.3-.3-2 0-.3-.4-.4 .4-.3-.4-2 0-.3-.3-4 0-.4-.3-6 0-.3-.4-8.3 0-.4 .4-.3-.4-1 0-.3 .4-5.7 0-.3 .3-3.4 0-.3 .3-.7 0-1-.6-1.6-.4-1-.6-.7 0-2.7-1.4-.6 0-1.7-1-.7 0-6-3-.6-.6-3-1.4-1.2-.8 7.7-8.7 0-.3 2.3-2.3 0-.4 2.3-2.3 0-.3 2.4-2.4 0-.3 2.3-2.3 0-.4 2.3-2.3 0-.3 2-2 0-.4 2.4-2.3 0-.3 5-5.4 0-.3 2.5-2.8 14-.4 .3-.3 4 0 .3-.3 6-.4 .4-.3 2 0 .3-.3 4.3-.4 .4-.3 1.6 0 .4-.3 1.3 0 .3-.4 1.7 0 .3-.3 1.4 0 .3-.3 3-.4 .3-.3 2.7-.3 .3-.4 1 0 .4-.3 1 0 .3-.3 1 0 .3-.4 1 0 .4-.3 1 0 1.3-.7 2.3-.3 .4-.3 2.6-.7 .4-.3 1 0 .3-.4 .7 0 .3-.3 1.7-.3 .3-.4 2.7-.6 .3-.4 1.7-.3 1.3-.7 .7 0 1-.6 1.6-.4 1-.6 .7 0 1-.7 1.7-.3 1.6-1 .7 0 2.7-1.4 .6 0 2.4-1.3 .6 0 2.4-1.3 .6 0 6.4-3.4 1.3-.3 .7-.7 5.6-2.6 .7-.7 3-1.3 .7-.7 2.3-1 1.3-1 .2 .8-3.7 7.4-.6 .6 0 .7-.7 .7 0 .6-.7 .7-1 2 0 .7-.6 .6-11 22.4-.7 .6 0 .7-.7 .7 0 .6-.6 .7-10.7 21.7-1.2 1.1-1 .4-1 1-1 .3-1.6 1.3-2.4 1-.6 .7-3 1.3-.7 .7-6.7 3.3-.6 0-3.4 1.7-.6 0-1 .7-.7 0-1 .6-.7 0-.3 .4-2.7 .6-.3 .4-1.7 .3-.3 .3-1 0-1.3 .7-1 0-1.4 .7-2.6 .3-.4 .3z"/><path fill="#0091cc" d="M398.5 406.3l-.7 0-1.3-.6-1 0-.3-.4-1 0-1.4-.6-1.3 0-.3-.4-1 0-.4-.3-3.3-.3-.3-.4-1 0-.4-.3-4.3-.3-.3-.4-1.7 0-.3-.3-2.7 0-.3-.3-2.7 0-.3-.4-3 0-.4-.3-6 0-.3-.3-.3 .3-.4-.3-11 0-.3 .3-5.3 0-.4 .3-6.6 .4-.4 .3-1.6 0-.4 .3-1.3 0-.3 .4-2.7-1.4-.7 0-6-3-.6-.6-3-1.4-1.2-.8 7.7-8.7 0-.3 2.3-2.3 0-.4 2.3-2.3 0-.3 2.4-2.4 0-.3 2.3-2.3 0-.4 2.3-2.3 0-.3 2-2 0-.4 2.4-2.3 0-.3 5-5.4 0-.3 2.5-2.8 14-.4 .3-.3 4 0 .3-.3 6-.4 .4-.3 2 0 .3-.3 4.3-.4 .4-.3 1.6 0 .4-.3 1.3 0 .3-.4 1.7 0 .3-.3 1.4 0 .3-.3 3-.4 .3-.3 2.7-.3 .3-.4 1 0 .4-.3 1 0 .3-.3 1 0 .3-.4 1 0 .4-.3 1 0 1.3-.7 2.3-.3 .4-.3 2.6-.7 .4-.3 1 0 .3-.4 .7 0 .3-.3 1.7-.3 .3-.4 2.7-.6 .3-.4 1.7-.3 1.3-.7 .7 0 1-.6 1.6-.4 1-.6 .7 0 1-.7 1.7-.3 1.6-1 .7 0 2.7-1.4 .6 0 2.4-1.3 .6 0 2.4-1.3 .6 0 6.4-3.4 1.3-.3 .7-.7 5.6-2.6 .7-.7 3-1.3 .7-.7 2.3-1 1.3-1 .2 .8-3.7 7.4-.6 .6 0 .7-.7 .7 0 .6-.7 .7-1 2 0 .7-.6 .6-11 22.4-.7 .6 0 .7-.7 .7 0 .6-.6 .7-10.7 21.7-1.2 1.1-1 .4-1 1-1 .3-1.6 1.3-2.4 1-.6 .7-3 1.3-.7 .7-6.7 3.3-.6 0-3.4 1.7-2.3 .7-1 .6-.7 0-.3 .4-.7 0-2.3 1-1.7 .3-.3 .3z"/><path fill="#00b0cc" d="M404.5 404.3l-.7 0-1-.6-.6 0-1.4-.7-1 0-1.3-.7-2.3-.3-.4-.3-3.6-.7-.4-.3-1.3 0-.3-.4-1 0-.4-.3-1.3 0-.3-.3-1.7 0-.3-.4-1.7 0-.3-.3-1.7 0-.3-.3-2.4 0-.3-.4-2.3 0-.4-.3-6.6-.3-.4-.4-4 0-.3-.3-15.7 0-.3 .3-4.3 0-.4 .4-3 0-.3 .3-5 .3-.3 .4-1.7 0-.3 .3-.4-.3-.3 .3-1.3 0-.4 .3-1.6 0-1 .7-8.2-4.5 7.7-8.7 0-.3 2.3-2.3 0-.4 2.3-2.3 0-.3 2.4-2.4 0-.3 2.3-2.3 0-.4 2.3-2.3 0-.3 2-2 0-.4 2.4-2.3 0-.3 5-5.4 0-.3 2.5-2.8 14-.4 .3-.3 4 0 .3-.3 6-.4 .4-.3 2 0 .3-.3 4.3-.4 .4-.3 1.6 0 .4-.3 1.3 0 .3-.4 1.7 0 .3-.3 1.4 0 .3-.3 3-.4 .3-.3 2.7-.3 .3-.4 1 0 .4-.3 1 0 .3-.3 1 0 .3-.4 1 0 .4-.3 1 0 1.3-.7 2.3-.3 .4-.3 2.6-.7 .4-.3 1 0 .3-.4 .7 0 .3-.3 1.7-.3 .3-.4 2.7-.6 .3-.4 1.7-.3 1.3-.7 .7 0 1-.6 1.6-.4 1-.6 .7 0 1-.7 1.7-.3 1.6-1 .7 0 2.7-1.4 .6 0 2.4-1.3 .6 0 2.4-1.3 .6 0 6.4-3.4 1.3-.3 .7-.7 5.6-2.6 .7-.7 3-1.3 .7-.7 2.3-1 1.3-1 .2 .8-3.7 7.4-.6 .6 0 .7-.7 .7 0 .6-.7 .7-1 2 0 .7-.6 .6-11 22.4-.7 .6 0 .7-.7 .7 0 .6-.6 .7-10.7 21.7-1.2 1.1-1 .4-1 1-1 .3-1.6 1.3-2.4 1-.6 .7-3 1.3-.7 .7-6.7 3.3-2.3 .7-1.7 1-2.3 .7-1 .6z"/><path fill="#00ccc8" d="M409.2 402.3l-1.7-1-.7 0-1.3-.6-1 0-1-.7-.7 0-1.3-.7-1 0-1.3-.6-1 0-.4-.4-1 0-.3-.3-2.3-.3-.4-.4-1 0-.3-.3-1.3 0-.4-.3-1.3 0-.3-.4-1.4 0-.3-.3-1.7 0-.3-.3-1.3 0-.4-.4-1.6 0-.4-.3-2.3 0-.3-.3-2 0-.4-.4-2.3 0-.3-.3-8-.3-.4-.4-19 0-.3 .4-4.3 0-.4 .3-5.3 .3-.3 .4-1.7 0-.3 .3-3.7 .3-.3 .4-1.4 0-.3 .3-1.3 0-.4 .3-1.3 0-.3 .4-1 0-.4 .3-1.3 0-2.5-1.5 7.7-8.7 0-.3 2.3-2.3 0-.4 2.3-2.3 0-.3 2.4-2.4 0-.3 2.3-2.3 0-.4 2.3-2.3 0-.3 2-2 0-.4 2.4-2.3 0-.3 5-5.4 0-.3 2.5-2.8 14-.4 .3-.3 4 0 .3-.3 6-.4 .4-.3 2 0 .3-.3 4.3-.4 .4-.3 1.6 0 .4-.3 1.3 0 .3-.4 1.7 0 .3-.3 1.4 0 .3-.3 3-.4 .3-.3 2.7-.3 .3-.4 1 0 .4-.3 1 0 .3-.3 1 0 .3-.4 1 0 .4-.3 1 0 1.3-.7 2.3-.3 .4-.3 2.6-.7 .4-.3 1 0 .3-.4 .7 0 .3-.3 1.7-.3 .3-.4 2.7-.6 .3-.4 1.7-.3 1.3-.7 .7 0 1-.6 1.6-.4 1-.6 .7 0 1-.7 1.7-.3 1.6-1 .7 0 2.7-1.4 .6 0 2.4-1.3 .6 0 2.4-1.3 .6 0 6.4-3.4 1.3-.3 .7-.7 5.6-2.6 .7-.7 3-1.3 .7-.7 2.3-1 1.3-1 .2 .8-3.7 7.4-.6 .6 0 .7-.7 .7 0 .6-.7 .7-1 2 0 .7-.6 .6-11 22.4-.7 .6 0 .7-.7 .7 0 .6-.6 .7-10.7 21.7-1.2 1.1-1 .4-1 1-1 .3-1.6 1.3-6 3-.7 .7-6.7 3.3-.6 0-2 1z"/><path fill="#00cca9" d="M413.8 400.3l-.6-.6-.7 0-1.7-1-2.6-.7-1-.7-.7 0-.3-.3-3.7-1-.3-.3-1 0-1.4-.7-1 0-.3-.3-1 0-.3-.4-2.4-.3-.3-.3-1.3 0-.4-.4-2.6-.3-.4-.3-1 0-.3-.4-2 0-.3-.3-1.4 0-.3-.3-1.7 0-.3-.4-2 0-.3-.3-2 0-.4-.3-2.3 0-.3-.4-6.7-.3-.3-.3-5 0-.4-.4-.6 .4-.4-.4-13 0-.3 .4-4.7 0-.3 .3-3 0-.3 .3-2.7 0-.3 .4-1.7 0-.3 .3-2 0-.4 .3-1.6 0-.4 .4-1.3 0-.3 .3-2.7 .3-.3 .4-1.4 0-.3 .3-1 0-.3 .3-1.2-.1 5.7-6.4 0-.3 2.3-2.3 0-.4 2.3-2.3 0-.3 2.4-2.4 0-.3 2.3-2.3 0-.4 2.3-2.3 0-.3 4.4-4.7 0-.3 5-5.4 0-.3 2.5-2.8 14-.4 .3-.3 4 0 .3-.3 6-.4 .4-.3 2 0 .3-.3 4.3-.4 .4-.3 1.6 0 .4-.3 1.3 0 .3-.4 1.7 0 .3-.3 1.4 0 .3-.3 3-.4 .3-.3 2.7-.3 .3-.4 1 0 .4-.3 1 0 .3-.3 1 0 .3-.4 1 0 .4-.3 1 0 1.3-.7 2.3-.3 .4-.3 2.6-.7 .4-.3 1 0 .3-.4 .7 0 .3-.3 1.7-.3 .3-.4 2.7-.6 .3-.4 1.7-.3 1.3-.7 .7 0 1-.6 1.6-.4 1-.6 .7 0 1-.7 1.7-.3 1.6-1 .7 0 2.7-1.4 .6 0 2.4-1.3 .6 0 2.4-1.3 .6 0 6.4-3.4 1.3-.3 .7-.7 5.6-2.6 .7-.7 3-1.3 .7-.7 2.3-1 1.3-1 .2 .8-3.7 7.4-.6 .6 0 .7-.7 .7 0 .6-.7 .7-1 2 0 .7-.6 .6-11 22.4-.7 .6 0 .7-.7 .7 0 .6-.6 .7-10.7 21.7-1.2 1.1-1 .4-1 1-1 .3-1.6 1.3-2.4 1-.6 .7-3 1.3-.7 .7-4.7 2.3zM321.8 393.7l0-.4 0 .4z"/><path fill="#00cc8b" d="M417.8 398.3l-.3-.6-2.7-1.4-2.3-.6-1.7-1-.6 0-1-.7-.7 0-1.3-.7-1 0-1-.6-1 0-1.4-.7-1 0-1.3-.7-2.3-.3-.4-.3-3.6-.7-.4-.3-1.3 0-.3-.4-1 0-.4-.3-1.6 0-.4-.3-1.3 0-.3-.4-1.4 0-.3-.3-4-.3-.3-.4-2 0-.4-.3-2.3 0-.3-.3-2.7 0-.3-.4-7.4-.3-.3-.3-5.7 0-.3-.4-.3 .4-.4-.4-.3 .4-.3-.4-.4 .4-.3-.4-6.7 0-.3 .4-6 0-.3 .3-3.7 0-.3 .3-2 0-.4 .4-2.3 0-.3 .3-3.7 .3-.3 .4-3 .3-.4 .3-1.5-.1 6-6.7 0-.3 2.4-2.4 0-.3 2.3-2.3 0-.4 2.3-2.3 0-.3 4.4-4.7 0-.3 5-5.4 0-.3 2.5-2.8 14-.4 .3-.3 4 0 .3-.3 6-.4 .4-.3 2 0 .3-.3 4.3-.4 .4-.3 1.6 0 .4-.3 1.3 0 .3-.4 1.7 0 .3-.3 1.4 0 .3-.3 3-.4 .3-.3 2.7-.3 .3-.4 1 0 .4-.3 1 0 .3-.3 1 0 .3-.4 1 0 .4-.3 1 0 1.3-.7 2.3-.3 .4-.3 2.6-.7 .4-.3 1 0 .3-.4 .7 0 .3-.3 1.7-.3 .3-.4 2.7-.6 .3-.4 1.7-.3 1.3-.7 .7 0 1-.6 1.6-.4 1-.6 .7 0 1-.7 1.7-.3 1.6-1 .7 0 2.7-1.4 .6 0 2.4-1.3 .6 0 2.4-1.3 .6 0 6.4-3.4 1.3-.3 .7-.7 5.6-2.6 .7-.7 3-1.3 .7-.7 2.3-1 1.3-1 .2 .8-3.7 7.4-.6 .6 0 .7-.7 .7 0 .6-.7 .7-1 2 0 .7-.6 .6-11 22.4-.7 .6 0 .7-.7 .7 0 .6-.6 .7-10.7 21.7-1.2 1.1-1 .4-1 1-1 .3-1.6 1.3-6 3-1.4 1zM326.2 388.7l0-.4 0 .4z"/><path fill="#00cc6d" d="M422.2 396l-5.7-3-.7 0-3.3-1.7-1.7-.3-1-.7-3.6-1-.4-.3-1 0-1.3-.7-1 0-2.3-1-2.7-.3-1.3-.7-1.4 0-.3-.3-2.7-.3-.3-.4-1.3 0-.4-.3-1.6 0-.4-.3-1 0-.3-.4-2 0-.3-.3-4-.3-.4-.4-1.6 0-.4-.3-5.6-.3-.4-.4-2.6 0-.4-.3-4.3 0-.3-.3-7 0-.4-.4-.3 .4-.3-.4-1.7 0-2.7 0-.3 .4-.3-.4-.7 0-.3 .4-6.4 0-.3 .3-3.3 0-.4 .3-2.6 0-.4 .4-1.6 0-.4 .3-1.6 0-.4 .3-1.6 0-.4 .4-.5-.2 9-10 0-.3 4.4-4.7 0-.3 5-5.4 0-.3 2.5-2.8 14-.4 .3-.3 4 0 .3-.3 6-.4 .4-.3 2 0 .3-.3 4.3-.4 .4-.3 1.6 0 .4-.3 1.3 0 .3-.4 1.7 0 .3-.3 1.4 0 .3-.3 3-.4 .3-.3 2.7-.3 .3-.4 1 0 .4-.3 1 0 .3-.3 1 0 .3-.4 1 0 .4-.3 1 0 1.3-.7 2.3-.3 .4-.3 2.6-.7 .4-.3 1 0 .3-.4 .7 0 .3-.3 1.7-.3 .3-.4 2.7-.6 .3-.4 1.7-.3 1.3-.7 .7 0 1-.6 1.6-.4 1-.6 .7 0 1-.7 1.7-.3 1.6-1 .7 0 2.7-1.4 .6 0 2.4-1.3 .6 0 2.4-1.3 .6 0 6.4-3.4 1.3-.3 .7-.7 5.6-2.6 .7-.7 3-1.3 .7-.7 2.3-1 1.3-1 .2 .8-3.7 7.4-.6 .6 0 .7-.7 .7 0 .6-.7 .7-1 2 0 .7-.6 .6-11 22.4-.7 .6 0 .7-.7 .7 0 .6-.6 .7-10.7 21.7-1.2 1.1-1 .4-1 1-1 .3-1.6 1.3-2.4 1-.6 .7z"/><path fill="#00cc4f" d="M425.5 394l-1-1-1.7-.7-.6-.6-4-2-.7 0-1.7-1-2.3-.7-1-.7-.7 0-.3-.3-.7 0-.3-.3-4.7-1.4-.3-.3-1 0-1.3-.7-3.7-.6-1.3-.7-1.4 0-1.3-.7-3-.3-.3-.3-1 0-.4-.4-1.3 0-.3-.3-3.7-.3-.3-.4-1.4 0-.3-.3-4-.3-.3-.4-2.4 0-.3-.3-2.3 0-.4-.3-2 0-.3-.4-7.3-.3-.4-.3-5 0-.3-.4-.7 .4-.3-.4-11 0-.3 .4-4.4 0-.3 .3-2.7 0-.3 .3-2.7 0-.3 .4-.8-.2 2.3-2.3 0-.4 2.3-2.3 0-.3 7-7.7 0-.3 2.4-2.4 0-.3 2.5-2.8 14-.4 .3-.3 4 0 .3-.3 6-.4 .4-.3 2 0 .3-.3 4.3-.4 .4-.3 1.6 0 .4-.3 1.3 0 .3-.4 1.7 0 .3-.3 1.4 0 .3-.3 3-.4 .3-.3 2.7-.3 .3-.4 1 0 .4-.3 1 0 .3-.3 1 0 .3-.4 1 0 .4-.3 1 0 1.3-.7 2.3-.3 .4-.3 2.6-.7 .4-.3 1 0 .3-.4 .7 0 .3-.3 1.7-.3 .3-.4 2.7-.6 .3-.4 1.7-.3 1.3-.7 .7 0 1-.6 1.6-.4 1-.6 .7 0 1-.7 1.7-.3 1.6-1 .7 0 2.7-1.4 .6 0 2.4-1.3 .6 0 2.4-1.3 .6 0 6.4-3.4 1.3-.3 .7-.7 5.6-2.6 .7-.7 3-1.3 .7-.7 2.3-1 1.3-1 .2 .8-3.7 7.4-.6 .6 0 .7-.7 .7 0 .6-.7 .7-1 2 0 .7-.6 .6-11 22.4-.7 .6 0 .7-.7 .7 0 .6-.6 .7-10.7 21.7-1.2 1.1-1 .4-1 1-1 .3-1.3 1z"/><path fill="#00cc31" d="M429.2 391.7l-1.4-.7-2.6-2-.7 0-.7-.7-1.6-.6-.7-.7-.7 0-3-1.7-1.6-.3-1-.7-1.7-.3-1-.7-.7 0-.3-.3-.7 0-2.3-1-1 0-2.3-1-1 0-1.4-.7-1 0-1.3-.6-1.3 0-.4-.4-1 0-.3-.3-1 0-.3-.3-1 0-.4-.4-1.3 0-.3-.3-1.4 0-.3-.3-1.3 0-.4-.4-1.3 0-.3-.3-3-.3-.4-.4-2 0-.3-.3-1.3 0-.4-.3-2 0-.3-.4-1.7 0-.3-.3-2.3 0-.4-.3-2.3 0-.3-.4-2.7 0-.3-.3-2.7 0-.3-.3-3.7 0-.3-.4-7 0-.4-.3-.3 .3-.3-.3-5.7 0-.3 .3-6 0-.4 .4-1.3 0-.2-.5 7-7.7 0-.3 2.4-2.4 0-.3 2.5-2.8 14-.4 .3-.3 4 0 .3-.3 6-.4 .4-.3 2 0 .3-.3 4.3-.4 .4-.3 1.6 0 .4-.3 1.3 0 .3-.4 1.7 0 .3-.3 1.4 0 .3-.3 3-.4 .3-.3 2.7-.3 .3-.4 1 0 .4-.3 1 0 .3-.3 1 0 .3-.4 1 0 .4-.3 1 0 1.3-.7 2.3-.3 .4-.3 2.6-.7 .4-.3 1 0 .3-.4 .7 0 .3-.3 1.7-.3 .3-.4 2.7-.6 .3-.4 1.7-.3 1.3-.7 .7 0 1-.6 1.6-.4 1-.6 .7 0 1-.7 1.7-.3 1.6-1 .7 0 2.7-1.4 .6 0 2.4-1.3 .6 0 2.4-1.3 .6 0 6.4-3.4 1.3-.3 .7-.7 5.6-2.6 .7-.7 3-1.3 .7-.7 2.3-1 1.3-1 .2 .8-3.7 7.4-.6 .6 0 .7-.7 .7 0 .6-.7 .7-1 2 0 .7-.6 .6-11 22.4-.7 .6 0 .7-.7 .7 0 .6-.6 .7-10.7 21.7-1.8 1.5z"/><path fill="#00cc15" d="M431.5 389l-1-1-2-1-1.7-1.3-1-.4-.6-.6-.7 0-1.3-1-.7 0-4.7-2.4-1.6-.3-1-.7-2.7-.6-2-1-1 0-1-.7-.3 .3-1-.6-1 0-1.4-.7-1 0-1.3-.7-1 0-.3-.3-3.7-.7-.3-.3-3-.3-1.4-.7-1.3 0-.3-.3-1.4 0-.3-.4-1.3 0-.4-.3-1.3 0-.3-.3-1.4 0-.3-.4-1.7 0-.3-.3-1.7 0-.3-.3-3.7-.4-.3-.3-2 0-.3-.3-4.7-.4-.3-.3-5.4-.3-.3-.4-3.3 0-.4-.3-4.6 0-.4-.3-11 0-.1-.5 2.6-2.7 0-.3 2.4-2.4 0-.3 2.5-2.8 14-.4 .3-.3 4 0 .3-.3 6-.4 .4-.3 2 0 .3-.3 4.3-.4 .4-.3 1.6 0 .4-.3 1.3 0 .3-.4 1.7 0 .3-.3 1.4 0 .3-.3 3-.4 .3-.3 2.7-.3 .3-.4 1 0 .4-.3 1 0 .3-.3 1 0 .3-.4 1 0 .4-.3 1 0 1.3-.7 2.3-.3 .4-.3 2.6-.7 .4-.3 1 0 .3-.4 .7 0 .3-.3 1.7-.3 .3-.4 2.7-.6 .3-.4 1.7-.3 1.3-.7 .7 0 1-.6 1.6-.4 1-.6 .7 0 1-.7 1.7-.3 1.6-1 .7 0 2.7-1.4 .6 0 2.4-1.3 .6 0 2.4-1.3 .6 0 6.4-3.4 1.3-.3 .7-.7 5.6-2.6 .7-.7 3-1.3 .7-.7 2.3-1 1.3-1 .2 .8-3.7 7.4-.6 .6 0 .7-.7 .7 0 .6-.7 .7-1 2 0 .7-.6 .6-11 22.4-.7 .6 0 .7-.7 .7 0 .6-.6 .7-10.2 20.5z"/><path fill="#08cc00" d="M433.2 385.7l-4-3-1.7-.7-.7-.7-.6 0-1.4-.6-.6-.7-.7 0-1.7-1-.6 0-3.4-1.7-2.6-.6-1-.7-.7 0-.3-.3-3.7-1-.3-.4-1 0-2.4-1-1.3 0-2.3-1-1 0-.4-.3-1 0-.3-.3-1.3 0-1.4-.7-3-.3-.3-.4-1 0-.3-.3-1 0-.4-.3-1.3 0-.3-.4-1.4 0-.3-.3-3-.3-.3-.4-1 0-.4-.3-1.6 0-.4-.3-3.6-.4-.4-.3-3.3-.3-.3-.4-2 0-.4-.3-2 0-.3-.3-2.3 0-.4-.4-2 0-.3-.3-2.3 0-.4-.3-6.6-.4-.4-.3-4 0-.3-.3-1.5-.2 3.2-3.8 14-.4 .3-.3 4 0 .3-.3 3 0 .4-.4 2.6 0 .4-.3 2 0 .3-.3 4.3-.4 .4-.3 1.6 0 .4-.3 3.3-.4 .3-.3 1.4 0 .3-.3 3-.4 .3-.3 1 0 .4-.3 1.3 0 .3-.4 1 0 .4-.3 1 0 .3-.3 1 0 .3-.4 1 0 .4-.3 1 0 1.3-.7 2.3-.3 .4-.3 2.6-.7 .4-.3 1 0 .3-.4 .7 0 .3-.3 1.7-.3 .3-.4 2.7-.6 .3-.4 1.7-.3 1.3-.7 .7 0 1-.6 1.6-.4 1-.6 .7 0 1-.7 1.7-.3 1.6-1 .7 0 2.7-1.4 .6 0 5.4-2.6 .6 0 14-7 .7-.7 3-1.3 .7-.7 2.3-1 1.3-1 .2 .8-3.7 7.4-.6 .6 0 .7-.7 .7 0 .6-.7 .7-1 2 0 .7-.6 .6-11 22.4-.7 .6 0 .7-.7 .7 0 .6-.6 .7-8.5 17.2z"/><path fill="#23cc00" d="M434.8 382l-3.3-2-.7-.7-1.6-.6-.7-.7-.7 0-1.3-.7-.7-.6-.6 0-.7-.7-1.7-.3-4-2-.6 0-.4-.4-1.6-.3-1.4-.7-.6 0-1.4-.6-3.6-1-.4-.4-1 0-1.3-.6-2-.4-.3-.3-1 0-.4-.3-3.6-.7-1.4-.7-1.3 0-1.3-.6-1.4 0-.3-.4-1.3 0-.4-.3-2.3-.3-.3-.4-2.7-.3-.3-.3-3.4-.4-.3-.3-1 0-.3-.3-3-.4-.4-.3-1.6 0-.4-.3-1.3 0-.3-.4-1.4 0-.3-.3-1.7 0-.3-.3-1.7 0-.3-.4-1.3 0-.4-.3-1.6 0-.4-.3-3.6-.4-.4-.3-1.6 0-.9-.5 11.2-.5 .3-.3 3 0 .4-.4 2.6 0 .4-.3 2 0 .3-.3 4.3-.4 .4-.3 1.6 0 .4-.3 1.3 0 .3-.4 1.7 0 .3-.3 1.4 0 .3-.3 3-.4 .3-.3 2.7-.3 .3-.4 1 0 .4-.3 1 0 .3-.3 1 0 .3-.4 1 0 .4-.3 1 0 1.3-.7 2.3-.3 .4-.3 2.6-.7 .4-.3 1 0 .3-.4 .7 0 .3-.3 1.7-.3 .3-.4 2.7-.6 .3-.4 1.7-.3 1.3-.7 .7 0 1-.6 1.6-.4 1-.6 .7 0 1-.7 1.7-.3 1.6-1 .7 0 2.7-1.4 .6 0 2.4-1.3 .6 0 2.4-1.3 .6 0 6.4-3.4 1.3-.3 .7-.7 5.6-2.6 .7-.7 3-1.3 .7-.7 2.3-1 1.3-1 .2 .8-3.7 7.4-.6 .6 0 .7-.7 .7 0 .6-.7 .7-1 2 0 .7-.6 .6-11 22.4-.7 .6 0 .7-.7 .7 0 .6-.6 .7-6.4 13-.5 .5z"/><path fill="#3ecc00" d="M436.5 378.7l-1.3-.7-1-1-2.7-1.3-.7-.7-.6 0-.7-.7-1.3-.3-.7-.7-1.3-.6-.7 0-1.7-1-1.6-.4-.7-.6-1 0-1.7-1-2-.4-1.6-1-1 0-1.4-.6-2.6-.7-.4-.3-1 0-1.3-.7-1 0-1.3-.7-2-.3-.4-.3-1 0-.3-.4-3.7-.6-1.3-.7-1.3 0-1.4-.7-1.3 0-.3-.3-1 0-.4-.3-1 0-.3-.4-1.3 0-.4-.3-2.3-.3-.3-.4-1.4 0-.3-.3-1 0-.3-.3-1.4 0-.3-.4-1 0-.3-.3-3-.3-.2-.5 2.2-.2 .3-.3 2 0 .3-.4 2 0 .4-.3 1.6 0 .4-.3 3.3-.4 .3-.3 1.4 0 .3-.3 3-.4 .3-.3 1 0 .4-.3 1.3 0 .3-.4 1 0 .4-.3 1 0 .3-.3 1 0 .3-.4 1 0 .4-.3 1 0 1.3-.7 2.3-.3 .4-.3 2.6-.7 .4-.3 1 0 .3-.4 .7 0 .3-.3 1.7-.3 .3-.4 2.7-.6 .3-.4 1.7-.3 1.3-.7 .7 0 1-.6 1.6-.4 2.7-1.3 1.7-.3 1.6-1 1.7-.4 4.7-2.3 .6 0 2.4-1.3 .6 0 14-7 .7-.7 3-1.3 .7-.7 2.3-1 1.3-1 .2 .8-3.7 7.4-.6 .6 0 .7-.7 .7 0 .6-.7 .7-1 2 0 .7-.6 .6-11 22.4-.7 .6 0 .7-.7 .7 0 .6-.6 .7-4.7 9.7-.5 .5z"/><path fill="#59cc00" d="M438.2 375.3l-3.4-2.3-1.6-.7-.7-.6-4-2-.7 0-3-1.7-1.6-.3-1-.7-1.7-.3-1-.7-1.7-.3-1-.7-1 0-1-.7-1.6-.3-2.4-1-1 0-1.3-.7-1 0-1.3-.6-1 0-.4-.4-2-.3-1.3-.7-1 0-.3-.3-3.7-.7-1.3-.6-1 0-.4-.4-1 0-.3-.3-1 0-.3-.3-3.7-.7-.8-.5 1.8-.2 .3-.3 1.4 0 .3-.3 1.3 0 .4-.4 1.3 0 .3-.3 1 0 .4-.3 1.3 0 .3-.4 1 0 .4-.3 1 0 .3-.3 1 0 .3-.4 1 0 .4-.3 1 0 1.3-.7 2.3-.3 .4-.3 .6 0 2.4-1 1 0 .3-.4 .7 0 .3-.3 1.7-.3 .3-.4 2.7-.6 .3-.4 1.7-.3 1.3-.7 .7 0 1-.6 1.6-.4 1-.6 .7 0 1-.7 1.7-.3 1.6-1 .7 0 2.7-1.4 .6 0 2.4-1.3 .6 0 2.4-1.3 .6 0 6.4-3.4 .6 0 1.4-1 5.6-2.6 .7-.7 3-1.3 .7-.7 2.3-1 1.3-1 .2 .8-3.7 7.4-.6 .6 0 .7-.7 .7 0 .6-.7 .7-1 2 0 .7-.6 .6-11 22.4-.7 .6 0 .7-.7 .7 0 .6-.6 .7-3 6.3-.5 .5z"/><path fill="#73cc00" d="M439.8 372l-2.6-2-2.4-1-.6-.7-4-2-.7 0-.7-.6-1.3-.4-1.7-1-1.6-.3-1-.7-.7 0-2-1-1.7-.3-1-.7-2-.3-2-1-1 0-.3-.3-1.7-.4-2.3-1-1 0-1.3-.6-1 0-1.4-.7-1 0-1.3-.7-1 0-1.3-.6-1 0-.4-.4-1 0-1.1-.5 1.1-.5 1 0 .4-.3 1 0 .3-.3 1 0 .3-.4 1 0 .4-.3 1 0 1.3-.7 2.3-.3 .4-.3 2.6-.7 .4-.3 1 0 .3-.4 .7 0 .3-.3 1.7-.3 .3-.4 2.7-.6 .3-.4 1.7-.3 1.3-.7 .7 0 1-.6 1.6-.4 2.7-1.3 1.7-.3 1.6-1 1.7-.4 4.7-2.3 .6 0 2.4-1.3 .6 0 6.4-3.4 1.3-.3 .7-.7 5.6-2.6 .7-.7 3-1.3 .7-.7 2.3-1 1.3-1 .2 .8-3.7 7.4-.6 .6 0 .7-.7 .7 0 .6-.7 .7-1 2 0 .7-.6 .6-11 22.4-.7 .6 0 .7-.7 .7 0 .6-.6 .7-1.4 3-.5 .5z"/><path fill="#8dcc00" d="M441.5 368.7l-1-1-3.3-1.7-.7-.7-6.7-3.3-2.3-.7-1.7-1-.6 0-1-.6-2.7-.7-1-.7-2.7-.6-1-.7-1 0-.3-.3-2.7-.7-.3-.3-2.7-.7-.3-.3-1 0-.3-.4-.7 0-2.3-1-1 0-.9-.5 1.2-.5 1 0 .3-.3 1 0 .4-.3 2.6-.7 .4-.3 1 0 .3-.4 .7 0 .3-.3 1.7-.3 .3-.4 2.7-.6 .3-.4 1.7-.3 1.3-.7 .7 0 1-.6 1.6-.4 2.7-1.3 1.7-.3 1.6-1 1.7-.4 4.7-2.3 .6 0 2.4-1.3 .6 0 6.4-3.4 1.3-.3 .7-.7 5.6-2.6 .7-.7 3-1.3 .7-.7 2.3-1 1.3-1 .2 .8-3.7 7.4-.6 .6 0 .7-.7 .7 0 .6-.7 .7-1 2 0 .7-.6 .6-11 22.4-.7 .6 0 .7-.7 .7 0 .6-.8 .9z"/><path fill="#a6cc00" d="M443.5 365.3l-1.3-.6-.7-.7-1-.3-.7-.7-1-.3-.6-.7-6-3-.7 0-2.3-1.3-.7 0-2.7-1.4-.6 0-1-.6-1.7-.4-1-.6-3.7-1-2-1-1 0-.3-.4-1.7-.3-2.8-1.2 2.2-.5 .3-.3 1.7-.3 .3-.4 2.7-.6 .3-.4 1.7-.3 1.3-.7 .7 0 1-.6 1.6-.4 1-.6 .7 0 1-.7 1.7-.3 1.6-1 .7 0 2.7-1.4 .6 0 2.4-1.3 .6 0 2.4-1.3 .6 0 6.4-3.4 1.3-.3 .7-.7 5.6-2.6 .7-.7 3-1.3 .7-.7 2.3-1 1.3-1 .2 .8-3.7 7.4-.6 .6 0 .7-.7 .7 0 .6-.7 .7-1 2 0 .7-.6 .6-11.2 22.5z"/><path fill="#bfcc00" d="M445.2 362l-2.4-1.7-1-.3-.6-.7-5-2.3-.7-.7-.7 0-2.3-1.3-.7 0-4-2-1 0-.6-.7-4.7-1.3-1-.7-2.7-.6-1.5-.9 1.9-.5 .3-.3 .7 0 .3-.3 .7 0 .3-.4 .7 0 1-.6 1.6-.4 2.7-1.3 1.7-.3 1.6-1 1.7-.4 4.7-2.3 .6 0 2.4-1.3 .6 0 14-7 .7-.7 3-1.3 .7-.7 2.3-1 1.3-1 .2 .8-3.7 7.4-.6 .6 0 .7-.7 .7 0 .6-.7 .7-1 2 0 .7-.6 .6-9.5 19.2z"/><path fill="#ccc800" d="M446.8 358.7l-.6-.7-2.7-1.3-1.7-1.4-.6 0-1.4-1-2-.6-.6-.7-.7 0-5.3-2.7-1.7-.3-1-.7-.7 0-1-.6-1.6-.4-1.7-1-.7 0-.8-.5 1.8-.5 1-.6 .7 0 1-.7 1.7-.3 1.6-1 1.7-.4 4.7-2.3 .6 0 2.4-1.3 .6 0 14-7 .7-.7 3-1.3 .7-.7 2.3-1 1.3-1 .2 .8-3.7 7.4-.6 .6 0 .7-.7 .7 0 .6-.7 .7-1 2 0 .7-.6 .6-7.9 15.9z"/><path fill="#ccb800" d="M448.5 355.3l-2.7-2-1.6-.6-.7-.7-.7 0-.6-.7-2-1-.7 0-1.3-1-.7 0-2.3-1.3-2.4-.7-1.6-1-.7 0-3.2-1.5 .9-.1 1.6-1 1.7-.4 1.7-1 .6 0 2.4-1.3 .6 0 2.4-1.3 .6 0 6.4-3.4 .6 0 1.4-1 5.6-2.6 .7-.7 3-1.3 .7-.7 2.3-1 1.3-1 .2 .8-3.7 7.4-.6 .6 0 .7-.7 .7 0 .6-.7 .7-1 2 0 .7-.6 .6-6.2 12.5z"/><path fill="#cca400" d="M450.2 352l-1-1-1-.3-2.4-1.7-.6 0-.7-.7-4.7-2.3-.6 0-.7-.7-2.3-.6-3.9-1.9 .9-.5 .6 0 2.4-1.3 .6 0 2.4-1.3 .6 0 6.4-3.4 1.3-.3 .7-.7 5.6-2.6 .7-.7 3-1.3 .7-.7 2.3-1 1.3-1 .2 .8-3.7 7.4-.6 .6 0 .7-.7 .7 0 .6-.7 .7-1 2 0 .7-.6 .6-4.5 9.2z"/><path fill="#cc8f00" d="M451.8 348.3l-2-1-.6-.6-1-.4-.7-.6-.7 0-.6-.7-8.9-4.2 .5-.5 1.4-.6 .6 0 6.4-3.4 1.3-.3 .7-.7 5.6-2.6 .7-.7 3-1.3 .7-.7 2.3-1 1.3-1 .2 .8-3.7 7.4-.6 .6 0 .7-.7 .7 0 .6-.7 .7-1 2 0 .7-.6 .6-2.4 5-.5 .5z"/><path fill="#cc7700" d="M453.5 345l-.3 0-1.7-1.3-1.7-.7-.6-.7-7-3.3-.2-.5 4.2-2.2 .6 0 1.4-1 5.6-2.6 .7-.7 3-1.3 .7-.7 2.3-1 1.3-1 .2 .8-3.7 7.4-.6 .6 0 .7-.7 .7 0 .6-.7 .7-1 2 0 .7-.6 .6-.7 1.7-.5 .5z"/><path fill="#cc5f00" d="M455.2 341.7l-1.4-1-1-.4-.6-.6-3.7-1.7-1.3-1-.7 0-.5-.5 .8-.2 1.4-1 5.6-2.6 .7-.7 3-1.3 .7-.7 2.3-1 1.3-1 .2 .8-3.7 7.4-.6 .6 0 .7-.7 .7 0 .6-.7 .7-.6 1.7-.5 .5z"/><path fill="#cc4500" d="M456.8 338.3l-1.3-1-1.7-.6-.6-.7-3.2-1.5 7.5-3.8 .7-.7 2.3-1 1.3-1 .2 .8-3.7 7.4-.6 .6 0 .7-.9 .8z"/><path fill="#cc2a00" d="M458.8 335l-1-.3-1.6-1.4-1.7-.6-.2-.5 3.2-1.5 .7-.7 2.3-1 1.3-1 .2 .8-3.2 6.2z"/><path fill="#cc0e00" d="M460.5 331.7l-2.5-1.5 2.5-1.2 1.3-1 .2 .8-1.5 2.9z"/></g>
<path d="M374.5 410.1l-17.1-1M387 408.8l-10-1.6-10.5-1-10.7-.3-10.8 .4M394.5 407.2l-13.4-2.8-14.7-1.5-14.8-.2-14 1.1M400.3 405.4l-7.7-2.1-8.3-1.6-17.9-2.1-17.5-.1-8.7 .7-8.5 1.2M405.4 403.7l-8.4-2.6-9.5-2.2-10.5-1.6-10.5-1-10.1-.3-10.2 .4-9.7 .9-9.7 1.7M409.8 401.8l-9.2-3.1-10.8-2.7-11.5-1.9-12.2-1.1-11.7-.3-10.9 .5-10.9 1.4-10.2 2.1M413.9 400l-9.1-3.5-11.1-3-12.4-2.3-13.3-1.5-12.4-.4-11.3 .4-11.4 1.4-10.8 2.3M417.6 398.1l-9-3.8-10.8-3.2-12.4-2.6-13.3-1.8-12.3-.8-11.8 .1-11.2 1-10.8 2M421.1 396.3l-8.2-3.9-10.4-3.5-12.4-2.9-13.1-2.1-13.1-1.3-12.2-.3-11.2 .7-10.7 1.6M424.4 394.4l-7.9-4.1-9.8-3.6-12-3.1-13.1-2.5-13.4-1.6-12.5-.7-11.5 .2-10.6 1.2M427.5 392.5l-7.2-4.1-9.1-3.7-11.2-3.3-13-2.8-13.8-2.1-13.2-1.2-11.7-.2-10.9 .8M430.4 390.6l-6.4-4-8.5-3.8-10.5-3.4-12.2-3.1-13.9-2.5-14.2-1.8-12.5-.8-11 .3M431.9 387.6l-6.2-3.9-7.8-3.5-9.6-3.3-11.6-3.1-13.6-2.8-14-2.2-13-1.3-11.1-.4M433.4 384.7l-5.7-3.6-7.4-3.5-8.8-3.2-10.3-3-12.8-2.9-13.9-2.6-13.9-2-11.7-1.2M434.9 381.7l-4.9-3.2-6.1-3-7-2.8-8.6-2.7-20.7-5.2-27.4-5.2M436.4 378.7l-4.1-2.7-5.2-2.6-12.6-5-16.4-4.7-22.9-5.3M437.9 375.8l-8.2-4.9-11.1-4.6-13.9-4.4-19.3-5M439.4 372.8l-7.4-4.4-9.7-4.2-12-4.1-16.7-4.8M440.9 369.8l-6.6-3.9-8.6-4-10.8-3.9-14.3-4.3M442.4 366.9l-6-3.7-7.7-3.6-9.4-3.6-12.4-4M443.9 363.9l-5.5-3.4-6.8-3.2-18.9-7M445.4 360.9l-5-3.1-6.1-3-16.3-6.3M446.9 358l-9.7-5.5-14.2-5.8M448.4 355l-8.6-4.9-12.1-5.2M449.9 352l-7.5-4.3-10.3-4.6M451.4 349l-6.7-3.8-8.4-3.9M452.9 346.1l-5.6-3.3-6.9-3.4M454.4 343.1l-10.1-5.5M455.9 340.1l-7.8-4.4M457.4 337.2l-5.7-3.3M458.9 334.2l-3.7-2.2M460.4 331.2l-1.8-1.1" fill="none" stroke="#000" stroke-opacity="0.45" stroke-width="0.3"/>
<path d="M349.5 386.7h0M391.8 364h0M416.9 371.1h0M364 353.2h0M372.2 329.5h0M376.7 360.1h0M351.1 370h0M437.2 336.5h0M340.2 375.5h0M408.4 331.3h0M411.1 368.8h0M364.9 369.8h0M333.6 354.9h0M431.5 347.6h0M425.5 347.1h0M376 357.3h0M432.8 339h0M383.6 370h0M383.3 382.1h0M402.5 350.4h0M398.8 386.5h0M359.8 362.5h0M433.1 362.8h0M446.6 325.4h0M395 400.9h0M409.3 400.3h0M352.8 343.4h0M415.2 341.5h0M354.8 365.5h0M402.7 343.2h0M396.2 373.4h0M356 368h0M329.4 354.3h0M392.2 354.1h0M344.3 362h0M429.7 352.7h0M359.8 346.4h0M354.9 362.8h0M386.9 355.9h0M349.2 385.3h0M403 379.9h0M370.1 383.8h0M432.9 414.9h0M426.9 340.5h0M345.1 422.2h0M353.9 338.8h0M381.6 427.9h0M371.1 417.3h0M442.8 333.7h0M331.6 380.5h0M357.8 386.8h0M420.6 353.2h0M348.5 385.8h0M420.4 388.4h0M391.1 334.9h0M441.7 328.2h0M435 345.3h0M328.4 409.9h0M395.7 397.7h0M397.9 382.6h0M373.9 353.3h0M351 333.6h0M383.9 384.7h0M414.6 344.8h0M378.2 391h0M365.4 416.2h0M420.7 375.2h0M371.5 349.7h0M401.5 353.3h0M418.1 320.4h0M415.5 344.1h0M443.1 368.6h0M435.4 350.8h0M389.6 361.5h0" stroke="#000" stroke-width="2.3" stroke-linecap="round"/></g>
<g><path d="M308.5 692.9L338 676.5L445.4 683.2M308.7 679.8L338.2 663.4L445.6 670.1M308.9 667.2L338.4 650.8L445.8 657.5M309.2 654.7L338.7 638.3L446.1 645M309.4 641.6L338.9 625.2L446.3 631.9M309.6 628.5L339.1 612.1L446.5 618.8M309.8 615.3L339.3 598.9L446.7 605.6M310.1 602.2L339.6 585.8L447 592.5M308.3 703.8L337.8 687.4L339.7 578.2M318.1 704.4L347.6 688L349.5 578.8M327.8 705L357.3 688.6L359.2 579.4M337.6 705.6L367.1 689.2L369 580M347.4 706.2L376.9 689.8L378.8 580.6M357.1 706.8L386.6 690.4L388.5 581.2M366.9 707.5L396.4 691.1L398.3 581.9M376.6 708.1L406.1 691.7L408 582.5M386.4 708.7L415.9 692.3L417.8 583.1M396.2 709.3L425.7 692.9L427.6 583.7M405.9 709.9L435.4 693.5L437.3 584.3M415.7 710.5L445.2 694.1L447.1 584.9M417.4 709.6L310 702.9L311.9 593.7M423.9 705.9L316.5 699.2L318.4 590M430.4 702.3L323.1 695.6L324.9 586.4M437 698.7L329.6 692L331.5 582.8M443.5 695L336.1 688.3L338 579.1" stroke="#dcdcdc" stroke-width="0.4" fill="none" stroke-dasharray="1 .6"/>
<path d="M308.3 703.8L310.2 594.6M337.8 687.4L339.7 578.2M445.2 694.1L447.1 584.9M310.2 594.6L339.7 578.2M339.7 578.2L447.1 584.9M308.3 703.8L415.7 710.5M415.7 710.5L445.2 694.1" stroke="#a8a8a8" stroke-width=".55" fill="none"/>
<path d="M308.3 703.8L337.8 687.4M337.8 687.4L445.2 694.1" stroke="#9a9ad8" stroke-width=".55" fill="none"/>
<g fill-rule="evenodd"><path fill="#0013ed" d="M387.8 681.3l-13.3 0-.3-.3-6.7-.3-.3-.4-2 0-.4-.3-1.6 0-.4-.3-1.6 0-.4-.4-3-.3-.3-.3-1 0-.3-.4-1 0-.4-.3-1 0-.3-.3-1 0-.3-.4-1 0-.4-.3-1 0-1.3-.7-1.7-.3-1.3-.7-1.7-.3-.3-.3-.7 0-1-.7-2.6-.7-3.4-1.6-.6 0-2.4-1.4-.6 0-7.4-3.6-.6-.7-1.4-.3-2.3-1.7-1.7-.7-.6-.6-4.4-2.4-.6-.6-3.4-2-.8-.9 2-4 0-.6 .7-.7 0-.7 5.6-11 0-.6 .7-.7 0-.7 5.7-11 0-.6 5.6-11 0-.7 5.4-10.3 0-.7 .6-.7 0-.6 3.7-7.4 .5-.5 3.3 3 .4 0 3.3 3 1.7 1 2.6 2.4 1.4 .6 6 4.7 .3 0 4.7 3.3 1 .4 2.6 2 1 .3 2.4 1.7 1.6 .6 .7 .7 2.3 1 .7 .7 10.7 5.3 .6 0 1.7 1 .7 0 2.3 1.3 .7 0 2.6 1.4 1.7 .3 1 .7 3.7 1 1 .6 1 0 1 .7 1 0 1.3 .7 1 0 .3 .3 1.7 .3 .3 .4 2.4 .3 .3 .3 1 0 .3 .4 3.7 .6 .3 .4 1.4 0 .3 .3 3 .3 .3 .4 1.7 0 .3 .3 1.4 0 .3 .3 4 .4 .3 .3 2.4 0 .3 .3 2.7 0 .3 .4 7 .3 .3 .3 2.5 .2-2.3 4.3-3 4.4-.3 1-1 1-.4 1-1 1-2 3.3-2.3 2.7 0 .3-2.3 2.7 0 .3-6.9 7.5-.3 0-3.3 3.3-.4 0-2.6 2.4-2.4 1.3-1.6 .3-.4 .4-1 0-1.3 .6-1 0-.3 .4-3.7 .6-.3 .4-1 0-.4 .3-3.3 .3-.3 .4-1.4 0-.3 .3-2 0-.3 .3-2 0-.4 .4-2.3 0-.3 .3-4 0-.4 .3z"/><path fill="#0038ed" d="M397.2 680.3l-.7 0-.7-.6-1 0-1.3-.7-1 0-.3-.3-4.4-.4-.3-.3-2.3 0-.4-.3-3.6 0-.4-.4-8.3 0-.3-.3-.4 .3-.3-.3-11.7 0-.3 .3-.7-.3-.3 .3-5.7 0-.3 .4-.3-.4-2.4-.3-1.3-.7-1.7-.3-1.3-.7-1.7-.3-.3-.3-.7 0-1-.7-2.6-.7-3.4-1.6-.6 0-2.4-1.4-.6 0-7.4-3.6-.6-.7-1.4-.3-2.3-1.7-1.7-.7-.6-.6-4.4-2.4-.6-.6-3.4-2-.8-.9 2-4 0-.6 .7-.7 0-.7 5.6-11 0-.6 .7-.7 0-.7 5.7-11 0-.6 5.6-11 0-.7 5.4-10.3 0-.7 .6-.7 0-.6 3.7-7.4 .5-.5 3.3 3 .4 0 3.3 3 1.7 1 2.6 2.4 1.4 .6 6 4.7 .3 0 4.7 3.3 1 .4 2.6 2 1 .3 2.4 1.7 1.6 .6 .7 .7 2.3 1 .7 .7 10.7 5.3 .6 0 1.7 1 .7 0 2.3 1.3 .7 0 2.6 1.4 1.7 .3 1 .7 3.7 1 1 .6 1 0 1 .7 1 0 1.3 .7 1 0 .3 .3 1.7 .3 .3 .4 2.4 .3 .3 .3 1 0 .3 .4 3.7 .6 .3 .4 1.4 0 .3 .3 3 .3 .3 .4 1.7 0 .3 .3 1.4 0 .3 .3 4 .4 .3 .3 2.4 0 .3 .3 2.7 0 .3 .4 7 .3 .3 .3 2.5 .2-2.3 4.3-3 4.4-.3 1-1 1-.4 1-1 1-3 4.6-1.3 1.4 0 .3-4 4.7 0 .3-2.7 2.7 0 .3-6.1 5.8-.4 0-2.6 2.4-2.4 1.3-1.6 .3-.4 .4-1 0-1.3 .6-1 0-.3 .4-1 0-.4 .3-1 0-.3 .3-2.3 .4-.4 .3-3.3 .3-.3 .4-1.4 0-.3 .3-2 0-.3 .3z"/><path fill="#005eed" d="M406.2 678.7l-.7 0-.2-.5-1.8-1.5-2.7-.7-.3-.3-1 0-.3-.4-2 0-.4-.3-1.6 0-.4-.3-2.6 0-.4-.4-4 0-.3-.3-7.3 0-.4-.3-.3 .3-.3-.3-16 0-.4 .3-10.3 0-.3 .3-7.4 0-.3 .4-1.7 0-1-.7-2.6-.7-3.4-1.6-.6 0-2.4-1.4-.6 0-7.4-3.6-.6-.7-1.4-.3-2.3-1.7-1.7-.7-.6-.6-4.4-2.4-.6-.6-3.4-2-.8-.9 2-4 0-.6 .7-.7 0-.7 5.6-11 0-.6 .7-.7 0-.7 5.7-11 0-.6 5.6-11 0-.7 5.4-10.3 0-.7 .6-.7 0-.6 3.7-7.4 .5-.5 3.3 3 .4 0 3.3 3 1.7 1 2.6 2.4 1.4 .6 6 4.7 .3 0 4.7 3.3 1 .4 2.6 2 1 .3 2.4 1.7 1.6 .6 .7 .7 2.3 1 .7 .7 10.7 5.3 .6 0 1.7 1 .7 0 2.3 1.3 .7 0 2.6 1.4 1.7 .3 1 .7 3.7 1 1 .6 1 0 1 .7 1 0 1.3 .7 1 0 .3 .3 1.7 .3 .3 .4 2.4 .3 .3 .3 1 0 .3 .4 3.7 .6 .3 .4 1.4 0 .3 .3 3 .3 .3 .4 1.7 0 .3 .3 1.4 0 .3 .3 4 .4 .3 .3 2.4 0 .3 .3 2.7 0 .3 .4 7 .3 .3 .3 2.5 .2-2.3 4.3-1.3 1.7-.4 1-1.3 1.7-.3 1-1 1-.4 1-1 1-2 3.3-2.3 2.7 0 .3-2.3 2.7 0 .3-1.7 1.7 0 .3-5.2 5.5-.3 0-3.3 3.3-.4 0-1.3 1.4-.3 0-2 1.6-1.4 .7-1.6 .3-.4 .4-1 0-1.3 .6-1 0-.3 .4-3.7 .6-.3 .4z"/><path fill="#0083ed" d="M412.5 677l-.2-.5 .4-.3 0-1.4-1.9-1.5-1.6-.3-.4-.3-1 0-.3-.4-1 0-.3-.3-3.7-.3-.3-.4-2.7 0-.3-.3-4 0-.4-.3-6 0-.3-.4-.3 .4-.4-.4-.3 .4-.3-.4-5 0-12.7 0-.3 .4-.4-.4-1.6 0-.4 .4-9 0-.3 .3-.7-.3-.3 .3-6.7 0-.3 .3-5.7 0-.3 .4-4.7 0-.3 .3-.7-.3-.3 .3-1.3 0-3.4-1.7-.6 0-7.4-3.6-.6-.7-1.4-.3-2.3-1.7-1.7-.7-.6-.6-4.4-2.4-.6-.6-3.4-2-.8-.9 2-4 0-.6 .7-.7 0-.7 5.6-11 0-.6 .7-.7 0-.7 5.7-11 0-.6 5.6-11 0-.7 5.4-10.3 0-.7 .6-.7 0-.6 3.7-7.4 .5-.5 3.3 3 .4 0 3.3 3 1.7 1 2.6 2.4 1.4 .6 6 4.7 .3 0 4.7 3.3 1 .4 2.6 2 1 .3 2.4 1.7 1.6 .6 .7 .7 2.3 1 .7 .7 10.7 5.3 .6 0 1.7 1 .7 0 2.3 1.3 .7 0 2.6 1.4 1.7 .3 1 .7 3.7 1 1 .6 1 0 1 .7 1 0 1.3 .7 1 0 .3 .3 1.7 .3 .3 .4 2.4 .3 .3 .3 1 0 .3 .4 3.7 .6 .3 .4 1.4 0 .3 .3 3 .3 .3 .4 1.7 0 .3 .3 1.4 0 .3 .3 4 .4 .3 .3 2.4 0 .3 .3 2.7 0 .3 .4 7 .3 .3 .3 2.5 .2-2.3 4.3-1.3 1.7-.4 1-1.3 1.7-.3 1-1 1-.4 1-1 1-2 3.3-2.3 2.7 0 .3-2.3 2.7 0 .3-1.7 1.7 0 .3-2.7 2.7 0 .3-6.1 5.8-.4 0-2.6 2.4-2.4 1.3-1.6 .3-.4 .4-1 0-.3 .3z"/><path fill="#00a8ed" d="M420.5 672.7l-.2-.9-1.5-1.5-2.3-.6-.3-.4-2.4-.3-.3-.3-3.7-.4-.3-.3-3 0-.3-.3-3.4 0-.3-.4-5.3 0-.4-.3-.3 .3-.7-.3-13.6 0-20.4 .3-.3 .4-6 0-.3 .3-.4-.3-.3 .3-5.3 0-.4 .3-.3-.3-.3 .3-4.7 0-.3 .4-5 0-.4 .3-3.3 0-.3 .3-3 0-.4 .4-6-3-.6-.7-1.4-.3-.6-.7-3.4-1.7-.6-.6-1-.4-.7-.6-1-.4-.7-.6-1-.4-.6-.6-3.4-2-.8-.9 0-.3 2-3.7 0-.6 .7-.7 0-.7 5.6-11 0-.6 .7-.7 0-.7 5.7-11 0-.6 5.6-11 0-.7 5.4-10.3 0-.7 .6-.7 0-.6 3.7-7.4 .5-.5 3.3 3 .4 0 3.3 3 1.7 1 2.6 2.4 1.4 .6 6 4.7 .3 0 4.7 3.3 1 .4 2.6 2 1 .3 2.4 1.7 1.6 .6 .7 .7 2.3 1 .7 .7 10.7 5.3 .6 0 1.7 1 .7 0 2.3 1.3 .7 0 2.6 1.4 1.7 .3 1 .7 3.7 1 1 .6 1 0 1 .7 1 0 1.3 .7 1 0 .3 .3 1.7 .3 .3 .4 2.4 .3 .3 .3 1 0 .3 .4 3.7 .6 .3 .4 1.4 0 .3 .3 3 .3 .3 .4 1.7 0 .3 .3 1.4 0 .3 .3 4 .4 .3 .3 5.4 .3 .3 .4 3 0 .3 .3 3.7 0 .3 .3 2.4 0 .1 .5-.6 .7-1.7 3.3-1.3 1.7-.4 1-1.3 1.7-.3 1-1 1-.4 1-1 1-3 4.6-1.3 1.4 0 .3-4 4.7 0 .3-2.7 2.7 0 .3-6.1 5.8-.7 .4z"/><path fill="#00cded" d="M426.5 667.3l-1.7-1-1 0-1.3-.6-1.3 0-.4-.4-1.6 0-.4-.3-4.6-.3-.4-.4-4.3 0-.3-.3-5 0-.4-.3-28.6 0-.4 .3-.3-.3-.3 .3-7.7 0-.3 .3-.4-.3-.3 .3-5.7 0-.3 .4-.3-.4-.4 .4-4.6 0-.4 .3-.3-.3-.3 .3-5.4 0-.3 .3-3.7 0-.3 .4-9.3 .3-.4 .3-3.6 0-.4 .4-3.3 0-.3 .3-.7 0-1.3-1-.7 0-1.3-1-1-.3-.7-.7-1.7-.7-.6-.6-2.7-1.4-.7-.6-1-.4-.6-.6-3.4-2-.8-.9 0-.3 8.3-16.7 0-.6 .7-.7 0-.7 5.7-11 0-.6 5.6-11 0-.7 5.4-10.3 0-.7 .6-.7 0-.6 3.7-7.4 .5-.5 3.3 3 .4 0 3.3 3 1.7 1 2.6 2.4 1.4 .6 6 4.7 .3 0 4.7 3.3 1 .4 2.6 2 1 .3 2.4 1.7 1.6 .6 .7 .7 2.3 1 .7 .7 10.7 5.3 .6 0 1.7 1 .7 0 2.3 1.3 .7 0 2.6 1.4 1.7 .3 1 .7 3.7 1 1 .6 1 0 1 .7 1 0 1.3 .7 1 0 .3 .3 1.7 .3 .3 .4 2.4 .3 .3 .3 1 0 .3 .4 3.7 .6 .3 .4 1.4 0 .3 .3 3 .3 .3 .4 1.7 0 .3 .3 1.4 0 .3 .3 4 .4 .3 .3 5.4 .3 .3 .4 3 0 .3 .3 3.7 0 .3 .3 2.4 0 .1 .5-.6 .7-1.7 3.3-1.3 1.7-.4 1-1.3 1.7-.3 1-1 1-.4 1-1 1-2 3.3-2.3 2.7 0 .3-2.3 2.7 0 .3-5.2 5.8z"/><path fill="#00ede9" d="M321.2 664.7l-.7-.7-1.7-.7-.6-.6-1-.4-.7-.6-1-.4-.7-.6-1-.4-.6-.6-3.4-2-.8-.9 0-.3 8.3-16.7 0-.6 .7-.7 0-.7 5.7-11 0-.6 5.6-11 0-.7 5.4-10.3 0-.7 .6-.7 0-.6 3.7-7.4 .5-.5 3.3 3 .4 0 3.3 3 1.7 1 2.6 2.4 1.4 .6 6 4.7 .3 0 4.7 3.3 1 .4 2.6 2 1 .3 2.4 1.7 1.6 .6 .7 .7 2.3 1 .7 .7 10.7 5.3 .6 0 1.7 1 .7 0 2.3 1.3 .7 0 2.6 1.4 1.7 .3 1 .7 3.7 1 1 .6 1 0 1 .7 1 0 1.3 .7 1 0 .3 .3 1.7 .3 .3 .4 2.4 .3 .3 .3 1 0 .3 .4 3.7 .6 .3 .4 1.4 0 .3 .3 3 .3 .3 .4 1.7 0 .3 .3 1.4 0 .3 .3 4 .4 .3 .3 2.4 0 .3 .3 2.7 0 .3 .4 7 .3 .3 .3 2.5 .2-2.3 4.3-3 4.4-.3 1-1 1-.4 1-1 1-3 4.6-4.8 5.9-.7-.4-1.6 0-.4-.3-1.6 0-.4-.3-2.3 0-.3-.4-2.4 0-.3-.3-3.7 0-.3-.3-4.7 0-.3-.4-.3 .4-.7-.4-11.3 0-.4-.3-.3 .3-.7 0-.3-.3-.3 .3-.4-.3-.3 .3-.7-.3-.3 .3-.3-.3-1 .3-.7-.3-.3 .3-14.4 0-.3 .4-.3-.4-.4 .4-7 0-.3 .3-6 0-.3 .3-.4-.3-.3 .3-5 0-.3 .4-10.4 .3-.3 .3-3.7 0-.3 .4-9 .3-.3 .3-2.4 0-.3 .4-3.7 0-.3 .3-4 0-.3 .3-1.7 0-.3 .4z"/><path fill="#00edc5" d="M318.2 662l-1.4 0-1.3-.7-.7-.6-1-.4-.6-.6-3.4-2-.8-.9 0-.3 8.3-16.7 0-.6 .7-.7 0-.7 5.7-11 0-.6 5.6-11 0-.7 5.4-10.3 0-.7 .6-.7 0-.6 3.7-7.4 .5-.5 3.3 3 .4 0 3.3 3 1.7 1 2.6 2.4 1.4 .6 6 4.7 .3 0 4.7 3.3 1 .4 2.6 2 1 .3 2.4 1.7 1.6 .6 .7 .7 2.3 1 .7 .7 10.7 5.3 .6 0 1.7 1 .7 0 2.3 1.3 .7 0 2.6 1.4 1.7 .3 1 .7 3.7 1 1 .6 1 0 1 .7 1 0 1.3 .7 1 0 .3 .3 1.7 .3 .3 .4 2.4 .3 .3 .3 1 0 .3 .4 3.7 .6 .3 .4 1.4 0 .3 .3 3 .3 .3 .4 1.7 0 .3 .3 1.4 0 .3 .3 4 .4 .3 .3 2.4 0 .3 .3 2.7 0 .3 .4 7 .3 .3 .3 2.5 .2-2.3 4.3-3 4.4-.3 1-1 1-.4 1-1 1-2 3.3-2.5 3.2-3.6-.4-.4-.3-2.6 0-.4-.3-9-.4-.3-.3-.3 .3-.7-.3-10 0-.3-.3-3.7 0-.3 .3-.4-.3-5.3 0-.3 .3-.4-.3-1.3 0-.3 .3-11.4 0-.3 .3-.3-.3-.4 .3-7 0-.3 .4-.3-.4-.4 .4-5.3 0-.3 .3-.4-.3-.3 .3-4.3 0-.4 .3-.6-.3-.4 .3-4.3 0-.3 .4-4 0-.4 .3-4.6 0-.4 .3-3.6 0-.4 .4-7.6 .3-.4 .3-3.3 0-.3 .4-4 0-.4 .3-2.3 0-.3 .3-4 0-.4 .4-2.3 0-.3 .3z"/><path fill="#00eda1" d="M313.2 659.7l-3.4-2-.8-.9 0-.3 8.3-16.7 0-.6 .7-.7 0-.7 5.7-11 0-.6 5.6-11 0-.7 5.4-10.3 0-.7 .6-.7 0-.6 3.7-7.4 .5-.5 3.3 3 .4 0 3.3 3 1.7 1 2.6 2.4 1.4 .6 6 4.7 .3 0 4.7 3.3 1 .4 2.6 2 1 .3 2.4 1.7 1.6 .6 .7 .7 2.3 1 .7 .7 10.7 5.3 .6 0 1.7 1 .7 0 2.3 1.3 .7 0 2.6 1.4 1.7 .3 1 .7 3.7 1 1 .6 1 0 1 .7 1 0 1.3 .7 1 0 .3 .3 1.7 .3 .3 .4 2.4 .3 .3 .3 1 0 .3 .4 3.7 .6 .3 .4 1.4 0 .3 .3 3 .3 .3 .4 1.7 0 .3 .3 1.4 0 .3 .3 4 .4 .3 .3 2.4 0 .3 .3 2.7 0 .3 .4 7 .3 .3 .3 2.5 .2-2.3 4.3-3 4.4-.3 1-1 1-.4 1-1 1-1.8 2.8-1 0-.3-.3-3.4 0-.3-.4-3.3 0-.4-.3-5.3 0-.3-.3-10 0-.4-.4-.6 .4-.4-.4-3.6 0-.4 .4-.3-.4-5.3 0-.4 .4-.3-.4-2 0-.3 .4-11 0-.4 .3-.3-.3-.3 .3-7 0-.4 .3-.3-.3-.3 .3-11 .4-.4 .3-4.6 0-.4 .3-4 0-.3 .4-4.7 0-.3 .3-8.3 .3-.4 .4-7.3 .3-.3 .3-2.7 0-.3 .4-6.7 .3-.3 .3-3.4 0-.3 .4-2.3 0-.4 .3-.6-.3-.4 .3-2 0-.3 .3-.3-.3-.4 .3-2.3 0-.3 .4z"/><path fill="#00ed7e" d="M309.5 657.3l-.5-.8 2-3.7 0-.6 .7-.7 0-.7 5.6-11 0-.6 .7-.7 0-.7 11.3-22.6 0-.7 5.4-10.3 0-.7 .6-.7 0-.6 3.7-7.4 .5-.5 3.3 3 .4 0 3.3 3 1.7 1 2.6 2.4 1.4 .6 6 4.7 .3 0 4.7 3.3 1 .4 2.6 2 1 .3 2.4 1.7 1.6 .6 .7 .7 2.3 1 .7 .7 10.7 5.3 .6 0 1.7 1 .7 0 2.3 1.3 .7 0 2.6 1.4 1.7 .3 1 .7 3.7 1 1 .6 1 0 1 .7 1 0 1.3 .7 1 0 .3 .3 1.7 .3 .3 .4 2.4 .3 .3 .3 1 0 .3 .4 3.7 .6 .3 .4 1.4 0 .3 .3 3 .3 .3 .4 1.7 0 .3 .3 1.4 0 .3 .3 4 .4 .3 .3 2.4 0 .3 .3 2.7 0 .3 .4 7 .3 .3 .3 2.5 .2-2.3 4.3-1.3 1.7-.4 1-1.3 1.7-.3 1-1 1-.5 1.1-7-.3-.4-.3-6 0-.3-.4-10.7 0-.3-.3-.7 .3-.3-.3-8.7 0-.3 .3-13.3 0-.4 .4-.3-.4-.3 .4-7.4 0-.3 .3-11.3 .3-.4 .4-4.6 0-.4 .3-4.3 0-.3 .3-8 .4-.4 .3-8 .3-.3 .4-6 .3-.3 .3-3.7 0-.3 .4-3.4 0-.3 .3-3 0-.3 .3-3 0-.4 .4-6 .3-.3 .3-3 0-.3 .4-2.4 0-.3 .3-1.7 0-.3 .3z"/><path fill="#00ed5c" d="M313.2 654l-.4-.3-.3 .3-2.2-.2 7-14 0-.6 .7-.7 0-.7 5.7-11 0-.6 5.6-11 0-.7 5.4-10.3 0-.7 .6-.7 0-.6 3.7-7.4 .5-.5 3.3 3 .4 0 3.3 3 1.7 1 2.6 2.4 1.4 .6 6 4.7 .3 0 4.7 3.3 1 .4 2.6 2 1 .3 2.4 1.7 1.6 .6 .7 .7 2.3 1 .7 .7 10.7 5.3 .6 0 1.7 1 .7 0 2.3 1.3 .7 0 2.6 1.4 1.7 .3 1 .7 3.7 1 1 .6 1 0 1 .7 1 0 1.3 .7 1 0 .3 .3 1.7 .3 .3 .4 2.4 .3 .3 .3 1 0 .3 .4 3.7 .6 .3 .4 1.4 0 .3 .3 3 .3 .3 .4 1.7 0 .3 .3 1.4 0 .3 .3 4 .4 .3 .3 2.4 0 .3 .3 2.7 0 .3 .4 7 .3 .3 .3 2.5 .2-2.3 4.3-2.8 4.2-1.4 0-.3-.3-4.7 0-.3-.4-6.3 0-.4-.3-31.6 0-.4 .3-.3-.3-.3 .3-7.7 0-.3 .4-5.7 0-.3 .3-.4-.3-.3 .3-4.7 0-.3 .3-4.3 0-.4 .4-.6-.4-.4 .4-3.3 0-.3 .3-4 0-.4 .3-4.3 0-.3 .4-7 .3-.4 .3-4 0-.3 .4-2.7 0-.3 .3-7.3 .3-.4 .4-2.6 0-.4 .3-3 0-.3 .3-2.7 0-.3 .4-3.3 0-.4 .3-2.6 0-.4 .3-2.6 0-.4 .4-2.3 0-.3 .3z"/><path fill="#00ed3a" d="M314.2 651l-2.5-.2 5.6-11 0-.6 .7-.7 0-.7 11.3-22.6 0-.7 5.4-10.3 0-.7 .6-.7 0-.6 3.7-7.4 .5-.5 3.3 3 .4 0 3.3 3 1.7 1 2.6 2.4 1.4 .6 6 4.7 .3 0 4.7 3.3 1 .4 2.6 2 1 .3 2.4 1.7 1.6 .6 .7 .7 2.3 1 .7 .7 10.7 5.3 .6 0 1.7 1 .7 0 2.3 1.3 .7 0 2.6 1.4 1.7 .3 1 .7 3.7 1 1 .6 1 0 1 .7 1 0 1.3 .7 1 0 .3 .3 1.7 .3 .3 .4 2.4 .3 .3 .3 1 0 .3 .4 3.7 .6 .3 .4 1.4 0 .3 .3 3 .3 .3 .4 1.7 0 .3 .3 1.4 0 .3 .3 4 .4 .3 .3 2.4 0 .3 .3 2.7 0 .3 .4 7 .3 .3 .3 2.5 .2-2.3 4.3-.8 .9-1 0-.4-.4-4.6 0-.4-.3-.3 .3-.7-.3-6.6 0-.4-.3-27 0-.3 .3-.7-.3-.3 .3-7.7 0-.3 .3-.3-.3-.4 .3-12 .4-.3 .3-4.3 0-.4 .3-4.6 0-.4 .4-4 0-.3 .3-7.7 .3-.3 .4-3.3 0-.4 .3-3 0-.3 .3-3.7 0-.3 .4-6.7 .3-.3 .3-6 .4-.3 .3-3 0-.4 .3-3 0-.3 .4-2.7 0-.3 .3-3 0-.3 .3-2.7 0-.3 .4-2.7 0-.3 .3z"/><path fill="#00ed18" d="M315.8 648l-2.3 0-.2-.5 10.4-20.7 0-.6 5.6-11 0-.7 5.4-10.3 0-.7 .6-.7 0-.6 3.7-7.4 .5-.5 3.3 3 .4 0 3.3 3 1.7 1 2.6 2.4 1.4 .6 6 4.7 .3 0 4.7 3.3 1 .4 2.6 2 1 .3 2.4 1.7 1.6 .6 .7 .7 2.3 1 .7 .7 10.7 5.3 .6 0 1.7 1 .7 0 2.3 1.3 .7 0 2.6 1.4 1.7 .3 1 .7 3.7 1 1 .6 1 0 1 .7 1 0 1.3 .7 1 0 .3 .3 1.7 .3 .3 .4 2.4 .3 .3 .3 1 0 .3 .4 3.7 .6 .3 .4 1.4 0 .3 .3 3 .3 .3 .4 1.7 0 .3 .3 1.4 0 .3 .3 4 .4 .3 .3 2.4 0 .3 .3 2.7 0 .3 .4 7 .3 .3 .3 2.5 .2-1.1 2.2-.4-.4-2.3 0-.3-.3-5.7 0-.3-.3-9.4 0-.3-.4-.3 .4-.4-.4-.3 .4-.3-.4-16 0-.4 .4-11 0-.3 .3-6.7 0-.3 .3-.3-.3-.4 .3-10 .4-.3 .3-5.3 0-.4 .3-8 .4-.3 .3-3 0-.3 .3-3.7 0-.3 .4-3.7 0-.3 .3-3.4 0-.3 .3-3 0-.3 .4-2.7 0-.3 .3-6.7 .3-.3 .4-5.7 .3-.3 .3-.4-.3-.3 .3-5.3 .4-.4 .3-2.3 0-.3 .3-6 .4-.4 .3z"/><path fill="#09ed00" d="M314.8 645.3l-.1-.5 2.6-5 0-.6 .7-.7 0-.7 11.3-22.6 0-.7 5.4-10.3 0-.7 .6-.7 0-.6 3.7-7.4 .5-.5 10 8.4 .3 0 6 4.6 1.4 .7 1 1 .3 0 4.7 3.3 1 .4 2.6 2 2.7 1.3 .7 .7 4.6 2.3 .7 .7 10.7 5.3 .6 0 1.7 1 .7 0 2.3 1.3 .7 0 2.6 1.4 1.7 .3 1 .7 1.7 .3 1.3 .7 .7 0 1 .6 1 0 1 .7 1 0 1.3 .7 1 0 .3 .3 1.7 .3 .3 .4 2.4 .3 .3 .3 1 0 .3 .4 3.7 .6 .3 .4 1.4 0 .3 .3 1.3 0 .4 .3 1.3 0 .3 .4 1.7 0 .3 .3 1.5 .2-22.5 .1-.3 .4-7.7 0-.3 .3-.3-.3-.4 .3-5.3 0-.3 .3-4.7 0-.3 .4-5 0-.4 .3-4 0-.3 .3-4 0-.3 .4-7 .3-.4 .3-7.6 .4-.4 .3-3 0-.3 .3-2.7 0-.3 .4-.3-.4-.4 .4-2.3 0-.3 .3-6 .3-.4 .4-.3-.4-.3 .4-2.7 0-.3 .3-2.4 0-.3 .3-.3-.3-.4 .3-2 0-.3 .4-2.7 0-.3 .3-2.7 0-.3 .3-3 0-.3 .4-2.4 0-.3 .3-2.3 0-.4 .3z"/><path fill="#29ed00" d="M316.5 642.3l-.2-.8 1-1.7 0-.6 .7-.7 0-.7 11.3-22.6 0-.7 5.4-10.3 0-.7 .6-.7 0-.6 3.7-7.4 .5-.5 7 6 1.7 1 2.6 2.4 1.4 .6 3.6 3 1.4 .7 1 1 .3 0 4.7 3.3 1 .4 2.6 2 1 .3 2.4 1.7 1.6 .6 .7 .7 2.3 1 .7 .7 10.7 5.3 .6 0 1.7 1 .7 0 2.3 1.3 .7 0 2.6 1.4 1.7 .3 1 .7 1.7 .3 1.3 .7 .7 0 1 .6 1 0 1 .7 1 0 1.3 .7 1 0 2.3 1 1 0 .4 .3 1.1 .2-11.1 .1-.4 .4-6.6 0-.4 .3-4.6 0-.4 .3-.3-.3-.3 .3-4.7 0-.3 .4-8.4 .3-.3 .3-4.3 0-.4 .4-3.3 0-.3 .3-6.7 .3-.3 .4-3 0-.4 .3-3.3 0-.3 .3-2.4 0-.3 .4-.3-.4-.4 .4-2 0-.3 .3-3.7 0-.3 .3-2.3 0-.4 .4-3 0-.3 .3-5.7 .3-.3 .4-2 0-.3 .3-.4-.3-.3 .3-2.7 0-.3 .3-5 .4-.3 .3-2.4 0-.3 .3z"/><path fill="#49ed00" d="M318.2 639.3l-.5-.5 .3-.3 0-.7 11.3-22.6 0-.7 5.4-10.3 0-.7 .6-.7 0-.6 3.7-7.4 .5-.5 7 6 1.7 1 2.6 2.4 1.4 .6 3.6 3 .4 0 2 1.7 .3 0 4.7 3.3 1 .4 2.6 2 2.7 1.3 .7 .7 4.6 2.3 .7 .7 10.7 5.3 .6 0 1.7 1 .7 0 2.3 1.3 .7 0 2.6 1.4 1.7 .3 1 .7 1.7 .3 2.8 1.2-1.5 .1-.3 .4-.4-.4-.3 .4-11 .3-.3 .3-8.7 .4-.3 .3-4 0-.4 .3-3.6 0-.4 .4-7 .3-.3 .3-3 0-.3 .4-3.4 0-.3 .3-2.3 0-.4 .3-.3-.3-.3 .3-3 0-.4 .4-5.3 .3-.3 .3-.4-.3-.3 .3-5.3 .4-.4 .3-2.6 0-.4 .3-2.6 0-.4 .4-2.3 0-.3 .3-2.4 0-.3 .3-5.7 .4-.3 .3-2 0-.3 .3zM317.5 639.3l0-.3 0 .3z"/><path fill="#68ed00" d="M319.8 636.3l-.3-.3-.3 .3-.2-.5 10.3-20.6 0-.7 5.4-10.3 0-.7 .6-.7 0-.6 3.7-7.4 .5-.5 3.3 3 .4 0 3.3 3 1.7 1 2.6 2.4 1.4 .6 6 4.7 .3 0 4.7 3.3 1 .4 2.6 2 1 .3 2.4 1.7 1.6 .6 .7 .7 2.3 1 .7 .7 10.7 5.3 .6 0 1.7 1 .7 0 2.3 1.3 .7 0 2.5 1.2-1.2 .2-.3 .3-5.4 0-.3 .3-3.3 0-.4 .4-4.6 0-.4 .3-3 0-.3 .3-7.3 .4-.4 .3-6.6 .3-.4 .4-2.6 0-.4 .3-3.3 0-.3 .3-2.7 0-.3 .4-2.7 0-.3 .3-2.7 0-.3 .3-2.7 0-.3 .4-2.7 0-.3 .3-2.7 0-.3 .3-5.4 .4-.3 .3-5 .3-.3 .4-2.7 0-.3 .3-2 0-.4 .3z"/><path fill="#86ed00" d="M321.5 633.3l-.3-.3-.4 .3-.5-.1 9-18 0-.7 5.4-10.3 0-.7 .6-.7 0-.6 3.7-7.4 .5-.5 10 8.4 .3 0 6 4.6 1.4 .7 1 1 .3 0 4.7 3.3 1 .4 2.6 2 2.7 1.3 .7 .7 4.6 2.3 .7 .7 13.5 6.5-5.2 .1-.3 .4-4 0-.3 .3-3.7 0-.3 .3-2.7 0-.3 .4-3.4 0-.3 .3-2.7 0-.3 .3-3.3 0-.4 .4-5.6 .3-.4 .3-.3-.3-.3 .3-2.4 0-.3 .4-3 0-.3 .3-5.7 .3-.3 .4-2.4 0-.3 .3-2.3 0-.4 .3-2.6 0-.4 .4-2.3 0-.3 .3-2.7 0-.3 .3-2.4 0-.3 .4-2.7 0-.3 .3-1.7 0-.3 .3z"/><path fill="#a4ed00" d="M322.5 630.3l-.5-.1 0-.4 1.7-3 0-.6 5.6-11 0-.7 5.4-10.3 0-.7 .6-.7 0-.6 3.7-7.4 .5-.5 10 8.4 .3 0 6 4.6 1.4 .7 1 1 .3 0 4.7 3.3 1 .4 2.6 2 2.7 1.3 .7 .7 4.6 2.3 .7 .7 7.8 3.8-2.5 .2-.3 .3-3.3 0-.4 .3-3.3 0-.3 .4-3 0-.4 .3-3.6 0-.4 .3-2.6 0-.4 .4-2.6 0-.4 .3-3.3 0-.3 .3-2 0-.4 .4-.3-.4-.3 .4-2 0-.4 .3-.3-.3-.3 .3-2.7 0-.3 .3-2.4 0-.3 .4-2.3 0-.4 .3-2.6 0-.4 .3-2.6 0-.4 .4-4.3 .3-.3 .3-.4-.3-.3 .3-2.3 0-.4 .4-5 .3-.3 .3z"/><path fill="#c1ed00" d="M324.2 627.3l-.9-.1 .4-.4 0-.6 5.6-11 0-.7 5.4-10.3 0-.7 .6-.7 0-.6 3.7-7.4 .5-.5 7 6 1.7 1 2.6 2.4 1.4 .6 3.6 3 1.4 .7 1 1 .3 0 4.7 3.3 1 .4 2.6 2 2.7 1.3 .7 .7 1.6 .6 .7 .7 5.5 2.8-1.2 .5-2.3 0-.3 .4-.7-.4-.3 .4-2.7 0-.3 .3-3 0-.4 .3-3 0-.3 .4-2.3 0-.4 .3-.3-.3-.3 .3-2 0-.4 .3-2.6 0-.4 .4-2.6 0-.4 .3-2.6 0-.4 .3-5.6 .4-.4 .3-2 0-.3 .3-2.7 0-.3 .4-5 .3-.3 .3-2.4 0-.3 .4-5 .3-.3 .3z"/><path fill="#deed00" d="M325.8 624.3l-1.1-.1 10-20 0-.7 .6-.7 0-.6 3.7-7.4 .5-.5 7 6 1.7 1 2.6 2.4 1.4 .6 3.6 3 1.4 .7 1 1 .3 0 4.7 3.3 1 .4 2.6 2 1 .3 .7 .7 1 .3 .7 .7 3.5 1.8-2.5 .2-.4 .3-2.6 0-.4 .3-2.6 0-.4 .4-2.3 0-.3 .3-.4-.3-.3 .3-2 0-.3 .3-.4-.3-.3 .3-2 0-.3 .4-.4-.4-.3 .4-2.3 0-.4 .3-2.3 0-.3 .3-2.7 0-.3 .4-2.7 0-.3 .3-2.4 0-.3 .3-2 0-.3 .4-.4-.4-.3 .4-1.7 0-.3 .3-.3-.3-.4 .3-1.6 0-.4 .3-2.6 0-.4 .4-1.6 0-.4 .3-.3-.3-.3 .3-2 0-.4 .3z"/><path fill="#ede800" d="M327.5 621.3l-1 0-.2-.5 8.4-16.6 0-.7 .6-.7 0-.6 3.7-7.4 .5-.5 7 6 1.7 1 2.6 2.4 1.4 .6 3.6 3 1.4 .7 1 1 .3 0 4.7 3.3 1 .4 2.6 2 2.2 1.1-.2 .5-2.6 0-.4 .4-.3-.4-.3 .4-2 0-.4 .3-6 .3-.3 .4-1.7 0-.3 .3-.3-.3-.4 .3-2.6 0-.4 .3-2 0-.3 .4-2.7 0-.3 .3-2.3 0-.4 .3-2 0-.3 .4-2.3 0-.4 .3-2.3 0-.3 .3-5 .4-.4 .3-2 0-.3 .3z"/><path fill="#edd600" d="M328.8 618.3l-1.1-.1 7-14 0-.7 .6-.7 0-.6 3.7-7.4 .5-.5 3.3 3 .4 0 3.3 3 1.7 1 2.6 2.4 1.4 .6 6 4.7 7.1 4.5-1.1 .2-.4 .3-2.6 0-.4 .3-2.3 0-.3 .4-2.7 0-.3 .3-2.7 0-.3 .3-2 0-.4 .4-5 .3-.3 .3-2.3 0-.4 .4-2 0-.3 .3-.3-.3-.4 .3-2 0-.3 .3-2 0-.3 .4-.4-.4-.3 .4-4.3 .3-.4 .3z"/><path fill="#edbf00" d="M330.2 615.3l-.7 0-.2-.8 5.4-10.3 0-.7 .6-.7 0-.6 3.7-7.4 .5-.5 10 8.4 2.7 1.6 6 4.7 3.5 2.2-2.2 .1-.3 .4-2 0-.4 .3-3 0-.3 .3-5 .4-.3 .3-1.7 0-.3 .3-.4-.3-.3 .3-4.3 .4-.4 .3-.3-.3-.3 .3-1.7 0-.3 .3-2.4 0-.3 .4-2.3 0-.4 .3-2.3 0-.3 .3z"/><path fill="#eda600" d="M331.8 612.3l-1 0-.1-.5 4-7.6 0-.7 .6-.7 0-.6 3.7-7.4 .5-.5 7 6 .3 0 2.7 2.4 .3 0 1 1 1.4 .6 1 1 .3 0 1 1 .3 0 1 1 1.9 1.2-.2 .5-5 .3-.3 .4-4.7 .3-.3 .3-2.4 0-.3 .4-2.3 0-.4 .3-1.6 0-.4 .3-.3-.3-.3 .3-1.7 0-.3 .4-.4-.4-.3 .4-1.3 0-.4 .3-2.6 0-.4 .3z"/><path fill="#ed8b00" d="M333.8 609.3l-1.8-.1 2.7-5 0-.7 .6-.7 0-.6 3.7-7.4 .5-.5 7 6 .3 0 2.7 2.4 2.7 1.6 2.1 1.9-.5 .5-2.3 0-.3 .3-4.4 .3-.3 .4-.3-.4-.4 .4-1.6 0-.4 .3-.3-.3-.3 .3-2 0-.4 .3-2 0-.3 .4-4.3 .3-.4 .3z"/><path fill="#ed6e00" d="M334.8 606.3l-1 0-.1-.5 1-1.6 0-.7 .6-.7 0-.6 3.7-7.4 .5-.5 7 6 .3 0 2.7 2.4 1.8 1.1-.8 .5-.3-.3-.4 .3-2.3 0-.3 .4-2 0-.4 .3-1.6 0-.4 .3-2.6 0-.4 .4-2 0-.3 .3-2.3 0-.4 .3z"/><path fill="#ed5000" d="M336.8 603.3l-1.8-.1 4-8.4 .5-.5 7 6 1.8 1.2-1.1 .2-.4 .3-2.6 0-.4 .3-1.6 0-.4 .4-2.6 0-.4 .3-1.6 0-.4 .3z"/><path fill="#ed3100" d="M338.5 600.3l-2.2-.1 2.7-5.4 .5-.5 3.3 3 .4 0 2.1 1.9-1.8 .1-.3 .4-2 0-.4 .3-2 0-.3 .3z"/><path fill="#ed1100" d="M340.2 597.3l-2.2-.1 1-2.4 .5-.5 2.8 2.5-1.8 .2-.3 .3z"/></g>
<path d="M393.4 680.5l-5.5-1.2-8.5-.8-23.7-.3M401.2 679.4l-2-1.1-3.5-1-11.2-1.3-16.2-.4-20.4 .4M407.3 678.1l-1.2-1.6-3.3-1.3-5.5-1-7.7-.7-20.8-.4-26.8 .9M412.3 676.8l.5-1.2-.4-.9-2.9-1.6-5.9-1.3-8.9-.9-24.8-.3-33 1.5M417.7 674.6l.7-1.2-.2-1.1-1.2-.9-2-.8-7-1.4-10-.9-12.9-.3-15.3 .2-37.3 1.9M423.7 669.6l-3.3-1.6-6.5-1.3-9.4-.8-11.8-.5-28.4 .6-35.8 2.2M427.4 666l-5.6-1.4-8.2-1-23.2-.7-29.6 .9-35.9 2.6M430.2 662.7l-7.3-1.2-9.6-.7-24.8-.4-30.8 1.3-36.3 2.8M432.7 659.7l-8.6-1-10.9-.7-25.8 0-31.8 1.5-37.4 3.1M434.9 656.9l-9.8-1-11.6-.5-26.7 .2-32.8 1.8-38.8 3.4M436.9 654.1l-23.2-1.3-27.6 .4-33.7 2-40.1 3.8M438.7 651.5l-24.4-1.2-28.4 .5-35.1 2.3-41.2 4.1M440.4 648.9l-25.1-1.1-28.6 .7-34.7 2.3-42 4.2M442 646.4l-25.7-1-28.2 .7-34.8 2.4-42.2 4.3M443.6 643.9l-25.9-.9-28.2 .7-35 2.5-42.3 4.3M445 641.4l-26.4-.8-28.3 .7-34.6 2.5-42.4 4.5M434 638.4l-23.6-.2-26 1.2-31.6 2.5-38.4 4.1M418.3 635.8l-20.4 .5-22.5 1.4-27.5 2.5-32.4 3.6M409.5 633.6l-18.6 .8-20.7 1.5-53.6 5.7M402.6 631.5l-36.5 2.6-48.5 5.2M396.9 629.5l-33.8 2.7-44.4 4.9M391.9 627.6l-31.2 2.6-40.9 4.7M387.4 625.6l-29.2 2.7-37.3 4.3M383.3 623.7l-27 2.6-34.3 4.1M379.5 621.8l-25.2 2.6-31.2 3.7M375.9 620l-51.7 5.9M372.5 618.1l-47.2 5.6M369.4 616.2l-43 5.2M366.3 614.4l-38.9 4.8M363.4 612.6l-34.9 4.4M360.6 610.8l-31 3.9M358 608.9l-27.3 3.6M355.4 607.1l-23.6 3.1M352.9 605.3l-20 2.7M350.5 603.5l-16.5 2.3M348.2 601.7l-13.1 1.8M345.9 599.9l-9.8 1.4M343.7 598.1l-6.5 1M341.5 596.4l-3.2 .4" fill="none" stroke="#000" stroke-opacity="0.45" stroke-width="0.25"/>
<path d="M364.6 676.1h0M411.9 680.8h0M403.6 659.3h0M366 609.1h0M345.8 642.4h0M402 639.4h0M344.1 630.8h0M358.3 656.6h0M353.5 661h0M313.4 643.2h0M419.5 662.4h0M423.3 649.2h0M345.5 666.2h0M392.9 647.7h0M432.2 645.8h0M428.7 622.2h0M356.2 644.4h0M358.1 634.8h0M399.4 692.3h0M404.9 624.7h0M347.9 611h0M418 695.2h0M366.7 651.3h0M365.5 608.6h0M363.4 693.5h0M410.1 642.2h0M411.5 637.1h0M347.6 591.9h0M333.5 627.7h0M332.2 623.7h0M409.3 683.5h0M368.5 664.8h0M342.4 630.6h0M370.3 687h0M373.1 656.9h0M408.4 617.8h0M391.5 643.8h0M344.1 623.5h0M338.6 651.6h0M378.2 629.9h0M389.8 614h0M415 641.2h0M369.1 646h0M402.4 668.5h0M352.2 623.5h0M376.4 619h0M427.3 632h0M352.9 606.2h0M336 675.3h0M410.7 685.3h0M416.1 653h0M388.6 642.6h0M425.2 621.9h0M417.3 651.7h0M339 654.8h0M393.8 663.1h0M417.9 654h0M385.2 615.1h0M377.1 679.9h0M326 645.3h0M326.5 628h0M362.1 646.4h0M411.9 693.1h0M369.1 620.2h0M328.6 648.4h0M373.6 664.6h0M382.7 638h0M375.3 634.2h0M351.8 603.4h0M416.9 632.5h0M378.1 661.3h0M393.9 668.7h0M341.1 617.1h0M392 633.8h0M362.1 668.7h0" stroke="#000" stroke-width="2.3" stroke-linecap="round"/></g>
<g><path d="M314.9 965.5L346.1 948.1L456.1 954.6M315.2 951.8L346.4 934.4L456.4 940.9M315.5 938.7L346.7 921.3L456.7 927.8M315.7 925.6L346.9 908.2L456.9 914.7M316 911.9L347.2 894.5L457.2 901M316.3 898.2L347.5 880.8L457.5 887.3M316.6 884.6L347.8 867.2L457.8 873.7M316.8 870.9L348 853.5L458 860M322.5 977.4L353.7 960L356 846M338.2 978.3L369.4 960.9L371.7 846.9M354 979.2L385.2 961.8L387.5 847.8M369.7 980.1L400.9 962.8L403.2 848.8M385.4 981.1L416.6 963.7L418.9 849.7M401.2 982L432.4 964.6L434.7 850.6M416.9 982.9L448.1 965.5L450.4 851.5M426.4 982.4L316.4 975.9L318.7 861.9M433.4 978.6L323.4 972.1L325.7 858.1M440.3 974.7L330.3 968.2L332.6 854.2M447.2 970.8L337.2 964.3L339.5 850.3M454.2 967L344.2 960.5L346.5 846.5" stroke="#dcdcdc" stroke-width="0.4" fill="none" stroke-dasharray="1 .6"/>
<path d="M314.7 976.9L317 862.9M345.9 959.5L348.2 845.5M455.9 966L458.2 852M317 862.9L348.2 845.5M348.2 845.5L458.2 852M314.7 976.9L424.7 983.4M424.7 983.4L455.9 966" stroke="#a8a8a8" stroke-width=".55" fill="none"/>
<path d="M314.7 976.9L345.9 959.5M345.9 959.5L455.9 966" stroke="#9a9ad8" stroke-width=".55" fill="none"/>
<g fill-rule="evenodd"><path fill="#000fc7" d="M458.2 859l0-.3 0 .3zM362.5 951.3l-14.7 0-.3-.3-3.3 0-.4-.3-5-.4-.3-.3-1.7 0-.3-.3-1.3 0-.4-.4-3-.3-.3-.3-1.3 0-.4-.4-3.6-.6-1.4-.7-1 0-.3-.3-1.7-.4-2.3-1-1 0-2-1-.7 0-.5-.8 1.9-1.2 5.6-4.6 .4 0 1.3-1.4 .3 0 1-1 1.7-1 4.3-3.6 .4 0 1-1 1.6-1 1.4-1.4 1.6-1 4.4-3.6 1.6-1 1-1 .4 0 1.3-1.4 1.3 0 .4 .4 7.6 0 .4-.4 4.3 0 .3-.3 2.7 0 .3-.3 2 0 .4-.4 1.6 0 .4-.3 1.3 0 .3-.3 3-.4 .4-.3 3.6-.7 1.4-.6 1 0 .3-.4 .7 0 .3-.3 4.7-1.3 2.6-1.4 1.7-.3 6-3 .7 0 1.3-1 .7 0 2.6-1.3 .7-.7 2.3-1 .7-.7 2.7-1.3 1.6-1.3 1-.4 .7-.6 1-.4 1-1 1-.3 .7-.7 1.3-.6 1-1 1.3-.7 1-1 .4 0 1-1 .3 0 2.3-2 .4 0 1.3-1.3 1.7-1 3.3-3 .3 0 2.4-2.4 .3 0 2-2 .3 0 3.7-3.6 .3 0 11.2-11.2 0-.3 4.7-4.7 0-.3 3.1-3.2 .2 .2 0 1-.3 .3-.7 2.7-.3 .3-.7 2.7-.3 .3 0 .7-.4 .3 0 .7-.3 .3-.7 2.7-.3 .3-.3 1.7-.7 1-1.3 4.6-.7 1-.3 1.7-.7 1-.3 1.7-1.4 2.6-.3 1.7-.7 1 0 .7-1.3 2.6 0 .7-1 1.7 0 .6-1 1.7 0 .7-1.3 2.3 0 .7-3 5.6-.4 1.4-.6 .6-2 4.4-.7 .6-2 4-.7 .7-1 2-2.3 3-.7 1.3-3.5 4.2-2 1-3.3 2.3-4.7 2.4-.6 .6-9.4 4.7-.6 0-2.4 1.3-.6 0-1 .7-.7 0-2.7 1.3-.6 0-1 .7-3.7 1-.3 .3-3.7 1-.3 .4-1 0-1.4 .6-1 0-.3 .4-2.3 .3-.4 .3-2.3 .4-.3 .3-3 .3-.4 .4-1.6 0-.4 .3-1.6 0-.4 .3-2 0-.3 .4-6.7 .3-.3 .3z"/><path fill="#002cc7" d="M458.2 859l0-.3 0 .3zM362.5 951.3l-9.7 0-.3-.3-2.7 0-.3-.3-4.3 0-.4 .3-.6 0-.4-.3-5-.4-.3-.3-1.7 0-.3-.3-1.3 0-.4-.4-3-.3-.3-.3-1.3 0-.4-.4-3.6-.6-1.4-.7-1 0-.3-.3-1.7-.4-2.3-1-1 0-2-1-.7 0-.5-.8 1.9-1.2 5.6-4.6 .4 0 1.3-1.4 .3 0 1-1 1.7-1 4.3-3.6 .4 0 1-1 1.6-1 1.4-1.4 1.6-1 4.4-3.6 1.6-1 1-1 .4 0 1.3-1.4 1.3 0 .4 .4 7.6 0 .4-.4 4.3 0 .3-.3 2.7 0 .3-.3 2 0 .4-.4 1.6 0 .4-.3 1.3 0 .3-.3 3-.4 .4-.3 3.6-.7 1.4-.6 1 0 .3-.4 .7 0 .3-.3 4.7-1.3 2.6-1.4 1.7-.3 6-3 .7 0 1.3-1 .7 0 2.6-1.3 .7-.7 2.3-1 .7-.7 2.7-1.3 1.6-1.3 1-.4 .7-.6 1-.4 1-1 1-.3 .7-.7 1.3-.6 1-1 1.3-.7 1-1 .4 0 1-1 .3 0 2.3-2 .4 0 1.3-1.3 1.7-1 3.3-3 .3 0 2.4-2.4 .3 0 2-2 .3 0 3.7-3.6 .3 0 11.2-11.2 0-.3 4.7-4.7 0-.3 3.1-3.2 .2 .2 0 1-.3 .3-.7 2.7-.3 .3-.7 2.7-.3 .3 0 .7-.4 .3 0 .7-.3 .3-.7 2.7-.3 .3-.3 1.7-.7 1-1.3 4.6-.7 1-.3 1.7-.7 1-.3 1.7-1.4 2.6-.3 1.7-.7 1 0 .7-1.3 2.6 0 .7-1 1.7 0 .6-1 1.7 0 .7-1.3 2.3 0 .7-3 5.6-.4 1.4-.6 .6-2 4.4-.7 .6-2 4-.7 .7-1 2-2.3 3-.7 1.3-3.5 4.2-2 1-3.3 2.3-4.7 2.4-.6 .6-9.4 4.7-.6 0-2.4 1.3-.6 0-1 .7-.7 0-2.7 1.3-.6 0-1 .7-3.7 1-.3 .3-3.7 1-.3 .4-1 0-1.4 .6-1 0-.3 .4-2.3 .3-.4 .3-2.3 .4-.3 .3-3 .3-.4 .4-1.6 0-.4 .3-1.6 0-.4 .3-2 0-.3 .4-6.7 .3-.3 .3z"/><path fill="#004ac7" d="M458.2 859l0-.3 0 .3zM375.8 949.7l-2 0-.3-.4-3.3-.3-.4-.3-2 0-.3-.4-2 0-.3-.3-2.4 0-.3-.3-2.3 0-.4-.4-7.3-.3-.3-.3-6 0-.4-.4-20.3 0-.3 .4-1 0-.4 .3-.3-.3-1.7-.4-2.3-1-1 0-2-1-.7 0-.5-.8 1.9-1.2 5.6-4.6 .4 0 1.3-1.4 .3 0 1-1 1.7-1 4.3-3.6 .4 0 1-1 1.6-1 1.4-1.4 1.6-1 4.4-3.6 1.6-1 1-1 .4 0 1.3-1.4 1.3 0 .4 .4 7.6 0 .4-.4 4.3 0 .3-.3 2.7 0 .3-.3 2 0 .4-.4 1.6 0 .4-.3 1.3 0 .3-.3 3-.4 .4-.3 3.6-.7 1.4-.6 1 0 .3-.4 .7 0 .3-.3 4.7-1.3 2.6-1.4 1.7-.3 6-3 .7 0 1.3-1 .7 0 2.6-1.3 .7-.7 2.3-1 .7-.7 2.7-1.3 1.6-1.3 1-.4 .7-.6 1-.4 1-1 1-.3 .7-.7 1.3-.6 1-1 1.3-.7 1-1 .4 0 1-1 .3 0 2.3-2 .4 0 1.3-1.3 1.7-1 3.3-3 .3 0 2.4-2.4 .3 0 2-2 .3 0 3.7-3.6 .3 0 11.2-11.2 0-.3 7.8-8.2 .2 1.2-.3 .3-.7 2.7-.3 .3-.7 2.7-.3 .3 0 .7-.4 .3 0 .7-.3 .3-.7 2.7-.3 .3-.3 1.7-.7 1-1.3 4.6-.7 1-.3 1.7-.7 1-.3 1.7-1.4 2.6-.3 1.7-.7 1 0 .7-1.3 2.6 0 .7-1 1.7 0 .6-1 1.7 0 .7-1.3 2.3 0 .7-3 5.6-.4 1.4-.6 .6-2 4.4-.7 .6-2 4-1.3 1.7-.4 1-.6 .7-.7 1.3-1 1-1.7 2.7-1.6 1.6 0 .4-.9 .8-2 1-1.6 1.3-4 2-.7 .7-1.7 .7-.6 .6-12.4 6-.6 0-1 .7-.7 0-2.7 1.3-.6 0-1 .7-3.7 1-.3 .3-3.7 1-.3 .4-1 0-1.4 .6-1 0-.3 .4-2.3 .3-.4 .3-2.3 .4-.3 .3-3 .3-.4 .4z"/><path fill="#0067c7" d="M458.2 859l0-.3 0 .3zM384.5 947.7l-.3 0-.7-.7-2.7-.3-.3-.4-1 0-.3-.3-1.4 0-.3-.3-1.3 0-.4-.4-1.6 0-.4-.3-1.6 0-.4-.3-2 0-.3-.4-2 0-.3-.3-2.4 0-.3-.3-6-.4-.3-.3-3.4 0-.3-.3-4.7 0-.3-.4-7.7 0-.3-.3-9.7 0-.3 .3-8.7 0-.3 .4-4.7 0-.3 .3-1.2-.2 3.5-2.8 .4 0 1.3-1.3 1.7-1 1.3-1.4 .3 0 1-1 1.7-1 1.3-1.3 1.7-1 1.3-1.3 .4 0 1-1 1.6-1 1.4-1.4 1.6-1 1.4-1.3 1.6-1 1.4-1.3 1.6-1 1-1 .4 0 1.3-1.4 1.3 0 .4 .4 7.6 0 .4-.4 4.3 0 .3-.3 2.7 0 .3-.3 2 0 .4-.4 1.6 0 .4-.3 1.3 0 .3-.3 3-.4 .4-.3 3.6-.7 1.4-.6 1 0 .3-.4 .7 0 .3-.3 4.7-1.3 2.6-1.4 1.7-.3 6-3 .7 0 1.3-1 .7 0 2.6-1.3 .7-.7 2.3-1 .7-.7 2.7-1.3 1.6-1.3 1-.4 .7-.6 1-.4 1-1 1-.3 .7-.7 1.3-.6 1-1 1.3-.7 1-1 .4 0 1-1 .3 0 2.3-2 .4 0 1.3-1.3 1.7-1 3.3-3 .3 0 2.4-2.4 .3 0 2-2 .3 0 3.7-3.6 .3 0 11.2-11.2 0-.3 7.8-8.2 .2 1.2-.3 .3-.7 2.7-.3 .3-.7 2.7-.3 .3 0 .7-.4 .3 0 .7-.3 .3-.7 2.7-.3 .3-.3 1.7-.7 1-1.3 4.6-.7 1 0 .7-1 2-.3 1.7-1.4 2.6-.3 1.7-.7 1 0 .7-1.3 2.6 0 .7-2 4 0 .7-4.3 8.6 0 .7-1 1.3-2 4.4-.7 .6-.7 1.7-.6 .7-.7 1.6-1.3 1.7-.4 1-2.3 3-.7 1.3-1 1 0 .4-2.5 2.8-2 1-1.6 1.3-4 2-.7 .7-1.7 .7-.6 .6-9.4 4.7-.6 0-2.4 1.3-.6 0-1 .7-.7 0-2.7 1.3-.6 0-1 .7-3.7 1-.3 .3-3.7 1-.3 .4-1 0-1.4 .6-1 0-.3 .4z"/><path fill="#0084c7" d="M458.2 859l0-.3 0 .3zM392.2 945.3l-.7-.6-1 0-1-.7-1 0-.3-.3-1 0-.4-.4-1.3 0-.3-.3-1 0-.4-.3-1 0-.3-.4-3-.3-.3-.3-3.7-.4-.3-.3-2 0-.4-.3-1.6 0-.4-.4-1.6 0-.4-.3-5.3-.3-.3-.4-2.7 0-.3-.3-7-.3-.4-.4-4.3 0-.3-.3-.4 .3-.3-.3-22 0-.3 .3-2.9-.1 4.9-3.9 .3 0 1.3-1.3 1.7-1 1.3-1.3 .4 0 1-1 1.6-1 1.4-1.4 1.6-1 1.4-1.3 1.6-1 1.4-1.3 1.6-1 1-1 .4 0 1.3-1.4 1.3 0 .4 .4 7.6 0 .4-.4 4.3 0 .3-.3 2.7 0 .3-.3 2 0 .4-.4 1.6 0 .4-.3 1.3 0 .3-.3 3-.4 .4-.3 3.6-.7 1.4-.6 1 0 .3-.4 .7 0 .3-.3 4.7-1.3 2.6-1.4 1.7-.3 6-3 .7 0 1.3-1 .7 0 2.6-1.3 .7-.7 2.3-1 .7-.7 2.7-1.3 1.6-1.3 1-.4 .7-.6 1-.4 1-1 1-.3 .7-.7 1.3-.6 1-1 1.3-.7 1-1 .4 0 1-1 .3 0 2.3-2 .4 0 1.3-1.3 1.7-1 3.3-3 .3 0 2.4-2.4 .3 0 2-2 .3 0 3.7-3.6 .3 0 11.2-11.2 0-.3 7.8-8.2 .2 1.2-.3 .3-.7 2.7-.3 .3-.7 2.7-.3 .3 0 .7-.4 .3 0 .7-.3 .3-.7 2.7-.3 .3-.3 1.7-.7 1-1.3 4.6-.7 1 0 .7-1 2-.3 1.7-1.4 2.6-.3 1.7-.7 1 0 .7-1.3 2.6 0 .7-2 4 0 .7-4.3 8.6 0 .7-1 1.3-2 4.4-.7 .6-.7 1.7-.6 .7-.7 1.6-1.3 1.7-.4 1-2.3 3-.7 1.3-1 1 0 .4-2.5 2.8-2 1-3.3 2.3-4.7 2.4-.6 .6-12.4 6-.6 0-1 .7-.7 0-2.7 1.3-.6 0-1 .7-3.7 1-.3 .3z"/><path fill="#00a1c7" d="M458.2 859l0-.3 0 .3zM399.5 942.7l-3.7-1-1-.7-1 0-.3-.3-1 0-.3-.4-1 0-.4-.3-1 0-.3-.3-2.3-.4-.4-.3-1.3 0-.3-.3-1.4 0-.3-.4-3-.3-.3-.3-1.7 0-.3-.4-1.7 0-.3-.3-1.7 0-.3-.3-1.7 0-.3-.4-2 0-.4-.3-4.6-.3-.4-.4-5.3-.3-.3-.3-2.7 0-.3-.4-3.4 0-.3-.3-4.7 0-.3-.3-19.2-.2 6.2-4.8 .3 0 1.4-1.4 1.6-1 1.4-1.3 1.6-1 1.4-1.3 1.6-1 1-1 .4 0 1.3-1.4 1.3 0 .4 .4 7.6 0 .4-.4 4.3 0 .3-.3 2.7 0 .3-.3 2 0 .4-.4 1.6 0 .4-.3 1.3 0 .3-.3 3-.4 .4-.3 3.6-.7 1.4-.6 1 0 .3-.4 .7 0 .3-.3 4.7-1.3 2.6-1.4 1.7-.3 6-3 .7 0 1.3-1 .7 0 2.6-1.3 .7-.7 2.3-1 .7-.7 2.7-1.3 1.6-1.3 1-.4 .7-.6 1-.4 1-1 1-.3 .7-.7 1.3-.6 1-1 1.3-.7 1-1 .4 0 1-1 .3 0 2.3-2 .4 0 1.3-1.3 1.7-1 3.3-3 .3 0 2.4-2.4 .3 0 2-2 .3 0 3.7-3.6 .3 0 11.2-11.2 0-.3 7.8-8.2 .2 1.2-.3 .3-.7 2.7-.3 .3-.7 2.7-.3 .3 0 .7-.4 .3 0 .7-.3 .3-.7 2.7-.3 .3-.3 1.7-.7 1-1.3 4.6-.7 1-.3 1.7-.7 1-.3 1.7-1.4 2.6-.3 1.7-.7 1 0 .7-1.3 2.6 0 .7-1 1.7 0 .6-1 1.7 0 .7-1.3 2.3 0 .7-3 5.6-.4 1.4-.6 .6-2 4.4-.7 .6-2 4-1.3 1.7-.4 1-.6 .7-.7 1.3-1 1-1.7 2.7-1.6 1.6 0 .4-1.9 1.5-1 .3-3.3 2.3-4.7 2.4-.6 .6-9.4 4.7-.6 0-2.4 1.3-.6 0-2.7 1.4z"/><path fill="#00bec7" d="M458.2 859l0-.3 0 .3zM404.8 940.3l-3.3-1.6-1.7-.4-1.3-.6-1 0-1.3-.7-1.4 0-1.3-.7-1.3 0-.4-.3-2.3-.3-.3-.4-1.4 0-.3-.3-2.7-.3-.3-.4-1.7 0-.3-.3-3.3-.3-.4-.4-1.3 0-.3-.3-3.7-.3-.3-.4-1.4 0-.3-.3-2 0-.3-.3-2 0-.4-.4-2 0-.3-.3-2.3 0-.4-.3-2 0-.3-.4-2.7 0-.3-.3-3.3 0-.4-.3-3.6 0-.4-.4-6.3 0-.3-.3-7.9-.2 3.2-2.5 .3 0 2.7-2.3 .3 0 1.4-1.3 1.6-1 1-1 .4 0 1.3-1.4 1.3 0 .4 .4 7.6 0 .4-.4 4.3 0 .3-.3 2.7 0 .3-.3 2 0 .4-.4 1.6 0 .4-.3 1.3 0 .3-.3 3-.4 .4-.3 3.6-.7 1.4-.6 1 0 .3-.4 .7 0 .3-.3 4.7-1.3 2.6-1.4 1.7-.3 6-3 .7 0 1.3-1 .7 0 2.6-1.3 .7-.7 2.3-1 .7-.7 2.7-1.3 1.6-1.3 1-.4 .7-.6 1-.4 1-1 1-.3 .7-.7 1.3-.6 1-1 1.3-.7 1-1 .4 0 1-1 .3 0 2.3-2 .4 0 1.3-1.3 1.7-1 3.3-3 .3 0 2.4-2.4 .3 0 2-2 .3 0 3.7-3.6 .3 0 11.2-11.2 0-.3 7.8-8.2 .2 1.2-.3 .3-.7 2.7-.3 .3-.7 2.7-.3 .3 0 .7-.4 .3 0 .7-.3 .3-.7 2.7-.3 .3-.3 1.7-.7 1-1.3 4.6-.7 1-.3 1.7-.7 1-.3 1.7-1.4 2.6-.3 1.7-.7 1 0 .7-1.3 2.6 0 .7-1 1.7 0 .6-1 1.7 0 .7-1.3 2.3 0 .7-3 5.6-.4 1.4-.6 .6-2 4.4-.7 .6-.7 1.7-.6 .7-.7 1.6-1.3 1.7-.4 1-2.3 3-.7 1.3-1 1 0 .4-2.5 2.8-2 1-3.3 2.3-4.7 2.4-.6 .6-10.4 5z"/><path fill="#00c7b3" d="M458.2 859l0-.3 0 .3zM410.5 937.7l-.7 0-4.6-2.4-2-.3-1.4-.7-2.3-.3-1.3-.7-1 0-.4-.3-1 0-.3-.3-1.3 0-.4-.4-2.3-.3-.3-.3-1 0-.4-.4-1.3 0-.3-.3-1.4 0-.3-.3-1.3 0-.4-.4-1.3 0-.3-.3-1 0-.4-.3-3.6-.4-.4-.3-1.3 0-.3-.3-1.4 0-.3-.4-1.7 0-.3-.3-1.3 0-.4-.3-3.6-.4-.4-.3-1.6 0-.4-.3-1.6 0-.4-.4-2.3 0-.3-.3-2 0-.4-.3-2.3 0-.3-.4-7-.3-.4-.3-7.8-.2 4.8-3.8 .4 0 1.3-1.4 1.3 0 .4 .4 7.6 0 .4-.4 4.3 0 .3-.3 2.7 0 .3-.3 2 0 .4-.4 1.6 0 .4-.3 1.3 0 .3-.3 3-.4 .4-.3 3.6-.7 1.4-.6 1 0 .3-.4 .7 0 .3-.3 4.7-1.3 2.6-1.4 1.7-.3 6-3 .7 0 1.3-1 .7 0 2.6-1.3 .7-.7 2.3-1 .7-.7 2.7-1.3 1.6-1.3 1-.4 .7-.6 1-.4 1-1 1-.3 .7-.7 1.3-.6 1-1 1.3-.7 1-1 .4 0 1-1 .3 0 2.3-2 .4 0 1.3-1.3 1.7-1 3.3-3 .3 0 2.4-2.4 .3 0 2-2 .3 0 3.7-3.6 .3 0 11.2-11.2 0-.3 7.8-8.2 .2 1.2-.3 .3-.7 2.7-.3 .3-.7 2.7-.3 .3 0 .7-.4 .3 0 .7-.3 .3-.7 2.7-.3 .3-.3 1.7-.7 1-1.3 4.6-.7 1-.3 1.7-.7 1-.3 1.7-1.4 2.6-.3 1.7-.7 1 0 .7-1.3 2.6 0 .7-1 1.7 0 .6-1 1.7 0 .7-1.3 2.3 0 .7-3 5.6 0 .7-1 1.3-2 4.4-.7 .6-2 4-.7 .7-1 2-2.3 3-.7 1.3-3.5 4.2-2 1-3.3 2.3-2.3 1-.7 .7-1.7 .7-.6 .6-4.7 2.4z"/><path fill="#00c797" d="M458.2 859l0-.3 0 .3zM415.2 935.3l-.4 0-1-1-2.6-1.3-.7 0-.3-.3-.7 0-.3-.4-.7 0-2.3-1-1 0-1.4-.6-1 0-1.3-.7-1.3 0-1.4-.7-1.3 0-.3-.3-2.4-.3-.3-.4-1.3 0-.4-.3-1 0-.3-.3-1 0-.3-.4-1.4 0-.3-.3-3-.3-.3-.4-1 0-.4-.3-1 0-.3-.3-1.3 0-.4-.4-1 0-.3-.3-1.7 0-.3-.3-2.7-.4-.3-.3-1.3 0-.4-.3-1.3 0-.3-.4-1.7 0-.3-.3-1.4 0-.3-.3-1.3 0-.4-.4-1.3 0-.3-.3-1.7 0-.3-.3-1.7 0-.3-.4-1.7 0-.3-.3-2 0-.4-.3-2.6 0-.4-.4-3 0-.3-.3-3.5-.2 .5-.5 1.3 0 .4 .4 7.6 0 .4-.4 4.3 0 .3-.3 2.7 0 .3-.3 2 0 .4-.4 1.6 0 .4-.3 1.3 0 .3-.3 3-.4 .4-.3 3.6-.7 1.4-.6 1 0 .3-.4 .7 0 .3-.3 4.7-1.3 2.6-1.4 1.7-.3 2.3-1.3 .7 0 3-1.7 1.3-.3 .7-.7 .7 0 2.6-1.3 .7-.7 2.3-1 .7-.7 2.7-1.3 1.6-1.3 1-.4 .7-.6 1-.4 1-1 1-.3 .7-.7 1.3-.6 1-1 1.3-.7 1-1 .4 0 1-1 .3 0 2.3-2 .4 0 1.3-1.3 1.7-1 3.3-3 .3 0 2.4-2.4 .3 0 2-2 .3 0 3.7-3.6 .3 0 11.2-11.2 0-.3 7.8-8.2 .2 1.2-.3 .3-.7 2.7-.3 .3-.7 2.7-.3 .3 0 .7-.4 .3 0 .7-.3 .3-.7 2.7-.3 .3-.3 1.7-.7 1-1.3 4.6-.7 1 0 .7-1 2-.3 1.7-.7 1 0 .6-.7 1-.3 1.7-.7 1 0 .7-1.3 2.6 0 .7-1 1.7 0 .6-1 1.7 0 .7-1.3 2.3 0 .7-6 12-.7 .6-.7 1.7-.6 .7-.7 1.6-1.3 1.7-.4 1-2.3 3-.7 1.3-1 1 0 .4-1.6 1.6 0 .4-.9 .8-2 1-1.6 1.3-4 2-.7 .7-1.7 .7-.6 .6z"/><path fill="#00c77b" d="M458.2 859l0-.3 0 .3zM419.8 932.7l-4-2.4-.6 0-1-.6-.7 0-.3-.4-2.7-.6-.3-.4-1 0-1.4-.6-1 0-.3-.4-1 0-1.3-.6-1 0-.4-.4-1 0-.3-.3-1 0-.3-.3-1 0-.4-.4-1 0-.3-.3-1.3 0-1.4-.7-3-.3-.3-.3-1 0-.3-.4-1 0-.4-.3-3.6-.7-.4-.3-1.3 0-.3-.3-1 0-.4-.4-1 0-.3-.3-1 0-.3-.3-1.4 0-.3-.4-1 0-.3-.3-1 0-.4-.3-1 0-.3-.4-1.3 0-.4-.3-1 0-.3-.3-1 0-.3-.4-1.2-.1 1.5-.2 .3-.3 1.4 0 .3-.4 1.3 0 .4-.3 3.6-.7 1.4-.6 1 0 .3-.4 .7 0 .3-.3 4.7-1.3 2.6-1.4 1.7-.3 6-3 .7 0 1.3-1 .7 0 2.6-1.3 .7-.7 2.3-1 .7-.7 2.7-1.3 1.6-1.3 2.7-1.4 1-1 1-.3 .7-.7 1.3-.6 1-1 1.3-.7 1-1 .4 0 1-1 .3 0 2.3-2 .4 0 1.3-1.3 1.7-1 3.3-3 .3 0 4.7-4.4 .3 0 15.2-14.8 0-.3 7.8-8.2 .2 1.2-.3 .3-.7 2.7-.3 .3-.7 2.7-.3 .3 0 .7-.4 .3 0 .7-.3 .3-.7 2.7-.3 .3-.3 1.7-.7 1-1.3 4.6-.7 1-.3 1.7-.7 1-.3 1.7-1.4 2.6-.3 1.7-.7 1 0 .7-1.3 2.6 0 .7-2 4 0 .7-4.3 8.6-.4 1.4-.6 .6-2 4.4-.7 .6-2 4-1.3 1.7-.4 1-.6 .7-.7 1.3-2.7 3.3 0 .4-2.5 2.8-2 1-1.6 1.3-1 .4-1.4 1z"/><path fill="#00c760" d="M458.2 859l0-.3 0 .3zM424.2 930l-.7 0-.3-.7-2.7-1.6-.7 0-1-.7-.6 0-.4-.3-.6 0-2.4-1-1 0-1-.7-1 0-.3-.3-2-.4-.3-.3-3.7-.7-1.3-.6-1 0-.4-.4-1 0-.3-.3-1 0-.3-.3-2.4-.4-.3-.3-1 0-.3-.3-1 0-.4-.4-1 0-.3-.3-1 0-.3-.3-1 0-.4-.4-1 0-.3-.3-1 0-.3-.3-1 0-1.4-.7-1 0-.3-.3-1 0-1.3-.7-2.4-.3-1.8-.9 1.2-.1 .3-.4 .7 0 .3-.3 .7 0 .3-.3 2.7-.7 .3-.3 .7 0 2.6-1.4 1.7-.3 2.3-1.3 .7 0 3-1.7 .7 0 1.3-1 .7 0 2.6-1.3 .7-.7 2.3-1 .7-.7 2.7-1.3 1.6-1.3 1-.4 .7-.6 1-.4 1-1 1-.3 .7-.7 1.3-.6 1-1 1.3-.7 1-1 .4 0 1-1 .3 0 2.3-2 .4 0 1.3-1.3 1.7-1 8.3-7.4 .3 0 15.2-14.8 0-.3 7.8-8.2 .2 1.2-.3 .3-.7 2.7-.3 .3-.7 2.7-.3 .3 0 .7-.4 .3 0 .7-.3 .3-.7 2.7-.3 .3-.3 1.7-.7 1-1.3 4.6-.7 1-.3 1.7-.7 1-.3 1.7-1.4 2.6-.3 1.7-.7 1 0 .7-1.3 2.6 0 .7-1 1.7 0 .6-1 1.7 0 .7-1.3 2.3 0 .7-3 5.6 0 .7-1 1.3-2 4.4-.7 .6-2 4-1.3 1.7-.4 1-.6 .7-.7 1.3-1 1-1.7 2.7-1.6 1.6 0 .4-2.5 1.8z"/><path fill="#00c745" d="M458.2 859l0-.3 0 .3zM427.5 927l-1.7-1.3-2.6-1.4-.7 0-.3-.3-2.7-.7-.3-.3-2.7-.7-.3-.3-1 0-1.4-.7-2-.3-.3-.3-3.7-.7-1.3-.7-1.3 0-1.4-.6-2.3-.4-.3-.3-2-.3-.4-.4-1 0-1.3-.6-3.7-.7-1.3-.7-1 0-1.3-.6-1 0-2.9-1.2 2.5-1.2 1.7-.3 6-3 .7 0 1.3-1 .7 0 2.6-1.3 .7-.7 2.3-1 .7-.7 2.7-1.3 1.6-1.3 1-.4 .7-.6 1-.4 1-1 1-.3 .7-.7 1.3-.6 1-1 1.3-.7 1-1 .4 0 1-1 .3 0 2.3-2 .4 0 1.3-1.3 1.7-1 3.3-3 .3 0 2.4-2.4 .3 0 2-2 .3 0 3.7-3.6 .3 0 11.2-11.2 0-.3 7.8-8.2 .2 1.2-.3 .3-.7 2.7-.3 .3-.7 2.7-.3 .3 0 .7-.4 .3 0 .7-.3 .3-.7 2.7-.3 .3-.3 1.7-.7 1-1.3 4.6-.7 1-.3 1.7-.7 1-.3 1.7-1.4 2.6-.3 1.7-.7 1 0 .7-1.3 2.6 0 .7-1 1.7 0 .6-1 1.7 0 .7-1.3 2.3 0 .7-3 5.6-.4 1.4-.6 .6-2 4.4-.7 .6-2 4-1.3 1.7-.4 1-.6 .7-.7 1.3-3.5 4.5z"/><path fill="#00c72a" d="M458.2 859l0-.3 0 .3zM430.5 923l-1 0-3-1.7-1.7-.3-.3-.3-4.7-1.4-.3-.3-2.3-.3-.4-.4-2-.3-1.3-.7-1 0-.3-.3-2.4-.3-1.3-.7-1 0-1.3-.7-2.4-.3-1.3-.7-1 0-1.3-.6-1 0-1.4-.7-1 0-1.3-.7-2-.3-.3-.3-1.9-.5 .5-.5 .7 0 3-1.7 1.3-.3 .7-.7 .7 0 2.6-1.3 .7-.7 2.3-1 .7-.7 2.7-1.3 1.6-1.3 2.7-1.4 1-1 1-.3 .7-.7 1.3-.6 1-1 1.3-.7 1-1 .4 0 1-1 .3 0 2.3-2 .4 0 1.3-1.3 1.7-1 8.3-7.4 .3 0 3.7-3.6 .3 0 11.2-11.2 0-.3 7.8-8.2 .2 1.2-.3 .3-.7 2.7-.3 .3-.7 2.7-.3 .3 0 .7-.4 .3 0 .7-.3 .3-.7 2.7-.3 .3-.3 1.7-.7 1-1.3 4.6-.7 1-.3 1.7-.7 1-.3 1.7-1.4 2.6-.3 1.7-.7 1 0 .7-1.3 2.6 0 .7-1 1.7 0 .6-1 1.7 0 .7-1.3 2.3 0 .7-3 5.6-.4 1.4-.6 .6-2 4.4-.7 .6-2 4-3.5 5.2z"/><path fill="#00c710" d="M458.2 859l0-.3 0 .3zM432.5 919.7l-4-1.7-3.7-1-1.3-.7-1 0-1-.6-1.3 0-1.4-.7-1 0-1.3-.7-1 0-1.3-.6-1 0-.4-.4-2-.3-1.3-.7-1 0-.3-.3-1 0-1.4-.7-1 0-.3-.3-.7 0-.3-.3-1.7-.4-1.3-.6-1 0-.3-.4-1.7-.3-.5-.5 .5-.5 .7 0 2.6-1.3 .7-.7 2.3-1 .7-.7 2.7-1.3 1.6-1.3 2.7-1.4 1-1 1-.3 3-2.3 1.3-.7 1-1 .4 0 1-1 .3 0 2.3-2 .4 0 1.3-1.3 1.7-1 1.3-1.4 .3 0 4.4-4 .3 0 2-2 .3 0 3.7-3.6 .3 0 11.2-11.2 0-.3 7.8-8.2 .2 1.2-.3 .3-.7 2.7-.3 .3-.7 2.7-.3 .3 0 .7-.4 .3 0 .7-.3 .3-.7 2.7-.3 .3-.3 1.7-.7 1-1.3 4.6-.7 1-.3 1.7-.7 1-.3 1.7-1.4 2.6-.3 1.7-.7 1 0 .7-1.3 2.6 0 .7-1 1.7 0 .6-1 1.7 0 .7-1.3 2.3 0 .7-3 5.6-.4 1.4-.6 .6-2 4.4-.7 .6-2 4-1.5 1.9z"/><path fill="#0ac700" d="M458.2 859l0-.3 0 .3zM434.5 916.3l-2-1-2.7-.6-2.3-1-1 0-2.3-1-1 0-1.4-.7-1 0-2.3-1-2.3-.3-2.4-1-2.3-.4-2.3-1-1 0-1.4-.6-1 0-2-1-1 0-1.1-.5 13.8-8.5 1-1 1.3-.7 1-1 .4 0 1-1 .3 0 2.3-2 .4 0 1.3-1.3 1.7-1 3.3-3 .3 0 2.4-2.4 .3 0 2-2 .3 0 3.7-3.6 .3 0 11.2-11.2 0-.3 7.8-8.2 .2 1.2-.3 .3-.7 2.7-.3 .3-.7 2.7-.3 .3 0 .7-.4 .3 0 .7-.3 .3-.7 2.7-.3 .3-.3 1.7-.7 1-1.3 4.6-.7 1-.3 1.7-.7 1-.3 1.7-1.4 2.6-.3 1.7-.7 1 0 .7-1.3 2.6 0 .7-1 1.7 0 .6-1 1.7 0 .7-1.3 2.3 0 .7-3 5.6-.4 1.4-.6 .6-3.4 6.7-.8 .8z"/><path fill="#23c700" d="M458.2 859l0-.3 0 .3zM436.5 913l-2-1-1 0-.3-.3-1.7-.4-2.3-1-1 0-.4-.3-1.6-.3-.4-.4-1 0-2.3-1-2.3-.3-1.4-.7-1 0-.3-.3-.7 0-1.3-.7-1 0-1.3-.6-1 0-.4-.4-1.6-.3-2.4-1-1 0-.8-.5 1.2-.5 1.6-1.3 1-.4 .7-.6 1-.4 1-1 1-.3 .7-.7 1.3-.6 1-1 1.3-.7 1-1 .4 0 1-1 .3 0 2.3-2 .4 0 1.3-1.3 1.7-1 3.3-3 .3 0 2.4-2.4 .3 0 2-2 .3 0 3.7-3.6 .3 0 11.2-11.2 0-.3 7.8-8.2 .2 1.2-.3 .3-.7 2.7-.3 .3-.7 2.7-.3 .3 0 .7-.4 .3 0 .7-.3 .3-.7 2.7-.3 .3-.3 1.7-.7 1-1.3 4.6-.7 1 0 .7-1 2-.3 1.7-.7 1 0 .6-.7 1-.3 1.7-.7 1 0 .7-1.3 2.6 0 .7-1 1.7 0 .6-1 1.7 0 .7-1.3 2.3 0 .7-3 5.6-.4 1.4-.6 .6-1.7 3.7-.5 .5z"/><path fill="#3cc700" d="M458.2 859l0-.3 0 .3zM438.5 909.3l-1.3 0-1-.6-1 0-2.4-1-1 0-.3-.4-.7 0-1.3-.6-1 0-2.3-1-1 0-1.4-.7-1 0-1.3-.7-1 0-1.3-.6-1 0-1-.7-2-.3-1.4-.7-1 0-2.5-1.2 1.2-.5 1-1 1-.3 .7-.7 1.3-.6 1-1 1.3-.7 1-1 .4 0 1-1 .3 0 2.3-2 .4 0 1.3-1.3 1.7-1 3.3-3 .3 0 4.7-4.4 .3 0 15.2-14.8 0-.3 7.8-8.2 .2 1.2-.3 .3-.7 2.7-.3 .3-.7 2.7-.3 .3 0 .7-.4 .3 0 .7-.3 .3-.7 2.7-.3 .3-.3 1.7-.7 1-1.3 4.6-.7 1-.3 1.7-.7 1-.3 1.7-1.4 2.6-.3 1.7-.7 1 0 .7-1.3 2.6 0 .7-2 4 0 .7-4.3 8.6 0 .7-1.2 1.8z"/><path fill="#55c700" d="M458.2 859l0-.3 0 .3zM439.8 906.3l-2.3-1-1 0-2.3-1-1 0-.4-.3-.6 0-1.4-.7-1 0-1.3-.6-1 0-2.3-1-1 0-.4-.4-2.6-.6-.4-.4-1 0-1.3-.6-4.2-1.2 2.2-1.8 1.3-.7 1-1 .4 0 2.3-2 .3 0 1-1 .4 0 2.6-2.3 .4 0 8.3-7.4 .3 0 15.2-14.8 0-.3 7.8-8.2 .2 1.2-.3 .3-.7 2.7-.3 .3-.7 2.7-.3 .3 0 .7-.4 .3 0 .7-.3 .3-.7 2.7-.3 .3-.3 1.7-.7 1-1.3 4.6-.7 1-.3 1.7-.7 1-.3 1.7-1.4 2.6-.3 1.7-.7 1 0 .7-1.3 2.6 0 .7-2 4 0 .7-1.3 2.3 0 .7-2.4 4.6-.5 .5z"/><path fill="#6cc700" d="M458.2 859l0-.3 0 .3zM441.5 903l-2.3-.7-.4-.3-2-.3-.3-.4-1 0-2.3-1-1 0-1.4-.6-1 0-1-.7-2.3-.3-.3-.4-2.7-.6-.3-.4-1 0-.4-.3-.6 0-.4-.3-.6 0-.4-.4-1.8-.5 4.8-3.8 .4 0 1.3-1.3 1.7-1 1.3-1.4 .3 0 4.4-4 .3 0 2-2 .3 0 3.7-3.6 .3 0 11.2-11.2 0-.3 7.8-8.2 .2 1.2-.3 .3-.7 2.7-.3 .3-.7 2.7-.3 .3 0 .7-.4 .3 0 .7-.3 .3-.7 2.7-.3 .3-.3 1.7-.7 1-1.3 4.6-.7 1-.3 1.7-.7 1-.3 1.7-1.4 2.6-.3 1.7-.7 1 0 .7-1.3 2.6 0 .7-1 1.7 0 .6-1 1.7 0 .7-1.3 2.3 0 .7-1.2 1.8z"/><path fill="#84c700" d="M458.2 859l0-.3 0 .3zM443.2 899.7l-2-.4-1.4-.6-1 0-2.3-1-1 0-2.3-1-1 0-.4-.4-1.6-.3-.4-.3-2.3-.4-1.3-.6-.7 0-1-.7-1 0-1-.7-.8-.1 2.8-2.5 1.7-1 1.3-1.4 .3 0 1.7-1.6 .3 0 2.4-2.4 .3 0 2-2 .3 0 3.7-3.6 .3 0 11.2-11.2 0-.3 7.8-8.2 .2 1.2-.3 .3-.7 2.7-.3 .3-.7 2.7-.3 .3 0 .7-.4 .3 0 .7-.3 .3-.7 2.7-.3 .3-.3 1.7-.7 1-1.3 4.6-.7 1-.3 1.7-.7 1-.3 1.7-1.4 2.6-.3 1.7-.7 1 0 .7-1.3 2.6 0 .7-1 1.7 0 .6-1.8 3.9z"/><path fill="#9bc700" d="M458.2 859l0-.3 0 .3zM444.5 896.7l-.3-.4-2-.3-2.4-1-2.3-.3-1-.7-1 0-.3-.3-1 0-1.4-.7-.6 0-.4-.3-1 0-.3-.4-1.7-.3-.3-.3-1.7-.4-1.8-.8 2.5-2.2 .3 0 1.7-1.6 .3 0 2.4-2.4 .3 0 2-2 .3 0 3.7-3.6 .3 0 11.2-11.2 0-.3 7.8-8.2 .2 1.2-.3 .3-.7 2.7-.3 .3-.7 2.7-.3 .3 0 .7-.4 .3 0 .7-.3 .3-.7 2.7-.3 .3-.3 1.7-.7 1-1.3 4.6-.7 1-.3 1.7-.7 1-.3 1.7-1.4 2.6-.3 1.7-.7 1 0 .7-.6 1 0 .6-.7 1 0 .7-1 1.7 0 .6-.5 .9z"/><path fill="#b2c700" d="M458.2 859l0-.3 0 .3zM445.8 893.7l-.6-.7-2-.3-1.4-.7-1 0-.3-.3-1 0-1-.7-1 0-.3-.3-2-.4-.4-.3-2.6-.7-.4-.3-1 0-1-.7-1 0-.5-.5 6.2-5.5 .3 0 3.7-3.6 .3 0 11.2-11.2 0-.3 7.8-8.2 .2 1.2-.3 .3-.7 2.7-.3 .3-.7 2.7-.3 .3 0 .7-.4 .3 0 .7-.3 .3-.7 2.7-.3 .3-.3 1.7-.7 1-1.3 4.6-.7 1-.3 1.7-.7 1-.3 1.7-.7 1 0 .6-.7 1-.3 1.7-.7 1 0 .7-.6 1 0 .6-.7 1-.2 .9z"/><path fill="#c7c700" d="M458.2 859l0-.3 0 .3zM447.2 890.3l-2.4-1-1 0-2.3-1-1 0-2.3-1-1 0-.4-.3-3.6-1-.4-.3-1 0-.5-.5 3.2-2.9 .3 0 3.7-3.6 .3 0 11.2-11.2 0-.3 7.8-8.2 .2 1.2-.3 .3-.7 2.7-.3 .3-.7 2.7-.3 .3 0 .7-.4 .3 0 .7-.3 .3-.7 2.7-.3 .3-.3 1.7-.7 1-1.3 4.6-.7 1-.3 1.7-.7 1-.3 1.7-.7 1 0 .6-.7 1 0 .7-1.1 2.8z"/><path fill="#c7bb00" d="M458.2 859l0-.3 0 .3zM448.2 887l-1.4-.7-2.3-.3-.3-.3-2.7-.7-.3-.3-1 0-.4-.4-2.6-.6-.4-.4-1 0-.3-.3-.7 0-.5-.5 .5-.2 5.4-5 9.8-9.8 0-.3 7.8-8.2 .2 1.2-.3 .3-.7 2.7-.3 .3-.7 2.7-.3 .3 0 .7-.4 .3 0 .7-.3 .3-.7 2.7-.3 .3-.3 1.7-.7 1-1.3 4.6-.7 1-.3 1.7-.7 1-.3 1.7-.7 1-.3 1.3-.5 .5z"/><path fill="#c7ab00" d="M458.2 859l0-.3 0 .3zM449.5 883.7l-2-.4-.3-.3-.7 0-1.3-.7-1 0-1.4-.6-1 0-.3-.4-.7 0-2.3-1-.7 0-.5-.5 1.2-1.1 .3 0 11.2-11.2 0-.3 7.8-8.2 .2 1.2-.3 .3-.7 2.7-.3 .3-.7 2.7-.3 .3 0 .7-.4 .3 0 .7-.3 .3-.7 2.7-.3 .3-.3 1.7-.7 1 0 .6-.3 .4-1 3.6-.7 1-.3 1.7-.7 1 0 .7-.5 .5z"/><path fill="#c79800" d="M458.2 859l0-.3 0 .3zM450.8 880.7l-.6-.4-1 0-2.4-1-1 0-1.3-.6-2.7-.7-.3-.3-1 0-.2-.5 9.7-9.7 0-.3 7.8-8.2 .2 1.2-.3 .3-.7 2.7-.3 .3 0 .7-.4 .3-1 3.7-.3 .3 0 .7-.3 .3 0 .7-1 2.3 0 .7-.7 1 0 .6-.3 .4 0 .6-.4 .4 0 .6-.3 .4 0 .6-1.2 2.9z"/><path fill="#c78300" d="M458.2 859l0-.3 0 .3zM451.8 877.3l-1 0-2.3-1-2-.3-.3-.3-1 0-.4-.4-1.6-.3-.2-.5 7-7 0-.3 7.8-8.2 .2 1.2-.3 .3-.7 2.7-.3 .3-.7 2.7-.3 .3 0 .7-.4 .3 0 .7-.3 .3-.7 2.7-.3 .3-.3 1.7-.7 1-.7 2.6-.5 .5z"/><path fill="#c76e00" d="M458.2 859l0-.3 0 .3zM452.8 874.3l-1.3-.3-.3-.3-2-.4-1.4-.6-2-.4-.1-.5 12.1-12.8 .2 1.2-.3 .3-.7 2.7-.3 .3-.7 2.7-.3 .3 0 .7-.4 .3 0 .7-.3 .3-.7 2.7-.3 .3-.3 1.7-.9 1.1z"/><path fill="#c75700" d="M458.2 859l0-.3 0 .3zM454.2 871.3l-2.4-.6-.3-.4-.7 0-.3-.3-2-.3-.2-.5 9.5-10.2 .2 1.2-.3 .3 0 .7-.4 .3 0 .7-.3 .3 0 .7-.3 .3 0 .7-.4 .3 0 .7-.3 .3 0 .7-.3 .3 0 .7-.4 .3 0 .7-.3 .3 0 .7-.3 .3-.5 1.8z"/><path fill="#c73f00" d="M458.2 859l0-.3 0 .3zM455.2 868l-1 0-2.4-1-1 0-.1-.5 7.1-7.5 .2 1.2-.3 .3-.7 2.7-.3 .3 0 .7-.4 .3 0 .7-1.1 2.8z"/><path fill="#c72600" d="M458.2 859l0-.3 0 .3zM456.2 865l-2.7-.7-.2-.5 4.5-4.8 .2 1.2-.3 .3-.7 2.7-.8 1.8z"/><path fill="#c70d00" d="M458.2 859l0-.3 0 .3zM457.2 862l-.4-.3-.6 0-.5-.5 2.1-2.2 .2 1.2-.8 1.8z"/></g>
<path d="M362.6 951l-13.5-1.2-13.8-.4M373 949.8l-10.9-1.6-12.4-1-12.4-.4-12.3 .2M380.1 948.4l-13.5-2.3-16.3-1.6-16.2-.4-16.2 .7M385.9 947l-14.6-3-18.6-2-17.3-.6-17.9 .8M390.9 945.5l-6.1-1.7-8.3-1.6-19.7-2.6-17.9-.9-17.6 .5M395.4 943.9l-5.7-1.7-8.2-1.8-20.3-3.1-18.3-1.2-17.7 .2M399.4 942.4l-5.2-1.8-8-2-21.3-3.5-18.6-1.7-17.3-.1M403.2 940.8l-4.7-1.8-7.7-2-22.2-4.1-18.5-2.1-17.3-.4M406.7 939.2l-4.3-1.9-7.2-2-22.8-4.5-19.1-2.6-16.7-.8M410.1 937.6l-4-1.9-6.6-2-22.5-4.8-20.1-3.2-16.5-1.2M413.2 936l-3.2-1.7-5.8-1.9-20.7-4.9-23.2-4.3-16.1-1.7M416.3 934.3l-1.9-1.2-3.2-1.3-10.8-3.1-26.8-6-16.4-3.1M419.2 932.7l-3.8-2.1-8-2.6-39.8-9.6M421.9 931.1l-3.1-2-6.9-2.4-37.6-9.7M424.6 929.4l-2.8-2-6.3-2.3-35.8-9.6M426.9 927.4l-2.8-1.9-5.9-2.2-33.8-9.3M428.8 925l-3.2-1.7-5.6-2-31.5-8.9M430.5 922.7l-8.4-3.3-29.8-8.5M432 920.5l-7.9-3-28.4-8.2M433.4 918.3l-7.6-2.8-26.8-7.9M434.7 916.1l-7-2.4-25.6-7.7M435.9 913.9l-30.9-9.5M437.1 911.8l-29.4-9M438.2 909.6l-27.8-8.5M439.3 907.5l-26.4-8M440.3 905.4l-24.9-7.6M441.3 903.3l-23.5-7.2M442.3 901.2l-22.2-6.7M443.2 899.2l-20.9-6.4M444.1 897.1l-19.6-6M445 895l-18.4-5.6M445.8 893l-17.2-5.2M446.7 890.9l-16.1-4.8M447.5 888.9l-14.9-4.5M448.3 886.9l-13.8-4.2M449.1 884.8l-12.7-3.8M449.8 882.8l-11.6-3.5M450.6 880.8l-10.5-3.2M451.3 878.8l-9.5-2.9M452 876.8l-8.4-2.6M452.8 874.8l-7.5-2.3M453.5 872.8l-6.5-2M454.1 870.8l-5.5-1.7M454.8 868.8l-4.5-1.4M455.5 866.8l-3.6-1.1M456.1 864.8l-2.7-.8M456.8 862.8l-1.8-.5M457.4 860.8l-.9-.2" fill="none" stroke="#000" stroke-opacity="0.45" stroke-width="0.25"/>
<path d="M430.3 910.4h0M443.9 863.4h0M346.1 944h0M359.1 956.9h0M421.9 876.3h0M440.8 889.8h0M377.4 949.3h0M370.4 924.2h0M401.1 946.5h0M423.2 903.4h0M374.7 953h0M372.2 901.9h0M397.8 915.4h0M386.4 930.5h0M417.4 930.6h0M422.6 913.9h0M386.7 944.6h0M417 870h0M431.8 910.4h0M435.3 873h0M424.8 898.6h0M403.1 910.5h0M405.1 892.3h0M363 915.7h0M392.4 915.7h0M422.8 912.3h0M401.2 904.1h0M399.3 907h0M423.1 912.8h0M404.1 899.4h0M435.8 935.8h0M346.5 935.3h0M377.1 922.6h0M401.6 918.1h0M382.4 903.7h0M399 891.3h0M428.7 904.5h0M389 908.9h0M398.4 936.1h0M438.7 908.2h0M441.4 903.7h0M344.8 912.6h0M427.4 934.5h0M430.7 933.9h0M406.7 923.8h0M407.2 939.8h0M392.7 946.8h0M376.9 955h0M412.7 960.7h0M346.6 922.2h0M342.3 909.1h0M420.8 932.2h0M378 917.5h0M365.4 948.1h0M361.7 925.7h0M383.8 961.7h0M398.6 930.3h0M422 935.2h0M426.2 917.8h0M428.7 907.2h0M427.1 870.6h0M441.5 876.4h0M333 931.9h0M378.8 917.7h0M396.1 918.8h0M396.3 951.3h0M348.6 909.7h0M445.1 879.1h0M344.5 937.2h0M371.7 955.4h0M388.8 879.1h0M410.4 915.6h0M403 928.1h0" stroke="#000" stroke-width="2.3" stroke-linecap="round"/></g>
<g><path d="M635.6 132.1L611.9 28.5M608.2 114.3L721.5 99.7M608.2 114.3L594.8 162.1M610.2 144.6L586.5 41M658.2 129.2L634.5 25.6M603.4 93.6L716.7 79M603.4 93.6L590 141.4M607.5 154.1L583.8 50.5M680.9 126.2L657.2 22.6M598.7 72.8L712 58.2M598.7 72.8L585.3 120.6M604.9 163.7L581.2 60.1M703.5 123.3L679.8 19.7M593.9 52.1L707.2 37.5M593.9 52.1L580.5 99.9M602.2 173.2L578.5 69.6M611.8 138.8L725.1 124.2M608.1 152.2L721.4 137.6M604.3 165.6L717.6 151M600.6 179L713.9 164.4M635.6 132.1L622.2 179.9M658.2 129.2L644.8 177M680.9 126.2L667.5 174M703.5 123.3L690.1 171.1" stroke="#e2e2e2" stroke-width=".4" fill="none"/>
<path d="M712.8 168.2L599.5 182.8L575.8 79.2L589.2 31.4L702.5 16.8L726.2 120.4" stroke="#aaa" stroke-width=".55" fill="none"/>
<path d="M612.9 135L589.2 31.4" stroke="#aaa" stroke-width=".55" fill="none"/>
<path d="M612.9 135L726.2 120.4" stroke="#aaa" stroke-width=".55" fill="none"/>
<path d="M612.9 135L599.5 182.8" stroke="#aaa" stroke-width=".55" fill="none"/>
<path d="M726.2 120.4L712.8 168.2" stroke="#e8a0a0" stroke-width=".55" fill="none"/>
<defs><linearGradient id="ga3" gradientUnits="userSpaceOnUse" x1="590.2" y1="31.6" x2="699.4" y2="173.4"><stop offset="0%" stop-color="#0000f2"/><stop offset="5%" stop-color="#003af2"/><stop offset="10%" stop-color="#0073f2"/><stop offset="15%" stop-color="#00acf2"/><stop offset="20%" stop-color="#00e4f2"/><stop offset="25%" stop-color="#00f2c9"/><stop offset="30%" stop-color="#00f293"/><stop offset="35%" stop-color="#00f25e"/><stop offset="40%" stop-color="#00f22a"/><stop offset="45%" stop-color="#09f200"/><stop offset="50%" stop-color="#3af200"/><stop offset="55%" stop-color="#6af200"/><stop offset="60%" stop-color="#98f200"/><stop offset="65%" stop-color="#c5f200"/><stop offset="70%" stop-color="#f1f200"/><stop offset="75%" stop-color="#f2da00"/><stop offset="80%" stop-color="#f2b600"/><stop offset="85%" stop-color="#f28e00"/><stop offset="90%" stop-color="#f26100"/><stop offset="95%" stop-color="#f23200"/><stop offset="100%" stop-color="#f20000"/></linearGradient></defs>
<path d="M590.2 31.6L718.6 82.6L712.5 163.3L584 112.3z" fill="url(#ga3)"/>
<path d="M599.9 35.4L589.3 43.6M609.6 39.3L588.4 55.6M619.2 43.1L587.4 67.6M628.9 47L586.5 79.6M638.6 50.8L585.6 91.6M648.3 54.7L584.7 103.6M657.9 58.5L586.7 113.4M667.6 62.3L596.4 117.2M677.3 66.2L606 121M687 70L615.7 124.9M696.6 73.9L625.4 128.7M706.3 77.7L635.1 132.6M716 81.6L644.8 136.4M717.9 91.4L654.4 140.3M717 103.3L664.1 144.1M716.1 115.3L673.8 147.9M715.2 127.3L683.5 151.8M714.3 139.3L693.1 155.6M713.4 151.3L702.8 159.5" stroke="#000" stroke-opacity="0.35" stroke-width=".3"/>
<path d="M628 86.2h0M641.3 83.2h0M633.6 80.6h0M615.7 121.3h0M620.1 87.7h0M645.7 97h0M614.2 70h0M669.4 102.6h0M592.9 79.4h0M624.4 78.1h0M612 114.1h0M689.5 108.8h0M635 91.3h0M618.4 89.3h0M654.2 97.9h0M650.5 113.9h0M666.5 106h0M627.7 88.2h0M639.3 75.1h0M611.7 66.2h0M638.6 94.9h0M618.6 117.7h0M627.4 82.6h0M618.6 111.8h0M675 99.6h0M647.3 110.4h0M604 49.3h0M595.7 113.6h0M643.7 103.3h0M633.3 85h0M685.9 99h0M642.4 132.2h0M628.6 90.4h0M630.3 71.1h0M630.4 116.4h0M629.7 93.5h0M608.4 42.2h0M666 79.5h0M624.2 82.9h0M677.6 87h0M660.6 67.6h0M654.3 122.2h0M642.4 103h0M639.7 113.2h0M618 122.5h0M623.4 86.2h0M630.1 90.5h0M616.2 78.4h0M595.1 36.9h0M596.8 81.1h0M676.8 78.2h0M632.4 62.9h0M654 93.2h0M711.3 108.8h0M668 101.6h0M627.6 101.6h0M605.9 97.4h0M621.3 100.5h0M657.4 65.1h0M619.2 87.8h0M619.6 96.7h0M645.8 93h0M627 23h0M714 46h0M619 111h0M677 146h0M676 156h0M685 161h0M643 176h0" stroke="#000" stroke-width="2.3" stroke-linecap="round"/></g>
<g><path d="M610.8 395.3L659.7 295.6M600.4 364.7L701.6 418.1M600.4 364.7L575.9 383.8M585.7 388.4L634.6 288.7M631.1 406L680 306.3M610.2 344.7L711.4 398.1M610.2 344.7L585.7 363.8M580.8 392.2L629.7 292.5M651.3 416.6L700.2 316.9M619.9 324.8L721.1 378.2M619.9 324.8L595.4 343.9M575.9 396.1L624.8 296.4M671.6 427.3L720.5 327.6M629.7 304.8L730.9 358.2M629.7 304.8L605.2 323.9M571 399.9L619.9 300.2M588.6 386.1L689.8 439.5M586.8 387.6L688 441M584.9 389L686.1 442.4M583 390.5L684.2 443.9M581.2 392L682.4 445.4M579.3 393.4L680.5 446.8M577.4 394.9L678.6 448.3M575.5 396.3L676.7 449.7M573.7 397.8L674.9 451.2M571.8 399.3L673 452.7M569.9 400.7L671.1 454.1M568.1 402.2L669.3 455.6M610.8 395.3L586.3 414.4M631.1 406L606.6 425.1M651.3 416.6L626.8 435.7M671.6 427.3L647.1 446.4" stroke="#e2e2e2" stroke-width=".4" fill="none"/>
<path d="M667.3 457.1L566.1 403.7L615 304L639.5 284.9L740.7 338.3L691.8 438" stroke="#aaa" stroke-width=".55" fill="none"/>
<path d="M590.6 384.6L639.5 284.9" stroke="#aaa" stroke-width=".55" fill="none"/>
<path d="M590.6 384.6L691.8 438" stroke="#aaa" stroke-width=".55" fill="none"/>
<path d="M590.6 384.6L566.1 403.7" stroke="#aaa" stroke-width=".55" fill="none"/>
<path d="M691.8 438L667.3 457.1" stroke="#e8a0a0" stroke-width=".55" fill="none"/>
<defs><linearGradient id="gb3" gradientUnits="userSpaceOnUse" x1="639.5" y1="284.9" x2="619.6" y2="451.1"><stop offset="0%" stop-color="#0000f2"/><stop offset="5%" stop-color="#003af2"/><stop offset="10%" stop-color="#0073f2"/><stop offset="15%" stop-color="#00acf2"/><stop offset="20%" stop-color="#00e4f2"/><stop offset="25%" stop-color="#00f2c9"/><stop offset="30%" stop-color="#00f293"/><stop offset="35%" stop-color="#00f25e"/><stop offset="40%" stop-color="#00f22a"/><stop offset="45%" stop-color="#09f200"/><stop offset="50%" stop-color="#3af200"/><stop offset="55%" stop-color="#6af200"/><stop offset="60%" stop-color="#98f200"/><stop offset="65%" stop-color="#c5f200"/><stop offset="70%" stop-color="#f1f200"/><stop offset="75%" stop-color="#f2da00"/><stop offset="80%" stop-color="#f2b600"/><stop offset="85%" stop-color="#f28e00"/><stop offset="90%" stop-color="#f26100"/><stop offset="95%" stop-color="#f23200"/><stop offset="100%" stop-color="#f20000"/></linearGradient></defs>
<path d="M639.5 284.9L710.8 397.7L667.4 456.8L596.3 343.6z" fill="url(#gb3)"/>
<path d="M645.9 295L633.2 293.5M652.3 305.2L626.8 302.1M658.7 315.3L620.5 310.7M665.1 325.4L614.2 319.3M671.5 335.6L607.8 327.9M677.9 345.7L601.5 336.5M684.3 355.8L597.4 345.4M690.7 366L603.8 355.5M697.1 376.1L610.2 365.7M703.5 386.2L616.5 375.8M710 396.4L622.9 385.9M705.3 405.2L629.2 396M699 413.8L635.6 406.2M692.7 422.4L642 416.3M686.4 431L648.3 426.4M680 439.6L654.7 436.5M673.7 448.2L661 446.7" stroke="#000" stroke-opacity="0.35" stroke-width=".3"/>
<path d="M635.4 374.4h0M657.3 383.6h0M655.2 394.7h0M654.9 424.3h0M652.5 354.8h0M621.6 378.6h0M671.1 416.2h0M640.4 358.1h0M667.9 408.3h0M639.7 379.4h0M664.6 370.5h0M659.3 372.9h0M655.3 363.7h0M650.8 346.6h0M658.8 402.8h0M622.9 361.3h0M692.5 414.1h0M662.5 337.9h0M646.4 374.2h0M677.8 395.2h0M669.5 382h0M647 364.9h0M632.3 318.3h0M617.3 345.4h0M647.7 374.6h0M661 356.8h0M653.3 370.2h0M633.6 335.2h0M658.4 420.1h0M644.4 350.3h0M624.6 313.5h0M637.7 314h0M673.1 356.8h0M673.3 397.3h0M657 401.5h0M642.9 339.9h0M633.7 344.7h0M648.6 349h0M657.5 420.2h0M671.8 411.2h0M632.1 374.2h0M651.4 378h0M665.6 422.4h0M652.6 331.6h0M649.1 357.8h0M642 399.7h0M654.6 380.8h0M634.3 332.3h0M666.7 399.9h0M628.5 347.4h0M636.4 326h0M626.9 357.3h0M629.5 363.7h0M672.9 409.5h0M656.7 348.3h0M678.4 414.8h0M657.3 384.1h0M641.6 367.6h0M613.2 364.1h0M642 355.6h0M678 319h0M680 349h0M617 386h0M625 401h0M628 424h0" stroke="#000" stroke-width="2.3" stroke-linecap="round"/></g>
<g><path d="M602.8 682.4L629.1 576.8M586.7 655.8L693.7 683.3M586.7 655.8L570.4 669M578.1 679.5L604.4 573.9M624.2 687.9L650.5 582.3M591.9 634.7L698.9 662.2M591.9 634.7L575.6 647.9M574.9 682.2L601.2 576.6M645.6 693.4L671.9 587.8M597.2 613.5L704.2 641M597.2 613.5L580.9 626.7M571.6 684.8L597.9 579.2M667 698.9L693.3 593.3M602.4 592.4L709.4 619.9M602.4 592.4L586.1 605.6M568.4 687.5L594.7 581.9M580.1 678L687.1 705.5M578.9 679L685.9 706.5M577.6 680L684.6 707.5M576.4 681L683.4 708.5M575.1 682L682.1 709.5M573.9 683L680.9 710.5M572.6 684L679.6 711.5M571.4 685L678.4 712.5M570.1 686L677.1 713.5M568.9 687L675.9 714.5M567.6 688L674.6 715.5M566.4 689L673.4 716.5M602.8 682.4L586.5 695.6M624.2 687.9L607.9 701.1M645.6 693.4L629.3 706.6M667 698.9L650.7 712.1" stroke="#e2e2e2" stroke-width=".4" fill="none"/>
<path d="M672.1 717.6L565.1 690.1L591.4 584.5L607.7 571.3L714.7 598.8L688.4 704.4" stroke="#aaa" stroke-width=".55" fill="none"/>
<path d="M581.4 676.9L607.7 571.3" stroke="#aaa" stroke-width=".55" fill="none"/>
<path d="M581.4 676.9L688.4 704.4" stroke="#aaa" stroke-width=".55" fill="none"/>
<path d="M581.4 676.9L565.1 690.1" stroke="#aaa" stroke-width=".55" fill="none"/>
<path d="M688.4 704.4L672.1 717.6" stroke="#e8a0a0" stroke-width=".55" fill="none"/>
<defs><linearGradient id="gc3" gradientUnits="userSpaceOnUse" x1="607.7" y1="571.3" x2="624.7" y2="712.9"><stop offset="0%" stop-color="#0000f2"/><stop offset="5%" stop-color="#003af2"/><stop offset="10%" stop-color="#0073f2"/><stop offset="15%" stop-color="#00acf2"/><stop offset="20%" stop-color="#00e4f2"/><stop offset="25%" stop-color="#00f2c9"/><stop offset="30%" stop-color="#00f293"/><stop offset="35%" stop-color="#00f25e"/><stop offset="40%" stop-color="#00f22a"/><stop offset="45%" stop-color="#09f200"/><stop offset="50%" stop-color="#3af200"/><stop offset="55%" stop-color="#6af200"/><stop offset="60%" stop-color="#98f200"/><stop offset="65%" stop-color="#c5f200"/><stop offset="70%" stop-color="#f1f200"/><stop offset="75%" stop-color="#f2da00"/><stop offset="80%" stop-color="#f2b600"/><stop offset="85%" stop-color="#f28e00"/><stop offset="90%" stop-color="#f26100"/><stop offset="95%" stop-color="#f23200"/><stop offset="100%" stop-color="#f20000"/></linearGradient></defs>
<path d="M607.7 571.3L696.6 670.8L674.1 707L585.2 607z" fill="url(#gc3)"/>
<path d="M614.9 579.4L601.6 581M622.2 587.5L595.5 590.7M629.4 595.6L589.3 600.4M636.7 603.7L587.5 609.6M643.9 611.8L594.8 617.7M651.2 620L602 625.9M658.4 628.1L609.2 634M665.7 636.2L616.4 642.1M672.9 644.3L623.6 650.2M680.2 652.4L630.8 658.3M687.4 660.5L638 666.4M694.6 668.6L645.2 674.5M692.2 677.9L652.5 682.7M686.2 687.6L659.7 690.8M680.1 697.3L666.9 698.9" stroke="#000" stroke-opacity="0.35" stroke-width=".3"/>
<path d="M637 610.6h0M610.2 594.5h0M629.6 627.2h0M622.1 642.3h0M630.9 630.9h0M633.8 620h0M629.2 637.4h0M624.8 592.9h0M613.7 617.1h0M615.2 612.3h0M658.8 665.7h0M599.3 594.3h0M624.4 615h0M611.8 606.6h0M651.7 642h0M615.7 591.9h0M666.5 662.4h0M617.8 621h0M622.9 610.8h0M612.7 609.3h0M627.7 640.7h0M635 621.8h0M611.3 609.5h0M620.5 611.7h0M615.2 627.6h0M623.4 594.7h0M636.1 626.2h0M622.4 625.7h0M643.1 645.5h0M670 659.8h0M656.5 645.7h0M651.9 623.2h0M620.5 620.7h0M651.8 647.2h0M609.9 615h0M673.1 647h0M633.4 634.5h0M648.9 625.2h0M639.4 636h0M625.2 630.4h0M653.4 644.8h0M668.2 652.8h0M677.5 662.8h0M666.5 650.5h0M640.8 648.9h0M619.6 623.6h0M621.1 607.8h0M637.8 635.6h0M640.8 645.5h0M678.2 690.4h0M637.3 632.7h0M633.2 632.2h0M615.6 631.6h0M644.6 628.6h0M616.7 621h0M644.4 632h0M622.8 604.1h0M643.6 634.9h0M603 600.1h0M604.6 585.9h0M654 584h0M662 625h0M605 650h0M608 663h0M616 663h0M622 671h0M648 691h0M654 699h0M625 703h0" stroke="#000" stroke-width="2.3" stroke-linecap="round"/></g>
<g><path d="M614.5 956.5L636.9 845.1M596.7 929.3L708.2 954M596.7 929.3L580.8 941.8M589 954.1L611.4 842.7M636.8 961.5L659.2 850.1M601.2 907L712.7 931.7M601.2 907L585.3 919.5M585.8 956.6L608.2 845.2M659.1 966.4L681.5 855M605.6 884.8L717.1 909.5M605.6 884.8L589.7 897.3M582.7 959.1L605.1 847.7M681.4 971.4L703.8 860M610.1 862.5L721.6 887.2M610.1 862.5L594.2 875M579.5 961.6L601.9 850.2M590.9 952.6L702.4 977.3M589.7 953.6L701.2 978.3M588.5 954.5L700 979.2M587.3 955.5L698.8 980.2M586.1 956.4L697.6 981.1M584.9 957.4L696.4 982.1M583.6 958.3L695.1 983M582.4 959.3L693.9 984M581.2 960.2L692.7 984.9M580 961.2L691.5 985.9M578.8 962.1L690.3 986.8M577.6 963.1L689.1 987.8M614.5 956.5L598.6 969M636.8 961.5L620.9 974M659.1 966.4L643.2 978.9M681.4 971.4L665.5 983.9" stroke="#e2e2e2" stroke-width=".4" fill="none"/>
<path d="M687.8 988.8L576.3 964.1L598.7 852.7L614.6 840.2L726.1 864.9L703.7 976.3" stroke="#aaa" stroke-width=".55" fill="none"/>
<path d="M592.2 951.6L614.6 840.2" stroke="#aaa" stroke-width=".55" fill="none"/>
<path d="M592.2 951.6L703.7 976.3" stroke="#aaa" stroke-width=".55" fill="none"/>
<path d="M592.2 951.6L576.3 964.1" stroke="#aaa" stroke-width=".55" fill="none"/>
<path d="M703.7 976.3L687.8 988.8" stroke="#e8a0a0" stroke-width=".55" fill="none"/>
<defs><linearGradient id="gd3" gradientUnits="userSpaceOnUse" x1="614.6" y1="840.2" x2="611.7" y2="987.1"><stop offset="0%" stop-color="#0000f2"/><stop offset="5%" stop-color="#003af2"/><stop offset="10%" stop-color="#0073f2"/><stop offset="15%" stop-color="#00acf2"/><stop offset="20%" stop-color="#00e4f2"/><stop offset="25%" stop-color="#00f2c9"/><stop offset="30%" stop-color="#00f293"/><stop offset="35%" stop-color="#00f25e"/><stop offset="40%" stop-color="#00f22a"/><stop offset="45%" stop-color="#09f200"/><stop offset="50%" stop-color="#3af200"/><stop offset="55%" stop-color="#6af200"/><stop offset="60%" stop-color="#98f200"/><stop offset="65%" stop-color="#c5f200"/><stop offset="70%" stop-color="#f1f200"/><stop offset="75%" stop-color="#f2da00"/><stop offset="80%" stop-color="#f2b600"/><stop offset="85%" stop-color="#f28e00"/><stop offset="90%" stop-color="#f26100"/><stop offset="95%" stop-color="#f23200"/><stop offset="100%" stop-color="#f20000"/></linearGradient></defs>
<path d="M614.6 840.2L713.3 932.5L688 988.6L590.2 897.2z" fill="url(#gd3)"/>
<path d="M623.5 848.5L611.1 848.3M632.4 856.9L607.7 856.4M641.4 865.2L604.2 864.5M650.3 873.6L600.7 872.6M659.2 881.9L597.3 880.7M668.1 890.2L593.8 888.8M677 898.6L590.3 896.9M686 906.9L598.7 905.2M694.9 915.3L607.7 913.5M703.8 923.6L616.6 921.9M712.7 932L625.5 930.2M709.9 940.1L634.4 938.6M706.2 948.2L643.4 946.9M702.6 956.2L652.3 955.2M698.9 964.3L661.2 963.6M695.3 972.4L670.1 971.9M691.6 980.5L679.1 980.3" stroke="#000" stroke-opacity="0.35" stroke-width=".3"/>
<path d="M659.3 896.8h0M622.1 867h0M650.4 879.1h0M650.9 919.3h0M657.5 916.2h0M668.1 909.2h0M638.8 883.3h0M636.1 920.2h0M604.4 876.8h0M623.7 871.7h0M658.7 886.4h0M643.7 917.5h0M639.1 916.2h0M636.5 883.3h0M675.2 906h0M623.2 887.5h0M644 920.5h0M626.8 883.3h0M666.6 923.9h0M664.4 905.1h0M658 897.4h0M635.5 902.4h0M625.3 876.5h0M653.5 908.3h0M615.5 888.8h0M679 925.9h0M645 897.7h0M621.2 883.8h0M660.1 910.6h0M664.7 904.2h0M667.6 949.1h0M617.6 865.4h0M668 914.2h0M637.6 893.1h0M681.9 931.1h0M641.3 917.6h0M644.2 907.7h0M645.8 903.7h0M626.2 914.5h0M654.9 938.5h0M649.1 891.6h0M653.6 890.7h0M641.7 879.2h0M649.3 899.5h0M652.6 910.3h0M659.8 918.4h0M640 913.6h0M652.1 880.6h0M673.7 943.6h0M637.1 912.3h0M652.7 894.9h0M621.9 889.1h0M632.8 887.4h0M623.4 877.3h0M619.7 877.7h0M649.7 902.3h0M627.9 894.4h0M660.4 893.7h0M614 926h0M624 937h0M634 948h0M659 965h0M667 971h0M636 976h0" stroke="#000" stroke-width="2.3" stroke-linecap="round"/></g>
<g><text x="127.8" y="3.6" text-anchor="middle" font-size="3.9" fill="#222" textLength="123.5" lengthAdjust="spacingAndGlyphs">MOP generated Isotropic Kriging  of Total_Deformation_Maximum</text><text x="128.7" y="7.3" text-anchor="middle" font-size="3.9" fill="#222" textLength="59.4" lengthAdjust="spacingAndGlyphs">Coefficient of Prognosis = 85 %</text><text x="129.9" y="274.3" text-anchor="middle" font-size="3.9" fill="#222" textLength="125.8" lengthAdjust="spacingAndGlyphs">MOP generated Isotropic Kriging  of Total_Deformation_Maximum</text><text x="130.3" y="278.4" text-anchor="middle" font-size="3.9" fill="#222" textLength="60.5" lengthAdjust="spacingAndGlyphs">Coefficient of Prognosis = 85 %</text><text x="122.2" y="544.3" text-anchor="middle" font-size="3.9" fill="#222" textLength="125.2" lengthAdjust="spacingAndGlyphs">MOP generated Isotropic Kriging  of Total_Deformation_Maximum</text><text x="122.5" y="548" text-anchor="middle" font-size="3.9" fill="#222" textLength="61.1" lengthAdjust="spacingAndGlyphs">Coefficient of Prognosis = 85 %</text><text x="122.2" y="818.6" text-anchor="middle" font-size="3.9" fill="#222" textLength="125.2" lengthAdjust="spacingAndGlyphs">MOP generated Isotropic Kriging  of Total_Deformation_Maximum</text><text x="122.5" y="822.4" text-anchor="middle" font-size="3.9" fill="#222" textLength="61.1" lengthAdjust="spacingAndGlyphs">Coefficient of Prognosis = 85 %</text><text x="33.5" y="81.7" text-anchor="middle" font-size="4.6" fill="#3a3a3a">0.00155</text><text x="33.5" y="115.7" text-anchor="middle" font-size="4.6" fill="#3a3a3a">0.00145</text><text x="33.5" y="150" text-anchor="middle" font-size="4.6" fill="#3a3a3a">0.00135</text><text x="33.5" y="352.7" text-anchor="middle" font-size="4.6" fill="#3a3a3a">0.00155</text><text x="33.5" y="387" text-anchor="middle" font-size="4.6" fill="#3a3a3a">0.00145</text><text x="33.5" y="420.8" text-anchor="middle" font-size="4.6" fill="#3a3a3a">0.00135</text><text x="25.4" y="622.4" text-anchor="middle" font-size="4.6" fill="#3a3a3a">0.00155</text><text x="25.4" y="656.5" text-anchor="middle" font-size="4.6" fill="#3a3a3a">0.00145</text><text x="25.4" y="690.5" text-anchor="middle" font-size="4.6" fill="#3a3a3a">0.00135</text><text x="25.4" y="896.9" text-anchor="middle" font-size="4.6" fill="#3a3a3a">0.00155</text><text x="25.4" y="931" text-anchor="middle" font-size="4.6" fill="#3a3a3a">0.00145</text><text x="25.4" y="965" text-anchor="middle" font-size="4.6" fill="#3a3a3a">0.00135</text><text x="13.2" y="101" text-anchor="middle" font-size="4.6" transform="rotate(-90 13.2 101)" fill="#3a3a3a" textLength="69.4" lengthAdjust="spacingAndGlyphs">Total_Deformation_Maximum</text><text x="10.4" y="372.1" text-anchor="middle" font-size="4.6" transform="rotate(90 10.4 372.1)" fill="#3a3a3a" textLength="68.7" lengthAdjust="spacingAndGlyphs">Total_Deformation_Maximum</text><text x="3.3" y="642" text-anchor="middle" font-size="4.6" transform="rotate(90 3.3 642)" fill="#3a3a3a" textLength="68.7" lengthAdjust="spacingAndGlyphs">Total_Deformation_Maximum</text><text x="3.3" y="916.2" text-anchor="middle" font-size="4.6" transform="rotate(90 3.3 916.2)" fill="#3a3a3a" textLength="68.7" lengthAdjust="spacingAndGlyphs">Total_Deformation_Maximum</text><text x="61.6" y="167.6" text-anchor="middle" font-size="4.6" fill="#3a3a3a">0.9</text><text x="77" y="172" text-anchor="middle" font-size="4.6" fill="#3a3a3a">1</text><text x="92.4" y="176.7" text-anchor="middle" font-size="4.6" fill="#3a3a3a">1.1</text><text x="108" y="181.1" text-anchor="middle" font-size="4.6" fill="#3a3a3a">1.2</text><text x="123.3" y="185.6" text-anchor="middle" font-size="4.6" fill="#3a3a3a">1.3</text><text x="91" y="182.6" text-anchor="middle" font-size="4.6" fill="#3a3a3a">bb</text><text x="203.6" y="160.1" text-anchor="middle" font-size="4.6" fill="#3a3a3a">1.4</text><text x="187.9" y="166.6" text-anchor="middle" font-size="4.6" fill="#3a3a3a">1.6</text><text x="172.6" y="172.9" text-anchor="middle" font-size="4.6" fill="#3a3a3a">1.8</text><text x="157.3" y="179.5" text-anchor="middle" font-size="4.6" fill="#3a3a3a">2</text><text x="141.5" y="185.8" text-anchor="middle" font-size="4.6" fill="#3a3a3a">2.2</text><text x="171.3" y="180.5" text-anchor="middle" font-size="4.6" fill="#3a3a3a">EB</text><text x="49.7" y="435" text-anchor="middle" font-size="4.6" fill="#3a3a3a">2.8</text><text x="60.4" y="437.5" text-anchor="middle" font-size="4.6" fill="#3a3a3a">3</text><text x="69.5" y="440.8" text-anchor="middle" font-size="4.6" fill="#3a3a3a">3.2</text><text x="78.6" y="443.2" text-anchor="middle" font-size="4.6" fill="#3a3a3a">3.4</text><text x="88.2" y="445.8" text-anchor="middle" font-size="4.6" fill="#3a3a3a">3.6</text><text x="97.4" y="448.5" text-anchor="middle" font-size="4.6" fill="#3a3a3a">3.8</text><text x="106.5" y="451.1" text-anchor="middle" font-size="4.6" fill="#3a3a3a">4</text><text x="115.9" y="453.6" text-anchor="middle" font-size="4.6" fill="#3a3a3a">4.2</text><text x="125.8" y="456.4" text-anchor="middle" font-size="4.6" fill="#3a3a3a">4.4</text><text x="133.2" y="459.1" text-anchor="middle" font-size="4.6" fill="#3a3a3a">4.6</text><text x="91.9" y="453.9" text-anchor="middle" font-size="4.6" fill="#3a3a3a">bww</text><text x="143.1" y="456.9" text-anchor="middle" font-size="4.6" fill="#4a4aa8">2.2</text><text x="159.2" y="450.6" text-anchor="middle" font-size="4.6" fill="#4a4aa8">2</text><text x="175.4" y="444" text-anchor="middle" font-size="4.6" fill="#4a4aa8">1.8</text><text x="191.1" y="437.9" text-anchor="middle" font-size="4.6" fill="#4a4aa8">1.6</text><text x="207.7" y="431.2" text-anchor="middle" font-size="4.6" fill="#4a4aa8">1.4</text><text x="173.7" y="451.1" text-anchor="middle" font-size="4.6" fill="#4a4aa8">EB</text><text x="38.9" y="704.2" text-anchor="middle" font-size="4.6" fill="#3a3a3a">0.8</text><text x="48" y="707" text-anchor="middle" font-size="4.6" fill="#3a3a3a">0.85</text><text x="56.3" y="708.7" text-anchor="middle" font-size="4.6" fill="#3a3a3a">0.9</text><text x="65.4" y="710.8" text-anchor="middle" font-size="4.6" fill="#3a3a3a">0.95</text><text x="72.8" y="713.2" text-anchor="middle" font-size="4.6" fill="#3a3a3a">1</text><text x="81.1" y="715.8" text-anchor="middle" font-size="4.6" fill="#3a3a3a">1.05</text><text x="89.4" y="717.8" text-anchor="middle" font-size="4.6" fill="#3a3a3a">1.1</text><text x="97.7" y="720.3" text-anchor="middle" font-size="4.6" fill="#3a3a3a">1.15</text><text x="105.1" y="722.4" text-anchor="middle" font-size="4.6" fill="#3a3a3a">1.2</text><text x="112.6" y="724.7" text-anchor="middle" font-size="4.6" fill="#3a3a3a">1.25</text><text x="120.9" y="727.4" text-anchor="middle" font-size="4.6" fill="#3a3a3a">1.3</text><text x="127.4" y="729.7" text-anchor="middle" font-size="4.6" fill="#3a3a3a">1.35</text><text x="84.4" y="722.6" text-anchor="middle" font-size="4.6" fill="#3a3a3a">bwl</text><text x="135.7" y="726.9" text-anchor="middle" font-size="4.6" fill="#3a3a3a">2.2</text><text x="151.4" y="720.3" text-anchor="middle" font-size="4.6" fill="#3a3a3a">2</text><text x="167.1" y="713.7" text-anchor="middle" font-size="4.6" fill="#3a3a3a">1.8</text><text x="183.7" y="707.5" text-anchor="middle" font-size="4.6" fill="#3a3a3a">1.6</text><text x="199.4" y="700.4" text-anchor="middle" font-size="4.6" fill="#3a3a3a">1.4</text><text x="166.3" y="721.1" text-anchor="middle" font-size="4.6" fill="#3a3a3a">EB</text><text x="48" y="980.8" text-anchor="middle" font-size="4.6" fill="#3a3a3a">2.4</text><text x="59.3" y="984" text-anchor="middle" font-size="4.6" fill="#3a3a3a">2.6</text><text x="70.4" y="987.1" text-anchor="middle" font-size="4.6" fill="#3a3a3a">2.8</text><text x="81.5" y="990.2" text-anchor="middle" font-size="4.6" fill="#3a3a3a">3</text><text x="92.8" y="993.4" text-anchor="middle" font-size="4.6" fill="#3a3a3a">3.2</text><text x="103.9" y="996.7" text-anchor="middle" font-size="4.6" fill="#3a3a3a">3.4</text><text x="115.3" y="999.8" text-anchor="middle" font-size="4.6" fill="#3a3a3a">3.6</text><text x="126.4" y="1003.1" text-anchor="middle" font-size="4.6" fill="#3a3a3a">3.8</text><text x="84.5" y="997.3" text-anchor="middle" font-size="4.6" fill="#3a3a3a">EW</text><text x="199.5" y="974.2" text-anchor="middle" font-size="4.6" fill="#3a3a3a">1.4</text><text x="185" y="982.2" text-anchor="middle" font-size="4.6" fill="#3a3a3a">1.6</text><text x="170" y="988.2" text-anchor="middle" font-size="4.6" fill="#3a3a3a">1.8</text><text x="152" y="994.7" text-anchor="middle" font-size="4.6" fill="#4a4aa8">2</text><text x="135.8" y="1000.5" text-anchor="middle" font-size="4.6" fill="#4a4aa8">2.2</text><text x="166" y="995.2" text-anchor="middle" font-size="4.6" fill="#4a4aa8">EB</text><text x="388.3" y="4" text-anchor="middle" font-size="3.9" fill="#222" textLength="147.4" lengthAdjust="spacingAndGlyphs">MOP generated Isotropic Kriging  of Total_Deformation_Reported_Frequency</text><text x="388.9" y="7.6" text-anchor="middle" font-size="3.9" fill="#222" textLength="60.3" lengthAdjust="spacingAndGlyphs">Coefficient of Prognosis = 72 %</text><text x="391.8" y="274.4" text-anchor="middle" font-size="3.9" fill="#222" textLength="147" lengthAdjust="spacingAndGlyphs">MOP generated Isotropic Kriging  of Total_Deformation_Reported_Frequency</text><text x="392.3" y="279.1" text-anchor="middle" font-size="3.9" fill="#222" textLength="60.1" lengthAdjust="spacingAndGlyphs">Coefficient of Prognosis = 72 %</text><text x="377.8" y="552.6" text-anchor="middle" font-size="3.9" fill="#222" textLength="140.1" lengthAdjust="spacingAndGlyphs">MOP generated Isotropic Kriging  of Total_Deformation_Reported_Frequency</text><text x="378" y="556.7" text-anchor="middle" font-size="3.9" fill="#222" textLength="58.1" lengthAdjust="spacingAndGlyphs">Coefficient of Prognosis = 72 %</text><text x="386.8" y="819" text-anchor="middle" font-size="3.9" fill="#222" textLength="146.8" lengthAdjust="spacingAndGlyphs">MOP generated Isotropic Kriging  of Total_Deformation_Reported_Frequency</text><text x="387.7" y="822.7" text-anchor="middle" font-size="3.9" fill="#222" textLength="60.6" lengthAdjust="spacingAndGlyphs">Coefficient of Prognosis = 72 %</text><text x="294.8" y="108.5" text-anchor="middle" font-size="4.6" transform="rotate(90 294.8 108.5)" fill="#3a3a3a" textLength="94.4" lengthAdjust="spacingAndGlyphs">Total_Deformation_Reported_Frequency</text><text x="299.7" y="376.7" text-anchor="middle" font-size="4.6" transform="rotate(-90 299.7 376.7)" fill="#3a3a3a" textLength="94.4" lengthAdjust="spacingAndGlyphs">Total_Deformation_Reported_Frequency</text><text x="289.6" y="649.9" text-anchor="middle" font-size="4.6" transform="rotate(-90 289.6 649.9)" fill="#3a3a3a" textLength="87.7" lengthAdjust="spacingAndGlyphs">Total_Deformation_Reported_Frequency</text><text x="295.3" y="920.9" text-anchor="middle" font-size="4.6" transform="rotate(-90 295.3 920.9)" fill="#3a3a3a" textLength="94.5" lengthAdjust="spacingAndGlyphs">Total_Deformation_Reported_Frequency</text><text x="307.1" y="67.6" text-anchor="middle" font-size="4.6" fill="#3a3a3a">102</text><text x="309" y="94.7" text-anchor="middle" font-size="4.6" fill="#3a3a3a">100</text><text x="309.7" y="122.3" text-anchor="middle" font-size="4.6" fill="#3a3a3a">98</text><text x="309.7" y="149.3" text-anchor="middle" font-size="4.6" fill="#3a3a3a">96</text><text x="340.5" y="169.9" text-anchor="middle" font-size="4.6" fill="#3a3a3a">0.9</text><text x="360" y="168.8" text-anchor="middle" font-size="4.6" fill="#3a3a3a">1</text><text x="380.1" y="167.7" text-anchor="middle" font-size="4.6" fill="#3a3a3a">1.1</text><text x="400.7" y="167.3" text-anchor="middle" font-size="4.6" fill="#3a3a3a">1.2</text><text x="420.6" y="166.2" text-anchor="middle" font-size="4.6" fill="#3a3a3a">1.3</text><text x="379" y="175.3" text-anchor="middle" font-size="4.6" fill="#3a3a3a">bb</text><text x="438.6" y="164.9" text-anchor="middle" font-size="4.6" fill="#3a3a3a">2.2</text><text x="443.4" y="163.4" text-anchor="middle" font-size="4.6" fill="#3a3a3a">2</text><text x="449.4" y="161.2" text-anchor="middle" font-size="4.6" fill="#3a3a3a">1.8</text><text x="455" y="159.7" text-anchor="middle" font-size="4.6" fill="#3a3a3a">1.6</text><text x="461.3" y="158.4" text-anchor="middle" font-size="4.6" fill="#3a3a3a">1.4</text><text x="449.4" y="168.8" text-anchor="middle" font-size="4.6" fill="#3a3a3a">EB</text><text x="312.2" y="337.5" text-anchor="middle" font-size="4.6" fill="#3a3a3a">102</text><text x="312.2" y="365.1" text-anchor="middle" font-size="4.6" fill="#3a3a3a">100</text><text x="312.5" y="391.1" text-anchor="middle" font-size="4.6" fill="#3a3a3a">98</text><text x="312.5" y="417.9" text-anchor="middle" font-size="4.6" fill="#3a3a3a">96</text><text x="322.1" y="440.8" text-anchor="middle" font-size="4.6" fill="#3a3a3a">2.8</text><text x="334.3" y="441.4" text-anchor="middle" font-size="4.6" fill="#3a3a3a">3</text><text x="346.2" y="442.1" text-anchor="middle" font-size="4.6" fill="#3a3a3a">3.2</text><text x="357.6" y="442.7" text-anchor="middle" font-size="4.6" fill="#3a3a3a">3.4</text><text x="369.1" y="443.3" text-anchor="middle" font-size="4.6" fill="#3a3a3a">3.6</text><text x="381.3" y="444" text-anchor="middle" font-size="4.6" fill="#3a3a3a">3.8</text><text x="394.3" y="444.7" text-anchor="middle" font-size="4.6" fill="#3a3a3a">4</text><text x="405.8" y="445.4" text-anchor="middle" font-size="4.6" fill="#3a3a3a">4.2</text><text x="417.3" y="445.9" text-anchor="middle" font-size="4.6" fill="#3a3a3a">4.4</text><text x="427.6" y="446.5" text-anchor="middle" font-size="4.6" fill="#3a3a3a">4.6</text><text x="374.8" y="451.1" text-anchor="middle" font-size="4.6" fill="#3a3a3a">bww</text><text x="434.9" y="446.5" text-anchor="middle" font-size="4.6" fill="#3a3a3a">2.2</text><text x="440.2" y="440.8" text-anchor="middle" font-size="4.6" fill="#3a3a3a">2</text><text x="448.2" y="436.2" text-anchor="middle" font-size="4.6" fill="#3a3a3a">1.8</text><text x="454.6" y="433.9" text-anchor="middle" font-size="4.6" fill="#3a3a3a">1.6</text><text x="460.8" y="430.5" text-anchor="middle" font-size="4.6" fill="#3a3a3a">1.4</text><text x="445.9" y="446.5" text-anchor="middle" font-size="4.6" fill="#3a3a3a">EB</text><text x="305" y="612.9" text-anchor="middle" font-size="4.6" fill="#3a3a3a">102</text><text x="305" y="638.7" text-anchor="middle" font-size="4.6" fill="#3a3a3a">100</text><text x="306" y="664.5" text-anchor="middle" font-size="4.6" fill="#3a3a3a">98</text><text x="306" y="690.3" text-anchor="middle" font-size="4.6" fill="#3a3a3a">96</text><text x="309.5" y="710.8" text-anchor="middle" font-size="4.6" fill="#3a3a3a">0.8</text><text x="318.5" y="711.4" text-anchor="middle" font-size="4.6" fill="#3a3a3a">0.85</text><text x="327.5" y="712" text-anchor="middle" font-size="4.6" fill="#3a3a3a">0.9</text><text x="336.5" y="712.6" text-anchor="middle" font-size="4.6" fill="#3a3a3a">0.95</text><text x="345.5" y="713.2" text-anchor="middle" font-size="4.6" fill="#3a3a3a">1</text><text x="354.5" y="713.8" text-anchor="middle" font-size="4.6" fill="#3a3a3a">1.05</text><text x="363.5" y="714.4" text-anchor="middle" font-size="4.6" fill="#3a3a3a">1.1</text><text x="372.5" y="715" text-anchor="middle" font-size="4.6" fill="#3a3a3a">1.15</text><text x="381.5" y="715.6" text-anchor="middle" font-size="4.6" fill="#3a3a3a">1.2</text><text x="390.5" y="716.2" text-anchor="middle" font-size="4.6" fill="#3a3a3a">1.25</text><text x="400" y="716.8" text-anchor="middle" font-size="4.6" fill="#3a3a3a">1.3</text><text x="409" y="717.4" text-anchor="middle" font-size="4.6" fill="#3a3a3a">1.35</text><text x="361.1" y="720" text-anchor="middle" font-size="4.6" fill="#3a3a3a">bwl</text><text x="419.2" y="716.5" text-anchor="middle" font-size="4.6" fill="#3a3a3a">2.2</text><text x="423.8" y="712.7" text-anchor="middle" font-size="4.6" fill="#3a3a3a">2</text><text x="430.5" y="708.8" text-anchor="middle" font-size="4.6" fill="#3a3a3a">1.8</text><text x="437.1" y="705" text-anchor="middle" font-size="4.6" fill="#3a3a3a">1.6</text><text x="444.2" y="702" text-anchor="middle" font-size="4.6" fill="#3a3a3a">1.4</text><text x="430" y="715.7" text-anchor="middle" font-size="4.6" fill="#3a3a3a">EB</text><text x="307.6" y="881.4" text-anchor="middle" font-size="4.6" fill="#3a3a3a">102</text><text x="307.6" y="908.1" text-anchor="middle" font-size="4.6" fill="#3a3a3a">100</text><text x="308.2" y="935.3" text-anchor="middle" font-size="4.6" fill="#3a3a3a">98</text><text x="308.2" y="962.3" text-anchor="middle" font-size="4.6" fill="#3a3a3a">96</text><text x="323.8" y="985.1" text-anchor="middle" font-size="4.6" fill="#3a3a3a">2.4</text><text x="337.9" y="985.9" text-anchor="middle" font-size="4.6" fill="#3a3a3a">2.6</text><text x="353" y="986.7" text-anchor="middle" font-size="4.6" fill="#3a3a3a">2.8</text><text x="366.7" y="987.2" text-anchor="middle" font-size="4.6" fill="#3a3a3a">3</text><text x="380.6" y="987.9" text-anchor="middle" font-size="4.6" fill="#3a3a3a">3.2</text><text x="394.6" y="988.7" text-anchor="middle" font-size="4.6" fill="#3a3a3a">3.4</text><text x="409.4" y="989.7" text-anchor="middle" font-size="4.6" fill="#3a3a3a">3.6</text><text x="423.4" y="990.5" text-anchor="middle" font-size="4.6" fill="#3a3a3a">3.8</text><text x="369.3" y="994.8" text-anchor="middle" font-size="4.6" fill="#3a3a3a">EW</text><text x="428.5" y="990.2" text-anchor="middle" font-size="4.6" fill="#3a3a3a">2.2</text><text x="434.3" y="984" text-anchor="middle" font-size="4.6" fill="#3a3a3a">2</text><text x="441.8" y="980.7" text-anchor="middle" font-size="4.6" fill="#3a3a3a">1.8</text><text x="449" y="977.5" text-anchor="middle" font-size="4.6" fill="#3a3a3a">1.6</text><text x="457" y="974.2" text-anchor="middle" font-size="4.6" fill="#3a3a3a">1.4</text><text x="441.8" y="989.4" text-anchor="middle" font-size="4.6" fill="#3a3a3a">EB</text><text x="651.7" y="3.8" text-anchor="middle" font-size="3.9" fill="#222" textLength="104" lengthAdjust="spacingAndGlyphs">MOP generated Linear Regression  of Geometry_Mass</text><text x="652.7" y="7.5" text-anchor="middle" font-size="3.9" fill="#222" textLength="63.2" lengthAdjust="spacingAndGlyphs">Coefficient of Prognosis = 100 %</text><text x="653.7" y="274.6" text-anchor="middle" font-size="3.9" fill="#222" textLength="101.9" lengthAdjust="spacingAndGlyphs">MOP generated Linear Regression  of Geometry_Mass</text><text x="654.3" y="278.3" text-anchor="middle" font-size="3.9" fill="#222" textLength="62.2" lengthAdjust="spacingAndGlyphs">Coefficient of Prognosis = 100 %</text><text x="639.5" y="552.9" text-anchor="middle" font-size="3.9" fill="#222" textLength="97.8" lengthAdjust="spacingAndGlyphs">MOP generated Linear Regression  of Geometry_Mass</text><text x="640.4" y="556.7" text-anchor="middle" font-size="3.9" fill="#222" textLength="60.7" lengthAdjust="spacingAndGlyphs">Coefficient of Prognosis = 100 %</text><text x="651.5" y="818.9" text-anchor="middle" font-size="3.9" fill="#222" textLength="102.3" lengthAdjust="spacingAndGlyphs">MOP generated Linear Regression  of Geometry_Mass</text><text x="652.2" y="822.6" text-anchor="middle" font-size="3.9" fill="#222" textLength="62.2" lengthAdjust="spacingAndGlyphs">Coefficient of Prognosis = 100 %</text><text x="580.4" y="41.9" text-anchor="middle" font-size="4.6" fill="#3a3a3a">0.9</text><text x="578.3" y="50.6" text-anchor="middle" font-size="4.6" fill="#3a3a3a">1</text><text x="576.3" y="59.2" text-anchor="middle" font-size="4.6" fill="#3a3a3a">1.1</text><text x="574.3" y="67.3" text-anchor="middle" font-size="4.6" fill="#3a3a3a">1.2</text><text x="571.8" y="76.1" text-anchor="middle" font-size="4.6" fill="#3a3a3a">1.3</text><text x="568.2" y="90" text-anchor="middle" font-size="4.6" fill="#3a3a3a">17</text><text x="571.2" y="101.8" text-anchor="middle" font-size="4.6" fill="#3a3a3a">17.5</text><text x="573.2" y="114.6" text-anchor="middle" font-size="4.6" fill="#3a3a3a">18</text><text x="575.3" y="127.3" text-anchor="middle" font-size="4.6" fill="#3a3a3a">18.5</text><text x="577.3" y="139.5" text-anchor="middle" font-size="4.6" fill="#3a3a3a">19</text><text x="579.4" y="152.1" text-anchor="middle" font-size="4.6" fill="#3a3a3a">19.5</text><text x="580.4" y="165" text-anchor="middle" font-size="4.6" fill="#3a3a3a">20</text><text x="582.4" y="177.2" text-anchor="middle" font-size="4.6" fill="#3a3a3a">20.5</text><text x="607.9" y="189.4" text-anchor="middle" font-size="4.6" fill="#3a3a3a">1.4</text><text x="631.3" y="186.4" text-anchor="middle" font-size="4.6" fill="#3a3a3a">1.6</text><text x="655.8" y="183.3" text-anchor="middle" font-size="4.6" fill="#3a3a3a">1.8</text><text x="680.3" y="179.9" text-anchor="middle" font-size="4.6" fill="#3a3a3a">2</text><text x="658.9" y="189.3" text-anchor="middle" font-size="4.6" fill="#3a3a3a">EB</text><text x="705.1" y="175.2" text-anchor="middle" font-size="4.6" fill="#c04040">2.2</text><text x="565.1" y="58.8" text-anchor="middle" font-size="4.6" transform="rotate(-90 565.1 58.8)" fill="#3a3a3a">bb</text><text x="561.5" y="134.7" text-anchor="middle" font-size="4.6" transform="rotate(77 561.5 134.7)" fill="#3a3a3a" textLength="36" lengthAdjust="spacingAndGlyphs">Geometry_Mass</text><text x="600.1" y="316.1" text-anchor="middle" font-size="4.6" fill="#3a3a3a">17</text><text x="594.4" y="327.6" text-anchor="middle" font-size="4.6" fill="#3a3a3a">17.5</text><text x="589.3" y="338.6" text-anchor="middle" font-size="4.6" fill="#3a3a3a">18</text><text x="583.6" y="350.1" text-anchor="middle" font-size="4.6" fill="#3a3a3a">18.5</text><text x="577.8" y="361.3" text-anchor="middle" font-size="4.6" fill="#3a3a3a">19</text><text x="572.5" y="372.4" text-anchor="middle" font-size="4.6" fill="#3a3a3a">19.5</text><text x="566.9" y="384" text-anchor="middle" font-size="4.6" fill="#3a3a3a">20</text><text x="562.3" y="394.7" text-anchor="middle" font-size="4.6" fill="#3a3a3a">20.5</text><text x="568.4" y="413" text-anchor="middle" font-size="4.6" fill="#3a3a3a">1.4</text><text x="589.8" y="425.3" text-anchor="middle" font-size="4.6" fill="#3a3a3a">1.6</text><text x="611.2" y="436.7" text-anchor="middle" font-size="4.6" fill="#3a3a3a">1.8</text><text x="633.1" y="447.7" text-anchor="middle" font-size="4.6" fill="#3a3a3a">2</text><text x="654.8" y="459.7" text-anchor="middle" font-size="4.6" fill="#3a3a3a">2.2</text><text x="608.2" y="443.9" text-anchor="middle" font-size="4.6" fill="#3a3a3a">EB</text><text x="569" y="350.5" text-anchor="middle" font-size="4.6" transform="rotate(-62 569 350.5)" fill="#3a3a3a" textLength="36" lengthAdjust="spacingAndGlyphs">Geometry_Mass</text><text x="611.6" y="291" text-anchor="middle" font-size="4.4" transform="rotate(-40 611.6 291)" fill="#3a3a3a">bww</text><text x="618" y="295" text-anchor="middle" font-size="4.2" transform="rotate(-38 618 295)" fill="#3a3a3a" textLength="44" lengthAdjust="spacingAndGlyphs">16.5 2.8 3.2 3.6 4 4.4 4.6</text><text x="576.8" y="602.1" text-anchor="middle" font-size="4.6" fill="#3a3a3a">17.5</text><text x="573.5" y="615.5" text-anchor="middle" font-size="4.6" fill="#3a3a3a">18</text><text x="568.9" y="629.1" text-anchor="middle" font-size="4.6" fill="#3a3a3a">18.5</text><text x="567.1" y="642.3" text-anchor="middle" font-size="4.6" fill="#3a3a3a">19</text><text x="565.1" y="656.2" text-anchor="middle" font-size="4.6" fill="#3a3a3a">19.5</text><text x="562" y="669.4" text-anchor="middle" font-size="4.6" fill="#3a3a3a">20</text><text x="560" y="682.7" text-anchor="middle" font-size="4.6" fill="#3a3a3a">20.5</text><text x="569.2" y="699" text-anchor="middle" font-size="4.6" fill="#3a3a3a">1.4</text><text x="591.6" y="705.1" text-anchor="middle" font-size="4.6" fill="#3a3a3a">1.6</text><text x="614.6" y="711.2" text-anchor="middle" font-size="4.6" fill="#3a3a3a">1.8</text><text x="637" y="716.9" text-anchor="middle" font-size="4.6" fill="#3a3a3a">2</text><text x="659.9" y="723" text-anchor="middle" font-size="4.6" fill="#3a3a3a">2.2</text><text x="614" y="718.7" text-anchor="middle" font-size="4.6" fill="#3a3a3a">EB</text><text x="552.5" y="639.7" text-anchor="middle" font-size="4.6" transform="rotate(-75 552.5 639.7)" fill="#3a3a3a" textLength="33" lengthAdjust="spacingAndGlyphs">Geometry_Mass</text><text x="575.3" y="577.5" text-anchor="middle" font-size="4.4" transform="rotate(-40 575.3 577.5)" fill="#3a3a3a">bwl</text><text x="589.5" y="580.1" text-anchor="middle" font-size="4.4" transform="rotate(-40 589.5 580.1)" fill="#3a3a3a" textLength="30" lengthAdjust="spacingAndGlyphs">1.1 1.2 1.3 0.9 0.8</text><text x="589.6" y="854.9" text-anchor="middle" font-size="4.6" fill="#3a3a3a">16.5</text><text x="585.5" y="867.8" text-anchor="middle" font-size="4.6" fill="#3a3a3a">17</text><text x="582.4" y="880.6" text-anchor="middle" font-size="4.6" fill="#3a3a3a">17.5</text><text x="582.4" y="893.2" text-anchor="middle" font-size="4.6" fill="#3a3a3a">18</text><text x="578.3" y="905.9" text-anchor="middle" font-size="4.6" fill="#3a3a3a">18.5</text><text x="575.3" y="917.9" text-anchor="middle" font-size="4.6" fill="#3a3a3a">19</text><text x="569.2" y="930.8" text-anchor="middle" font-size="4.6" fill="#3a3a3a">19.5</text><text x="567.1" y="943.4" text-anchor="middle" font-size="4.6" fill="#3a3a3a">20</text><text x="567.1" y="955.6" text-anchor="middle" font-size="4.6" fill="#3a3a3a">20.5</text><text x="581.4" y="972.9" text-anchor="middle" font-size="4.6" fill="#3a3a3a">1.4</text><text x="604.8" y="978.4" text-anchor="middle" font-size="4.6" fill="#3a3a3a">1.6</text><text x="628.9" y="983.7" text-anchor="middle" font-size="4.6" fill="#3a3a3a">1.8</text><text x="652.7" y="989.3" text-anchor="middle" font-size="4.6" fill="#3a3a3a">2</text><text x="676.6" y="994.8" text-anchor="middle" font-size="4.6" fill="#3a3a3a">2.2</text><text x="628.3" y="991.2" text-anchor="middle" font-size="4.6" fill="#3a3a3a">EB</text><text x="563" y="907.7" text-anchor="middle" font-size="4.6" transform="rotate(-75 563 907.7)" fill="#3a3a3a" textLength="36" lengthAdjust="spacingAndGlyphs">Geometry_Mass</text><text x="588.5" y="846.3" text-anchor="middle" font-size="4.4" transform="rotate(-40 588.5 846.3)" fill="#3a3a3a">EW</text><text x="603" y="845.4" text-anchor="middle" font-size="3.8" transform="rotate(-40 603 845.4)" fill="#3a3a3a" textLength="22" lengthAdjust="spacingAndGlyphs">3.6 3.2 2.8 2.4</text></g>
<g><path d="M15.7 182.7L15.7 174.5" stroke="#4040d0" stroke-width=".8"/><path d="M15.7 182.7L9.9 186" stroke="#e07010" stroke-width=".8"/><path d="M15.7 182.7L23.2 185.7" stroke="#20a080" stroke-width=".8"/><path d="M15.2 454.7L15.2 445.3" stroke="#4040d0" stroke-width=".8"/><path d="M15.2 454.7L9.1 456.9" stroke="#e07010" stroke-width=".8"/><path d="M15.2 454.7L22.4 456.4" stroke="#20a080" stroke-width=".8"/><path d="M7.5 724.4L7.5 714.4" stroke="#4040d0" stroke-width=".8"/><path d="M7.5 724.4L1.3 726.9" stroke="#e07010" stroke-width=".8"/><path d="M7.5 724.4L14.9 726" stroke="#20a080" stroke-width=".8"/><path d="M7.5 998.5L7.5 988.6" stroke="#4040d0" stroke-width=".8"/><path d="M7.5 998.5L1.3 1001" stroke="#e07010" stroke-width=".8"/><path d="M7.5 998.5L15.2 1000.7" stroke="#20a080" stroke-width=".8"/><path d="M272.6 182.1L272.6 172.8" stroke="#4040d0" stroke-width=".8"/><path d="M272.6 182.1L271.5 183.2" stroke="#e07010" stroke-width=".8"/><path d="M272.6 182.1L282.5 182.1" stroke="#20a080" stroke-width=".8"/><path d="M276.6 455.3L276.6 445.4" stroke="#4040d0" stroke-width=".8"/><path d="M276.6 455.3L275.5 456.3" stroke="#e07010" stroke-width=".8"/><path d="M276.6 455.3L286.5 455.3" stroke="#20a080" stroke-width=".8"/><path d="M268.9 725.7L268.9 716" stroke="#4040d0" stroke-width=".8"/><path d="M268.9 725.7L267.8 726.6" stroke="#e07010" stroke-width=".8"/><path d="M268.9 725.7L277.5 725.7" stroke="#20a080" stroke-width=".8"/><path d="M272.1 998.6L272.1 988" stroke="#4040d0" stroke-width=".8"/><path d="M272.1 998.6L271 999.5" stroke="#e07010" stroke-width=".8"/><path d="M272.1 998.6L281 998.6" stroke="#20a080" stroke-width=".8"/><path d="M538 181.5L535.5 190" stroke="#4040d0" stroke-width=".8"/><path d="M538 181.5L546 180.5" stroke="#e07010" stroke-width=".8"/><path d="M538 181.5L537 180.5" stroke="#20a080" stroke-width=".8"/><path d="M540 455L535.5 463" stroke="#4040d0" stroke-width=".8"/><path d="M540 455L548 458" stroke="#e07010" stroke-width=".8"/><path d="M540 455L539 454.5" stroke="#20a080" stroke-width=".8"/><path d="M529.3 725.7L527.8 733.8" stroke="#4040d0" stroke-width=".8"/><path d="M529.3 725.7L538.9 727.5" stroke="#e07010" stroke-width=".8"/><path d="M529.3 725.7L528.8 725" stroke="#20a080" stroke-width=".8"/><path d="M538.9 998.6L535.3 1007.5" stroke="#4040d0" stroke-width=".8"/><path d="M538.9 998.6L546 1000.4" stroke="#e07010" stroke-width=".8"/><path d="M538.9 998.6L538.3 998" stroke="#20a080" stroke-width=".8"/></g>
<text x="114.2" y="234.5" font-size="20" fill="#000" font-weight="bold" font-family='"Liberation Sans",Arial,sans-serif'>a</text><text x="136.2" y="234.5" font-size="15.3" fill="#000" textLength="568.3" lengthAdjust="spacingAndGlyphs" font-family='"Carlito","Liberation Sans",sans-serif'>Effect of EB and bb on the Maximum deformation, minimum natural frequency and mass</text><text x="106" y="504.8" font-size="20" fill="#000" font-weight="bold" font-family='"Liberation Sans",Arial,sans-serif'>b</text><text x="128.8" y="504.8" font-size="15.3" fill="#000" textLength="583" lengthAdjust="spacingAndGlyphs" font-family='"Carlito","Liberation Sans",sans-serif'>Effect of EB and bww on the Maximum deformation, minimum natural frequency and mass</text><text x="114.4" y="774.6" font-size="20" fill="#000" font-weight="bold" font-family='"Liberation Sans",Arial,sans-serif'>c</text><text x="134.6" y="774.6" font-size="15.3" fill="#000" textLength="575" lengthAdjust="spacingAndGlyphs" font-family='"Carlito","Liberation Sans",sans-serif'>Effect of EB and bwl on the Maximum deformation, minimum natural frequency and mass</text><text x="111" y="1055" font-size="20" fill="#000" font-weight="bold" font-family='"Liberation Sans",Arial,sans-serif'>d</text><text x="133.9" y="1055" font-size="15.3" fill="#000" textLength="572.6" lengthAdjust="spacingAndGlyphs" font-family='"Carlito","Liberation Sans",sans-serif'>Effect of EB and EW on the Maximum deformation, minimum natural frequency and mass</text>
<rect x="502.2" y="540" width="12" height="200.6" fill="#000"/><rect x="252.6" y="814.1" width="3.3" height="201.4" fill="#000"/><rect x="517.4" y="814.1" width="3.4" height="201.3" fill="#000"/>
</svg></body></html>
